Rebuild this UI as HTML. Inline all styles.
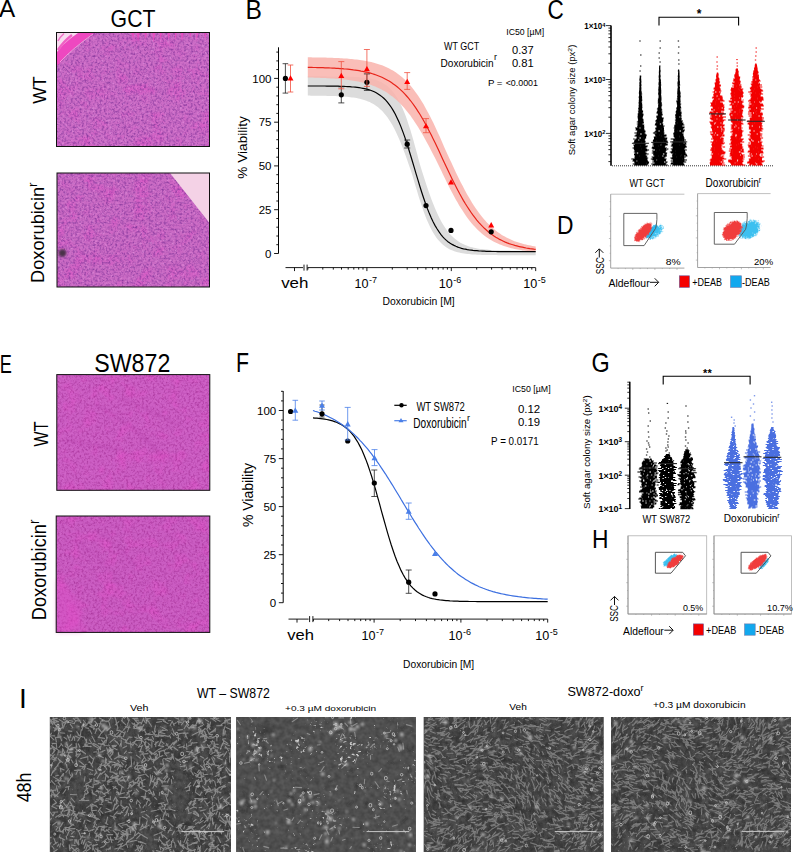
<!DOCTYPE html>
<html><head><meta charset="utf-8"><style>
html,body{margin:0;padding:0;background:#fff;width:794px;height:852px;overflow:hidden}
svg{display:block;font-family:"Liberation Sans", sans-serif}
</style></head><body>
<svg width="794" height="852" viewBox="0 0 794 852">

<defs>
<filter id="hDark" x="0" y="0" width="1" height="1" color-interpolation-filters="sRGB">
 <feTurbulence type="fractalNoise" baseFrequency="0.8" numOctaves="2" seed="3"/>
 <feColorMatrix type="matrix" values="0 0 0 0 0.58  0 0 0 0 0.3  0 0 0 0 0.7  2.2 0 0 0 -1.1"/>
 <feComposite in2="SourceGraphic" operator="in"/>
</filter>
<filter id="hLight" x="0" y="0" width="1" height="1" color-interpolation-filters="sRGB">
 <feTurbulence type="fractalNoise" baseFrequency="0.6" numOctaves="2" seed="8"/>
 <feColorMatrix type="matrix" values="0 0 0 0 0.92  0 0 0 0 0.6  0 0 0 0 0.9  0 3 0 0 -1.6"/>
 <feComposite in2="SourceGraphic" operator="in"/>
</filter>
<filter id="hPink" x="0" y="0" width="1" height="1" color-interpolation-filters="sRGB">
 <feTurbulence type="fractalNoise" baseFrequency="0.05" numOctaves="3" seed="21"/>
 <feColorMatrix type="matrix" values="0 0 0 0 0.9  0 0 0 0 0.35  0 0 0 0 0.78  0 0 2.5 0 -1.2"/>
 <feComposite in2="SourceGraphic" operator="in"/>
</filter>
<filter id="micA" x="0" y="0" width="1" height="1" color-interpolation-filters="sRGB">
 <feTurbulence type="fractalNoise" baseFrequency="0.25" numOctaves="3" seed="5" result="n"/>
 <feColorMatrix in="n" type="matrix" values="0.22 0 0 0 0.22  0.22 0 0 0 0.22  0.22 0 0 0 0.22  0 0 0 0 1" result="g"/>
 <feTurbulence type="fractalNoise" baseFrequency="0.02" numOctaves="2" seed="77" result="lo"/>
 <feTurbulence type="fractalNoise" baseFrequency="0.5" numOctaves="2" seed="12" result="n2"/>
 <feComposite in="n2" in2="lo" operator="arithmetic" k1="0" k2="1" k3="0.9" k4="0" result="sum"/>
 <feColorMatrix in="sum" type="matrix" values="0 0 0 0 0.7  0 0 0 0 0.7  0 0 0 0 0.7  0 6 0 0 -3.45" result="sp"/>
 <feComposite in="sp" in2="g" operator="over" result="c"/>
 <feComposite in="c" in2="SourceGraphic" operator="in"/>
</filter>
<filter id="micB" x="0" y="0" width="1" height="1" color-interpolation-filters="sRGB">
 <feTurbulence type="fractalNoise" baseFrequency="0.2" numOctaves="2" seed="7" result="n"/>
 <feColorMatrix in="n" type="matrix" values="0.14 0 0 0 0.24  0.14 0 0 0 0.24  0.14 0 0 0 0.24  0 0 0 0 1" result="g"/>
 <feTurbulence type="fractalNoise" baseFrequency="0.03" numOctaves="2" seed="78" result="lo"/>
 <feTurbulence type="fractalNoise" baseFrequency="0.3" numOctaves="2" seed="3" result="n2"/>
 <feComposite in="n2" in2="lo" operator="arithmetic" k1="0" k2="1" k3="0.8" k4="0" result="sum"/>
 <feColorMatrix in="sum" type="matrix" values="0 0 0 0 0.78  0 0 0 0 0.78  0 0 0 0 0.78  0 7 0 0 -4.6" result="sp"/>
 <feComposite in="sp" in2="g" operator="over" result="c"/>
 <feComposite in="c" in2="SourceGraphic" operator="in"/>
</filter>
<filter id="micC" x="0" y="0" width="1" height="1" color-interpolation-filters="sRGB">
 <feTurbulence type="fractalNoise" baseFrequency="0.3 0.22" numOctaves="3" seed="15" result="n"/>
 <feColorMatrix in="n" type="matrix" values="0.16 0 0 0 0.21  0.16 0 0 0 0.21  0.16 0 0 0 0.21  0 0 0 0 1" result="g"/>
 <feTurbulence type="fractalNoise" baseFrequency="0.5" numOctaves="2" seed="19" result="n2"/>
 <feColorMatrix in="n2" type="matrix" values="0 0 0 0 0.62  0 0 0 0 0.62  0 0 0 0 0.62  0 6 0 0 -4.2" result="sp"/>
 <feComposite in="sp" in2="g" operator="over" result="c"/>
 <feComposite in="c" in2="SourceGraphic" operator="in"/>
</filter>
<filter id="blur04" x="0" y="0" width="1" height="1"><feGaussianBlur stdDeviation="0.8"/></filter>
<filter id="blur1" x="-50%" y="-50%" width="200%" height="200%"><feGaussianBlur stdDeviation="1.2"/></filter>
<filter id="blur2" x="-50%" y="-50%" width="200%" height="200%"><feGaussianBlur stdDeviation="2.5"/></filter>
</defs>

<text x="-1" y="16.6" font-size="24.7" text-anchor="start" fill="#000" textLength="16.2" lengthAdjust="spacingAndGlyphs">A</text>
<text x="110.6" y="27.2" font-size="24.77" text-anchor="start" fill="#000" textLength="44.9" lengthAdjust="spacingAndGlyphs">GCT</text>
<filter id="hd1" x="0" y="0" width="1" height="1" color-interpolation-filters="sRGB">
 <feTurbulence type="fractalNoise" baseFrequency="0.45" numOctaves="3" seed="3"/>
 <feColorMatrix type="matrix" values="0 0 0 0 0.5  0 0 0 0 0.2  0 0 0 0 0.6  1.8 0 0 0 -0.756"/>
 <feComposite in2="SourceGraphic" operator="in"/></filter>
<filter id="hl1" x="0" y="0" width="1" height="1" color-interpolation-filters="sRGB">
 <feTurbulence type="fractalNoise" baseFrequency="0.4" numOctaves="3" seed="6"/>
 <feColorMatrix type="matrix" values="0 0 0 0 0.92  0 0 0 0 0.62  0 0 0 0 0.9  0 1.5 0 0 -0.8250000000000001"/>
 <feComposite in2="SourceGraphic" operator="in"/></filter>
<filter id="hp1" x="0" y="0" width="1" height="1" color-interpolation-filters="sRGB">
 <feTurbulence type="fractalNoise" baseFrequency="0.06" numOctaves="3" seed="9"/>
 <feColorMatrix type="matrix" values="0 0 0 0 0.9  0 0 0 0 0.3  0 0 0 0 0.78  0 0 1.4 0 -0.7"/>
 <feComposite in2="SourceGraphic" operator="in"/></filter>
<rect x="56.5" y="32.5" width="153" height="114" fill="#cc6cc6"/>
<rect x="56.5" y="32.5" width="153" height="114" fill="#000" filter="url(#hp1)"/>
<rect x="56.5" y="32.5" width="153" height="114" fill="#000" filter="url(#hd1)"/>
<rect x="56.5" y="32.5" width="153" height="114" fill="#000" filter="url(#hl1)"/>
<rect x="56.5" y="32.5" width="153" height="114" fill="url(#gA)" filter="url(#hB)" opacity="0"/>
<path d="M57,33 L94,33 L86,39 L76,47 L67,55 L59,64 L57,65 Z" fill="#ee48c0"/>
<path d="M57,33 L78,33 L71,38 L63,45 L57,52 Z" fill="#f7dcef"/>
<path d="M58,50 Q63,42 72,35" stroke="#f060c4" stroke-width="2.4" fill="none"/>
<path d="M64,33.5 Q60,37 58,41" stroke="#f070c8" stroke-width="1.6" fill="none"/>
<path d="M60,62 Q72,49 93,34" stroke="#f6c8e8" stroke-width="0.7" fill="none" opacity="0.9"/>
<path d="M131.0,33 l3.4,0 l-1.1,5.5 z M136.6,33 l3.2,0 l-1.7,8.7 z M144.6,33 l2.2,0 l-1.3,6.5 z M152.5,33 l2.8,0 l-2.0,9.8 z M159.6,33 l2.3,0 l-1.4,6.9 z M167.5,33 l2.6,0 l-1.4,7.1 z M175.0,33 l1.6,0 l-1.6,8.2 z M181.0,33 l2.6,0 l-1.7,8.5 z M189.3,33 l2.0,0 l-1.1,5.3 z M196.3,33 l1.9,0 l-1.7,8.7 z M204.4,33 l2.1,0 l-1.4,7.1 z " fill="#ec4cc0" opacity="0.85"/>
<rect x="56.5" y="32.5" width="153" height="114" fill="none" stroke="#111" stroke-width="1"/>
<filter id="hd2" x="0" y="0" width="1" height="1" color-interpolation-filters="sRGB">
 <feTurbulence type="fractalNoise" baseFrequency="0.45" numOctaves="3" seed="6"/>
 <feColorMatrix type="matrix" values="0 0 0 0 0.5  0 0 0 0 0.2  0 0 0 0 0.6  1.8 0 0 0 -0.756"/>
 <feComposite in2="SourceGraphic" operator="in"/></filter>
<filter id="hl2" x="0" y="0" width="1" height="1" color-interpolation-filters="sRGB">
 <feTurbulence type="fractalNoise" baseFrequency="0.4" numOctaves="3" seed="11"/>
 <feColorMatrix type="matrix" values="0 0 0 0 0.92  0 0 0 0 0.62  0 0 0 0 0.9  0 1.5 0 0 -0.8250000000000001"/>
 <feComposite in2="SourceGraphic" operator="in"/></filter>
<filter id="hp2" x="0" y="0" width="1" height="1" color-interpolation-filters="sRGB">
 <feTurbulence type="fractalNoise" baseFrequency="0.06" numOctaves="3" seed="16"/>
 <feColorMatrix type="matrix" values="0 0 0 0 0.9  0 0 0 0 0.3  0 0 0 0 0.78  0 0 1.4 0 -0.7"/>
 <feComposite in2="SourceGraphic" operator="in"/></filter>
<rect x="57" y="173" width="152.5" height="114" fill="#ca6ac4"/>
<rect x="57" y="173" width="152.5" height="114" fill="#000" filter="url(#hp2)"/>
<rect x="57" y="173" width="152.5" height="114" fill="#000" filter="url(#hd2)"/>
<rect x="57" y="173" width="152.5" height="114" fill="#000" filter="url(#hl2)"/>
<path d="M170,173 L209.5,173 L209.5,223 Z" fill="#f4d2e6" filter="url(#blur05)"/>
<path d="M172,173 L209.5,173 L209.5,221" fill="none" stroke="#f8e8f0" stroke-width="0"/>
<circle cx="62.5" cy="253" r="3.8" fill="#4a3048" filter="url(#blur1)"/>
<rect x="57" y="173" width="152.5" height="114" fill="none" stroke="#111" stroke-width="1"/>
<text x="46.1" y="90.1" font-size="18.17" text-anchor="middle" fill="#000" textLength="27.5" lengthAdjust="spacingAndGlyphs" transform="rotate(-90 46.1 90.1)">WT</text>
<text x="43.9" y="282.9" font-size="17.9" text-anchor="start" fill="#000" textLength="100.3" lengthAdjust="spacingAndGlyphs" transform="rotate(-90 43.9 282.9)">Doxorubicin<tspan font-size="72%" dy="-0.5em">r</tspan></text>
<text x="245.5" y="19.2" font-size="27.2" text-anchor="start" fill="#000" textLength="16.4" lengthAdjust="spacingAndGlyphs">B</text>
<path d="M307.8,76.3 L309.4,76.3 L311.1,76.3 L312.7,76.3 L314.3,76.3 L316.0,76.3 L317.6,76.3 L319.2,76.3 L320.8,76.3 L322.5,76.3 L324.1,76.3 L325.7,76.3 L327.4,76.4 L329.0,76.4 L330.6,76.4 L332.2,76.4 L333.9,76.4 L335.5,76.4 L337.1,76.4 L338.7,76.4 L340.4,76.5 L342.0,76.5 L343.6,76.5 L345.3,76.6 L346.9,76.6 L348.5,76.6 L350.1,76.7 L351.8,76.8 L353.4,76.8 L355.0,76.9 L356.7,77.0 L358.3,77.1 L359.9,77.2 L361.5,77.4 L363.2,77.5 L364.8,77.7 L366.4,78.0 L368.0,78.2 L369.7,78.5 L371.3,78.8 L372.9,79.2 L374.6,79.6 L376.2,80.1 L377.8,80.7 L379.4,81.4 L381.1,82.1 L382.7,83.0 L384.3,83.9 L386.0,85.0 L387.6,86.3 L389.2,87.7 L390.8,89.4 L392.5,91.2 L394.1,93.2 L395.7,95.5 L397.3,98.1 L399.0,101.0 L400.6,104.1 L402.2,107.6 L403.9,111.4 L405.5,115.6 L407.1,120.1 L408.7,124.9 L410.4,130.0 L412.0,135.5 L413.6,141.1 L415.2,147.0 L416.9,153.1 L418.5,159.2 L420.1,165.1 L421.8,170.4 L423.4,175.5 L425.0,180.6 L426.6,185.6 L428.3,190.4 L429.9,195.1 L431.5,199.5 L433.2,203.7 L434.8,207.8 L436.4,211.5 L438.0,215.1 L439.7,218.4 L441.3,221.4 L442.9,224.2 L444.5,226.8 L446.2,229.2 L447.8,231.4 L449.4,233.4 L451.1,235.2 L452.7,236.8 L454.3,238.3 L455.9,239.6 L457.6,240.8 L459.2,241.9 L460.8,242.9 L462.5,243.7 L464.1,244.5 L465.7,245.2 L467.3,245.8 L469.0,246.4 L470.6,246.9 L472.2,247.3 L473.8,247.7 L475.5,248.1 L477.1,248.4 L478.7,248.7 L480.4,248.9 L482.0,249.1 L483.6,249.3 L485.2,249.5 L486.9,249.6 L488.5,249.8 L490.1,249.9 L491.8,250.0 L493.4,250.1 L495.0,250.2 L496.6,250.3 L498.3,250.3 L499.9,250.4 L501.5,250.5 L503.1,250.5 L504.8,250.5 L506.4,250.6 L508.0,250.6 L509.7,250.6 L511.3,250.7 L512.9,250.7 L514.5,250.7 L516.2,250.7 L517.8,250.7 L519.4,250.8 L521.1,250.8 L522.7,250.8 L524.3,250.8 L525.9,250.8 L527.6,250.8 L529.2,250.8 L530.8,250.8 L532.4,250.8 L534.1,250.8 L535.7,250.8 L535.7,255.2 L534.1,255.2 L532.4,255.2 L530.8,255.2 L529.2,255.2 L527.6,255.2 L525.9,255.2 L524.3,255.2 L522.7,255.2 L521.1,255.2 L519.4,255.2 L517.8,255.2 L516.2,255.2 L514.5,255.2 L512.9,255.2 L511.3,255.2 L509.7,255.2 L508.0,255.2 L506.4,255.2 L504.8,255.2 L503.1,255.2 L501.5,255.2 L499.9,255.2 L498.3,255.2 L496.6,255.1 L495.0,255.1 L493.4,255.1 L491.8,255.1 L490.1,255.1 L488.5,255.0 L486.9,255.0 L485.2,255.0 L483.6,254.9 L482.0,254.9 L480.4,254.8 L478.7,254.8 L477.1,254.7 L475.5,254.6 L473.8,254.5 L472.2,254.4 L470.6,254.3 L469.0,254.1 L467.3,253.9 L465.7,253.7 L464.1,253.5 L462.5,253.2 L460.8,252.9 L459.2,252.6 L457.6,252.2 L455.9,251.7 L454.3,251.2 L452.7,250.6 L451.1,249.9 L449.4,249.2 L447.8,248.3 L446.2,247.2 L444.5,246.1 L442.9,244.8 L441.3,243.3 L439.7,241.6 L438.0,239.8 L436.4,237.7 L434.8,235.3 L433.2,232.7 L431.5,229.8 L429.9,226.6 L428.3,223.1 L426.6,219.3 L425.0,215.2 L423.4,210.8 L421.8,206.1 L420.1,201.1 L418.5,195.9 L416.9,190.6 L415.2,185.0 L413.6,179.4 L412.0,174.0 L410.4,169.2 L408.7,164.5 L407.1,159.8 L405.5,155.3 L403.9,150.9 L402.2,146.6 L400.6,142.5 L399.0,138.7 L397.3,135.0 L395.7,131.6 L394.1,128.3 L392.5,125.3 L390.8,122.5 L389.2,119.9 L387.6,117.6 L386.0,115.4 L384.3,113.4 L382.7,111.6 L381.1,109.9 L379.4,108.4 L377.8,107.1 L376.2,105.9 L374.6,104.8 L372.9,103.8 L371.3,102.9 L369.7,102.1 L368.0,101.4 L366.4,100.8 L364.8,100.2 L363.2,99.7 L361.5,99.2 L359.9,98.8 L358.3,98.5 L356.7,98.1 L355.0,97.8 L353.4,97.6 L351.8,97.4 L350.1,97.2 L348.5,97.0 L346.9,96.8 L345.3,96.7 L343.6,96.6 L342.0,96.4 L340.4,96.3 L338.7,96.3 L337.1,96.2 L335.5,96.1 L333.9,96.0 L332.2,96.0 L330.6,95.9 L329.0,95.9 L327.4,95.9 L325.7,95.8 L324.1,95.8 L322.5,95.8 L320.8,95.7 L319.2,95.7 L317.6,95.7 L316.0,95.7 L314.3,95.7 L312.7,95.7 L311.1,95.7 L309.4,95.6 L307.8,95.6 Z" fill="#dcdcdc"/>
<path d="M307.8,57.3 L309.4,57.3 L311.1,57.3 L312.7,57.4 L314.3,57.4 L316.0,57.4 L317.6,57.4 L319.2,57.5 L320.8,57.5 L322.5,57.5 L324.1,57.6 L325.7,57.6 L327.4,57.7 L329.0,57.7 L330.6,57.8 L332.2,57.8 L333.9,57.9 L335.5,58.0 L337.1,58.0 L338.7,58.1 L340.4,58.2 L342.0,58.3 L343.6,58.4 L345.3,58.5 L346.9,58.6 L348.5,58.8 L350.1,58.9 L351.8,59.1 L353.4,59.2 L355.0,59.4 L356.7,59.6 L358.3,59.8 L359.9,60.0 L361.5,60.2 L363.2,60.5 L364.8,60.8 L366.4,61.1 L368.0,61.4 L369.7,61.7 L371.3,62.1 L372.9,62.5 L374.6,62.9 L376.2,63.4 L377.8,63.9 L379.4,64.4 L381.1,65.0 L382.7,65.6 L384.3,66.2 L386.0,66.9 L387.6,67.7 L389.2,68.5 L390.8,69.4 L392.5,70.3 L394.1,71.3 L395.7,72.3 L397.3,73.5 L399.0,74.7 L400.6,76.0 L402.2,77.3 L403.9,78.8 L405.5,80.3 L407.1,82.0 L408.7,83.7 L410.4,85.5 L412.0,87.5 L413.6,89.5 L415.2,91.7 L416.9,93.9 L418.5,96.3 L420.1,98.8 L421.8,101.4 L423.4,104.1 L425.0,106.9 L426.6,109.9 L428.3,112.9 L429.9,116.0 L431.5,119.3 L433.2,122.6 L434.8,126.0 L436.4,129.5 L438.0,133.0 L439.7,136.6 L441.3,140.3 L442.9,144.0 L444.5,147.7 L446.2,151.4 L447.8,155.1 L449.4,158.6 L451.1,162.1 L452.7,165.6 L454.3,169.1 L455.9,172.5 L457.6,175.9 L459.2,179.2 L460.8,182.4 L462.5,185.6 L464.1,188.7 L465.7,191.8 L467.3,194.7 L469.0,197.5 L470.6,200.3 L472.2,202.9 L473.8,205.5 L475.5,208.0 L477.1,210.3 L478.7,212.6 L480.4,214.7 L482.0,216.8 L483.6,218.8 L485.2,220.6 L486.9,222.4 L488.5,224.1 L490.1,225.7 L491.8,227.2 L493.4,228.6 L495.0,230.0 L496.6,231.3 L498.3,232.5 L499.9,233.6 L501.5,234.7 L503.1,235.7 L504.8,236.6 L506.4,237.5 L508.0,238.3 L509.7,239.1 L511.3,239.8 L512.9,240.5 L514.5,241.2 L516.2,241.8 L517.8,242.3 L519.4,242.8 L521.1,243.3 L522.7,243.8 L524.3,244.2 L525.9,244.6 L527.6,245.0 L529.2,245.3 L530.8,245.6 L532.4,245.9 L534.1,246.2 L535.7,246.5 L535.7,251.8 L534.1,251.7 L532.4,251.5 L530.8,251.4 L529.2,251.2 L527.6,251.0 L525.9,250.8 L524.3,250.6 L522.7,250.4 L521.1,250.1 L519.4,249.8 L517.8,249.6 L516.2,249.2 L514.5,248.9 L512.9,248.6 L511.3,248.2 L509.7,247.7 L508.0,247.3 L506.4,246.8 L504.8,246.3 L503.1,245.7 L501.5,245.1 L499.9,244.5 L498.3,243.8 L496.6,243.1 L495.0,242.3 L493.4,241.4 L491.8,240.5 L490.1,239.6 L488.5,238.6 L486.9,237.5 L485.2,236.3 L483.6,235.0 L482.0,233.7 L480.4,232.3 L478.7,230.8 L477.1,229.2 L475.5,227.6 L473.8,225.8 L472.2,223.9 L470.6,222.0 L469.0,219.9 L467.3,217.7 L465.7,215.5 L464.1,213.1 L462.5,210.6 L460.8,208.1 L459.2,205.4 L457.6,202.6 L455.9,199.8 L454.3,196.8 L452.7,193.8 L451.1,190.7 L449.4,187.5 L447.8,184.3 L446.2,181.0 L444.5,177.6 L442.9,174.2 L441.3,170.8 L439.7,167.4 L438.0,164.1 L436.4,160.8 L434.8,157.6 L433.2,154.4 L431.5,151.2 L429.9,148.1 L428.3,145.0 L426.6,142.0 L425.0,139.0 L423.4,136.1 L421.8,133.2 L420.1,130.5 L418.5,127.8 L416.9,125.2 L415.2,122.7 L413.6,120.2 L412.0,117.9 L410.4,115.6 L408.7,113.5 L407.1,111.4 L405.5,109.4 L403.9,107.5 L402.2,105.7 L400.6,104.0 L399.0,102.3 L397.3,100.8 L395.7,99.3 L394.1,97.9 L392.5,96.6 L390.8,95.4 L389.2,94.2 L387.6,93.1 L386.0,92.1 L384.3,91.1 L382.7,90.2 L381.1,89.3 L379.4,88.5 L377.8,87.7 L376.2,87.0 L374.6,86.3 L372.9,85.7 L371.3,85.1 L369.7,84.6 L368.0,84.1 L366.4,83.6 L364.8,83.1 L363.2,82.7 L361.5,82.3 L359.9,82.0 L358.3,81.6 L356.7,81.3 L355.0,81.0 L353.4,80.7 L351.8,80.5 L350.1,80.2 L348.5,80.0 L346.9,79.8 L345.3,79.6 L343.6,79.4 L342.0,79.2 L340.4,79.1 L338.7,78.9 L337.1,78.8 L335.5,78.7 L333.9,78.6 L332.2,78.5 L330.6,78.4 L329.0,78.3 L327.4,78.2 L325.7,78.1 L324.1,78.0 L322.5,77.9 L320.8,77.9 L319.2,77.8 L317.6,77.8 L316.0,77.7 L314.3,77.7 L312.7,77.6 L311.1,77.6 L309.4,77.5 L307.8,77.5 Z" fill="#f9b3ab" opacity="0.85"/>
<path d="M307.8,86 L309.7,86 L311.6,86 L313.5,86 L315.4,86 L317.3,86 L319.2,86 L321.1,86 L323,86 L324.9,86 L326.8,86.1 L328.7,86.1 L330.6,86.1 L332.5,86.1 L334.4,86.2 L336.3,86.2 L338.2,86.2 L340.1,86.3 L342,86.4 L343.9,86.4 L345.8,86.5 L347.7,86.6 L349.6,86.7 L351.5,86.9 L353.4,87 L355.3,87.2 L357.2,87.4 L359.1,87.7 L361,88 L362.9,88.3 L364.8,88.7 L366.7,89.2 L368.6,89.7 L370.5,90.3 L372.4,91 L374.3,91.8 L376.2,92.8 L378.1,93.9 L380,95.2 L381.9,96.6 L383.8,98.3 L385.7,100.2 L387.6,102.3 L389.5,104.8 L391.4,107.5 L393.3,110.6 L395.2,114 L397.1,117.9 L399,122.1 L400.9,126.6 L402.8,131.6 L404.7,136.9 L406.6,142.6 L408.5,148.5 L410.4,154.7 L412.3,161 L414.2,167.4 L416.1,173.8 L418,180.2 L419.9,186.5 L421.8,192.5 L423.7,198.3 L425.6,203.8 L427.5,208.9 L429.4,213.6 L431.3,218 L433.2,222 L435.1,225.6 L437,228.8 L438.9,231.7 L440.8,234.3 L442.6,236.6 L444.5,238.6 L446.4,240.4 L448.3,241.9 L450.2,243.3 L452.1,244.4 L454,245.4 L455.9,246.3 L457.8,247.1 L459.7,247.7 L461.6,248.3 L463.5,248.8 L465.4,249.2 L467.3,249.6 L469.2,249.9 L471.1,250.1 L473,250.4 L474.9,250.6 L476.8,250.7 L478.7,250.9 L480.6,251 L482.5,251.1 L484.4,251.2 L486.3,251.3 L488.2,251.3 L490.1,251.4 L492,251.5 L493.9,251.5 L495.8,251.5 L497.7,251.6 L499.6,251.6 L501.5,251.6 L503.4,251.6 L505.3,251.7 L507.2,251.7 L509.1,251.7 L511,251.7 L512.9,251.7 L514.8,251.7 L516.7,251.7 L518.6,251.7 L520.5,251.7 L522.4,251.7 L524.3,251.7 L526.2,251.7 L528.1,251.7 L530,251.7 L531.9,251.7 L533.8,251.7 L535.7,251.7" stroke="#000" stroke-width="1.2" fill="none"/>
<path d="M307.8,67.4 L309.7,67.4 L311.6,67.4 L313.5,67.5 L315.4,67.5 L317.3,67.6 L319.2,67.6 L321.1,67.7 L323,67.7 L324.9,67.8 L326.8,67.9 L328.7,67.9 L330.6,68 L332.5,68.1 L334.4,68.2 L336.3,68.3 L338.2,68.4 L340.1,68.6 L342,68.7 L343.9,68.9 L345.8,69 L347.7,69.2 L349.6,69.4 L351.5,69.6 L353.4,69.9 L355.3,70.1 L357.2,70.4 L359.1,70.7 L361,71.1 L362.9,71.4 L364.8,71.8 L366.7,72.3 L368.6,72.7 L370.5,73.2 L372.4,73.8 L374.3,74.4 L376.2,75 L378.1,75.7 L380,76.5 L381.9,77.3 L383.8,78.2 L385.7,79.2 L387.6,80.2 L389.5,81.3 L391.4,82.6 L393.3,83.9 L395.2,85.3 L397.1,86.8 L399,88.4 L400.9,90.1 L402.8,91.9 L404.7,93.9 L406.6,96 L408.5,98.2 L410.4,100.5 L412.3,103 L414.2,105.6 L416.1,108.4 L418,111.3 L419.9,114.3 L421.8,117.5 L423.7,120.8 L425.6,124.2 L427.5,127.7 L429.4,131.4 L431.3,135.1 L433.2,138.9 L435.1,142.8 L437,146.8 L438.9,150.8 L440.8,154.9 L442.6,158.9 L444.5,163 L446.4,167 L448.3,171.1 L450.2,175 L452.1,179 L454,182.8 L455.9,186.6 L457.8,190.2 L459.7,193.8 L461.6,197.2 L463.5,200.6 L465.4,203.8 L467.3,206.8 L469.2,209.7 L471.1,212.5 L473,215.2 L474.9,217.7 L476.8,220.1 L478.7,222.3 L480.6,224.4 L482.5,226.4 L484.4,228.3 L486.3,230 L488.2,231.7 L490.1,233.2 L492,234.6 L493.9,235.9 L495.8,237.2 L497.7,238.3 L499.6,239.4 L501.5,240.3 L503.4,241.2 L505.3,242.1 L507.2,242.9 L509.1,243.6 L511,244.2 L512.9,244.8 L514.8,245.4 L516.7,245.9 L518.6,246.4 L520.5,246.8 L522.4,247.2 L524.3,247.6 L526.2,248 L528.1,248.3 L530,248.6 L531.9,248.8 L533.8,249.1 L535.7,249.3" stroke="#e8241a" stroke-width="1.2" fill="none"/>
<path d="M278.5,47.3 V253.5" stroke="#000" stroke-width="1" fill="none"/>
<path d="M274.1,253.5 H278.5 M276.3,244.7 H278.5 M276.3,236 H278.5 M276.3,227.2 H278.5 M276.3,218.5 H278.5 M274.1,209.7 H278.5 M276.3,201 H278.5 M276.3,192.2 H278.5 M276.3,183.5 H278.5 M276.3,174.7 H278.5 M274.1,165.9 H278.5 M276.3,157.2 H278.5 M276.3,148.4 H278.5 M276.3,139.7 H278.5 M276.3,130.9 H278.5 M274.1,122.2 H278.5 M276.3,113.4 H278.5 M276.3,104.7 H278.5 M276.3,95.9 H278.5 M276.3,87.2 H278.5 M274.1,78.4 H278.5 M276.3,69.6 H278.5 M276.3,60.9 H278.5 M276.3,52.1 H278.5 " stroke="#000" stroke-width="0.9" fill="none"/>
<text x="271.5" y="257.7" font-size="11.5" text-anchor="end" fill="#000">0</text>
<text x="271.5" y="213.9" font-size="11.5" text-anchor="end" fill="#000">25</text>
<text x="271.5" y="170.1" font-size="11.5" text-anchor="end" fill="#000">50</text>
<text x="271.5" y="126.4" font-size="11.5" text-anchor="end" fill="#000">75</text>
<text x="271.5" y="82.6" font-size="11.5" text-anchor="end" fill="#000">100</text>
<path d="M285.5,267.6 H303 M307.6,267.6 H535.6 M294.5,267.6 v3.5 M304,264.6 v6 M307.1,264.6 v6 M307.9,267.6 v2 M322.8,267.6 v2 M333.3,267.6 v2 M341.5,267.6 v2 M348.2,267.6 v2 M353.8,267.6 v2 M358.7,267.6 v2 M363,267.6 v2 M366.9,267.6 v3.5 M392.3,267.6 v2 M407.2,267.6 v2 M417.7,267.6 v2 M425.9,267.6 v2 M432.6,267.6 v2 M438.2,267.6 v2 M443.1,267.6 v2 M447.4,267.6 v2 M451.3,267.6 v3.5 M476.7,267.6 v2 M491.6,267.6 v2 M502.1,267.6 v2 M510.3,267.6 v2 M517,267.6 v2 M522.6,267.6 v2 M527.5,267.6 v2 M531.8,267.6 v2 M535.7,267.6 v3.5 " stroke="#000" stroke-width="0.9" fill="none"/>
<path d="M285.4,63.7 V93.1 M282.6,63.7 H288.2 M282.6,93.1 H288.2" stroke="#222" stroke-width="0.8" fill="none"/>
<circle cx="285.4" cy="78.4" r="2.6" fill="#000"/>
<path d="M290.5,65 V92 M287.7,65 H293.3 M287.7,92 H293.3" stroke="#f05040" stroke-width="0.8" fill="none"/>
<path d="M290.5,75.2 L293.5,80.5 L287.5,80.5 Z" fill="#f00"/>
<path d="M341.3,86.8 V102.9 M338.3,86.8 H344.3 M338.3,102.9 H344.3" stroke="#222" stroke-width="0.8" fill="none"/>
<circle cx="341.3" cy="94.8" r="2.6" fill="#000"/>
<path d="M341.3,61.6 V88.8 M338.3,61.6 H344.3 M338.3,88.8 H344.3" stroke="#f05040" stroke-width="0.8" fill="none"/>
<path d="M341.3,72.7 L344.3,78 L338.3,78 Z" fill="#f00"/>
<path d="M366.9,73.9 V90.4 M363.9,73.9 H369.9 M363.9,90.4 H369.9" stroke="#222" stroke-width="0.8" fill="none"/>
<circle cx="366.9" cy="82.3" r="2.6" fill="#000"/>
<path d="M366.9,49.5 V86.4 M363.9,49.5 H369.9 M363.9,86.4 H369.9" stroke="#f05040" stroke-width="0.8" fill="none"/>
<path d="M366.9,66 L369.9,71.3 L363.9,71.3 Z" fill="#f00"/>
<path d="M407.2,72.6 V89.4 M404.2,72.6 H410.2 M404.2,89.4 H410.2" stroke="#f05040" stroke-width="0.8" fill="none"/>
<path d="M407.2,78.7 L410.2,84 L404.2,84 Z" fill="#f00"/>
<path d="M407.2,140 V148 M404.2,140 H410.2 M404.2,148 H410.2" stroke="#222" stroke-width="0.8" fill="none"/>
<circle cx="407.2" cy="144.2" r="2.6" fill="#000"/>
<path d="M426,118.6 V132.7 M423,118.6 H429 M423,132.7 H429" stroke="#f05040" stroke-width="0.8" fill="none"/>
<path d="M426,123 L429,128.3 L423,128.3 Z" fill="#f00"/>
<circle cx="426" cy="205.6" r="2.6" fill="#000"/>
<path d="M451,179.2 L454,184.5 L448,184.5 Z" fill="#f00"/>
<circle cx="451" cy="230.4" r="2.6" fill="#000"/>
<path d="M491.2,222.1 L494.2,227.4 L488.2,227.4 Z" fill="#f00"/>
<circle cx="491.2" cy="231.8" r="2.6" fill="#000"/>
<text x="294.8" y="288.1" font-size="14.85" text-anchor="middle" fill="#000" textLength="27.3" lengthAdjust="spacingAndGlyphs">veh</text>
<text x="354.4" y="288.4" font-size="12.6" text-anchor="start" fill="#000">10</text>
<text x="368.9" y="283" font-size="9" text-anchor="start" fill="#000">-7</text>
<text x="438.8" y="288.4" font-size="12.6" text-anchor="start" fill="#000">10</text>
<text x="453.3" y="283" font-size="9" text-anchor="start" fill="#000">-6</text>
<text x="523.2" y="288.4" font-size="12.6" text-anchor="start" fill="#000">10</text>
<text x="537.7" y="283" font-size="9" text-anchor="start" fill="#000">-5</text>
<text x="382.6" y="304.5" font-size="10.8" text-anchor="start" fill="#000" textLength="72.1" lengthAdjust="spacingAndGlyphs">Doxorubicin [M]</text>
<text x="506.3" y="34.5" font-size="8.6" text-anchor="start" fill="#000" textLength="37.9" lengthAdjust="spacingAndGlyphs">IC50 [&#181;M]</text>
<text x="444.1" y="50.2" font-size="11.83" text-anchor="start" fill="#000" textLength="35.1" lengthAdjust="spacingAndGlyphs">WT GCT</text>
<text x="512" y="54.1" font-size="10.5" text-anchor="start" fill="#000" textLength="21.6" lengthAdjust="spacingAndGlyphs">0.37</text>
<text x="440.5" y="67" font-size="11.67" text-anchor="start" fill="#000" textLength="53.2" lengthAdjust="spacingAndGlyphs">Doxorubicin</text>
<text x="494" y="59.5" font-size="9" text-anchor="start" fill="#000">r</text>
<text x="511.9" y="67.1" font-size="10.5" text-anchor="start" fill="#000" textLength="21.8" lengthAdjust="spacingAndGlyphs">0.81</text>
<text x="487.9" y="86.4" font-size="9.8" text-anchor="start" fill="#000" textLength="14.6" lengthAdjust="spacingAndGlyphs">P =</text>
<text x="505.7" y="85.7" font-size="9.8" text-anchor="start" fill="#000" textLength="32.3" lengthAdjust="spacingAndGlyphs">&lt;0.0001</text>
<text x="247" y="147.4" font-size="13.63" text-anchor="middle" fill="#000" textLength="62.6" lengthAdjust="spacingAndGlyphs" transform="rotate(-90 247 147.4)">% Viability</text>
<text x="547.6" y="19.2" font-size="27.58" text-anchor="start" fill="#000" textLength="16.3" lengthAdjust="spacingAndGlyphs">C</text>
<path d="M659,25.6 V17.2 H738.6 V25.6" stroke="#000" stroke-width="1.1" fill="none"/>
<text x="699" y="18" font-size="12" text-anchor="middle" fill="#000" font-weight="bold">*</text>
<path d="M611,25.4 V165.8" stroke="#000" stroke-width="1.6" fill="none"/>
<path d="M608.4,161.6 H611 M608.4,154.8 H611 M608.4,149.6 H611 M608.4,145.4 H611 M608.4,141.7 H611 M608.4,138.6 H611 M608.4,135.9 H611 M606,133.4 H611 M608.4,117.2 H611 M608.4,107.7 H611 M608.4,100.9 H611 M608.4,95.7 H611 M608.4,91.5 H611 M608.4,87.8 H611 M608.4,84.7 H611 M608.4,82 H611 M606,79.5 H611 M608.4,63.3 H611 M608.4,53.8 H611 M608.4,47 H611 M608.4,41.8 H611 M608.4,37.6 H611 M608.4,33.9 H611 M608.4,30.8 H611 M608.4,28.1 H611 M606,25.6 H611 " stroke="#000" stroke-width="0.8" fill="none"/>
<text x="605.4" y="29.4" font-size="8.6" text-anchor="end" fill="#000" font-weight="bold" textLength="21.2" lengthAdjust="spacingAndGlyphs">1&#215;10<tspan font-size="72%" dy="-0.45em">4</tspan></text>
<text x="605.4" y="83.3" font-size="8.6" text-anchor="end" fill="#000" font-weight="bold" textLength="21.2" lengthAdjust="spacingAndGlyphs">1&#215;10<tspan font-size="72%" dy="-0.45em">3</tspan></text>
<text x="605.4" y="137.2" font-size="8.6" text-anchor="end" fill="#000" font-weight="bold" textLength="21.2" lengthAdjust="spacingAndGlyphs">1&#215;10<tspan font-size="72%" dy="-0.45em">2</tspan></text>
<text x="574.8" y="100" font-size="8.15" text-anchor="middle" fill="#000" textLength="110.7" lengthAdjust="spacingAndGlyphs" transform="rotate(-90 574.8 100)">Soft agar colony size (px<tspan font-size="72%" dy="-0.5em">2</tspan><tspan dy="0.36em">)</tspan></text>
<path d="M612,165.8 H773.5" stroke="#333" stroke-width="1" stroke-dasharray="1,1" fill="none"/>
<path d="M639.3,41 h1.4 M640.1,55 h1.4 M640,66 h1.4 M639.4,71 h1.4 " stroke="#000" stroke-width="1" fill="none"/>
<path d="M639.7,76 h1.5 M639.7,77 h1.6 M639.6,78 h1.4 M639.4,79 h1.9 M639.3,80 h1.9 M639.6,81 h1.8 M639.7,82 h1.7 M639.1,83 h2.2 M639.6,84 h1.6 M639.2,85 h2.4 M639.4,86 h1.9 M639.4,87 h1.8 M639.3,88 h2.2 M639.2,89 h2.1 M639.3,90 h2.1 M639,91 h2.3 M639,92 h2.9 M638.8,93 h2.8 M639,94 h3.2 M639.1,95 h2.4 M639,96 h3.1 M638.6,97 h3.4 M638.8,98 h3.4 M639,99 h2.9 M638.8,100 h3.6 M638.8,101 h3.3 M638.8,102 h2.8 M638.4,103 h3.8 M638.9,104 h3.1 M638.6,105 h3.9 M638.6,106 h3.5 M638.7,107 h3.8 M638.4,108 h3.9 M638,109 h4 M638.8,110 h3.5 M637.9,111 h2.9 M640.8,111 h2.3 M638.4,112 h4.7 M638.2,113 h4.3 M637.6,114 h3.1 M640.7,114 h2.7 M637.9,115 h4.6 M642.5,115 h1.1 M637.6,116 h1.7 M639.3,116 h3.5 M642.8,116 h0.3 M637.6,117 h3.4 M641,117 h1.9 M637.7,118 h4.8 M637.9,119 h4.5 M642.4,119 h0.8 M638.1,120 h3.9 M641.9,120 h1.6 M643.5,120 h0.2 M637.8,121 h2.7 M640.5,121 h2.1 M642.6,121 h0.7 M636.8,122 h2.6 M639.4,122 h1.6 M641,122 h2.8 M638.1,123 h3.3 M641.4,123 h2.5 M636.8,124 h2 M638.8,124 h2.1 M640.9,124 h1.7 M637.9,125 h4.3 M642.2,125 h2.1 M637,126 h2.6 M639.6,126 h1.7 M641.3,126 h2.7 M637.4,127 h2.6 M640,127 h4.1 M644.1,127 h0.4 M635.1,128 h4.4 M640.5,128 h2.1 M642.6,128 h1.5 M636,129 h2.7 M638.7,129 h3.9 M642.6,129 h1.7 M635.5,130 h3.2 M638.7,130 h4.6 M643.3,130 h1.3 M637.2,131 h4.2 M641.4,131 h2.2 M643.6,131 h1.9 M636.8,132 h3.9 M640.7,132 h4.8 M634.4,133 h2.1 M636.4,133 h2.2 M638.7,133 h3.6 M642.3,133 h2.4 M636.6,134 h3.6 M641.7,134 h2 M643.7,134 h1.9 M645.5,134 h0.2 M635.5,135 h2.7 M638.2,135 h4.2 M642.4,135 h3.5 M645.9,135 h0.9 M634.5,136 h4.7 M639.3,136 h2.5 M641.7,136 h4.4 M646.1,136 h0.4 M636.6,137 h1.6 M638.3,137 h5 M643.2,137 h1.9 M645.1,137 h0.9 M636.6,138 h2.8 M640.9,138 h2.5 M643.5,138 h2.7 M633.2,139 h1.5 M635.5,139 h3.6 M639,139 h2.6 M641.6,139 h3.7 M634.6,140 h3.7 M639.3,140 h3.9 M643.2,140 h1.6 M634.1,141 h1.8 M635.9,141 h4.9 M640.8,141 h3.8 M644.6,141 h0.8 M634.1,142 h2.6 M636.7,142 h4.6 M641.4,142 h2.7 M644,142 h1.7 M633.2,143 h2.4 M635.6,143 h3.4 M639,143 h1.8 M640.8,143 h2.5 M643.3,143 h1.6 M634.8,144 h4.3 M639.1,144 h4.8 M643.9,144 h2.2 M633.3,145 h3.3 M636.6,145 h2.5 M639.1,145 h2 M641.1,145 h1.6 M642.7,145 h2.6 M633.9,146 h4.1 M638,146 h2.1 M640.2,146 h2.1 M642.2,146 h3.8 M646.1,146 h1.7 M633.9,147 h4.5 M638.4,147 h2.9 M641.3,147 h2.4 M643.7,147 h3.5 M632.5,148 h2.7 M635.2,148 h1.9 M637.1,148 h4.4 M641.5,148 h2.9 M644.4,148 h1.4 M633.8,149 h3.8 M637.5,149 h3.9 M641.5,149 h2.3 M643.8,149 h3.2 M647,149 h0.1 M634.1,150 h2.5 M636.5,150 h1.7 M638.2,150 h3.3 M641.5,150 h2.1 M643.5,150 h4.6 M648.1,150 h1 M634.7,151 h4.1 M638.8,151 h4.5 M643.3,151 h4 M633.8,152 h2.3 M636.1,152 h4.2 M640.2,152 h3.9 M644.1,152 h1.4 M635.2,153 h1.6 M638.2,153 h3.7 M641.9,153 h4.7 M634,154 h3.8 M637.9,154 h3.1 M640.9,154 h4.9 M645.8,154 h2.9 M634,155 h1.9 M635.9,155 h4.9 M640.8,155 h3.6 M644.4,155 h1.4 M635,156 h1.5 M636.5,156 h3 M639.6,156 h3.7 M643.3,156 h4 M634.3,157 h2.5 M636.7,157 h2.4 M639.1,157 h4.3 M643.4,157 h3.4 M634.7,158 h4.2 M638.9,158 h2.8 M641.7,158 h1.9 M643.6,158 h1.9 M645.5,158 h2.7 M631.3,159 h3.3 M634.6,159 h2.6 M637.2,159 h2.7 M639.9,159 h1.5 M641.4,159 h3.1 M644.5,159 h2.8 M633.1,160 h3.8 M636.9,160 h2.2 M639.1,160 h2.5 M641.5,160 h4.6 M646.1,160 h1.5 M632.4,161 h4.1 M637.3,161 h2.1 M639.4,161 h3.4 M642.8,161 h1.5 M644.3,161 h3 M647.3,161 h0.6 M634.2,162 h4.1 M638.3,162 h4.1 M642.4,162 h3.8 M646.2,162 h2.9 M634.5,163 h4.2 M638.8,163 h4.2 M642.9,163 h3.6 M646.6,163 h2.3 M632.7,164 h2 M634.8,164 h3.2 M638,164 h1.7 M639.6,164 h4.1 M643.7,164 h2.7 M646.5,164 h1.6 M648.1,164 h0.3 M634.3,165 h3.6 M638,165 h2.2 M640.2,165 h2.4 M642.6,165 h4.4 M647,165 h0.5 " stroke="#000" stroke-width="1.05" fill="none"/>
<path d="M631.9,143.3 h17" stroke="#2a2a2a" stroke-width="1.1" fill="none"/>
<path d="M659.5,41 h1.4 M659.5,48 h1.4 M658.5,53 h1.4 M658.5,58 h1.4 M659.4,62 h1.4 " stroke="#000" stroke-width="1" fill="none"/>
<path d="M659.1,66 h1.4 M659.1,67 h1.2 M659,68 h1.4 M659,69 h1.3 M659.1,70 h1.4 M658.9,71 h1.8 M658.9,72 h1.6 M658.8,73 h1.5 M659,74 h1.4 M658.8,75 h1.6 M658.7,76 h2.1 M658.6,77 h1.9 M658.8,78 h1.6 M658.8,79 h1.7 M658.6,80 h2.4 M659,81 h1.8 M658.6,82 h2.4 M658.6,83 h2.5 M658.4,84 h2.5 M658.6,85 h2.7 M658.8,86 h2.1 M658.4,87 h2.6 M658.5,88 h2.5 M658.3,89 h2.9 M658.2,90 h2.9 M658.4,91 h3 M658.4,92 h2.7 M658.2,93 h3.2 M658.1,94 h2.9 M658.4,95 h2.8 M658.6,96 h2.7 M658.5,97 h2.9 M658.5,98 h3 M657.9,99 h3.6 M658.1,100 h3.4 M657.7,101 h3.6 M658.1,102 h3.2 M657.7,103 h4.3 M658.4,104 h3.2 M658,105 h4.2 M658.2,106 h3.5 M658.1,107 h3.4 M657.6,108 h3.8 M656.9,109 h4.9 M657.7,110 h4.6 M657.2,111 h4.4 M656.8,112 h4 M660.8,112 h1.7 M656.4,113 h4.8 M661.3,113 h0.7 M657.6,114 h2 M659.6,114 h3 M657.9,115 h4.8 M656.5,116 h2.7 M659.2,116 h2.5 M656.2,117 h3.1 M659.2,117 h2.7 M656.7,118 h4 M660.7,118 h2.3 M663,118 h0.7 M657,119 h1.9 M658.9,119 h2.9 M661.8,119 h1.7 M656,120 h1.6 M657.6,120 h2 M659.6,120 h1.6 M661.2,120 h1.8 M663,120 h0.1 M655.1,121 h3.1 M658.2,121 h3.6 M661.7,121 h1.7 M656.2,122 h3.3 M659.6,122 h1.6 M661.2,122 h1.7 M655.6,123 h2.1 M657.8,123 h2.3 M660,123 h2.4 M655.1,124 h4.7 M661.1,124 h2.2 M654.8,125 h3 M657.8,125 h2.1 M659.9,125 h3.1 M656.3,126 h3.6 M659.9,126 h4.7 M656.5,127 h1.9 M658.4,127 h4.4 M662.8,127 h0.8 M655.4,128 h2.2 M657.6,128 h1.8 M659.4,128 h2.8 M662.2,128 h1.8 M663.9,128 h0 M655.2,129 h4.1 M659.3,129 h1.9 M661.3,129 h1.8 M663,129 h1 M656.1,130 h4.2 M660.3,130 h3.2 M663.5,130 h0.4 M655.2,131 h3.2 M659.8,131 h4.5 M654.4,132 h3.2 M657.6,132 h3 M660.6,132 h3.2 M652.9,133 h2.7 M656.2,133 h3 M659.2,133 h1.8 M661,133 h3.6 M654.5,134 h2.3 M656.8,134 h3.9 M660.7,134 h3.2 M655.1,135 h4.1 M659.3,135 h3.3 M662.6,135 h2.4 M665,135 h1.5 M655.4,136 h4.2 M659.6,136 h2 M661.7,136 h1.6 M663.3,136 h3.2 M653.7,137 h2.9 M656.7,137 h4.8 M661.4,137 h3.2 M665.4,137 h0.2 M654,138 h2.3 M656.3,138 h2.9 M659.2,138 h4.9 M664.1,138 h1.5 M665.7,138 h1.6 M654,139 h1.6 M655.6,139 h4.1 M659.6,139 h4.7 M664.3,139 h1.9 M666.1,139 h1 M653,140 h2.2 M655.2,140 h2 M657.2,140 h3 M660.2,140 h3.5 M663.7,140 h2.2 M666.4,140 h0.5 M652.8,141 h4.1 M657,141 h3.9 M660.8,141 h2.4 M663.3,141 h1.6 M664.9,141 h2.6 M653.2,142 h2.9 M656.1,142 h4.3 M660.4,142 h2 M662.4,142 h2.8 M665.2,142 h2.5 M667.7,142 h0.1 M652.4,143 h3 M655.4,143 h2.6 M658,143 h3.2 M661.2,143 h4.7 M665.9,143 h0.4 M653.4,144 h3.8 M657.1,144 h4.4 M661.6,144 h3.7 M665.3,144 h2.5 M652.5,145 h2.6 M655.1,145 h3.1 M658.2,145 h2.5 M661.2,145 h4.4 M665.5,145 h2.1 M653.8,146 h2.1 M655.8,146 h2.5 M658.4,146 h4.7 M663.1,146 h2.3 M652.1,147 h2.3 M654.4,147 h3.9 M658.3,147 h2.7 M661,147 h2.3 M663.3,147 h1.6 M651.6,148 h4.6 M656.1,148 h3.3 M659.4,148 h4.8 M664.2,148 h2.7 M652.5,149 h4.9 M657.4,149 h3.7 M661.1,149 h2.8 M663.9,149 h2.1 M666.8,149 h1.6 M655,150 h1.9 M656.9,150 h2.7 M659.7,150 h4.7 M664.4,150 h2.8 M651.9,151 h4.4 M656.4,151 h2.5 M658.9,151 h2 M660.9,151 h4.7 M665.6,151 h0.3 M653.2,152 h2.4 M655.6,152 h2.4 M658,152 h3.6 M661.6,152 h2.8 M664.4,152 h1.3 M651.8,153 h4.2 M656,153 h3.3 M659.3,153 h2.7 M662,153 h3.6 M665.6,153 h1.6 M653.3,154 h2.6 M655.9,154 h3.6 M659.5,154 h3.4 M664.4,154 h2.4 M653.1,155 h1.7 M654.8,155 h5 M659.8,155 h4.8 M664.6,155 h1.9 M654.2,156 h1.5 M655.7,156 h2.7 M658.5,156 h2 M660.5,156 h1.8 M663.5,156 h1.7 M665.2,156 h1.8 M651.6,157 h3.3 M654.9,157 h2.2 M657.1,157 h4.4 M661.4,157 h3.9 M665.3,157 h0.3 M652.6,158 h1.9 M654.5,158 h1.7 M656.2,158 h2.8 M659,158 h4.5 M663.5,158 h1 M650.8,159 h1.9 M652.7,159 h3.7 M656.4,159 h2.8 M659.2,159 h3 M662.2,159 h2.9 M665.1,159 h1.5 M652.3,160 h4.2 M657.1,160 h4 M661.1,160 h3.8 M664.9,160 h1 M653.8,161 h3.8 M657.6,161 h4.1 M661.7,161 h3.2 M664.9,161 h1.2 M652.3,162 h1.6 M653.9,162 h1.9 M655.8,162 h3.4 M659.2,162 h4.8 M665.5,162 h2.1 M654.5,163 h4 M658.5,163 h4.7 M663.1,163 h2.9 M666.1,163 h0.7 M651.3,164 h4 M655.3,164 h4.7 M660,164 h2.7 M662.6,164 h2.9 M665.5,164 h0.3 M652.7,165 h4.3 M657,165 h3.1 M660.1,165 h3.2 M663.2,165 h2.2 M665.4,165 h2.2 M667.6,165 h0.2 " stroke="#000" stroke-width="1.05" fill="none"/>
<path d="M651.2,142.4 h17" stroke="#2a2a2a" stroke-width="1.1" fill="none"/>
<path d="M677.7,41 h1.4 M678.1,47 h1.4 M677.8,53 h1.4 M678.1,60 h1.4 M678.2,64 h1.4 " stroke="#000" stroke-width="1" fill="none"/>
<path d="M678,70 h1.2 M677.8,71 h1.6 M678.2,72 h1.3 M678,73 h1.5 M678,74 h1.6 M678,75 h1.5 M677.7,76 h2 M677.8,77 h1.9 M678,78 h1.6 M677.6,79 h2 M678,80 h1.6 M677.8,81 h2 M677.6,82 h2.4 M677.4,83 h2.5 M677.5,84 h2.4 M677.6,85 h2.6 M677.5,86 h2 M677.9,87 h2.1 M677.6,88 h2.4 M677.5,89 h2.3 M677.4,90 h2.5 M677.4,91 h2.7 M677.2,92 h3.2 M677.3,93 h3.3 M677.1,94 h3.5 M677.6,95 h2.7 M677.1,96 h3.7 M677.2,97 h3.4 M677.4,98 h3 M676.8,99 h3.6 M677.5,100 h3 M676.2,101 h4.3 M676.5,102 h4.2 M676.8,103 h3.4 M676.8,104 h4.4 M677.1,105 h3.4 M677.1,106 h3.5 M677,107 h4 M676.1,108 h5 M681.1,108 h0.2 M676.5,109 h3.8 M676.5,110 h4.7 M676,111 h4.5 M675.5,112 h4.9 M680.3,112 h1.2 M676.1,113 h3.6 M679.6,113 h2 M675.7,114 h4 M679.7,114 h1.8 M675,115 h3 M677.9,115 h1.6 M679.5,115 h1.6 M675.4,116 h3.9 M679.2,116 h2.7 M675.4,117 h3.9 M679.9,117 h0.8 M675.3,118 h2.6 M677.9,118 h3.6 M681.5,118 h0.2 M675.9,119 h4.1 M680,119 h1.7 M674.9,120 h3 M677.9,120 h1.9 M679.8,120 h1.7 M675.6,121 h2.1 M677.7,121 h3.8 M681.5,121 h1.5 M675.4,122 h2.2 M677.6,122 h4.4 M682,122 h0.1 M675,123 h2.7 M677.8,123 h2.5 M680.3,123 h2.4 M682.7,123 h0.7 M675.5,124 h2 M677.5,124 h4.8 M682.3,124 h1.1 M674.6,125 h2.3 M676.9,125 h4.4 M681.3,125 h3.1 M674.1,126 h1.7 M675.8,126 h2.5 M678.3,126 h1.7 M680,126 h2.3 M674.4,127 h3.5 M677.9,127 h4.1 M682,127 h2.5 M684.5,127 h0.1 M673.6,128 h2.7 M676.3,128 h4.5 M680.8,128 h3.5 M674.5,129 h4.4 M678.9,129 h4.1 M674,130 h1.5 M675.5,130 h4.5 M680,130 h2.4 M682.5,130 h2.4 M674.3,131 h1.5 M675.8,131 h1.9 M677.8,131 h1.7 M681,131 h1.8 M682.8,131 h1.5 M674.2,132 h3.6 M677.7,132 h2.2 M679.9,132 h1.9 M681.8,132 h2.1 M673.5,133 h2.8 M676.3,133 h4.2 M680.5,133 h1.9 M673.1,134 h3.2 M676.3,134 h3 M679.3,134 h3.1 M682.4,134 h1.3 M673.8,135 h3 M676.8,135 h4.8 M681.6,135 h1.6 M673.4,136 h1.9 M675.3,136 h3.8 M679.2,136 h4.3 M683.4,136 h0.4 M673.9,137 h1.5 M675.4,137 h4.2 M679.7,137 h1.8 M681.5,137 h2.4 M674.7,138 h1.9 M676.6,138 h3.9 M680.4,138 h4.1 M670.7,139 h4.2 M674.9,139 h4 M678.9,139 h4.1 M683,139 h1.2 M673.2,140 h2.3 M675.6,140 h2.4 M677.9,140 h4.1 M682.1,140 h2.8 M684.9,140 h1.1 M673.3,141 h4.9 M678.2,141 h4.1 M682.3,141 h1.8 M671.8,142 h3.2 M675,142 h4.6 M679.7,142 h1.8 M681.5,142 h4.1 M672.8,143 h2.2 M675,143 h2.2 M677.2,143 h2.6 M679.8,143 h3.9 M684.5,143 h1.4 M671.5,144 h2.4 M673.9,144 h1.6 M675.5,144 h2.8 M678.3,144 h2.8 M681.1,144 h4.2 M685.3,144 h1.2 M671.7,145 h4.4 M676.1,145 h3.4 M679.6,145 h4 M683.6,145 h1.9 M670.8,146 h2.3 M673.1,146 h4 M677.1,146 h4.9 M682,146 h2.3 M684.3,146 h2 M672.6,147 h4.6 M677.2,147 h4.5 M681.7,147 h3 M684.7,147 h1.8 M686.5,147 h0.4 M672.6,148 h3.9 M676.4,148 h2.7 M679.1,148 h3.2 M682.3,148 h3 M670.8,149 h2.5 M673.2,149 h1.9 M675.1,149 h4.7 M679.8,149 h4.6 M672.1,150 h2.5 M674.6,150 h3.8 M678.4,150 h2.4 M680.8,150 h4.9 M685.7,150 h1.1 M671.5,151 h4 M675.6,151 h3.5 M679,151 h3.8 M682.8,151 h2.1 M684.9,151 h0.1 M669.8,152 h2.7 M672.5,152 h3.6 M676.1,152 h3.8 M679.9,152 h2.6 M682.5,152 h1.7 M684.2,152 h1.2 M670.9,153 h2.4 M673.4,153 h4.6 M677.9,153 h3.3 M681.2,153 h4.2 M685.4,153 h0.2 M672.6,154 h2.7 M675.4,154 h1.9 M677.3,154 h1.8 M679.1,154 h4.2 M683.3,154 h2.1 M685.5,154 h0.9 M671.9,155 h3.6 M675.5,155 h2.9 M678.3,155 h3.3 M681.7,155 h2.2 M683.9,155 h3.1 M672.3,156 h4.8 M677.1,156 h3.4 M680.6,156 h3.7 M685.5,156 h1.9 M672.2,157 h4 M676.3,157 h4.2 M680.5,157 h3.2 M683.7,157 h2.1 M670.4,158 h3.3 M673.7,158 h3.1 M676.7,158 h4.9 M681.6,158 h2 M683.6,158 h0.7 M671.4,159 h1.8 M673.2,159 h4.8 M677.9,159 h4.5 M682.5,159 h1.9 M672.9,160 h4 M676.9,160 h2.7 M679.6,160 h4.8 M684.3,160 h2.7 M670.7,161 h1.6 M672.4,161 h2.2 M674.6,161 h3.2 M677.8,161 h3.4 M681.2,161 h3.2 M672.7,162 h2.9 M675.6,162 h4.6 M680.2,162 h2.8 M683,162 h3.2 M671,163 h2.2 M673.3,163 h2 M675.3,163 h2.2 M677.4,163 h2.1 M679.5,163 h2.1 M681.6,163 h1.8 M670.5,164 h1.6 M672.1,164 h2.9 M675,164 h1.7 M676.7,164 h2.9 M679.6,164 h4.6 M672.8,165 h2.1 M674.8,165 h2.7 M677.6,165 h1.7 M679.2,165 h2.5 M681.7,165 h2.8 " stroke="#000" stroke-width="1.05" fill="none"/>
<path d="M670.2,141.9 h17" stroke="#2a2a2a" stroke-width="1.1" fill="none"/>
<path d="M716.5,57 h1.4 M716.3,62 h1.4 M716.7,66 h1.4 M716.4,69 h1.4 " stroke="#f20000" stroke-width="1" fill="none"/>
<path d="M716.8,73 h1.4 M716.5,74 h2.2 M716.2,75 h2.4 M716.1,76 h2.5 M716,77 h2.4 M716.4,78 h2.7 M715.9,79 h3.7 M715.3,80 h4 M715.8,81 h3.6 M715.6,82 h4.5 M714.6,83 h3.6 M718.2,83 h1.4 M714.7,84 h4.7 M715,85 h3.4 M718.4,85 h2.4 M714.9,86 h3.3 M718.2,86 h2.7 M714.8,87 h4.9 M713.7,88 h1.7 M715.3,88 h2.5 M717.8,88 h2.4 M713.5,89 h2.9 M716.4,89 h3.7 M720.1,89 h0.6 M714.6,90 h4.7 M719.3,90 h1.3 M714,91 h2.3 M716.3,91 h2.1 M718.4,91 h1.6 M720.1,91 h1.3 M712.6,92 h2.5 M716.4,92 h2.9 M720.5,92 h0.4 M714.1,93 h2 M716.1,93 h4.7 M713.5,94 h2.1 M715.6,94 h2.8 M718.4,94 h1.6 M713.1,95 h1.7 M714.7,95 h3.9 M718.6,95 h1.6 M720.3,95 h0.1 M713.7,96 h2.9 M717.6,96 h2.3 M719.9,96 h1.6 M721.6,96 h0.7 M712.5,97 h1.6 M714.1,97 h2.3 M716.5,97 h2.3 M718.8,97 h2 M720.8,97 h1.7 M711.9,98 h4.7 M716.5,98 h4.3 M720.8,98 h2 M714,99 h4.6 M719.4,99 h3.2 M712.9,100 h3.3 M716.3,100 h3.9 M720.2,100 h3.2 M712.5,101 h3.8 M716.3,101 h4.6 M721,101 h3.6 M712.2,102 h3.7 M716,102 h4.1 M720.7,102 h0.5 M710.3,103 h4.3 M714.6,103 h4.6 M719.2,103 h3.6 M711,104 h4.6 M715.7,104 h3.2 M718.8,104 h1.6 M720.4,104 h2.7 M711.1,105 h2 M713.1,105 h4.2 M717.3,105 h1.5 M718.8,105 h4.4 M723.2,105 h1.2 M710.3,106 h2.3 M712.6,106 h4.9 M717.5,106 h1.9 M719.4,106 h4.3 M712.4,107 h4.2 M716.6,107 h4.6 M721.2,107 h2.6 M723.8,107 h0.8 M712.9,108 h2.1 M715,108 h3.2 M718.3,108 h3.4 M722.9,108 h1.3 M711,109 h4 M715,109 h1.8 M716.7,109 h4.5 M721.2,109 h2.7 M711,110 h2.6 M714.6,110 h4.7 M719.3,110 h4.5 M723.8,110 h0.7 M712.7,111 h2.8 M715.5,111 h2 M717.5,111 h2 M719.5,111 h2.1 M722.4,111 h1.3 M709.8,112 h2.9 M713.3,112 h3.8 M717.1,112 h2.6 M719.7,112 h1.6 M722.6,112 h0.3 M709.3,113 h3.5 M712.8,113 h3.5 M717.6,113 h4.9 M722.5,113 h1.4 M711,114 h4.4 M715.4,114 h4.7 M720.2,114 h3.6 M723.8,114 h0.9 M711.4,115 h3.7 M716.6,115 h2.9 M719.5,115 h3.2 M710.2,116 h2.1 M712.3,116 h3.9 M716.2,116 h2.8 M720.2,116 h2 M711.6,117 h4.7 M716.3,117 h2.6 M718.9,117 h2.4 M721.3,117 h4.7 M709.8,118 h2.3 M712.1,118 h4.8 M716.9,118 h4.3 M721.2,118 h2.1 M710.4,119 h1.8 M712.2,119 h2.6 M714.9,119 h1.7 M717.3,119 h4.6 M721.9,119 h0.8 M711.4,120 h4 M715.4,120 h3.9 M719.4,120 h3.4 M722.8,120 h2 M724.8,120 h0.8 M713.1,121 h2.4 M715.5,121 h3.9 M719.4,121 h2.6 M722.1,121 h1.8 M709.4,122 h4.9 M714.2,122 h2 M716.3,122 h4.4 M720.6,122 h2.5 M710.2,123 h4.4 M715.8,123 h4.7 M721.4,123 h1.8 M710.3,124 h3.7 M714.7,124 h3.8 M718.5,124 h3.6 M722.1,124 h0.6 M711.2,125 h2.6 M713.8,125 h3.7 M717.4,125 h4.4 M721.9,125 h2.8 M711.7,126 h3.6 M715.3,126 h5 M720.3,126 h1.8 M722.1,126 h2.2 M710.7,127 h2.2 M712.9,127 h4.2 M718.4,127 h1.9 M721.7,127 h1.3 M711.2,128 h3.7 M714.9,128 h4.1 M718.9,128 h3.2 M722.1,128 h2.3 M711.9,129 h2.5 M714.5,129 h3.6 M718.1,129 h2.9 M722.3,129 h2.4 M712,130 h4 M716,130 h2.1 M718.1,130 h4.6 M723.4,130 h1.1 M712.3,131 h2.6 M714.9,131 h2.4 M717.3,131 h1.6 M718.9,131 h2.5 M722,131 h2.5 M709.9,132 h1.8 M711.7,132 h4.8 M716.4,132 h4.6 M721.1,132 h1.9 M723,132 h0.5 M713.1,133 h1.9 M715.8,133 h3.5 M719.3,133 h4.3 M710.2,134 h4 M714.3,134 h4.2 M718.4,134 h2.2 M720.7,134 h2.5 M711.1,135 h2.8 M714.4,135 h2.3 M718.2,135 h3.9 M722.6,135 h1.9 M712.3,136 h1.9 M714.2,136 h2 M716.2,136 h3.4 M719.6,136 h2.8 M722.4,136 h2 M711.9,137 h2.3 M714.2,137 h3.5 M717.7,137 h3.6 M712.7,138 h4.8 M717.5,138 h2.7 M720.8,138 h1.6 M722.4,138 h0.9 M711,139 h1.6 M712.7,139 h4 M716.7,139 h2 M718.7,139 h3.1 M721.8,139 h2.2 M713.6,140 h4.1 M717.6,140 h1.9 M719.5,140 h3.3 M713.1,141 h3.3 M716.5,141 h3.7 M720.1,141 h3.6 M723.7,141 h0.4 M710.5,142 h1.6 M712.2,142 h2.5 M714.7,142 h2.6 M717.3,142 h2.1 M719.4,142 h3.4 M712.1,143 h2.4 M714.6,143 h3.4 M717.9,143 h2.8 M720.7,143 h2.2 M722.9,143 h1.9 M724.8,143 h0.1 M711.7,144 h1.7 M713.4,144 h4.6 M718,144 h4.8 M722.8,144 h0.9 M711.2,145 h3.2 M714.4,145 h2.2 M716.6,145 h2.5 M719.1,145 h2.4 M712,146 h1.5 M713.5,146 h4.5 M718,146 h1.8 M719.8,146 h1.8 M721.5,146 h1 M712.1,147 h4.4 M716.5,147 h4.7 M722.8,147 h1.5 M724.3,147 h0.8 M710.7,148 h3.7 M714.5,148 h3.7 M718.2,148 h3.4 M721.6,148 h0.6 M711.3,149 h4.2 M715.5,149 h2.7 M718.2,149 h3.5 M710,150 h4.8 M714.9,150 h4.2 M719.1,150 h3 M722.1,150 h0.6 M711.4,151 h2.4 M713.8,151 h2.1 M715.9,151 h3.8 M719.7,151 h3.5 M723.2,151 h0.5 M712,152 h3.1 M715.1,152 h2.6 M717.7,152 h2.6 M720.2,152 h2.2 M722.5,152 h2.5 M725,152 h0.4 M711.2,153 h2.6 M713.9,153 h2.1 M716,153 h5 M721,153 h1.5 M722.5,153 h1.5 M724,153 h1.4 M713,154 h2.9 M715.9,154 h3 M719,154 h2.5 M721.5,154 h3.1 M710.7,155 h5 M715.7,155 h4.1 M719.8,155 h1.7 M711.9,156 h1.5 M713.4,156 h4.2 M717.5,156 h3.2 M721.7,156 h2.5 M711.6,157 h2.2 M713.8,157 h2.5 M716.3,157 h3.1 M719.4,157 h3.3 M711.8,158 h4.6 M716.4,158 h4.7 M721.1,158 h3.1 M710.6,159 h4 M714.6,159 h4 M718.6,159 h3.5 M722.1,159 h4.2 M709.7,160 h4.6 M714.3,160 h3.9 M718.2,160 h2.1 M720.3,160 h2.2 M710.6,161 h4.5 M715,161 h4.5 M719.6,161 h3.9 M723.5,161 h0.4 M710.1,162 h2.8 M712.9,162 h4 M716.9,162 h3.8 M722,162 h0.7 M709.6,163 h3.3 M712.9,163 h4.3 M717.1,163 h4.1 M721.2,163 h2.4 M723.6,163 h0.9 M710,164 h4.8 M714.8,164 h2.6 M717.4,164 h4.4 M721.8,164 h0.3 M710,165 h2.5 M712.5,165 h1.7 M714.2,165 h4 M718.2,165 h2.3 M720.5,165 h1.7 M722.2,165 h2.1 M724.3,165 h1.1 " stroke="#f20000" stroke-width="1.05" fill="none"/>
<path d="M709,113.9 h17" stroke="#2a2a2a" stroke-width="1.1" fill="none"/>
<path d="M736.3,59.6 h1.4 M736.5,63 h1.4 M736.6,66 h1.4 " stroke="#f20000" stroke-width="1" fill="none"/>
<path d="M735.9,69 h2.1 M735.4,70 h2.6 M735.8,71 h2.7 M735.5,72 h3.3 M735.3,73 h3.1 M735.1,74 h3.6 M734.1,75 h4.6 M734.5,76 h4.4 M734.2,77 h2.1 M736.2,77 h2 M738.2,77 h1.9 M740.1,77 h0.1 M734.9,78 h4.6 M739.5,78 h0.6 M733.2,79 h4.8 M738,79 h1.8 M733.6,80 h2.1 M735.7,80 h1.7 M737.4,80 h2.3 M732.9,81 h2.6 M735.5,81 h3.2 M738.7,81 h1.7 M734.5,82 h1.6 M736.1,82 h4.5 M740.6,82 h0.3 M732,83 h1.7 M733.6,83 h4.8 M738.5,83 h1.6 M732.7,84 h3.3 M736,84 h1.9 M737.9,84 h2.7 M734.1,85 h1.8 M735.9,85 h3.6 M740.4,85 h1.1 M732.2,86 h2.1 M734.3,86 h2 M736.4,86 h4.5 M733.9,87 h3.4 M737.2,87 h2.3 M739.6,87 h2.4 M731,88 h4.7 M735.7,88 h3.2 M738.9,88 h1.9 M731.1,89 h4.3 M735.3,89 h3 M738.4,89 h4.5 M742.8,89 h0.5 M730.4,90 h3.2 M733.6,90 h3.2 M736.7,90 h2.9 M739.7,90 h2.8 M731.1,91 h2.7 M733.8,91 h2.5 M736.2,91 h4.5 M740.8,91 h1.9 M731.3,92 h4.2 M735.5,92 h4 M739.4,92 h3.2 M742.6,92 h0.6 M730.7,93 h3.5 M734.3,93 h3.4 M737.7,93 h3.9 M741.5,93 h2.3 M730.2,94 h3.8 M734,94 h4.4 M738.4,94 h4.5 M742.8,94 h0 M731.2,95 h2.1 M733.3,95 h4.8 M738.1,95 h3.9 M742,95 h0.8 M730.7,96 h3.8 M734.6,96 h3.7 M738.2,96 h3.7 M742,96 h1.5 M731.6,97 h2.3 M733.8,97 h3.7 M737.5,97 h3.2 M740.7,97 h1.7 M742.4,97 h0.6 M730.5,98 h3.1 M733.6,98 h3.6 M737.2,98 h2.3 M740,98 h1 M730.1,99 h4.4 M734.6,99 h1.6 M736.2,99 h1.8 M738,99 h2.7 M740.7,99 h1 M731.9,100 h3.7 M735.6,100 h2 M737.6,100 h3.5 M742.7,100 h0.9 M728.7,101 h1.9 M730.6,101 h3.7 M734.2,101 h3.7 M737.9,101 h2.8 M740.7,101 h1.8 M729.4,102 h4.9 M735.4,102 h2.4 M738.8,102 h3 M741.8,102 h1.9 M731.2,103 h1.9 M733.1,103 h3.1 M736.1,103 h4.2 M740.4,103 h1.5 M741.9,103 h0.6 M730.6,104 h2 M733.4,104 h3.6 M737.1,104 h3.8 M740.8,104 h1.1 M729.5,105 h3.4 M732.9,105 h2.5 M735.4,105 h3.1 M738.5,105 h4.1 M742.7,105 h0.5 M731.8,106 h4.6 M736.5,106 h1.6 M738,106 h3 M741,106 h3.2 M731.7,107 h2.8 M734.6,107 h4.5 M739.1,107 h2.5 M741.6,107 h1.7 M743.3,107 h1 M731.8,108 h4.7 M736.5,108 h3.2 M739.6,108 h3.2 M742.9,108 h0.7 M728.6,109 h2.3 M730.9,109 h4.3 M735.2,109 h1.6 M736.8,109 h4.9 M732.6,110 h2.3 M734.8,110 h4.8 M739.7,110 h2 M741.6,110 h1.5 M730.2,111 h2.1 M732.2,111 h1.7 M733.9,111 h2.8 M736.7,111 h1.7 M738.4,111 h4.1 M742.5,111 h0.7 M731.4,112 h3.2 M735.4,112 h1.7 M737.1,112 h2 M739.2,112 h3.3 M729.8,113 h3.4 M733.3,113 h4.1 M737.4,113 h2 M739.4,113 h2.8 M742.2,113 h0.5 M729.4,114 h3.8 M733.2,114 h1.9 M735.1,114 h2.3 M737.5,114 h3.2 M740.6,114 h1.6 M729.2,115 h2 M732.4,115 h2.3 M734.7,115 h4.9 M739.6,115 h2.6 M730.2,116 h2.3 M732.6,116 h3.6 M736.2,116 h2.9 M739.1,116 h3.7 M730.1,117 h4.5 M734.6,117 h3.6 M738.2,117 h4.1 M742.3,117 h1.1 M730.4,118 h4.6 M735.1,118 h4.2 M739.2,118 h1.8 M730.6,119 h3.1 M733.7,119 h2 M735.8,119 h2.8 M738.6,119 h4.2 M731.1,120 h2.1 M733.1,120 h2.3 M735.4,120 h1.6 M737.9,120 h3.7 M730.7,121 h4.8 M735.5,121 h3.8 M739.4,121 h3.6 M731.2,122 h1.6 M732.7,122 h1.8 M734.5,122 h4.9 M739.4,122 h1.7 M732.3,123 h4 M736.3,123 h2.3 M738.6,123 h4 M732.6,124 h1.5 M734.1,124 h4.2 M738.4,124 h1.7 M740,124 h3.5 M730.7,125 h1.7 M732.4,125 h3.2 M736.1,125 h2.4 M738.5,125 h2.7 M731.7,126 h2.6 M734.2,126 h1.6 M736.5,126 h3.3 M739.8,126 h1.9 M730.8,127 h3.4 M735.3,127 h4.5 M739.8,127 h1.3 M731.6,128 h2.8 M734.4,128 h4 M739.2,128 h3.1 M742.3,128 h0.3 M730.7,129 h4.2 M734.9,129 h2.6 M737.5,129 h1.8 M739.3,129 h1.8 M741.1,129 h0 M732.7,130 h1.7 M734.3,130 h2.5 M736.8,130 h1.8 M738.7,130 h2.6 M741.3,130 h0.8 M731.6,131 h3.5 M735.1,131 h4.4 M739.5,131 h4 M730.3,132 h4.3 M734.6,132 h2 M736.6,132 h2.1 M738.7,132 h3.7 M732.8,133 h3.5 M736.2,133 h1.7 M737.9,133 h2.8 M740.6,133 h1.7 M731.6,134 h2.8 M734.3,134 h1.5 M735.9,134 h4.4 M740.3,134 h1.6 M732.4,135 h3.1 M736.8,135 h1.9 M738.7,135 h3.8 M731.1,136 h4.2 M736.4,136 h4.9 M741.2,136 h1.1 M730.1,137 h4.9 M735.1,137 h3.5 M738.6,137 h2.8 M731.1,138 h2.2 M733.3,138 h2.7 M736.1,138 h2.3 M738.4,138 h2.4 M730.6,139 h2.9 M733.5,139 h4.4 M737.9,139 h1.6 M739.6,139 h1.8 M741.4,139 h2.4 M730,140 h3.9 M733.8,140 h3.7 M737.5,140 h2.8 M740.3,140 h2.6 M731.4,141 h2.6 M734,141 h2.6 M736.6,141 h3.2 M739.8,141 h2.1 M730.6,142 h3.8 M734.4,142 h4.3 M738.7,142 h3.6 M742.3,142 h1.9 M730.8,143 h2.7 M733.5,143 h4.2 M737.7,143 h2.6 M729.3,144 h4.1 M733.4,144 h4.8 M738.3,144 h3.9 M742.2,144 h0 M731.5,145 h4.6 M736.2,145 h4.9 M741.1,145 h1.3 M730.2,146 h3.8 M734,146 h4.7 M738.7,146 h2.9 M741.5,146 h0.4 M729.9,147 h4.6 M734.5,147 h2.6 M737.1,147 h3.7 M740.8,147 h2.1 M742.9,147 h0.3 M731.9,148 h4.4 M736.3,148 h4 M740.3,148 h2 M729.2,149 h2.5 M731.7,149 h4.9 M736.6,149 h1.6 M738.2,149 h3.5 M741.6,149 h1.9 M730.8,150 h3.9 M734.7,150 h1.7 M736.4,150 h4.4 M741.6,150 h2.2 M728.8,151 h3.9 M732.8,151 h3.2 M735.9,151 h2.2 M738.1,151 h1.8 M739.9,151 h3.6 M730.6,152 h4.4 M734.9,152 h4 M740.5,152 h3.7 M730.1,153 h2.2 M732.4,153 h3.1 M735.5,153 h4.1 M739.6,153 h1.6 M729.6,154 h3.6 M733.2,154 h3.9 M737.1,154 h4.9 M730.4,155 h2.5 M732.9,155 h3.2 M736.1,155 h4.1 M741,155 h2.5 M743.5,155 h1.2 M729.5,156 h2.7 M732.2,156 h3.3 M735.5,156 h3 M738.5,156 h3.8 M742.3,156 h0.8 M731.7,157 h3.4 M735.1,157 h4.8 M739.9,157 h2.7 M742.6,157 h1.5 M744.1,157 h0.8 M730.7,158 h2.8 M733.5,158 h1.7 M735.2,158 h4.9 M740.1,158 h2.8 M732,159 h3.9 M735.9,159 h1.7 M737.6,159 h4.2 M741.8,159 h2.6 M728.4,160 h1.6 M730,160 h2.9 M732.9,160 h4.4 M738.1,160 h4.5 M728,161 h4.2 M732.2,161 h4.9 M737.8,161 h3 M740.8,161 h2.9 M728.5,162 h2.1 M730.6,162 h1.8 M732.3,162 h4.6 M737,162 h2.2 M739.2,162 h3.9 M730.1,163 h4.7 M735.3,163 h2.1 M737.5,163 h2.4 M739.9,163 h2.2 M731,164 h4.9 M735.9,164 h1.8 M737.7,164 h3.8 M741.4,164 h1.5 M731.2,165 h2.3 M733.6,165 h2.4 M736,165 h4.1 M740.1,165 h3.2 M743.2,165 h1.5 M744.8,165 h0.6 " stroke="#f20000" stroke-width="1.05" fill="none"/>
<path d="M728.1,120 h17.5" stroke="#2a2a2a" stroke-width="1.1" fill="none"/>
<path d="M755.5,48 h1.4 M755.5,52 h1.4 M755.1,56 h1.4 M754.8,60 h1.4 " stroke="#f20000" stroke-width="1" fill="none"/>
<path d="M755.1,64 h1.5 M754.8,65 h2.2 M754.7,66 h2.4 M754.7,67 h2.6 M754,68 h3.5 M754.1,69 h3.6 M754.1,70 h3.5 M753.2,71 h4.8 M753.4,72 h4.5 M757.9,72 h0.7 M753,73 h1.8 M754.8,73 h3.7 M752.8,74 h2.2 M755,74 h2.8 M753.1,75 h3.9 M757.1,75 h1.8 M753.1,76 h2.6 M755.6,76 h1.8 M757.4,76 h1.4 M752.1,77 h2.2 M754.3,77 h2 M756.3,77 h2.6 M753.4,78 h1.6 M755,78 h4 M752.3,79 h2.9 M755.2,79 h3.7 M752.6,80 h2.9 M756.2,80 h3.7 M752.3,81 h3.1 M755.4,81 h4.3 M759.7,81 h0.9 M751.1,82 h4.1 M755.2,82 h3.2 M758.4,82 h0.6 M752.3,83 h2.8 M755.1,83 h3.1 M758.8,83 h0.8 M750.7,84 h3.2 M753.9,84 h2 M755.9,84 h2.6 M758.5,84 h1.5 M751.3,85 h2.8 M754.1,85 h2.6 M756.7,85 h3.2 M759.9,85 h2.1 M751.8,86 h1.7 M753.5,86 h4.2 M757.7,86 h2 M750.8,87 h1.7 M752.5,87 h4.8 M757.4,87 h3 M760.3,87 h2 M749.8,88 h2.8 M752.6,88 h3.7 M756.3,88 h2 M758.3,88 h1.7 M750.1,89 h4.6 M754.8,89 h4 M758.7,89 h2.6 M751.1,90 h4.7 M755.7,90 h3.1 M758.8,90 h3.7 M750.3,91 h3 M753.4,91 h3.1 M756.4,91 h4 M760.4,91 h2.8 M748.2,92 h4.5 M752.7,92 h4.9 M757.6,92 h3.7 M751.7,93 h3.7 M755.5,93 h1.6 M757.1,93 h2.8 M759.9,93 h1.6 M749.6,94 h2.7 M752.3,94 h4.1 M756.3,94 h3.4 M759.8,94 h3.2 M763,94 h0.1 M751,95 h2 M753,95 h2 M755,95 h2.9 M757.9,95 h2.3 M760.2,95 h0.6 M750.1,96 h2.3 M752.4,96 h4.3 M756.7,96 h2.2 M758.9,96 h1.7 M751.3,97 h3.4 M754.7,97 h4 M758.7,97 h4.2 M750.6,98 h2.1 M752.7,98 h2.8 M755.5,98 h1.6 M757.2,98 h1.9 M759.1,98 h1.9 M760.9,98 h1.6 M762.5,98 h1 M750.6,99 h2.5 M753.1,99 h4 M757.2,99 h2.1 M759.3,99 h1.9 M761.2,99 h2.1 M749.3,100 h3.9 M753.2,100 h3.8 M756.9,100 h3.1 M760,100 h3.7 M748,101 h3.6 M751.6,101 h4.3 M755.9,101 h5 M760.8,101 h1.1 M750.6,102 h1.6 M752.2,102 h1.9 M754.6,102 h4.7 M760.2,102 h1.3 M748.8,103 h1.7 M750.5,103 h4.4 M754.9,103 h3.6 M758.5,103 h1.6 M751.4,104 h2.8 M754.2,104 h3.5 M757.7,104 h3.2 M760.9,104 h2 M762.8,104 h0.1 M748.6,105 h4.8 M753.5,105 h3.3 M756.8,105 h3.6 M760.3,105 h3.1 M749.5,106 h3.1 M752.7,106 h4.6 M757.3,106 h4.7 M762,106 h1.8 M748.5,107 h2.8 M751.3,107 h2.8 M754.1,107 h2.6 M756.7,107 h3.7 M760.3,107 h0.5 M748.1,108 h4.7 M752.8,108 h3.3 M757.1,108 h4.1 M750.8,109 h4.4 M755.2,109 h4.5 M759.8,109 h4 M748.7,110 h3.6 M752.3,110 h2 M754.4,110 h1.9 M756.3,110 h4.2 M760.5,110 h0 M749.5,111 h2.1 M751.5,111 h4.7 M756.3,111 h2.1 M758.4,111 h2.8 M748,112 h3.6 M751.6,112 h4.3 M756,112 h4.1 M761.2,112 h0.1 M751.4,113 h1.6 M754,113 h1.7 M755.7,113 h4 M759.7,113 h2.8 M747.9,114 h4.4 M752.3,114 h3.8 M756.2,114 h2.9 M759.1,114 h3.4 M762.4,114 h0.5 M751.7,115 h4.9 M756.6,115 h3.2 M759.8,115 h1.9 M761.7,115 h1 M748.6,116 h3.4 M752,116 h3.4 M755.4,116 h3.1 M759.7,116 h1.7 M761.4,116 h0.2 M751.5,117 h3.2 M754.7,117 h2.1 M756.8,117 h1.5 M758.3,117 h2.6 M760.9,117 h1.4 M749.8,118 h2.3 M752.1,118 h3.6 M755.7,118 h4.6 M760.2,118 h2.1 M762.4,118 h1.6 M749.6,119 h2.8 M752.4,119 h1.8 M754.2,119 h3.5 M757.7,119 h3.6 M761.4,119 h0.9 M749.9,120 h2.4 M752.3,120 h4.9 M757.1,120 h3 M760.1,120 h3.5 M747.4,121 h2.5 M749.8,121 h2.6 M752.5,121 h3.3 M755.7,121 h1.9 M757.6,121 h3.4 M761,121 h1.3 M749.3,122 h2.9 M752.2,122 h4.5 M756.6,122 h4.1 M760.7,122 h0.5 M747.7,123 h1.6 M749.2,123 h3.3 M752.5,123 h2 M754.6,123 h3.7 M758.3,123 h4.2 M747.6,124 h1.9 M749.5,124 h3.2 M752.8,124 h2.5 M755.2,124 h2 M757.2,124 h1.6 M758.8,124 h2.6 M761.4,124 h0.5 M748.9,125 h3.7 M752.6,125 h2.1 M754.7,125 h3.8 M758.5,125 h2.3 M760.8,125 h0.9 M749.5,126 h2.2 M752.9,126 h2.9 M755.8,126 h3.5 M759.4,126 h3.3 M748.7,127 h4.7 M753.4,127 h2.8 M756.2,127 h2.8 M759.8,127 h1.7 M749.1,128 h1.9 M751,128 h2.1 M753,128 h3.9 M756.9,128 h2.6 M759.6,128 h2.8 M748.8,129 h3.2 M752,129 h3.7 M755.7,129 h4.9 M760.6,129 h2.7 M763.4,129 h0 M750.6,130 h1.9 M752.5,130 h3.8 M756.3,130 h3.4 M759.7,130 h1.8 M750.7,131 h2.8 M754.6,131 h3 M757.6,131 h4.5 M762.1,131 h0.4 M749.3,132 h1.6 M750.9,132 h3.5 M754.3,132 h4.8 M759.1,132 h0.7 M749.7,133 h4.9 M754.6,133 h2.7 M757.3,133 h2.8 M760.1,133 h0.3 M751,134 h3.5 M754.5,134 h2.2 M757.7,134 h4.7 M747.7,135 h4.7 M752.4,135 h1.8 M754.2,135 h3.9 M758.1,135 h2.2 M760.8,135 h0.4 M750.3,136 h3 M753.3,136 h4.2 M757.5,136 h2.6 M760.1,136 h2.1 M749.4,137 h3.3 M752.7,137 h2.2 M754.9,137 h3.6 M758.5,137 h1.5 M750.6,138 h4.5 M755.1,138 h4.8 M759.9,138 h2.2 M762.1,138 h1 M748.3,139 h3 M751.4,139 h2.3 M753.7,139 h4.1 M757.8,139 h2.6 M760.4,139 h0.3 M749,140 h2 M752.2,140 h3.8 M756,140 h3.3 M759.2,140 h1.5 M760.7,140 h0.7 M749.7,141 h2.6 M753.7,141 h1.6 M755.3,141 h2.7 M758.1,141 h2.2 M750.7,142 h2 M752.7,142 h1.8 M754.5,142 h3.6 M759.2,142 h3.3 M748.3,143 h1.7 M750.5,143 h2.7 M753.2,143 h2.2 M755.4,143 h4.1 M759.5,143 h2.1 M750.8,144 h4.5 M755.3,144 h3.3 M758.6,144 h2.1 M760.7,144 h0.9 M747.7,145 h1.9 M749.7,145 h3.1 M752.8,145 h4.4 M757.1,145 h2.8 M759.9,145 h2 M748.5,146 h2.6 M751.2,146 h2.8 M754,146 h3.6 M757.6,146 h4.5 M762.2,146 h1.3 M748.2,147 h3.3 M751.4,147 h3.6 M755.1,147 h1.9 M756.9,147 h4.3 M749.5,148 h4.2 M753.7,148 h3.7 M757.5,148 h1.6 M759.1,148 h4.3 M749.5,149 h3.6 M753.2,149 h2.1 M755.2,149 h3.8 M759,149 h4.6 M749.7,150 h4.8 M754.5,150 h4.6 M759.1,150 h2.1 M748.2,151 h4.1 M752.3,151 h2.5 M754.8,151 h2.5 M757.3,151 h1.9 M759.1,151 h3.7 M747.6,152 h2.6 M750.2,152 h3.7 M753.9,152 h4.9 M758.9,152 h3.6 M762.4,152 h0.8 M750.1,153 h4.5 M754.6,153 h4 M758.6,153 h4.7 M763.3,153 h0.2 M748.9,154 h2.2 M751.8,154 h4.5 M757,154 h1.9 M758.9,154 h1.1 M750.3,155 h1.7 M752.1,155 h2.8 M754.9,155 h4.5 M760.8,155 h2.1 M747.9,156 h3.5 M752.7,156 h3.1 M755.9,156 h4.2 M750.2,157 h4.9 M755.1,157 h4.9 M759.9,157 h1.5 M761.4,157 h2 M763.4,157 h0.7 M750.6,158 h2.2 M752.8,158 h2.9 M755.7,158 h4.1 M759.8,158 h2.5 M748.7,159 h4.7 M753.4,159 h3 M756.3,159 h1.9 M758.3,159 h3.7 M749.2,160 h4.4 M753.6,160 h2.5 M756.1,160 h2.4 M758.4,160 h3.4 M761.8,160 h0.2 M748.7,161 h2.3 M751,161 h3.3 M754.3,161 h4.8 M759.1,161 h2 M761.1,161 h2 M763.1,161 h1.7 M747.4,162 h3.7 M751.1,162 h3.1 M754.2,162 h2.6 M756.8,162 h2.1 M758.9,162 h2 M761,162 h2.5 M747.1,163 h4.5 M751.6,163 h3.8 M755.9,163 h4.2 M760.1,163 h1.5 M749.6,164 h3.2 M752.7,164 h1.7 M754.4,164 h1.6 M757.3,164 h1.6 M758.9,164 h1.9 M760.8,164 h1.5 M748.9,165 h2.4 M752.3,165 h3.3 M755.6,165 h3.7 M759.3,165 h3.4 " stroke="#f20000" stroke-width="1.05" fill="none"/>
<path d="M746.8,121.3 h18" stroke="#2a2a2a" stroke-width="1.1" fill="none"/>
<text x="556.9" y="233.5" font-size="25.02" text-anchor="start" fill="#000" textLength="16.5" lengthAdjust="spacingAndGlyphs">D</text>
<text x="629.4" y="187.2" font-size="11.36" text-anchor="start" fill="#000" textLength="35.4" lengthAdjust="spacingAndGlyphs">WT GCT</text>
<text x="705.5" y="187.2" font-size="12.56" text-anchor="start" fill="#000" textLength="55.7" lengthAdjust="spacingAndGlyphs">Doxorubicin<tspan font-size="72%" dy="-0.5em">r</tspan></text>
<path d="M610.7,194.2 H684.4" stroke="#b0b0b0" stroke-width="0.8"/>
<path d="M610.7,194.2 V268.1 H684.4" stroke="#8a8a8a" stroke-width="0.8" fill="none"/>
<path d="M609.7,201.6 h1.0 M618.1,268.1 v1.0 M609.7,209 h1.0 M625.4,268.1 v1.0 M608.9,216.4 h1.8 M632.8,268.1 v1.8 M609.7,223.8 h1.0 M640.2,268.1 v1.0 M609.7,231.2 h1.0 M647.5,268.1 v1.0 M608.9,238.5 h1.8 M654.9,268.1 v1.8 M609.7,245.9 h1.0 M662.3,268.1 v1.0 M609.7,253.3 h1.0 M669.7,268.1 v1.0 M608.9,260.7 h1.8 M677,268.1 v1.8 " stroke="#999" stroke-width="0.6" fill="none"/>
<filter id="cf1" x="-60%" y="-60%" width="220%" height="220%" color-interpolation-filters="sRGB">
<feGaussianBlur in="SourceAlpha" stdDeviation="3.2" result="b"/>
<feTurbulence type="fractalNoise" baseFrequency="1.3" numOctaves="1" seed="101" result="n"/>
<feComposite in="n" in2="b" operator="arithmetic" k1="0" k2="0.9" k3="1.1" k4="-0.95" result="m"/>
<feColorMatrix in="m" type="matrix" values="0 0 0 0 0  0 0 0 0 0  0 0 0 0 0  0 0 0 5 -1.2" result="mask"/>
<feFlood flood-color="#3cc0f0"/><feComposite in2="mask" operator="in"/></filter>
<ellipse cx="655" cy="232" rx="13" ry="7" transform="rotate(-40 655 232)" fill="#000" filter="url(#cf1)"/>
<filter id="cf2" x="-60%" y="-60%" width="220%" height="220%" color-interpolation-filters="sRGB">
<feGaussianBlur in="SourceAlpha" stdDeviation="1.5" result="b"/>
<feTurbulence type="fractalNoise" baseFrequency="1.3" numOctaves="1" seed="102" result="n"/>
<feComposite in="n" in2="b" operator="arithmetic" k1="0" k2="0.9" k3="1.2" k4="-0.95" result="m"/>
<feColorMatrix in="m" type="matrix" values="0 0 0 0 0  0 0 0 0 0  0 0 0 0 0  0 0 0 5 -1.0" result="mask"/>
<feFlood flood-color="#28b6ee"/><feComposite in2="mask" operator="in"/></filter>
<ellipse cx="651.5" cy="231.5" rx="10" ry="3.5" transform="rotate(-52 651.5 231.5)" fill="#000" filter="url(#cf2)"/>
<filter id="cf3" x="-60%" y="-60%" width="220%" height="220%" color-interpolation-filters="sRGB">
<feGaussianBlur in="SourceAlpha" stdDeviation="2.2" result="b"/>
<feTurbulence type="fractalNoise" baseFrequency="1.3" numOctaves="1" seed="103" result="n"/>
<feComposite in="n" in2="b" operator="arithmetic" k1="0" k2="0.9" k3="1.25" k4="-0.95" result="m"/>
<feColorMatrix in="m" type="matrix" values="0 0 0 0 0  0 0 0 0 0  0 0 0 0 0  0 0 0 5 -1.0" result="mask"/>
<feFlood flood-color="#f03c3c"/><feComposite in2="mask" operator="in"/></filter>
<ellipse cx="643.4" cy="232.3" rx="13.5" ry="6" transform="rotate(-48 643.4 232.3)" fill="#000" filter="url(#cf3)"/>
<path d="M623.8,213.4 H656.9 V219.5 Q656.5,226 655.6,228.4 L644.1,245.6 H623.8 Z" stroke="#555" stroke-width="0.9" fill="none"/>
<path d="M697.6,193.6 H770.6" stroke="#b0b0b0" stroke-width="0.8"/>
<path d="M697.6,193.6 V267.5 H770.6" stroke="#8a8a8a" stroke-width="0.8" fill="none"/>
<path d="M696.6,201 h1.0 M704.9,267.5 v1.0 M696.6,208.4 h1.0 M712.2,267.5 v1.0 M695.8,215.8 h1.8 M719.5,267.5 v1.8 M696.6,223.2 h1.0 M726.8,267.5 v1.0 M696.6,230.6 h1.0 M734.1,267.5 v1.0 M695.8,237.9 h1.8 M741.4,267.5 v1.8 M696.6,245.3 h1.0 M748.7,267.5 v1.0 M696.6,252.7 h1.0 M756,267.5 v1.0 M695.8,260.1 h1.8 M763.3,267.5 v1.8 " stroke="#999" stroke-width="0.6" fill="none"/>
<filter id="cf4" x="-60%" y="-60%" width="220%" height="220%" color-interpolation-filters="sRGB">
<feGaussianBlur in="SourceAlpha" stdDeviation="3.4" result="b"/>
<feTurbulence type="fractalNoise" baseFrequency="1.3" numOctaves="1" seed="104" result="n"/>
<feComposite in="n" in2="b" operator="arithmetic" k1="0" k2="0.9" k3="1.15" k4="-0.95" result="m"/>
<feColorMatrix in="m" type="matrix" values="0 0 0 0 0  0 0 0 0 0  0 0 0 0 0  0 0 0 5 -1.0" result="mask"/>
<feFlood flood-color="#3cc0f0"/><feComposite in2="mask" operator="in"/></filter>
<ellipse cx="749" cy="229.5" rx="14" ry="10" transform="rotate(-30 749 229.5)" fill="#000" filter="url(#cf4)"/>
<filter id="cf5" x="-60%" y="-60%" width="220%" height="220%" color-interpolation-filters="sRGB">
<feGaussianBlur in="SourceAlpha" stdDeviation="2.4" result="b"/>
<feTurbulence type="fractalNoise" baseFrequency="1.3" numOctaves="1" seed="105" result="n"/>
<feComposite in="n" in2="b" operator="arithmetic" k1="0" k2="0.9" k3="1.25" k4="-0.95" result="m"/>
<feColorMatrix in="m" type="matrix" values="0 0 0 0 0  0 0 0 0 0  0 0 0 0 0  0 0 0 5 -1.1" result="mask"/>
<feFlood flood-color="#f03c3c"/><feComposite in2="mask" operator="in"/></filter>
<ellipse cx="732.3" cy="230.6" rx="13" ry="9" transform="rotate(-45 732.3 230.6)" fill="#000" filter="url(#cf5)"/>
<path d="M714.3,212.5 H747.2 V218.2 Q746.8,226 745.6,229.3 L734.5,244.2 H714.3 Z" stroke="#555" stroke-width="0.9" fill="none"/>
<text x="665.8" y="265.4" font-size="8.8" text-anchor="start" fill="#000" textLength="14.9" lengthAdjust="spacingAndGlyphs">8%</text>
<text x="754.1" y="265.2" font-size="8.8" text-anchor="start" fill="#000" textLength="19" lengthAdjust="spacingAndGlyphs">20%</text>
<text x="603.6" y="265.8" font-size="10.89" text-anchor="middle" fill="#000" textLength="17.1" lengthAdjust="spacingAndGlyphs" transform="rotate(-90 603.6 265.8)">SSC</text>
<path d="M599.3,257.5 V249 M595.3,252.8 L599.3,248.8 L603.3,252.8" stroke="#111" stroke-width="1" fill="none"/>
<text x="608.6" y="286.8" font-size="11.67" text-anchor="start" fill="#000" textLength="41" lengthAdjust="spacingAndGlyphs">Aldeflour</text>
<path d="M649.8,282.3 H658.5 M654.7,278.3 L658.7,282.3 L654.7,286.3" stroke="#111" stroke-width="1" fill="none"/>
<rect x="679.3" y="275.8" width="10.2" height="11.6" fill="#f40000" stroke="#6a5a9a" stroke-width="0.6"/>
<text x="692.3" y="285.9" font-size="10.19" text-anchor="start" fill="#000" textLength="29.8" lengthAdjust="spacingAndGlyphs">+DEAB</text>
<rect x="730.5" y="275.8" width="11" height="11.6" fill="#12a8ee" stroke="#6a7aaa" stroke-width="0.6"/>
<text x="742" y="285.7" font-size="10.35" text-anchor="start" fill="#000" textLength="27.8" lengthAdjust="spacingAndGlyphs">-DEAB</text>
<text x="-0.3" y="372.7" font-size="24.99" text-anchor="start" fill="#000" textLength="12.1" lengthAdjust="spacingAndGlyphs">E</text>
<text x="94.3" y="372.1" font-size="26.58" text-anchor="start" fill="#000" textLength="76" lengthAdjust="spacingAndGlyphs">SW872</text>
<filter id="hd3" x="0" y="0" width="1" height="1" color-interpolation-filters="sRGB">
 <feTurbulence type="fractalNoise" baseFrequency="0.45" numOctaves="3" seed="9"/>
 <feColorMatrix type="matrix" values="0 0 0 0 0.62  0 0 0 0 0.16  0 0 0 0 0.56  1.6 0 0 0 -0.704"/>
 <feComposite in2="SourceGraphic" operator="in"/></filter>
<filter id="hl3" x="0" y="0" width="1" height="1" color-interpolation-filters="sRGB">
 <feTurbulence type="fractalNoise" baseFrequency="0.4" numOctaves="3" seed="16"/>
 <feColorMatrix type="matrix" values="0 0 0 0 0.9  0 0 0 0 0.5  0 0 0 0 0.85  0 1.0 0 0 -0.55"/>
 <feComposite in2="SourceGraphic" operator="in"/></filter>
<filter id="hp3" x="0" y="0" width="1" height="1" color-interpolation-filters="sRGB">
 <feTurbulence type="fractalNoise" baseFrequency="0.06" numOctaves="3" seed="23"/>
 <feColorMatrix type="matrix" values="0 0 0 0 0.9  0 0 0 0 0.3  0 0 0 0 0.78  0 0 1.4 0 -0.7"/>
 <feComposite in2="SourceGraphic" operator="in"/></filter>
<rect x="56.8" y="374.6" width="153" height="115.7" fill="#cc5ec4"/>
<rect x="56.8" y="374.6" width="153" height="115.7" fill="#000" filter="url(#hp3)"/>
<rect x="56.8" y="374.6" width="153" height="115.7" fill="#000" filter="url(#hd3)"/>
<rect x="56.8" y="374.6" width="153" height="115.7" fill="#000" filter="url(#hl3)"/>
<path d="M95,405 Q130,420 165,458 M120,398 Q150,410 178,425 M65,440 Q95,445 120,450 M140,435 Q150,445 162,455" stroke="#a8309c" stroke-width="2.4" fill="none" opacity="0.22" filter="url(#blur1)"/>
<rect x="56.8" y="374.6" width="153" height="115.7" fill="none" stroke="#111" stroke-width="1"/>
<filter id="hd4" x="0" y="0" width="1" height="1" color-interpolation-filters="sRGB">
 <feTurbulence type="fractalNoise" baseFrequency="0.45" numOctaves="3" seed="12"/>
 <feColorMatrix type="matrix" values="0 0 0 0 0.62  0 0 0 0 0.16  0 0 0 0 0.56  1.6 0 0 0 -0.704"/>
 <feComposite in2="SourceGraphic" operator="in"/></filter>
<filter id="hl4" x="0" y="0" width="1" height="1" color-interpolation-filters="sRGB">
 <feTurbulence type="fractalNoise" baseFrequency="0.4" numOctaves="3" seed="21"/>
 <feColorMatrix type="matrix" values="0 0 0 0 0.9  0 0 0 0 0.5  0 0 0 0 0.85  0 1.0 0 0 -0.55"/>
 <feComposite in2="SourceGraphic" operator="in"/></filter>
<filter id="hp4" x="0" y="0" width="1" height="1" color-interpolation-filters="sRGB">
 <feTurbulence type="fractalNoise" baseFrequency="0.06" numOctaves="3" seed="30"/>
 <feColorMatrix type="matrix" values="0 0 0 0 0.9  0 0 0 0 0.3  0 0 0 0 0.78  0 0 1.4 0 -0.7"/>
 <feComposite in2="SourceGraphic" operator="in"/></filter>
<rect x="56.2" y="516" width="153.6" height="116.4" fill="#ca5cc2"/>
<rect x="56.2" y="516" width="153.6" height="116.4" fill="#000" filter="url(#hp4)"/>
<rect x="56.2" y="516" width="153.6" height="116.4" fill="#000" filter="url(#hd4)"/>
<rect x="56.2" y="516" width="153.6" height="116.4" fill="#000" filter="url(#hl4)"/>
<path d="M57,580 Q70,585 80,610 L82,632 L57,632 Z" fill="#e050c8" opacity="0.45" filter="url(#blur2)"/>
<path d="M75,540 Q100,555 120,585 M95,530 Q120,545 140,570" stroke="#a8309c" stroke-width="2.4" fill="none" opacity="0.15" filter="url(#blur1)"/>
<rect x="56.2" y="516" width="153.6" height="116.4" fill="none" stroke="#111" stroke-width="1"/>
<text x="48.3" y="434" font-size="19.85" text-anchor="middle" fill="#000" textLength="24.8" lengthAdjust="spacingAndGlyphs" transform="rotate(-90 48.3 434)">WT</text>
<text x="45.9" y="620.2" font-size="19.45" text-anchor="start" fill="#000" textLength="100.5" lengthAdjust="spacingAndGlyphs" transform="rotate(-90 45.9 620.2)">Doxorubicin<tspan font-size="72%" dy="-0.5em">r</tspan></text>
<text x="236.1" y="372.1" font-size="28.56" text-anchor="start" fill="#000" textLength="13" lengthAdjust="spacingAndGlyphs">F</text>
<path d="M313,417.9 L314.9,418.1 L316.9,418.2 L318.9,418.4 L320.8,418.6 L322.8,418.9 L324.7,419.2 L326.7,419.5 L328.6,419.9 L330.6,420.4 L332.6,420.9 L334.5,421.6 L336.5,422.3 L338.4,423.1 L340.4,424.1 L342.3,425.2 L344.3,426.5 L346.2,428 L348.2,429.7 L350.2,431.7 L352.1,433.9 L354.1,436.4 L356,439.3 L358,442.5 L359.9,446.1 L361.9,450.1 L363.8,454.6 L365.8,459.4 L367.8,464.7 L369.7,470.4 L371.7,476.5 L373.6,482.9 L375.6,489.6 L377.5,496.6 L379.5,503.7 L381.4,510.9 L383.4,518 L385.4,525.1 L387.3,531.9 L389.3,538.6 L391.2,544.8 L393.2,550.8 L395.1,556.3 L397.1,561.4 L399.1,566.1 L401,570.4 L403,574.2 L404.9,577.6 L406.9,580.7 L408.8,583.4 L410.8,585.8 L412.7,587.9 L414.7,589.8 L416.7,591.4 L418.6,592.8 L420.6,594 L422.5,595.1 L424.5,596 L426.4,596.8 L428.4,597.5 L430.3,598.1 L432.3,598.6 L434.3,599 L436.2,599.4 L438.2,599.7 L440.1,600 L442.1,600.2 L444,600.4 L446,600.6 L447.9,600.7 L449.9,600.9 L451.9,601 L453.8,601.1 L455.8,601.2 L457.7,601.2 L459.7,601.3 L461.6,601.3 L463.6,601.4 L465.6,601.4 L467.5,601.4 L469.5,601.5 L471.4,601.5 L473.4,601.5 L475.3,601.5 L477.3,601.6 L479.2,601.6 L481.2,601.6 L483.2,601.6 L485.1,601.6 L487.1,601.6 L489,601.6 L491,601.6 L492.9,601.6 L494.9,601.6 L496.8,601.6 L498.8,601.6 L500.8,601.6 L502.7,601.6 L504.7,601.6 L506.6,601.6 L508.6,601.6 L510.5,601.6 L512.5,601.6 L514.4,601.6 L516.4,601.6 L518.4,601.6 L520.3,601.6 L522.3,601.6 L524.2,601.6 L526.2,601.6 L528.1,601.6 L530.1,601.6 L532.1,601.6 L534,601.6 L536,601.6 L537.9,601.6 L539.9,601.6 L541.8,601.6 L543.8,601.6 L545.7,601.6 L547.7,601.6" stroke="#000" stroke-width="1.2" fill="none"/>
<path d="M313,410.5 L314.9,411.2 L316.9,411.8 L318.9,412.5 L320.8,413.3 L322.8,414.1 L324.7,414.9 L326.7,415.8 L328.6,416.7 L330.6,417.7 L332.6,418.7 L334.5,419.8 L336.5,421 L338.4,422.2 L340.4,423.5 L342.3,424.8 L344.3,426.2 L346.2,427.7 L348.2,429.3 L350.2,430.9 L352.1,432.6 L354.1,434.4 L356,436.3 L358,438.2 L359.9,440.3 L361.9,442.4 L363.8,444.6 L365.8,446.9 L367.8,449.2 L369.7,451.7 L371.7,454.2 L373.6,456.8 L375.6,459.4 L377.5,462.2 L379.5,465 L381.4,467.9 L383.4,470.8 L385.4,473.8 L387.3,476.9 L389.3,480 L391.2,483.1 L393.2,486.3 L395.1,489.5 L397.1,492.8 L399.1,496 L401,499.3 L403,502.6 L404.9,505.8 L406.9,509.1 L408.8,512.3 L410.8,515.5 L412.7,518.7 L414.7,521.8 L416.7,524.9 L418.6,528 L420.6,531 L422.5,533.9 L424.5,536.8 L426.4,539.6 L428.4,542.3 L430.3,545 L432.3,547.6 L434.3,550.1 L436.2,552.5 L438.2,554.9 L440.1,557.1 L442.1,559.3 L444,561.4 L446,563.5 L447.9,565.4 L449.9,567.3 L451.9,569 L453.8,570.7 L455.8,572.4 L457.7,573.9 L459.7,575.4 L461.6,576.8 L463.6,578.1 L465.6,579.4 L467.5,580.6 L469.5,581.8 L471.4,582.9 L473.4,583.9 L475.3,584.9 L477.3,585.8 L479.2,586.7 L481.2,587.5 L483.2,588.3 L485.1,589 L487.1,589.7 L489,590.4 L491,591 L492.9,591.6 L494.9,592.1 L496.8,592.7 L498.8,593.1 L500.8,593.6 L502.7,594 L504.7,594.4 L506.6,594.8 L508.6,595.2 L510.5,595.5 L512.5,595.8 L514.4,596.1 L516.4,596.4 L518.4,596.7 L520.3,596.9 L522.3,597.2 L524.2,597.4 L526.2,597.6 L528.1,597.8 L530.1,598 L532.1,598.1 L534,598.3 L536,598.4 L537.9,598.6 L539.9,598.7 L541.8,598.8 L543.8,599 L545.7,599.1 L547.7,599.2" stroke="#3b6fe0" stroke-width="1.2" fill="none"/>
<path d="M283.2,391.1 V602.7" stroke="#000" stroke-width="1" fill="none"/>
<path d="M278.8,602.7 H283.2 M281,593.1 H283.2 M281,583.5 H283.2 M281,573.9 H283.2 M281,564.3 H283.2 M278.8,554.7 H283.2 M281,545 H283.2 M281,535.4 H283.2 M281,525.8 H283.2 M281,516.2 H283.2 M278.8,506.6 H283.2 M281,497 H283.2 M281,487.4 H283.2 M281,477.8 H283.2 M281,468.2 H283.2 M278.8,458.6 H283.2 M281,448.9 H283.2 M281,439.3 H283.2 M281,429.7 H283.2 M281,420.1 H283.2 M278.8,410.5 H283.2 M281,400.9 H283.2 M281,391.3 H283.2 " stroke="#000" stroke-width="0.9" fill="none"/>
<text x="276.2" y="606.9" font-size="11.5" text-anchor="end" fill="#000">0</text>
<text x="276.2" y="558.9" font-size="11.5" text-anchor="end" fill="#000">25</text>
<text x="276.2" y="510.8" font-size="11.5" text-anchor="end" fill="#000">50</text>
<text x="276.2" y="462.8" font-size="11.5" text-anchor="end" fill="#000">75</text>
<text x="276.2" y="414.7" font-size="11.5" text-anchor="end" fill="#000">100</text>
<path d="M288.5,619.1 H308.6 M313.4,619.1 H547.7 M297,619.1 v3.5 M309.6,616.1 v6 M312.9,616.1 v6 M313.4,619.1 v2 M328.7,619.1 v2 M339.6,619.1 v2 M348,619.1 v2 M354.8,619.1 v2 M360.7,619.1 v2 M365.7,619.1 v2 M370.1,619.1 v2 M374.1,619.1 v3.5 M400.2,619.1 v2 M415.5,619.1 v2 M426.4,619.1 v2 M434.8,619.1 v2 M441.6,619.1 v2 M447.5,619.1 v2 M452.5,619.1 v2 M456.9,619.1 v2 M460.9,619.1 v3.5 M487,619.1 v2 M502.3,619.1 v2 M513.2,619.1 v2 M521.6,619.1 v2 M528.4,619.1 v2 M534.3,619.1 v2 M539.3,619.1 v2 M543.7,619.1 v2 M547.7,619.1 v3.5 " stroke="#000" stroke-width="0.9" fill="none"/>
<circle cx="290.6" cy="411.5" r="2.6" fill="#000"/>
<path d="M295.3,400.3 V420.2 M292.5,400.3 H298.1 M292.5,420.2 H298.1" stroke="#4a7fe8" stroke-width="0.8" fill="none"/>
<path d="M295.3,407.4 L298.3,412.7 L292.3,412.7 Z" fill="#4a7fe8"/>
<path d="M322,405 V417 M319.5,405 H324.5 M319.5,417 H324.5" stroke="#222" stroke-width="0.8" fill="none"/>
<circle cx="322" cy="413.8" r="2.6" fill="#000"/>
<path d="M322,401 V410 M319.2,401 H324.8 M319.2,410 H324.8" stroke="#4a7fe8" stroke-width="0.8" fill="none"/>
<path d="M322,402.5 L325,407.8 L319,407.8 Z" fill="#4a7fe8"/>
<circle cx="347.7" cy="441" r="2.6" fill="#000"/>
<path d="M347.7,407.4 V440 M344.7,407.4 H350.7 M344.7,440 H350.7" stroke="#4a7fe8" stroke-width="0.8" fill="none"/>
<path d="M347.7,421.1 L350.7,426.4 L344.7,426.4 Z" fill="#4a7fe8"/>
<path d="M374.5,449.6 V465.6 M371.5,449.6 H377.5 M371.5,465.6 H377.5" stroke="#4a7fe8" stroke-width="0.8" fill="none"/>
<path d="M374.5,454.9 L377.5,460.2 L371.5,460.2 Z" fill="#4a7fe8"/>
<path d="M374.3,470 V496.5 M371.3,470 H377.3 M371.3,496.5 H377.3" stroke="#222" stroke-width="0.8" fill="none"/>
<circle cx="374.3" cy="483" r="2.6" fill="#000"/>
<path d="M408.7,503 V519.3 M405.7,503 H411.7 M405.7,519.3 H411.7" stroke="#4a7fe8" stroke-width="0.8" fill="none"/>
<path d="M408.7,508.4 L411.7,513.7 L405.7,513.7 Z" fill="#4a7fe8"/>
<path d="M408.7,570 V593.3 M405.7,570 H411.7 M405.7,593.3 H411.7" stroke="#222" stroke-width="0.8" fill="none"/>
<circle cx="408.7" cy="582.2" r="2.6" fill="#000"/>
<path d="M435,550.8 L438,556.1 L432,556.1 Z" fill="#4a7fe8"/>
<circle cx="435" cy="593.9" r="2.6" fill="#000"/>
<text x="300.7" y="640.4" font-size="15.19" text-anchor="middle" fill="#000" textLength="26.7" lengthAdjust="spacingAndGlyphs">veh</text>
<text x="361.6" y="640.4" font-size="12.6" text-anchor="start" fill="#000">10</text>
<text x="376.1" y="634.5" font-size="9" text-anchor="start" fill="#000">-7</text>
<text x="448.4" y="640.4" font-size="12.6" text-anchor="start" fill="#000">10</text>
<text x="462.9" y="634.5" font-size="9" text-anchor="start" fill="#000">-6</text>
<text x="535.2" y="640.4" font-size="12.6" text-anchor="start" fill="#000">10</text>
<text x="549.7" y="634.5" font-size="9" text-anchor="start" fill="#000">-5</text>
<text x="403.1" y="667.9" font-size="10.22" text-anchor="start" fill="#000" textLength="71.1" lengthAdjust="spacingAndGlyphs">Doxorubicin [M]</text>
<text x="512.2" y="392.2" font-size="8.6" text-anchor="start" fill="#000" textLength="38.4" lengthAdjust="spacingAndGlyphs">IC50 [&#181;M]</text>
<path d="M394.3,405.3 H406.7" stroke="#000" stroke-width="1.2"/>
<circle cx="401.5" cy="405.3" r="2.2" fill="#000"/>
<text x="416.4" y="411" font-size="13.04" text-anchor="start" fill="#000" textLength="48.3" lengthAdjust="spacingAndGlyphs">WT SW872</text>
<path d="M394.3,420.7 H406.7" stroke="#4a7fe8" stroke-width="1.2"/>
<path d="M401,417.9 L403.5,422.2 L398.5,422.2 Z" fill="#4a7fe8"/>
<text x="413.3" y="427.9" font-size="15.09" text-anchor="start" fill="#000" textLength="53.4" lengthAdjust="spacingAndGlyphs">Doxorubicin</text>
<text x="467" y="420.5" font-size="9" text-anchor="start" fill="#000">r</text>
<text x="517.9" y="413.3" font-size="11.0" text-anchor="start" fill="#000" textLength="22.3" lengthAdjust="spacingAndGlyphs">0.12</text>
<text x="518" y="426.4" font-size="11.0" text-anchor="start" fill="#000" textLength="22.1" lengthAdjust="spacingAndGlyphs">0.19</text>
<text x="491.1" y="445.2" font-size="10.88" text-anchor="start" fill="#000" textLength="47.5" lengthAdjust="spacingAndGlyphs">P = 0.0171</text>
<text x="252.8" y="495" font-size="14.07" text-anchor="middle" fill="#000" textLength="64.1" lengthAdjust="spacingAndGlyphs" transform="rotate(-90 252.8 495)">% Viability</text>
<text x="591.5" y="372.1" font-size="27.96" text-anchor="start" fill="#000" textLength="18.2" lengthAdjust="spacingAndGlyphs">G</text>
<path d="M663.2,384.5 V376.3 H750.1 V384.5" stroke="#000" stroke-width="1.1" fill="none"/>
<text x="707.4" y="377" font-size="11" text-anchor="middle" fill="#000" font-weight="bold">**</text>
<path d="M629.8,381.8 V509" stroke="#000" stroke-width="1.5" fill="none"/>
<path d="M624.8,508.6 H629.8 M627.3,498.5 H629.8 M627.3,492.6 H629.8 M627.3,488.5 H629.8 M627.3,485.2 H629.8 M627.3,482.6 H629.8 M627.3,480.3 H629.8 M627.3,478.4 H629.8 M627.3,476.7 H629.8 M624.8,475.2 H629.8 M627.3,465.1 H629.8 M627.3,459.2 H629.8 M627.3,455 H629.8 M627.3,451.8 H629.8 M627.3,449.1 H629.8 M627.3,446.9 H629.8 M627.3,444.9 H629.8 M627.3,443.2 H629.8 M624.8,441.7 H629.8 M627.3,431.6 H629.8 M627.3,425.7 H629.8 M627.3,421.6 H629.8 M627.3,418.3 H629.8 M627.3,415.7 H629.8 M627.3,413.4 H629.8 M627.3,411.5 H629.8 M627.3,409.8 H629.8 M624.8,408.2 H629.8 M627.3,398.2 H629.8 M627.3,392.3 H629.8 M627.3,388.1 H629.8 M627.3,384.9 H629.8 M627.3,382.2 H629.8 " stroke="#000" stroke-width="0.8" fill="none"/>
<text x="622.2" y="411.9" font-size="9.2" text-anchor="end" fill="#000" font-weight="bold" textLength="23.8" lengthAdjust="spacingAndGlyphs">1&#215;10<tspan font-size="72%" dy="-0.45em">4</tspan></text>
<text x="622.2" y="445.4" font-size="9.2" text-anchor="end" fill="#000" font-weight="bold" textLength="23.8" lengthAdjust="spacingAndGlyphs">1&#215;10<tspan font-size="72%" dy="-0.45em">3</tspan></text>
<text x="622.2" y="478.9" font-size="9.2" text-anchor="end" fill="#000" font-weight="bold" textLength="23.8" lengthAdjust="spacingAndGlyphs">1&#215;10<tspan font-size="72%" dy="-0.45em">2</tspan></text>
<text x="622.2" y="512.3" font-size="9.2" text-anchor="end" fill="#000" font-weight="bold" textLength="23.8" lengthAdjust="spacingAndGlyphs">1&#215;10<tspan font-size="72%" dy="-0.45em">1</tspan></text>
<text x="589.7" y="452.2" font-size="8.24" text-anchor="middle" fill="#000" textLength="113.7" lengthAdjust="spacingAndGlyphs" transform="rotate(-90 589.7 452.2)">Soft agar colony size (px<tspan font-size="72%" dy="-0.5em">2</tspan><tspan dy="0.36em">)</tspan></text>
<text x="642.5" y="522.6" font-size="11.24" text-anchor="start" fill="#000" textLength="47.8" lengthAdjust="spacingAndGlyphs">WT SW872</text>
<text x="723.8" y="522.1" font-size="10.56" text-anchor="start" fill="#000" textLength="56" lengthAdjust="spacingAndGlyphs">Doxorubicin<tspan font-size="72%" dy="-0.5em">r</tspan></text>
<path d="M647.5,409 h1.4 M648,413 h1.4 M649.6,421 h1.4 M647.5,426 h1.4 M647.7,432 h1.4 M648.1,437 h1.4 M646.3,441 h1.4 M647.8,443 h1.4 M648.3,445 h1.4 M649,447 h1.4 M645.9,449 h1.4 M646.8,452 h1.4 M645.9,455 h1.4 M649.1,457 h1.4 " stroke="#000" stroke-width="1" fill="none"/>
<path d="M643.8,459 h4.9 M649.9,459 h1.7 M644.9,460 h1.7 M646.6,460 h2.3 M648.9,460 h3.1 M652,460 h0 M643.1,461 h3.8 M646.9,461 h2.5 M651,461 h2.8 M642.3,462 h2.5 M644.8,462 h4.2 M649,462 h4.1 M641.8,463 h1.5 M643.3,463 h4.7 M648,463 h4.9 M653,463 h1.8 M654.7,463 h2.2 M641.8,464 h4.9 M647.2,464 h2.4 M649.5,464 h1.7 M651.9,464 h2.1 M642.2,465 h2 M644.2,465 h1.9 M646.1,465 h2.2 M648.3,465 h4.9 M654,465 h2.2 M641.8,466 h3.7 M645.5,466 h5 M650.5,466 h2.4 M653.7,466 h2.5 M656.2,466 h1.4 M641.3,467 h2.8 M644.1,467 h4.9 M649,467 h3.5 M653.1,467 h2 M639.9,468 h4.1 M644.6,468 h4.8 M650.5,468 h3 M653.5,468 h1.2 M638.8,469 h4.4 M643.2,469 h2.5 M645.7,469 h4 M649.7,469 h2.3 M652,469 h4.2 M642.4,470 h2.2 M644.6,470 h2.4 M647.1,470 h1.7 M648.8,470 h2.8 M651.6,470 h2 M653.5,470 h3.8 M640.1,471 h2 M642.1,471 h1.6 M644.9,471 h4.9 M649.7,471 h3.7 M653.5,471 h3.8 M637.4,472 h3.4 M640.8,472 h4.7 M645.5,472 h4 M651,472 h2.7 M653.7,472 h2.7 M640.8,473 h3.5 M644.3,473 h2.8 M647.2,473 h3.6 M650.8,473 h3.7 M656,473 h2.5 M640,474 h3 M643.6,474 h4.1 M647.7,474 h3.6 M651.3,474 h2.3 M653.6,474 h3.2 M656.9,474 h0.5 M641.2,475 h3.9 M645,475 h2.1 M648.3,475 h3 M652.2,475 h2.1 M641.8,476 h4.7 M647.3,476 h3.5 M650.9,476 h2 M652.8,476 h4.3 M638.5,477 h2.1 M640.6,477 h2.5 M643,477 h2.9 M646,477 h3.2 M649.2,477 h4.4 M654.6,477 h1.8 M656.4,477 h0.4 M640.2,478 h2.6 M643.2,478 h2 M645.2,478 h1.6 M647.5,478 h2 M649.5,478 h3.7 M653.2,478 h3.7 M656.9,478 h0.2 M641.4,479 h2.1 M643.5,479 h3.2 M646.6,479 h2.1 M648.8,479 h2.7 M651.5,479 h3.3 M654.8,479 h0.5 M641.2,480 h1.8 M644.3,480 h2 M646.2,480 h3.7 M650.8,480 h3.5 M655.6,480 h2.8 M639.2,481 h4 M644.4,481 h4 M648.4,481 h4.6 M654.6,481 h1 M640.7,482 h2.7 M643.4,482 h3 M646.4,482 h4.2 M650.6,482 h1.6 M652.7,482 h4.3 M657,482 h1.5 M641.7,483 h4 M646.9,483 h4.8 M651.7,483 h3.5 M641.5,484 h2.5 M644,484 h3.7 M647.7,484 h4.5 M652.2,484 h2.6 M654.8,484 h0.7 M641.2,485 h3.3 M644.6,485 h2.2 M646.8,485 h3.3 M650,485 h1.6 M652.6,485 h2.9 M656.6,485 h2.1 M642,486 h2.9 M646.4,486 h2.4 M648.9,486 h1.9 M650.8,486 h4.3 M640.1,487 h3.7 M644.3,487 h4.2 M648.5,487 h2.2 M650.7,487 h3.9 M654.6,487 h0 M642.5,488 h1.9 M644.4,488 h2.4 M646.8,488 h3.4 M650.2,488 h2.8 M653,488 h2.9 M641.9,489 h3.7 M645.6,489 h4.5 M650.1,489 h4.5 M654.6,489 h1.2 M640.5,490 h4.7 M645.2,490 h5 M650.8,490 h2.3 M653.1,490 h1.9 M639.4,491 h4.3 M643.7,491 h2.9 M646.6,491 h1.6 M648.2,491 h3.9 M653.6,491 h1.9 M655.5,491 h1.3 M639,492 h1.7 M640.8,492 h1.6 M642.4,492 h3.3 M645.7,492 h2 M647.7,492 h2.2 M651.5,492 h4.1 M643.4,493 h3.1 M647.3,493 h3.1 M650.4,493 h3 M653.4,493 h1.5 M655,493 h1.5 M641.6,494 h2.9 M644.5,494 h2.1 M646.6,494 h1.6 M649.5,494 h4 M654.6,494 h2.3 M642.3,495 h4.3 M646.6,495 h4.7 M651.3,495 h4.2 M656.4,495 h1.5 M640.8,496 h2.9 M643.7,496 h1.7 M645.4,496 h3.1 M648.6,496 h2.7 M651.3,496 h3.7 M655,496 h2.8 M641.6,497 h3.5 M645.1,497 h2.9 M649.1,497 h4 M654.7,497 h1.6 M656.3,497 h0 M639.4,498 h2.2 M641.6,498 h1.8 M643.4,498 h4.7 M648.1,498 h3.3 M652.4,498 h1.9 M638.3,499 h3.6 M642.4,499 h4.8 M647.1,499 h3.2 M650.3,499 h3.2 M653.5,499 h1.7 M640.9,500 h2.8 M643.7,500 h3.8 M647.5,500 h2.5 M649.9,500 h2.5 M652.5,500 h2.4 M654.8,500 h1.7 M640.5,501 h1.7 M643.7,501 h1.8 M646.4,501 h3.2 M650.3,501 h3.3 M654.9,501 h3.1 M639.4,502 h3.7 M643.1,502 h2.2 M645.3,502 h3.3 M648.6,502 h3.1 M651.7,502 h3.1 M654.8,502 h0.1 M640.4,503 h5 M646.7,503 h2.3 M649.1,503 h4.6 M654.8,503 h1.7 M641,504 h3.6 M644.5,504 h4.1 M648.7,504 h2.4 M652.5,504 h3.7 M641.8,505 h3 M644.8,505 h1.9 M646.6,505 h1.8 M648.4,505 h3.9 M652.3,505 h1.3 M640.7,506 h2.7 M643.4,506 h4.4 M647.9,506 h1.9 M650.9,506 h3.4 M641.2,507 h4.3 M645.5,507 h3.8 M650.1,507 h3.4 M653.5,507 h0.7 M641,508 h4.6 M645.6,508 h1.8 M647.4,508 h3.2 M650.5,508 h2.5 " stroke="#000" stroke-width="1.05" fill="none"/>
<path d="M639.4,468 h18" stroke="#2a2a2a" stroke-width="1.1" fill="none"/>
<path d="M666.7,403.4 h1.4 M667.5,412 h1.4 M667.5,418 h1.4 M665.2,423 h1.4 M664.6,428 h1.4 M666.2,431 h1.4 M665.8,434 h1.4 M668.2,436 h1.4 M667.6,439 h1.4 M667.2,442 h1.4 M667.1,445 h1.4 M667.5,447 h1.4 M665.2,448 h1.4 M666.5,450 h1.4 M665.3,451 h1.4 M668.6,453 h1.4 " stroke="#000" stroke-width="1" fill="none"/>
<path d="M665.9,454.5 h3.8 M665.3,455.5 h4.9 M664.1,456.5 h4.4 M668.6,456.5 h1.7 M664.9,457.5 h4.8 M669.7,457.5 h2 M663.5,458.5 h2.1 M665.5,458.5 h1.7 M667.2,458.5 h4.4 M671.6,458.5 h0.5 M662.1,459.5 h1.6 M663.7,459.5 h4.9 M669.8,459.5 h2.6 M661.8,460.5 h1.9 M663.7,460.5 h2.8 M666.5,460.5 h4.3 M670.8,460.5 h1.6 M673.3,460.5 h0.8 M661,461.5 h4.2 M665.2,461.5 h3.4 M668.7,461.5 h3.9 M672.6,461.5 h0.8 M658.9,462.5 h3.1 M662,462.5 h2.5 M664.5,462.5 h4.9 M669.3,462.5 h4.1 M658.4,463.5 h2.2 M660.6,463.5 h4.7 M665.3,463.5 h2.4 M668.5,463.5 h2.3 M670.9,463.5 h1.6 M672.5,463.5 h3.2 M660.5,464.5 h4.3 M665.9,464.5 h2.3 M668.2,464.5 h3.2 M671.4,464.5 h2 M660,465.5 h4.6 M664.6,465.5 h4.8 M669.4,465.5 h3.9 M673.3,465.5 h0.3 M661.1,466.5 h3.9 M665,466.5 h4.6 M669.6,466.5 h2.3 M672,466.5 h3.2 M660.9,467.5 h4.9 M666.7,467.5 h3.6 M671.6,467.5 h3.5 M675.1,467.5 h1.8 M658.1,468.5 h4 M663.4,468.5 h4.6 M669.1,468.5 h4.3 M673.3,468.5 h0.4 M661.8,469.5 h3.9 M665.8,469.5 h3.7 M669.4,469.5 h3.4 M672.8,469.5 h2.9 M675.7,469.5 h0.4 M658.2,470.5 h1.8 M660,470.5 h3.9 M665.2,470.5 h4.8 M669.9,470.5 h1.6 M671.5,470.5 h2.9 M659,471.5 h2.3 M661.3,471.5 h4.8 M666.1,471.5 h2.8 M668.9,471.5 h2.2 M671.1,471.5 h2.3 M674.3,471.5 h0.7 M660.4,472.5 h4.5 M664.9,472.5 h3.1 M669.4,472.5 h2.3 M671.7,472.5 h3.6 M660.1,473.5 h4.9 M665,473.5 h3.9 M668.8,473.5 h4.1 M672.9,473.5 h3.1 M659.4,474.5 h2.3 M661.6,474.5 h2.4 M664,474.5 h4.3 M668.3,474.5 h4.8 M673.1,474.5 h0.2 M659.3,475.5 h3.7 M664.2,475.5 h4.2 M668.4,475.5 h3.7 M672.1,475.5 h1.2 M660.1,476.5 h4.3 M664.4,476.5 h2.2 M666.6,476.5 h4.9 M671.5,476.5 h1.7 M658.8,477.5 h4.1 M662.9,477.5 h2 M666.2,477.5 h2.2 M668.9,477.5 h2.6 M671.5,477.5 h2.1 M673.6,477.5 h1.7 M659.9,478.5 h2.6 M663.7,478.5 h1.9 M665.5,478.5 h3.4 M668.9,478.5 h3.3 M672.2,478.5 h0.8 M659.7,479.5 h3.7 M663.4,479.5 h3 M666.4,479.5 h4 M670.4,479.5 h4.7 M659.9,480.5 h4.8 M664.7,480.5 h3 M667.7,480.5 h3.6 M672.7,480.5 h2 M674.7,480.5 h1.7 M659.8,481.5 h2.4 M662.2,481.5 h3.9 M666.1,481.5 h4.9 M657.6,482.5 h2.3 M660.8,482.5 h2.2 M664,482.5 h3.4 M667.4,482.5 h2.3 M669.7,482.5 h3.6 M660.9,483.5 h2.8 M663.7,483.5 h4.7 M668.4,483.5 h3.8 M672.3,483.5 h2.3 M674.6,483.5 h2.2 M660.3,484.5 h4.5 M665.8,484.5 h2.2 M668,484.5 h3.4 M671.4,484.5 h2.3 M673.7,484.5 h0.2 M661.6,485.5 h4.1 M665.7,485.5 h3 M668.7,485.5 h4.1 M672.8,485.5 h2.1 M674.9,485.5 h1.3 M660,486.5 h2.7 M663.6,486.5 h3.3 M666.8,486.5 h2.1 M668.9,486.5 h2.2 M671.2,486.5 h2.6 M658.6,487.5 h2.7 M661.3,487.5 h2.9 M664.1,487.5 h3.8 M667.9,487.5 h3.9 M671.8,487.5 h2.4 M658.9,488.5 h3 M661.9,488.5 h4.4 M666.4,488.5 h2.2 M668.6,488.5 h3.7 M672.3,488.5 h1.7 M658.9,489.5 h3.1 M662.1,489.5 h4 M666.8,489.5 h3.3 M670.1,489.5 h3.3 M673.4,489.5 h2 M660.2,490.5 h1.6 M663.1,490.5 h2.9 M667.5,490.5 h2 M670.4,490.5 h2.6 M673,490.5 h0.6 M660.4,491.5 h2.6 M663,491.5 h1.9 M665.8,491.5 h3.2 M669,491.5 h3.3 M662.3,492.5 h4.7 M668,492.5 h2.8 M670.8,492.5 h4.2 M659,493.5 h3.4 M662.9,493.5 h3.7 M666.6,493.5 h4.4 M672.2,493.5 h2.3 M660.1,494.5 h2.9 M663,494.5 h4.7 M667.7,494.5 h3.5 M672.7,494.5 h1.4 M659.3,495.5 h4.7 M663.9,495.5 h4.3 M668.2,495.5 h3.7 M672.6,495.5 h2.4 M661.3,496.5 h3.9 M666.4,496.5 h2.8 M669.2,496.5 h1.8 M670.9,496.5 h1.6 M673.2,496.5 h2.2 M659.5,497.5 h2.1 M663.1,497.5 h4.9 M668,497.5 h2.9 M670.9,497.5 h2.5 M673.4,497.5 h2.3 M659.3,498.5 h4.1 M663.5,498.5 h2.1 M665.6,498.5 h3.7 M669.2,498.5 h1.8 M671.1,498.5 h3 M674,498.5 h0.3 M662,499.5 h4.7 M666.7,499.5 h4.6 M671.2,499.5 h4.7 M662.4,500.5 h3.8 M666.2,500.5 h2.2 M668.4,500.5 h4.9 M673.3,500.5 h1.9 M660.4,501.5 h5 M666.3,501.5 h4.7 M671,501.5 h1.7 M674.1,501.5 h1.6 M660.5,502.5 h1.7 M662.3,502.5 h3.2 M667,502.5 h3.3 M670.3,502.5 h2.5 M660.5,503.5 h3.9 M664.3,503.5 h2.1 M666.4,503.5 h3.1 M669.5,503.5 h2.2 M671.7,503.5 h2.1 M673.8,503.5 h2.6 M660.4,504.5 h2.9 M663.3,504.5 h4.9 M669.3,504.5 h3.8 M673.1,504.5 h1.1 M661.3,505.5 h2.1 M663.4,505.5 h4.1 M667.5,505.5 h4.6 M672.1,505.5 h1.8 M660.3,506.5 h2 M663.3,506.5 h4.7 M668,506.5 h2.5 M670.5,506.5 h2.4 M673.6,506.5 h1.4 M662.5,507.5 h4.6 M667.1,507.5 h3 M670.1,507.5 h4.4 M674.5,507.5 h0.6 M658.8,508.5 h1.7 M660.9,508.5 h4.1 M665,508.5 h2.5 M667.5,508.5 h3 M672,508.5 h2.3 " stroke="#000" stroke-width="1.05" fill="none"/>
<path d="M658,463.6 h19" stroke="#2a2a2a" stroke-width="1.1" fill="none"/>
<path d="M685.3,406 h1.4 M687.2,416 h1.4 M687.2,422 h1.4 M687.9,428 h1.4 M685,431 h1.4 M685.2,433 h1.4 M684.8,437 h1.4 M685.2,440 h1.4 M687.4,443 h1.4 M684.8,446 h1.4 M686.5,448 h1.4 " stroke="#000" stroke-width="1" fill="none"/>
<path d="M685.3,449.7 h3.3 M685.3,450.7 h4.2 M684.1,451.7 h2.5 M686.5,451.7 h2.6 M684.3,452.7 h4.8 M689.9,452.7 h0.6 M683.9,453.7 h3 M686.9,453.7 h3 M689.9,453.7 h0.6 M683.5,454.7 h3.4 M686.9,454.7 h2 M688.9,454.7 h2.4 M683.9,455.7 h2.4 M686.3,455.7 h3.6 M689.9,455.7 h0.4 M683.1,456.7 h2.2 M685.3,456.7 h1.8 M687,456.7 h3.1 M683.4,457.7 h1.7 M685,457.7 h4.3 M690.5,457.7 h1.9 M682.8,458.7 h4.3 M687.1,458.7 h4.5 M691.6,458.7 h1.4 M681.7,459.7 h4 M685.7,459.7 h3.7 M689.4,459.7 h3.6 M681.2,460.7 h2.5 M683.8,460.7 h3.9 M687.7,460.7 h2.3 M689.9,460.7 h2.3 M680.5,461.7 h3 M683.6,461.7 h1.8 M685.4,461.7 h5 M690.4,461.7 h1.1 M680.3,462.7 h3.1 M683.4,462.7 h4.4 M687.8,462.7 h2.7 M690.5,462.7 h1.4 M681.8,463.7 h2.5 M684.3,463.7 h3.3 M688.9,463.7 h2.4 M691.3,463.7 h2 M680.6,464.7 h2.4 M682.9,464.7 h2.2 M685.1,464.7 h1.6 M686.8,464.7 h1.8 M689.7,464.7 h1.5 M691.8,464.7 h1 M680.8,465.7 h3 M683.8,465.7 h4.5 M688.3,465.7 h4 M680.9,466.7 h1.6 M682.5,466.7 h2.8 M685.3,466.7 h4.6 M690.3,466.7 h2.3 M679.4,467.7 h4.6 M684,467.7 h1.9 M686,467.7 h2.4 M688.9,467.7 h3.2 M692.1,467.7 h1.7 M680.4,468.7 h4.8 M685.2,468.7 h4.7 M689.9,468.7 h3.5 M693.4,468.7 h1.4 M681.3,469.7 h4.3 M685.6,469.7 h2.5 M688.9,469.7 h1.8 M690.7,469.7 h1.6 M692.3,469.7 h0.8 M680.7,470.7 h4.3 M685,470.7 h3.7 M690,470.7 h2.5 M693,470.7 h2.6 M696.5,470.7 h0 M679.7,471.7 h2.4 M682.1,471.7 h4.8 M686.9,471.7 h4.5 M679.3,472.7 h3.2 M682.5,472.7 h3.1 M686.6,472.7 h2.2 M688.8,472.7 h3.2 M692,472.7 h3.5 M695.5,472.7 h1.2 M680.9,473.7 h2.6 M684.5,473.7 h3.3 M688.5,473.7 h4.1 M692.6,473.7 h1.3 M677.2,474.7 h4.4 M681.6,474.7 h1.7 M683.3,474.7 h4.7 M688,474.7 h3.2 M691.2,474.7 h2.4 M693.6,474.7 h1 M678.1,475.7 h2.3 M680.4,475.7 h4 M684.3,475.7 h4.7 M689,475.7 h1.9 M692.4,475.7 h2.6 M679.3,476.7 h3.6 M682.9,476.7 h2 M684.9,476.7 h3.6 M688.5,476.7 h3.7 M692.2,476.7 h3.3 M680.8,477.7 h3.2 M684.1,477.7 h2.9 M688,477.7 h4.8 M692.8,477.7 h2.7 M678.4,478.7 h3.2 M681.6,478.7 h4.3 M687.5,478.7 h3.1 M690.6,478.7 h2.4 M679.7,479.7 h2 M681.8,479.7 h2.5 M685,479.7 h4.8 M689.7,479.7 h2.2 M692.4,479.7 h0.1 M680.4,480.7 h2.2 M682.6,480.7 h1.6 M684.2,480.7 h1.7 M685.9,480.7 h3.5 M690.5,480.7 h2.5 M680,481.7 h2 M682,481.7 h3.7 M685.7,481.7 h3.3 M689.6,481.7 h4 M693.6,481.7 h2.9 M680.5,482.7 h3.4 M684.7,482.7 h4 M688.7,482.7 h3.8 M692.5,482.7 h1.7 M678,483.7 h2.6 M680.6,483.7 h3 M683.6,483.7 h4 M687.6,483.7 h3 M690.5,483.7 h2.3 M692.9,483.7 h1.5 M677.4,484.7 h1.9 M680.7,484.7 h3.1 M683.7,484.7 h2 M685.7,484.7 h3.3 M689,484.7 h2 M691.5,484.7 h2.7 M681.6,485.7 h3.5 M685.1,485.7 h4.8 M691,485.7 h3.1 M680.7,486.7 h3.7 M684.4,486.7 h1.6 M686.8,486.7 h3 M689.8,486.7 h3.4 M693.2,486.7 h2.3 M680.6,487.7 h3 M683.7,487.7 h4.1 M687.8,487.7 h4.1 M693,487.7 h2.4 M680.4,488.7 h3.2 M684.1,488.7 h2.7 M686.8,488.7 h3.1 M690.5,488.7 h2.8 M678.4,489.7 h2.9 M682.6,489.7 h3.5 M686.1,489.7 h1.6 M687.7,489.7 h3.1 M690.8,489.7 h2.2 M678,490.7 h4.9 M682.8,490.7 h4.9 M687.7,490.7 h3.1 M691.8,490.7 h2.2 M679.8,491.7 h2.3 M682.1,491.7 h3 M686.5,491.7 h3.1 M689.6,491.7 h4.4 M694,491.7 h1.2 M677.9,492.7 h4.3 M682.2,492.7 h1.6 M683.7,492.7 h2.5 M686.3,492.7 h4.9 M691.1,492.7 h3 M680.7,493.7 h1.9 M682.6,493.7 h1.7 M684.3,493.7 h2.1 M686.5,493.7 h1.7 M688.2,493.7 h3.7 M691.9,493.7 h1.4 M677.9,494.7 h3.7 M681.6,494.7 h2.1 M683.7,494.7 h2.3 M686.1,494.7 h4.3 M690.3,494.7 h3.5 M693.8,494.7 h0.3 M681.4,495.7 h2.4 M683.8,495.7 h3.1 M687.4,495.7 h3 M690.4,495.7 h3 M679.6,496.7 h2.3 M681.9,496.7 h3.4 M686.4,496.7 h1.5 M689,496.7 h3 M692,496.7 h2.3 M679.8,497.7 h4.6 M684.4,497.7 h1.7 M686.7,497.7 h2.8 M689.4,497.7 h2.8 M681.3,498.7 h3.1 M684.4,498.7 h3.1 M687.6,498.7 h4.9 M692.4,498.7 h2.7 M680.2,499.7 h4.5 M685.8,499.7 h4.8 M690.7,499.7 h3.5 M694.2,499.7 h1.3 M681.9,500.7 h3 M684.8,500.7 h2.2 M687,500.7 h2.8 M689.8,500.7 h2.6 M693.4,500.7 h0.8 M681.8,501.7 h2.2 M684,501.7 h3.7 M687.7,501.7 h1.5 M689.7,501.7 h2.1 M691.7,501.7 h1.3 M679.7,502.7 h4.7 M684.4,502.7 h4.9 M689.3,502.7 h2 M692.6,502.7 h1.5 M679.7,503.7 h2.2 M681.9,503.7 h5 M686.9,503.7 h2.3 M689.1,503.7 h4.6 M678.8,504.7 h4.1 M682.9,504.7 h4.8 M688.2,504.7 h4.1 M692.3,504.7 h0.3 M681.2,505.7 h1.7 M683,505.7 h3.8 M687.3,505.7 h4.6 M691.9,505.7 h1.4 M680.2,506.7 h3.8 M684,506.7 h2.2 M686.2,506.7 h1.9 M688.1,506.7 h3.5 M680.5,507.7 h2.8 M683.3,507.7 h2.1 M685.5,507.7 h3.9 M689.4,507.7 h1.7 M691.1,507.7 h2 M680.3,508.7 h3.7 M683.9,508.7 h3.5 M687.5,508.7 h3.3 M691.3,508.7 h2.2 " stroke="#000" stroke-width="1.05" fill="none"/>
<path d="M678.1,468.7 h18" stroke="#2a2a2a" stroke-width="1.1" fill="none"/>
<path d="M730.9,417.2 h1.4 M733.5,420 h1.4 M733.3,423 h1.4 M734.5,426 h1.4 " stroke="#4a6fe0" stroke-width="1" fill="none"/>
<path d="M732.4,427.5 h1.7 M732.3,428.5 h2.2 M732.3,429.5 h2.1 M732.2,430.5 h2.4 M731.9,431.5 h2.4 M731.5,432.5 h3.4 M732,433.5 h2.9 M731.2,434.5 h3.6 M731.6,435.5 h3.7 M731.7,436.5 h3.4 M731.4,437.5 h3.6 M731.2,438.5 h3.7 M730.5,439.5 h5 M735.5,439.5 h0.4 M731.3,440.5 h4.1 M730.3,441.5 h1.8 M733.1,441.5 h2.2 M735.3,441.5 h0.3 M730.2,442.5 h4.4 M734.6,442.5 h0.9 M729.8,443.5 h3.3 M733.2,443.5 h2.7 M730.2,444.5 h3.2 M733.4,444.5 h2.9 M729.7,445.5 h4.5 M734.7,445.5 h1.4 M729,446.5 h4 M733.9,446.5 h2.2 M728.6,447.5 h2.6 M731.2,447.5 h3.7 M734.9,447.5 h2.3 M729.7,448.5 h4.9 M734.6,448.5 h1.6 M728.6,449.5 h2 M730.7,449.5 h2.3 M733.7,449.5 h2.4 M736.1,449.5 h0.2 M728.2,450.5 h3.5 M731.7,450.5 h4.8 M736.5,450.5 h1.4 M729.8,451.5 h3.4 M733.2,451.5 h2.6 M736.9,451.5 h1.8 M728.2,452.5 h1.9 M730.1,452.5 h3.9 M734,452.5 h2.4 M736.4,452.5 h1 M727.1,453.5 h2.8 M729.9,453.5 h2 M731.9,453.5 h2 M733.9,453.5 h2 M735.9,453.5 h2.3 M738.2,453.5 h0.2 M727.5,454.5 h3.5 M730.9,454.5 h2.9 M733.9,454.5 h3.1 M738.4,454.5 h1.4 M726.9,455.5 h1.8 M729.7,455.5 h4.9 M736,455.5 h3.8 M726.4,456.5 h2 M728.3,456.5 h3.6 M731.9,456.5 h3.1 M735,456.5 h3.2 M738.2,456.5 h1 M727.2,457.5 h1.5 M729.4,457.5 h5 M735.9,457.5 h4.3 M726.7,458.5 h4.8 M731.5,458.5 h2 M734.8,458.5 h4 M725.9,459.5 h4.7 M730.5,459.5 h3 M733.6,459.5 h4.3 M737.9,459.5 h2.5 M726.1,460.5 h4.5 M730.6,460.5 h2.9 M733.5,460.5 h1.9 M735.4,460.5 h2.3 M737.7,460.5 h0.1 M728.7,461.5 h3.5 M732.1,461.5 h3.9 M736,461.5 h3.8 M739.8,461.5 h0.3 M726.3,462.5 h4 M730.2,462.5 h2.8 M733,462.5 h2.8 M735.9,462.5 h3.2 M739,462.5 h2 M725,463.5 h2.1 M727.1,463.5 h2 M729.8,463.5 h4.7 M734.5,463.5 h2 M736.5,463.5 h3.9 M740.4,463.5 h0.1 M724.1,464.5 h4.3 M728.4,464.5 h3.3 M731.7,464.5 h2 M733.6,464.5 h4.7 M738.3,464.5 h2.2 M725.4,465.5 h2.7 M729.2,465.5 h2.7 M733.5,465.5 h3 M736.6,465.5 h2.6 M739.7,465.5 h0.5 M728.2,466.5 h2.3 M730.4,466.5 h3.6 M734,466.5 h4.2 M738.2,466.5 h2.4 M728.1,467.5 h4.4 M732.5,467.5 h3.6 M736,467.5 h3.4 M739.4,467.5 h1.2 M728,468.5 h3.7 M732.2,468.5 h4.1 M736.3,468.5 h3.4 M739.7,468.5 h1.2 M725.7,469.5 h2.9 M728.5,469.5 h3.8 M733.2,469.5 h4.6 M737.8,469.5 h2.5 M740.3,469.5 h0.4 M723.7,470.5 h3.1 M726.7,470.5 h1.7 M728.5,470.5 h2.4 M730.8,470.5 h3.3 M734.1,470.5 h4.7 M739.7,470.5 h0.1 M727,471.5 h3.5 M731.7,471.5 h4.8 M736.5,471.5 h4.8 M741.3,471.5 h0.5 M725.4,472.5 h2.1 M728,472.5 h2.3 M730.4,472.5 h2.2 M732.6,472.5 h2.4 M735,472.5 h1.5 M736.5,472.5 h3.3 M724.3,473.5 h2.3 M727.2,473.5 h4.3 M732,473.5 h4.5 M736.4,473.5 h3.3 M740.6,473.5 h2.1 M723.8,474.5 h4 M727.8,474.5 h4.9 M734.3,474.5 h3.3 M738.3,474.5 h1.9 M740.2,474.5 h1.6 M724.6,475.5 h2.6 M727.2,475.5 h4.3 M731.5,475.5 h2.7 M734.2,475.5 h4.9 M739.1,475.5 h1.4 M725.2,476.5 h2.3 M727.5,476.5 h2.5 M730,476.5 h3.5 M733.6,476.5 h4.1 M737.6,476.5 h3 M724.6,477.5 h2.8 M728.3,477.5 h4.1 M732.4,477.5 h2.8 M735.2,477.5 h4.1 M739.3,477.5 h2.4 M726.1,478.5 h3.8 M729.9,478.5 h4.8 M734.6,478.5 h2.9 M739,478.5 h3.6 M743.2,478.5 h0.4 M722.8,479.5 h2.6 M725.5,479.5 h2.2 M728.2,479.5 h1.8 M730.4,479.5 h2.3 M732.7,479.5 h4.6 M737.3,479.5 h3.4 M723.2,480.5 h3.4 M726.6,480.5 h4.5 M731.1,480.5 h1.8 M732.9,480.5 h3.7 M736.6,480.5 h3.6 M724.8,481.5 h4 M730.2,481.5 h2.6 M732.8,481.5 h4.9 M727.4,482.5 h3.9 M731.2,482.5 h3.3 M734.5,482.5 h3.2 M737.8,482.5 h3.2 M741,482.5 h0.7 M727.8,483.5 h3.3 M731.1,483.5 h4.7 M736.8,483.5 h3.4 M740.2,483.5 h0.5 M723.4,484.5 h1.6 M725,484.5 h1.8 M726.7,484.5 h5 M731.7,484.5 h3.6 M735.3,484.5 h2.8 M738.1,484.5 h2.1 M725.6,485.5 h2.8 M729.2,485.5 h4.6 M733.7,485.5 h3.7 M737.4,485.5 h3.7 M727.6,486.5 h2.4 M731.4,486.5 h3.7 M735.2,486.5 h4.6 M739.8,486.5 h2 M725.3,487.5 h4.5 M729.9,487.5 h1.9 M731.7,487.5 h3.1 M734.8,487.5 h2.5 M737.3,487.5 h2.3 M727.7,488.5 h4.4 M732,488.5 h2.4 M734.4,488.5 h1.8 M736.3,488.5 h3 M727.6,489.5 h2.5 M730.1,489.5 h3.9 M733.9,489.5 h2.4 M736.4,489.5 h3.3 M739.7,489.5 h1.7 M725.1,490.5 h3.9 M729,490.5 h2.5 M731.5,490.5 h4.4 M735.9,490.5 h3.4 M739.3,490.5 h0.5 M727.5,491.5 h1.6 M729.1,491.5 h4.3 M734.9,491.5 h2.4 M738.1,491.5 h0.5 M726.4,492.5 h4.9 M731.2,492.5 h4.3 M735.5,492.5 h4 M739.6,492.5 h0.2 M727.2,493.5 h2.5 M730.1,493.5 h3.2 M733.3,493.5 h1.9 M735.1,493.5 h4.7 M727.2,494.5 h4.4 M732.2,494.5 h4.7 M737,494.5 h1.9 M738.9,494.5 h0.9 M726.6,495.5 h3.2 M729.8,495.5 h4.9 M734.6,495.5 h3.9 M738.6,495.5 h0 M729,496.5 h2.2 M731.2,496.5 h2.7 M733.9,496.5 h2.8 M736.7,496.5 h2.1 M727.7,497.5 h2.3 M730,497.5 h3.4 M733.9,497.5 h2.2 M736,497.5 h1.9 M729.2,498.5 h1.6 M732,498.5 h3.1 M736.1,498.5 h1.5 M729,499.5 h3.4 M732.3,499.5 h1.9 M734.2,499.5 h2.5 M727.1,500.5 h1.7 M728.8,500.5 h3 M731.9,500.5 h2 M733.9,500.5 h3.7 M728.4,501.5 h2.5 M730.9,501.5 h4.3 M736.6,501.5 h0.2 M728.1,502.5 h4.2 M732.4,502.5 h3.3 M735.7,502.5 h2.4 M728.9,503.5 h2.5 M731.4,503.5 h2.1 M733.5,503.5 h4 M737.5,503.5 h1.3 M729.3,504.5 h2 M731.3,504.5 h1.7 M734.1,504.5 h1.7 M729.9,505.5 h2.3 M732.2,505.5 h1.8 M734.7,505.5 h2.2 M736.9,505.5 h0 M729.3,506.5 h4 M733.3,506.5 h2.6 M730.4,507.5 h3.2 M733.6,507.5 h3.4 M729.4,508.5 h4.4 M733.8,508.5 h2.2 " stroke="#4a6fe0" stroke-width="1.05" fill="none"/>
<path d="M724,462.7 h18.5" stroke="#2a2a2a" stroke-width="1.1" fill="none"/>
<path d="M753.8,395.8 h1.4 M749.7,400 h1.4 M752.8,404 h1.4 M750.3,408 h1.4 M753.9,412 h1.4 M749.7,416 h1.4 M753.5,420 h1.4 " stroke="#4a6fe0" stroke-width="1" fill="none"/>
<path d="M751.7,424 h1.9 M751.1,425 h2.5 M751.5,426 h2.3 M751.1,427 h2.5 M751.4,428 h2.7 M750.9,429 h3.7 M751.2,430 h3.2 M750.4,431 h3.8 M750.4,432 h4 M750.7,433 h3.7 M750.4,434 h4.4 M749.8,435 h2.9 M754.3,435 h1.2 M749.9,436 h4.5 M749.5,437 h4 M753.6,437 h2.4 M749.4,438 h5 M749.9,439 h3.4 M753.4,439 h2.6 M748.6,440 h2.3 M750.9,440 h4.4 M755.3,440 h0.7 M748.6,441 h4.7 M753.3,441 h1.8 M748.9,442 h4.4 M754.6,442 h1.2 M749.1,443 h2.1 M751.1,443 h3.2 M754.8,443 h1.7 M749.2,444 h3.6 M752.8,444 h2.4 M755.2,444 h1.5 M748,445 h2.7 M750.8,445 h4 M754.7,445 h1.8 M748.4,446 h1.6 M749.9,446 h2.7 M752.6,446 h3.3 M755.9,446 h2.2 M747.7,447 h2.6 M750.3,447 h3.6 M753.9,447 h2.7 M756.6,447 h1.4 M749.1,448 h3.5 M752.6,448 h4.6 M747.9,449 h4.1 M752,449 h3.2 M756.1,449 h0.4 M746,450 h3.8 M751,450 h3.5 M754.5,450 h3 M747.7,451 h3.3 M751,451 h3.4 M754.4,451 h2 M756.4,451 h1.1 M747.3,452 h3.8 M751.1,452 h2.5 M753.6,452 h2.5 M756.5,452 h3.7 M744.9,453 h3.8 M748.7,453 h3.9 M752.6,453 h4 M756.6,453 h1.4 M748.1,454 h1.7 M749.8,454 h3 M753.6,454 h3.5 M757.1,454 h1.8 M746.5,455 h3 M749.5,455 h4.7 M754.9,455 h4.2 M747.4,456 h2.1 M749.5,456 h5 M754.5,456 h3.1 M757.6,456 h2.3 M744.6,457 h4.3 M748.9,457 h3.7 M752.7,457 h2.1 M755.7,457 h3.2 M744.5,458 h2.3 M746.7,458 h3.3 M750,458 h3.9 M754,458 h2.6 M757.5,458 h1.2 M747.4,459 h3.9 M751.3,459 h3.5 M755.4,459 h3.8 M759.2,459 h0.8 M745.7,460 h2.9 M748.6,460 h3.7 M753.5,460 h3.1 M756.6,460 h2.9 M761,460 h0.2 M747,461 h2.8 M749.8,461 h1.8 M751.6,461 h2.3 M753.9,461 h2.3 M756.2,461 h1.8 M758,461 h3.1 M745,462 h3.2 M748.2,462 h2.3 M752.1,462 h2.1 M754.1,462 h3.8 M745.9,463 h4.3 M750.1,463 h3.7 M754.3,463 h4.2 M758.4,463 h2.5 M745.3,464 h3.6 M748.8,464 h2.8 M751.6,464 h4.8 M756.4,464 h1.5 M759.3,464 h1 M743.8,465 h4.7 M748.5,465 h1.9 M750.5,465 h1.7 M752.1,465 h3.6 M756.6,465 h1.8 M742.8,466 h2 M744.8,466 h4.8 M751.1,466 h1.7 M752.8,466 h2 M754.8,466 h4.3 M759.1,466 h0.4 M744.6,467 h2.3 M746.9,467 h4.9 M753.4,467 h4.5 M757.8,467 h1.9 M743.1,468 h4.8 M748.6,468 h4.7 M753.2,468 h4.3 M757.6,468 h2.3 M742.8,469 h3.1 M745.9,469 h2.9 M748.8,469 h3.7 M752.5,469 h4.7 M757.2,469 h3.3 M743.4,470 h4.7 M748.7,470 h2.8 M751.4,470 h2 M753.4,470 h3 M756.4,470 h2.9 M746.3,471 h3.8 M751.7,471 h4.6 M756.3,471 h1.8 M758.1,471 h1.5 M745.4,472 h3.1 M749.7,472 h3.6 M753.3,472 h2.3 M755.6,472 h3 M758.7,472 h2.4 M743.4,473 h1.7 M745.1,473 h4.7 M749.8,473 h1.9 M751.7,473 h5 M756.7,473 h1.8 M758.5,473 h1.7 M760.1,473 h0.6 M742.5,474 h4.3 M746.8,474 h4.1 M750.9,474 h4.8 M756.7,474 h2.5 M744,475 h3.4 M748.7,475 h2.9 M752.9,475 h1.6 M754.4,475 h2.6 M757,475 h2.8 M744.1,476 h2 M746.1,476 h3.4 M749.5,476 h3 M752.5,476 h2.6 M755.7,476 h2.3 M743.6,477 h3.7 M747.4,477 h1.5 M749.4,477 h4.2 M753.6,477 h2.5 M756.1,477 h4.6 M747.1,478 h4.1 M751.8,478 h3.8 M755.7,478 h3.9 M742.8,479 h5 M747.7,479 h4.6 M752.4,479 h3.3 M757.2,479 h2.3 M745.4,480 h4.6 M750,480 h3 M754,480 h2 M757.3,480 h0.7 M746.5,481 h2 M748.4,481 h2.4 M751.4,481 h4.2 M755.5,481 h2 M757.5,481 h3.5 M742.9,482 h3.5 M747.1,482 h2.5 M749.6,482 h2.1 M751.7,482 h4.7 M756.4,482 h2.1 M759,482 h0.3 M744.3,483 h4.9 M749.1,483 h3.6 M752.7,483 h3.5 M756.2,483 h3.7 M745.1,484 h2.4 M747.5,484 h2.5 M749.9,484 h4.5 M754.4,484 h2.8 M745.9,485 h3.6 M749.5,485 h3.8 M753.3,485 h2.2 M755.6,485 h3 M758.6,485 h0.8 M745.7,486 h3.6 M749.3,486 h3.8 M753.1,486 h4.7 M757.9,486 h1.1 M745.6,487 h4.6 M750.2,487 h2.3 M752.5,487 h3.7 M756.2,487 h3 M759.2,487 h2 M747.4,488 h4.2 M751.6,488 h4.3 M755.9,488 h3.6 M747.9,489 h1.9 M749.8,489 h2.6 M752.4,489 h4.6 M757.1,489 h1.6 M759.3,489 h0.2 M747.8,490 h2.4 M750.2,490 h4.4 M754.6,490 h2.1 M756.7,490 h2 M759.1,490 h0 M747.1,491 h4.7 M752.3,491 h1.6 M753.9,491 h3.1 M757,491 h2.7 M744.7,492 h4.5 M749.2,492 h1.6 M750.8,492 h4.1 M755,492 h1.7 M758.2,492 h1.1 M747.3,493 h2.2 M749.5,493 h3.2 M753.8,493 h3.6 M748.2,494 h4.6 M752.8,494 h2.3 M755.1,494 h2.4 M757.5,494 h0.9 M745.2,495 h2.9 M748.1,495 h2.6 M750.6,495 h2.4 M753.1,495 h3.7 M757.4,495 h0.4 M747,496 h3 M750.8,496 h4.8 M755.6,496 h1.3 M747.8,497 h3.7 M751.5,497 h1.6 M753.1,497 h3.9 M745.8,498 h2 M747.8,498 h4.9 M752.7,498 h3.4 M756.1,498 h1.6 M746.9,499 h1.7 M748.5,499 h3 M751.5,499 h4.1 M755.6,499 h2 M757.6,499 h1 M746.7,500 h2.5 M749.2,500 h3.1 M752.2,500 h1.6 M755.4,500 h1.6 M747.5,501 h1.8 M749.3,501 h3 M752.3,501 h3.4 M755.7,501 h1.9 M747.5,502 h2.2 M749.7,502 h3.3 M753,502 h2.3 M755.3,502 h2.6 M747.1,503 h3.3 M750.4,503 h3.6 M754,503 h3.3 M747.5,504 h2.3 M749.7,504 h3.3 M753.1,504 h3.2 M756.3,504 h1.1 M749.1,505 h2.9 M751.9,505 h1.9 M753.8,505 h1.7 M755.5,505 h1.8 M748.5,506 h2.9 M751.4,506 h4 M756.9,506 h0.4 M748.6,507 h3.1 M752.3,507 h4.1 M756.4,507 h1 M748,508 h2.6 M751.9,508 h2.9 M754.7,508 h0.9 " stroke="#4a6fe0" stroke-width="1.05" fill="none"/>
<path d="M743.5,456.8 h18" stroke="#2a2a2a" stroke-width="1.1" fill="none"/>
<path d="M771,402.2 h1.4 M771.5,406 h1.4 M771.2,410 h1.4 M771.4,414 h1.4 M771.2,418 h1.4 M772.3,422 h1.4 " stroke="#4a6fe0" stroke-width="1" fill="none"/>
<path d="M771.1,427.5 h2.5 M770.8,428.5 h2.7 M770.2,429.5 h3.6 M769.8,430.5 h4.7 M770.1,431.5 h2.4 M773.9,431.5 h1.6 M769.8,432.5 h2.5 M772.4,432.5 h2.6 M774.9,432.5 h0.1 M769.6,433.5 h4.8 M774.5,433.5 h0.9 M768.8,434.5 h2.3 M771.1,434.5 h2.6 M773.7,434.5 h1.7 M775.4,434.5 h0.4 M768.4,435.5 h4.7 M773.1,435.5 h3 M768.4,436.5 h1.6 M770,436.5 h2.3 M772.3,436.5 h2.8 M775.1,436.5 h1 M768.6,437.5 h4.8 M773.4,437.5 h2.6 M767.9,438.5 h1.9 M769.9,438.5 h3.7 M774.1,438.5 h1.1 M768.7,439.5 h2.4 M771,439.5 h1.5 M772.6,439.5 h3.9 M767.9,440.5 h1.6 M769.6,440.5 h4.1 M773.6,440.5 h1.6 M775.3,440.5 h0.9 M766.5,441.5 h1.9 M768.4,441.5 h3 M771.4,441.5 h1.9 M773.3,441.5 h4.4 M777.7,441.5 h0.4 M766.8,442.5 h3.8 M772.1,442.5 h2.2 M774.3,442.5 h1.6 M775.9,442.5 h0.4 M768.8,443.5 h2.6 M771.4,443.5 h3.4 M774.8,443.5 h3.4 M765.6,444.5 h3.7 M769.3,444.5 h4 M773.4,444.5 h3.1 M767,445.5 h2.1 M769.1,445.5 h2.9 M772,445.5 h2.3 M774.3,445.5 h2.4 M766.7,446.5 h3.7 M770.4,446.5 h4.7 M775,446.5 h2.4 M765.7,447.5 h2.3 M768,447.5 h4.5 M773.7,447.5 h3.7 M777.4,447.5 h2.5 M766.6,448.5 h3.3 M769.9,448.5 h3.5 M773.4,448.5 h4 M777.4,448.5 h2.2 M768.2,449.5 h4.1 M773.7,449.5 h4.8 M778.5,449.5 h0.3 M764.1,450.5 h4.8 M768.9,450.5 h2.2 M771.1,450.5 h2.1 M773.2,450.5 h1.8 M775,450.5 h2 M777,450.5 h1.3 M766.6,451.5 h1.9 M769.4,451.5 h1.9 M771.3,451.5 h2.2 M773.5,451.5 h2.8 M776.3,451.5 h2.2 M778.4,451.5 h1.1 M765.1,452.5 h2.9 M768,452.5 h3.4 M771.4,452.5 h5 M776.4,452.5 h3.7 M763.2,453.5 h1.7 M764.8,453.5 h2.9 M768.7,453.5 h4.8 M773.4,453.5 h4.9 M778.3,453.5 h1.1 M765.3,454.5 h4.9 M770.2,454.5 h4.4 M774.7,454.5 h4.6 M779.3,454.5 h0.7 M765,455.5 h2.6 M767.6,455.5 h3 M770.6,455.5 h3.6 M774.2,455.5 h1.8 M776,455.5 h4.1 M764.8,456.5 h4.9 M769.6,456.5 h4 M773.7,456.5 h4.3 M765.8,457.5 h4.8 M770.6,457.5 h1.6 M772.2,457.5 h4.6 M776.8,457.5 h3 M762.7,458.5 h4.9 M767.6,458.5 h1.5 M769.1,458.5 h1.8 M770.9,458.5 h4.9 M777.3,458.5 h2.7 M765,459.5 h4.9 M771.2,459.5 h2.6 M773.8,459.5 h3 M776.7,459.5 h4.1 M780.9,459.5 h1 M764.4,460.5 h1.5 M765.9,460.5 h1.8 M767.7,460.5 h2.4 M770.1,460.5 h3.2 M773.4,460.5 h1.5 M774.9,460.5 h2.4 M777.3,460.5 h0.1 M766,461.5 h3.6 M769.6,461.5 h2.3 M771.9,461.5 h2.9 M776.3,461.5 h2 M778.3,461.5 h3.3 M762.6,462.5 h2.4 M766.6,462.5 h4.6 M771.1,462.5 h4.2 M775.4,462.5 h2.9 M778.3,462.5 h0.9 M764.1,463.5 h5 M769.1,463.5 h2.9 M772,463.5 h3.4 M775.4,463.5 h1.8 M764.9,464.5 h2.8 M768.6,464.5 h2 M771.3,464.5 h3 M774.3,464.5 h3.8 M762.9,465.5 h4.8 M769,465.5 h2.2 M771.2,465.5 h3 M774.3,465.5 h2.2 M777.6,465.5 h0.7 M765.4,466.5 h2.2 M767.6,466.5 h4.8 M772.4,466.5 h3.1 M776.8,466.5 h2.6 M779.4,466.5 h2.4 M781.8,466.5 h0.2 M766.1,467.5 h1.9 M768.1,467.5 h1.7 M769.7,467.5 h2.4 M772.1,467.5 h3.3 M775.4,467.5 h4.9 M780.3,467.5 h0.5 M765.3,468.5 h2.7 M767.9,468.5 h2.6 M771.9,468.5 h4.6 M776.5,468.5 h4 M764.1,469.5 h4.8 M768.9,469.5 h4.1 M773,469.5 h4.6 M777.7,469.5 h0.2 M763.9,470.5 h3.4 M767.2,470.5 h3 M770.2,470.5 h1.8 M773.4,470.5 h4.3 M777.7,470.5 h3.8 M763.9,471.5 h1.7 M765.6,471.5 h1.8 M767.4,471.5 h2 M769.5,471.5 h1.6 M771.1,471.5 h2.6 M773.7,471.5 h2.1 M775.8,471.5 h3.7 M779.5,471.5 h3.4 M763.1,472.5 h2.6 M765.6,472.5 h2.7 M768.3,472.5 h3 M771.3,472.5 h2 M773.3,472.5 h4.7 M779,472.5 h0.7 M765.2,473.5 h1.7 M766.9,473.5 h3.4 M770.3,473.5 h3.3 M773.6,473.5 h3.8 M778.8,473.5 h1 M765.4,474.5 h2.5 M767.9,474.5 h2.8 M770.7,474.5 h4.5 M776.3,474.5 h4.2 M780.4,474.5 h1.7 M762.9,475.5 h4.4 M767.3,475.5 h2.3 M769.7,475.5 h4.5 M774.2,475.5 h2.6 M776.8,475.5 h3.6 M762.7,476.5 h3.6 M766.3,476.5 h2.5 M768.9,476.5 h2.1 M772.1,476.5 h3.8 M777.2,476.5 h2.7 M779.9,476.5 h0.3 M764.7,477.5 h4.4 M769.2,477.5 h2.2 M771.3,477.5 h2.5 M775.3,477.5 h2.1 M777.4,477.5 h2.6 M762.7,478.5 h3 M766.1,478.5 h4 M770.1,478.5 h2.5 M773.5,478.5 h3.2 M777.5,478.5 h1.9 M762.7,479.5 h4.9 M767.6,479.5 h3.2 M771.7,479.5 h1.6 M773.3,479.5 h1.6 M774.9,479.5 h4 M764.4,480.5 h2.8 M767.2,480.5 h2.6 M769.8,480.5 h4.2 M774,480.5 h2.4 M776.5,480.5 h2.3 M780.1,480.5 h1 M765.5,481.5 h2.5 M768,481.5 h2.8 M770.8,481.5 h4.3 M775.1,481.5 h2.9 M778,481.5 h2.6 M780.6,481.5 h0.3 M765.7,482.5 h2.4 M769.1,482.5 h4.1 M773.3,482.5 h1.9 M775.2,482.5 h2.2 M777.3,482.5 h2.5 M766.4,483.5 h1.9 M768.3,483.5 h4.5 M772.8,483.5 h2.7 M775.6,483.5 h3.7 M766.7,484.5 h4.2 M770.9,484.5 h2 M773,484.5 h2.5 M776.6,484.5 h2.1 M778.7,484.5 h1.6 M764.7,485.5 h3.4 M768.1,485.5 h1.5 M769.6,485.5 h4.2 M773.9,485.5 h1.5 M776.8,485.5 h0.6 M764.6,486.5 h3.4 M768,486.5 h2.3 M770.3,486.5 h4.3 M774.5,486.5 h2.1 M776.6,486.5 h1 M766,487.5 h1.5 M767.6,487.5 h3.6 M771.2,487.5 h1.7 M772.9,487.5 h2.2 M776.3,487.5 h2.9 M766.8,488.5 h3.3 M770.1,488.5 h4.2 M774.3,488.5 h2.6 M778.1,488.5 h2.1 M780.2,488.5 h0.6 M766,489.5 h3.5 M769.4,489.5 h3.3 M772.7,489.5 h3.1 M775.9,489.5 h2.8 M778.6,489.5 h2.1 M780.7,489.5 h0.1 M766.8,490.5 h4.9 M771.7,490.5 h3.3 M775,490.5 h3.2 M779.1,490.5 h1.4 M765.6,491.5 h2.5 M768.1,491.5 h4.5 M773.6,491.5 h1.9 M775.5,491.5 h4.8 M780.2,491.5 h1.1 M766.2,492.5 h2.5 M769.4,492.5 h4.2 M773.5,492.5 h2.3 M777.4,492.5 h1.6 M763.7,493.5 h4.1 M767.7,493.5 h3.1 M770.9,493.5 h1.7 M772.5,493.5 h4.7 M777.2,493.5 h1.6 M763.4,494.5 h2.3 M765.8,494.5 h3.7 M769.5,494.5 h3.9 M773.3,494.5 h4.5 M777.8,494.5 h0.6 M765,495.5 h4.7 M769.7,495.5 h4.6 M774.3,495.5 h4 M765.8,496.5 h2.7 M768.5,496.5 h3.6 M772.1,496.5 h1.9 M775.4,496.5 h4.5 M766.6,497.5 h4.7 M771.3,497.5 h2.8 M774,497.5 h4.5 M765.3,498.5 h1.8 M768,498.5 h3.8 M771.8,498.5 h4.4 M776.2,498.5 h2.9 M768.1,499.5 h4.9 M773.7,499.5 h1.5 M775.2,499.5 h3.2 M765.1,500.5 h1.8 M768.1,500.5 h2.5 M770.6,500.5 h2 M772.6,500.5 h4 M776.5,500.5 h0.6 M765.9,501.5 h3.4 M769.3,501.5 h2.4 M771.7,501.5 h2.6 M774.4,501.5 h3.7 M778.1,501.5 h0.2 M765.8,502.5 h2.5 M768.3,502.5 h3.7 M772,502.5 h5 M777,502.5 h1.3 M766.6,503.5 h4.7 M771.2,503.5 h2.6 M773.8,503.5 h4.1 M777.9,503.5 h1.2 M766.3,504.5 h4.1 M771.4,504.5 h4.4 M775.8,504.5 h1.8 M767.3,505.5 h1.7 M768.9,505.5 h4.6 M774.2,505.5 h2.9 M766.9,506.5 h3.8 M770.7,506.5 h4.6 M776,506.5 h0 M768.8,507.5 h3.7 M773.7,507.5 h3.9 M768.2,508.5 h2 M770.2,508.5 h1.6 M771.8,508.5 h2.5 M774.4,508.5 h3 M777.3,508.5 h0.9 " stroke="#4a6fe0" stroke-width="1.05" fill="none"/>
<path d="M763.3,457.3 h18" stroke="#2a2a2a" stroke-width="1.1" fill="none"/>
<text x="592.1" y="547.9" font-size="25.67" text-anchor="start" fill="#000" textLength="16.5" lengthAdjust="spacingAndGlyphs">H</text>
<rect x="628" y="535.8" width="78.7" height="78.2" fill="none" stroke="#b0b0b0" stroke-width="0.8"/>
<path d="M628,535.8 V614 H706.7" stroke="#8a8a8a" stroke-width="0.8" fill="none"/>
<path d="M627,543.6 h1.0 M635.9,614 v1.0 M627,551.4 h1.0 M643.7,614 v1.0 M626.2,559.3 h1.8 M651.6,614 v1.8 M627,567.1 h1.0 M659.5,614 v1.0 M627,574.9 h1.0 M667.4,614 v1.0 M626.2,582.7 h1.8 M675.2,614 v1.8 M627,590.5 h1.0 M683.1,614 v1.0 M627,598.4 h1.0 M691,614 v1.0 M626.2,606.2 h1.8 M698.8,614 v1.8 " stroke="#999" stroke-width="0.6" fill="none"/>
<filter id="cf6" x="-60%" y="-60%" width="220%" height="220%" color-interpolation-filters="sRGB">
<feGaussianBlur in="SourceAlpha" stdDeviation="1.8" result="b"/>
<feTurbulence type="fractalNoise" baseFrequency="1.3" numOctaves="1" seed="201" result="n"/>
<feComposite in="n" in2="b" operator="arithmetic" k1="0" k2="0.9" k3="1.2" k4="-0.95" result="m"/>
<feColorMatrix in="m" type="matrix" values="0 0 0 0 0  0 0 0 0 0  0 0 0 0 0  0 0 0 5 -1.1" result="mask"/>
<feFlood flood-color="#3cc0f0"/><feComposite in2="mask" operator="in"/></filter>
<ellipse cx="670.2" cy="560.2" rx="10" ry="4" transform="rotate(-42 670.2 560.2)" fill="#000" filter="url(#cf6)"/>
<filter id="cf7" x="-60%" y="-60%" width="220%" height="220%" color-interpolation-filters="sRGB">
<feGaussianBlur in="SourceAlpha" stdDeviation="1.8" result="b"/>
<feTurbulence type="fractalNoise" baseFrequency="1.3" numOctaves="1" seed="202" result="n"/>
<feComposite in="n" in2="b" operator="arithmetic" k1="0" k2="0.9" k3="1.25" k4="-0.95" result="m"/>
<feColorMatrix in="m" type="matrix" values="0 0 0 0 0  0 0 0 0 0  0 0 0 0 0  0 0 0 5 -1.0" result="mask"/>
<feFlood flood-color="#f03c3c"/><feComposite in2="mask" operator="in"/></filter>
<ellipse cx="675" cy="561.5" rx="11" ry="4.5" transform="rotate(-39 675 561.5)" fill="#000" filter="url(#cf7)"/>
<path d="M655.4,552.3 H682.7 L685.5,555.8 L671,573.2 H655.4 Z" stroke="#444" stroke-width="0.9" fill="none"/>
<rect x="714" y="535.8" width="77.6" height="78.2" fill="none" stroke="#b0b0b0" stroke-width="0.8"/>
<path d="M714,535.8 V614 H791.6" stroke="#8a8a8a" stroke-width="0.8" fill="none"/>
<path d="M713,543.6 h1.0 M721.8,614 v1.0 M713,551.4 h1.0 M729.5,614 v1.0 M712.2,559.3 h1.8 M737.3,614 v1.8 M713,567.1 h1.0 M745,614 v1.0 M713,574.9 h1.0 M752.8,614 v1.0 M712.2,582.7 h1.8 M760.6,614 v1.8 M713,590.5 h1.0 M768.3,614 v1.0 M713,598.4 h1.0 M776.1,614 v1.0 M712.2,606.2 h1.8 M783.8,614 v1.8 " stroke="#999" stroke-width="0.6" fill="none"/>
<filter id="cf8" x="-60%" y="-60%" width="220%" height="220%" color-interpolation-filters="sRGB">
<feGaussianBlur in="SourceAlpha" stdDeviation="1.8" result="b"/>
<feTurbulence type="fractalNoise" baseFrequency="1.3" numOctaves="1" seed="203" result="n"/>
<feComposite in="n" in2="b" operator="arithmetic" k1="0" k2="0.9" k3="1.2" k4="-0.95" result="m"/>
<feColorMatrix in="m" type="matrix" values="0 0 0 0 0  0 0 0 0 0  0 0 0 0 0  0 0 0 5 -1.1" result="mask"/>
<feFlood flood-color="#3cc0f0"/><feComposite in2="mask" operator="in"/></filter>
<ellipse cx="764" cy="564" rx="9" ry="2.8" transform="rotate(-49 764 564)" fill="#000" filter="url(#cf8)"/>
<filter id="cf9" x="-60%" y="-60%" width="220%" height="220%" color-interpolation-filters="sRGB">
<feGaussianBlur in="SourceAlpha" stdDeviation="1.8" result="b"/>
<feTurbulence type="fractalNoise" baseFrequency="1.3" numOctaves="1" seed="204" result="n"/>
<feComposite in="n" in2="b" operator="arithmetic" k1="0" k2="0.9" k3="1.25" k4="-0.95" result="m"/>
<feColorMatrix in="m" type="matrix" values="0 0 0 0 0  0 0 0 0 0  0 0 0 0 0  0 0 0 5 -1.0" result="mask"/>
<feFlood flood-color="#f03c3c"/><feComposite in2="mask" operator="in"/></filter>
<ellipse cx="757.9" cy="562.2" rx="12.5" ry="5" transform="rotate(-38 757.9 562.2)" fill="#000" filter="url(#cf9)"/>
<path d="M741.1,552.3 H768.1 L770.9,555.9 L756.3,573.2 H741.1 Z" stroke="#444" stroke-width="0.9" fill="none"/>
<text x="682.9" y="610.9" font-size="9.8" text-anchor="start" fill="#000" textLength="20.3" lengthAdjust="spacingAndGlyphs">0.5%</text>
<text x="767.1" y="610.9" font-size="9.8" text-anchor="start" fill="#000" textLength="25.8" lengthAdjust="spacingAndGlyphs">10.7%</text>
<text x="618.4" y="613.5" font-size="11.08" text-anchor="middle" fill="#000" textLength="16.6" lengthAdjust="spacingAndGlyphs" transform="rotate(-90 618.4 613.5)">SSC</text>
<path d="M614.5,605 V596.6 M610.5,600.4 L614.5,596.4 L618.5,600.4" stroke="#111" stroke-width="1" fill="none"/>
<text x="623.1" y="634.5" font-size="11.75" text-anchor="start" fill="#000" textLength="40.7" lengthAdjust="spacingAndGlyphs">Aldeflour</text>
<path d="M664.3,630.2 H673 M669.2,626.2 L673.2,630.2 L669.2,634.2" stroke="#111" stroke-width="1" fill="none"/>
<rect x="693.3" y="623.9" width="10.2" height="11.3" fill="#f40000" stroke="#6a5a9a" stroke-width="0.6"/>
<text x="706.1" y="633.8" font-size="11.47" text-anchor="start" fill="#000" textLength="30.2" lengthAdjust="spacingAndGlyphs">+DEAB</text>
<rect x="744.6" y="623.9" width="10.6" height="11.3" fill="#12a8ee" stroke="#6a7aaa" stroke-width="0.6"/>
<text x="755.9" y="633.7" font-size="11.27" text-anchor="start" fill="#000" textLength="28.2" lengthAdjust="spacingAndGlyphs">-DEAB</text>
<text x="19.1" y="707.7" font-size="28.18" text-anchor="start" fill="#000">I</text>
<text x="197" y="697.9" font-size="14.66" text-anchor="start" fill="#000" textLength="72.9" lengthAdjust="spacingAndGlyphs">WT &#8211; SW872</text>
<text x="567.4" y="695.9" font-size="13.7" text-anchor="start" fill="#000" textLength="76.2" lengthAdjust="spacingAndGlyphs">SW872-doxo<tspan font-size="72%" dy="-0.5em">r</tspan></text>
<text x="130" y="711.3" font-size="9.49" text-anchor="start" fill="#000" textLength="18.5" lengthAdjust="spacingAndGlyphs">Veh</text>
<text x="285" y="710.7" font-size="6.37" text-anchor="start" fill="#000" textLength="91.2" lengthAdjust="spacingAndGlyphs">+0.3 &#181;M doxorubicin</text>
<text x="509.3" y="710.3" font-size="9.0" text-anchor="start" fill="#000" textLength="17.5" lengthAdjust="spacingAndGlyphs">Veh</text>
<text x="653" y="708" font-size="8.27" text-anchor="start" fill="#000" textLength="92.6" lengthAdjust="spacingAndGlyphs">+0.3 &#181;M doxorubicin</text>
<text x="30.6" y="787.4" font-size="19.31" text-anchor="middle" fill="#000" textLength="29.9" lengthAdjust="spacingAndGlyphs" transform="rotate(-90 30.6 787.4)">48h</text>
<clipPath id="cl1"><rect x="49.9" y="717" width="181.1" height="135"/></clipPath>
<rect x="49.9" y="717" width="181.1" height="135" fill="#555555"/>
<rect x="49.9" y="717" width="181.1" height="135" fill="#000" filter="url(#micC)"/>
<g clip-path="url(#cl1)"><g filter="url(#blur04)"><path d="M58.6,833.9l-2.3,4.6M133.1,793.5l-3.1,0.2M114.4,727.8l3.6,0.7M153.8,794.9l4.7,3.2M220.9,782.7l3.0,5.7M214.8,783.3l6.1,2.1M147.8,740.9l-3.3,0.9M104.2,838.6l-2.0,4.9M147.2,794.7l-1.2,4.6M192.1,788.9l-1.2,4.1M98.7,830.1l-6.0,3.6M56.0,834.3l-3.1,3.9M220.8,827.7l-3.9,4.4M170.6,846.0l-1.1,4.6M94.1,790.0l5.5,1.3M95.9,809.1l-3.2,2.9M216.0,768.5l6.3,2.8M108.6,771.9l5.2,1.3M226.5,775.7l1.7,5.0M189.5,800.2l-2.6,2.4M203.4,851.5l5.6,0.3M59.6,776.5l2.9,5.6M109.0,825.4l-4.0,5.6M88.7,744.0l2.1,5.7M178.2,754.7l5.0,2.8M188.7,799.1l5.3,1.2M153.3,790.5l3.6,3.5M131.4,790.6l6.5,2.4M108.7,813.5l1.5,3.6M67.3,777.8l5.7,2.1M229.5,751.0l-0.2,4.2M53.5,798.6l-2.4,3.8M128.0,784.7l0.8,4.8M96.4,816.7l-4.2,3.3M62.2,733.5l1.2,3.2M98.3,832.0l4.2,1.2M120.9,808.1l-5.9,1.2M166.6,803.6l1.2,3.8M172.2,769.0l5.7,0.3M147.2,726.9l1.0,3.3M189.6,840.0l-4.8,0.7M123.1,771.8l4.1,0.3M190.5,782.7l1.5,5.9M81.8,742.5l1.6,3.8M218.5,845.7l-0.7,4.6M76.4,849.7l3.3,4.5M155.9,721.2l-0.3,4.2M138.2,843.5l-4.2,4.5M186.2,768.7l-3.0,4.0M197.4,822.6l1.0,4.0M209.5,763.8l1.9,3.5M220.8,829.9l3.5,1.1M107.1,797.0l-4.9,0.0M119.6,790.4l3.8,3.4M125.5,769.1l-3.0,0.4M204.7,794.1l-0.8,4.2M193.7,836.2l-5.1,2.2M89.5,776.0l4.5,2.8M180.6,757.2l-4.6,1.6M189.2,788.1l-6.0,2.3M165.8,749.4l6.3,1.4M108.8,805.5l-1.3,3.6M190.1,738.8l-2.7,1.7M114.5,833.9l-1.5,3.9M57.4,777.3l-6.0,0.3M196.4,808.9l0.0,5.9M105.5,738.4l-2.6,4.4M181.9,827.8l-3.4,3.3M93.8,849.0l2.8,6.1M113.7,813.3l2.3,5.2M169.9,809.7l5.2,0.7M216.9,787.0l1.2,3.2M50.3,717.3l2.9,1.8M117.5,786.1l1.5,4.5M159.8,786.6l3.2,3.7M82.9,805.9l-5.6,0.1M64.0,843.5l3.4,1.9M101.9,832.1l-3.1,0.9M159.0,717.9l-1.8,2.5M215.1,776.7l3.7,2.6M76.9,762.8l-1.2,3.2M196.9,800.1l2.3,4.1M180.7,739.3l-0.0,4.9M209.5,728.1l4.2,3.4M75.3,750.6l4.7,4.4M115.3,787.5l-0.8,3.7M55.7,730.3l1.8,6.2M197.0,785.2l2.4,2.1M80.5,824.0l-2.3,4.1M147.5,753.3l-4.7,4.7M192.5,789.6l2.4,3.2M148.7,761.5l-1.0,5.9M124.7,790.6l-2.0,6.3M190.7,789.1l4.9,0.4M87.0,730.4l1.0,5.4M218.6,783.7l-1.0,5.9M130.9,808.7l5.0,3.4M167.9,802.8l-2.1,6.2M51.3,826.6l-2.3,3.9M195.7,785.2l3.4,4.0M189.0,792.5l0.7,4.5M121.4,724.4l4.3,0.8M135.0,722.1l-3.8,0.3M108.1,840.3l4.0,5.5M182.5,750.6l-2.1,2.9M211.0,796.5l-3.6,5.4M117.7,731.5l-2.6,3.9M126.7,827.2l2.8,2.4M157.8,800.8l0.4,3.4M122.5,834.0l-2.7,2.6M220.4,765.3l-1.5,4.9M196.9,796.6l3.3,3.1M161.0,753.0l6.0,3.3M191.9,745.6l1.7,3.3M230.4,756.3l5.9,2.2M167.2,719.0l2.2,2.8M154.9,799.1l-0.5,3.5M168.8,744.3l-2.4,5.7M81.8,805.8l5.6,3.8M211.3,732.0l-1.7,6.4M98.7,717.4l-2.5,5.3M208.7,757.9l-0.6,4.6M107.3,735.2l-5.1,2.0M119.4,729.6l0.6,3.4M83.8,844.3l-5.7,2.7M184.4,757.3l2.5,5.2M171.3,830.7l-3.7,3.6M166.4,828.1l0.9,4.0M164.0,749.0l-3.1,5.4M169.8,823.4l6.0,1.0M220.8,833.2l-1.9,2.6M170.1,724.8l-3.1,0.1M114.0,832.1l3.2,1.9M83.9,826.6l-1.4,2.9M160.8,799.8l-2.5,6.0M163.5,790.1l5.0,4.7M93.4,731.6l1.9,3.2M213.8,786.6l1.5,4.1M215.8,763.1l1.0,4.8M181.0,739.1l5.7,1.1M109.4,793.8l3.6,0.4M85.5,828.7l-1.6,4.6M90.9,725.0l-1.3,3.4M132.0,795.6l-2.8,1.0M58.3,800.8l5.7,1.3M122.8,837.3l-4.6,3.5M198.5,762.8l4.3,1.4M107.3,797.8l5.6,4.1M229.8,811.2l-2.4,4.8M105.3,756.6l-0.1,3.6M80.5,840.0l-1.2,5.5M128.8,824.1l-3.4,0.4M128.9,791.2l-0.2,4.8M195.9,794.3l5.7,3.9M178.2,833.3l3.7,5.7M71.3,733.0l5.2,0.8M114.3,837.9l6.2,2.1M60.4,761.2l1.2,6.2M132.9,734.1l-0.3,3.4M157.4,842.8l4.6,1.2M141.9,728.6l3.0,6.1M140.3,804.6l-4.3,2.5M188.3,842.2l-3.5,3.4M87.7,822.8l2.7,1.8M100.1,718.9l0.9,4.7M170.7,745.1l-3.9,1.5M65.3,828.0l-0.5,5.6M80.8,739.7l3.7,2.9M95.7,821.5l4.6,2.4M219.6,761.3l-4.9,4.6M190.1,818.2l4.1,3.7M60.2,747.5l-2.5,4.0M50.7,721.6l-3.0,4.5M195.2,776.3l-4.5,5.0M76.4,766.2l-5.4,2.7M226.9,792.4l3.2,3.9M102.1,756.6l-0.3,3.2M59.8,767.0l4.7,1.8M99.6,812.9l6.8,1.2M111.2,764.1l-5.1,4.6M138.7,819.7l4.5,1.0M135.0,828.7l1.3,4.6M132.6,786.3l4.9,1.3M118.7,744.1l-1.2,2.9M75.8,850.0l2.8,5.5M225.8,832.6l-2.7,2.0M204.5,749.5l-3.1,0.1M171.9,775.7l2.9,3.2M180.0,728.2l-2.8,2.9M127.0,845.2l-6.3,0.0M200.7,767.1l-2.2,5.6M92.7,812.9l4.8,3.0M223.5,846.0l-3.4,1.7M163.9,748.2l1.6,5.7M76.0,808.0l0.7,6.3M158.0,832.4l-6.1,1.1M178.8,730.5l2.7,1.8M153.4,746.3l2.5,3.8M81.0,756.4l4.2,5.0M91.2,733.1l-3.5,0.6M218.3,764.5l-1.6,5.1M213.2,787.7l4.5,1.3M111.3,788.0l-0.9,6.8M144.0,755.6l-0.2,4.3M76.8,730.5l-1.7,3.2M90.2,757.8l1.6,6.4M97.6,801.8l-2.5,6.0M166.0,842.5l0.6,3.2M151.4,717.0l-4.1,0.8M140.6,803.8l4.2,1.5M116.3,845.8l5.6,2.8M171.3,815.3l-4.1,2.8M223.7,790.9l1.4,2.9M71.2,784.1l-1.9,2.8M61.0,815.8l3.0,0.7M157.6,849.2l-2.4,6.4M91.7,813.9l-0.8,4.6M155.3,810.8l5.0,2.7M202.7,724.6l6.7,0.6M170.3,778.0l5.8,0.6M194.1,768.6l-2.7,5.4M56.8,787.8l4.6,3.0M101.0,733.0l-0.9,3.6M157.3,781.6l-2.9,2.7M208.3,791.9l-4.8,3.1M73.9,748.1l2.3,4.1M113.0,820.4l-1.9,2.4M216.8,815.9l-1.4,6.2M52.5,790.8l-4.7,4.6M103.2,845.4l-2.7,6.4M154.4,785.1l-5.2,2.4M150.0,784.4l0.4,4.4M123.8,808.7l6.0,1.9M196.1,744.9l-3.2,4.4M156.3,725.1l-3.9,0.1M208.3,850.4l-3.6,2.8M59.2,723.9l-4.8,4.4M209.7,818.3l4.2,5.0M154.9,811.3l6.1,2.0M112.9,780.0l-3.1,3.5M177.6,837.9l-3.0,0.6M185.6,849.5l-5.2,2.3M83.1,727.9l-1.8,5.7M160.7,720.6l5.3,3.6M60.9,770.8l3.1,3.5M216.6,837.1l0.5,3.2M87.5,721.1l1.7,6.1M129.5,741.0l2.8,1.9M217.0,808.8l-0.5,5.2M51.3,754.7l1.3,2.8M229.4,774.4l2.3,5.2M198.4,779.5l-3.7,4.7M69.9,816.0l-4.8,4.4M87.8,763.2l1.2,5.7M190.4,724.8l4.1,1.2M221.7,825.9l1.4,3.0M105.4,776.7l4.6,2.6M146.5,743.8l-4.3,0.5M158.1,795.7l1.9,6.7M168.7,768.1l-1.0,4.4M100.9,765.1l-3.1,1.8M147.4,757.2l-3.1,1.4M138.2,764.3l2.0,5.9M169.5,728.5l-6.7,0.6M60.7,737.9l-1.7,6.6M83.1,726.3l1.2,3.6M120.9,764.9l-1.0,3.6M123.6,842.9l4.4,4.0M117.8,799.6l6.2,0.2M175.9,755.8l-3.0,2.7M216.6,744.8l-2.3,2.1M189.5,732.5l-1.7,2.7M167.6,784.2l0.2,5.5M90.8,808.9l0.8,3.1M227.2,844.1l5.0,0.7M168.1,742.8l-1.4,3.4M88.6,719.6l-2.7,6.4M123.3,766.7l1.8,3.1M108.3,810.0l-1.7,3.9M132.0,833.9l5.8,3.3M218.0,832.9l4.6,3.1M124.5,829.3l4.8,1.7M57.9,818.4l4.0,3.3M176.7,827.5l1.1,4.2M214.7,840.3l2.0,6.3M215.3,753.3l-2.7,1.3M130.8,724.2l-1.3,6.0M55.8,739.7l-5.6,0.8M133.4,718.6l-1.0,6.3M90.8,788.8l-0.2,5.6M157.1,828.8l-5.8,0.6M110.4,814.4l3.1,2.5M168.6,837.6l3.7,2.1M64.2,745.1l-3.2,0.7M186.2,821.7l3.1,3.2M93.2,727.1l-0.3,3.7M60.8,790.0l6.9,0.9M150.7,796.1l0.3,4.7M157.1,732.2l-4.0,5.1M141.1,817.7l-4.0,3.9M96.7,817.0l3.9,4.8M103.7,785.8l-0.1,5.5M70.0,725.8l-4.1,1.3M228.0,803.6l2.1,4.9M177.6,851.9l-6.0,2.6M230.9,817.5l-0.0,3.9M207.8,751.2l1.5,5.4M81.2,732.2l-3.0,3.7M227.8,764.1l4.0,1.6M224.9,739.2l-3.3,3.5M194.3,833.1l0.0,5.3M108.2,730.2l3.8,1.2M93.8,845.5l6.3,0.9M61.1,850.1l-2.3,3.5M162.6,816.3l-3.1,1.8M217.0,818.2l-3.2,0.8M219.4,822.2l5.2,3.2M173.0,752.6l4.0,2.2M204.3,742.0l3.6,3.3M161.3,841.7l-1.4,3.9M108.6,808.4l-6.5,1.6M153.8,755.1l-3.3,1.8M212.3,755.1l2.8,1.3M128.9,764.3l-4.1,5.0M127.4,843.4l-4.4,0.1M81.4,726.2l3.0,3.2M229.5,758.2l6.0,3.2M158.7,804.2l-4.0,2.7M190.7,799.8l2.9,0.8M189.0,719.2l-3.4,2.9M215.5,723.0l6.6,1.0M86.2,820.6l4.3,3.0M85.9,788.8l-3.5,4.0M205.9,759.4l-0.8,5.5M217.0,806.3l4.9,0.4M52.3,760.2l-4.2,1.3M124.4,841.6l-2.1,2.8M228.6,805.8l-5.8,2.4M229.8,739.5l3.0,0.7M141.2,717.0l-2.5,2.5M193.2,758.0l0.2,3.2M76.9,717.1l-0.9,3.0M71.0,769.5l-5.1,0.5M155.4,758.5l3.1,0.1M146.0,849.6l-1.7,3.7M115.8,846.4l5.2,4.1M127.6,814.5l-0.0,3.2M73.3,826.2l-2.1,5.2M219.6,832.0l2.2,6.4M139.5,797.8l5.2,2.6M95.3,725.1l-0.3,3.3M219.5,848.8l-2.6,2.6M138.2,767.5l-5.7,2.1M103.8,832.8l3.6,2.2M55.2,749.8l-2.3,2.4M103.4,826.6l6.4,2.1M89.9,820.0l2.0,4.4M108.4,790.7l0.8,4.7M145.1,732.1l-1.2,3.8M134.1,768.2l4.1,1.3M163.2,718.4l5.7,3.5M127.9,721.0l-3.8,4.3M158.2,722.4l-3.1,0.0M168.1,777.9l-4.5,2.4M131.8,813.4l5.7,1.4M215.0,774.7l0.1,4.7M120.8,801.6l-1.3,5.7M166.0,730.8l-3.8,3.5M78.0,843.2l4.7,3.7M112.1,815.2l-1.4,3.1M157.8,804.3l0.2,6.7M56.7,806.2l4.7,1.5M78.4,833.3l1.9,3.8M88.6,801.2l-0.4,3.4M78.2,733.3l5.7,0.8M144.2,802.1l-1.6,6.1M173.3,844.1l-3.2,5.0M150.7,732.6l-0.7,3.9M125.5,798.0l3.7,2.1M194.3,833.2l-2.6,2.6M116.6,832.7l-5.1,2.5M213.3,838.5l-5.3,4.1M125.7,835.7l4.7,2.5M163.2,782.0l3.7,4.2M141.4,793.7l-3.6,3.5M137.2,818.7l-5.5,2.4M202.6,812.7l-4.0,0.2M75.0,739.7l-2.0,2.7M60.2,839.5l-0.6,3.2M140.1,779.7l5.0,0.4M101.2,815.6l0.4,6.4M106.2,802.2l-6.1,3.0M92.5,851.1l6.7,1.5M180.0,756.0l-2.7,2.0M188.3,735.5l1.6,3.3M184.3,848.7l6.6,2.3M85.5,748.8l-1.3,2.9M110.1,835.3l1.7,4.1M160.5,812.4l-3.5,3.4M173.5,761.9l-2.4,2.0M142.3,734.4l6.3,0.4M94.8,818.4l-5.7,0.3M181.8,851.6l-2.9,6.2M117.9,838.3l-0.5,6.9M85.6,746.5l3.4,5.1M181.1,825.5l3.1,3.4M107.4,828.7l4.6,3.4M133.4,738.0l1.6,3.9M93.0,780.0l-4.5,5.2M223.8,764.5l-5.7,3.4M111.0,776.8l-3.0,4.9M171.7,782.9l-1.8,2.7M133.7,729.6l-6.6,1.6M79.4,745.5l3.7,2.1M120.9,844.1l4.5,3.0M52.4,802.7l-2.8,2.9M150.3,727.4l-4.4,1.4M56.9,743.5l0.6,6.9M89.1,760.7l0.2,5.0M178.5,752.6l4.0,2.2M207.5,833.9l-3.2,2.2M123.5,777.3l-2.8,3.5M50.1,742.6l1.5,3.1M56.7,780.7l4.7,3.2M107.1,807.4l-0.1,3.8M195.3,838.4l-0.4,5.3M96.2,845.6l2.7,1.3M187.1,823.9l-1.1,3.7M81.6,735.9l4.0,2.4M154.8,717.2l-1.6,6.1M197.5,842.2l-2.8,2.6M64.3,816.8l0.7,6.5M80.8,842.9l-3.1,0.2M124.9,831.1l-1.4,5.2M82.7,730.3l-1.4,6.1M178.0,744.1l-0.2,3.0M198.6,843.8l-3.8,3.6M85.9,784.3l1.7,5.1M181.1,846.9l1.9,4.5M136.0,725.1l2.9,5.0M94.5,734.0l1.3,3.7M104.2,766.9l-3.8,1.5M180.3,737.7l-0.7,5.4M136.4,772.6l-1.9,2.4M163.2,757.3l4.7,0.8M126.9,720.4l2.5,3.1M76.1,811.2l1.7,4.9M177.3,819.0l-3.3,3.0M138.3,800.1l0.9,3.3M64.6,740.2l6.8,0.3M64.9,788.3l-0.8,3.7M145.4,792.1l-3.6,1.1M227.3,727.2l2.8,1.0M189.6,766.3l-3.6,4.0M75.1,748.9l3.5,5.8M213.1,788.6l-2.1,4.7M220.4,776.4l-1.7,6.5M77.4,724.2l-3.7,0.8M138.8,844.1l3.7,2.7M112.3,785.4l-6.0,2.4M90.0,743.3l-1.2,2.8M98.6,733.7l4.3,1.0M85.9,774.7l1.1,3.9M144.0,841.4l1.2,2.9M185.7,743.0l1.8,5.8M100.0,812.7l4.9,3.0M113.1,808.6l-5.3,0.2M117.5,775.7l1.4,3.2M59.6,745.7l-1.5,4.2M150.7,795.8l-4.1,0.8M151.3,774.1l-4.1,1.7M208.5,739.5l3.7,2.4M163.3,809.3l3.5,2.4M202.8,817.4l1.5,6.4M129.4,773.7l3.7,0.9M70.1,722.2l-2.7,1.3M190.8,838.8l4.0,3.7M171.2,744.7l-2.7,1.6M187.9,801.4l-2.1,2.8M131.4,848.7l3.2,5.3M198.6,725.4l2.8,4.0M87.9,756.5l-1.5,5.1M101.8,754.9l-1.1,6.7M211.2,738.8l-0.4,5.4M222.9,851.1l2.7,3.7M91.9,739.6l6.0,3.6M148.2,749.9l2.8,2.3M177.3,727.1l-4.9,3.1M70.8,758.2l4.6,0.2M226.6,832.6l5.3,1.0M73.8,770.3l-3.7,1.5M135.1,803.0l5.2,4.5M144.7,773.4l0.6,5.2M100.9,802.9l-0.3,6.2M213.1,734.6l-0.5,5.3M143.8,790.7l2.7,1.6M208.2,790.7l-2.4,6.6M108.8,836.7l-2.4,5.3M231.0,740.3l-4.0,2.9M227.3,750.4l4.0,3.1M196.4,771.6l-4.1,5.0M82.9,722.9l5.0,0.6M71.7,759.1l-4.9,2.3M194.5,763.7l5.2,4.1M79.3,754.6l-5.4,2.4M115.5,722.0l2.9,2.3M166.8,745.3l4.6,0.2M222.8,809.8l-6.0,2.2M158.9,804.5l-4.4,4.4M203.7,724.9l2.0,6.5M194.2,771.1l2.2,3.1M161.1,831.8l3.1,0.3M132.8,771.5l-0.9,6.3M192.5,828.9l-1.8,5.7M216.0,809.4l5.5,2.6M177.0,822.9l-1.7,4.0M119.7,719.3l0.7,6.8M52.8,829.6l-3.9,0.8M123.2,829.9l-1.2,3.4M63.8,742.8l-4.5,2.7M218.4,810.8l-4.0,2.0M180.6,746.7l5.2,1.6M204.7,851.6l3.1,5.9M230.8,774.3l1.5,5.4M63.5,826.2l-2.2,5.1M207.3,797.9l2.0,3.2M224.3,765.5l-2.4,3.8M85.6,848.8l2.8,4.4M215.7,845.1l3.6,1.0M131.2,794.9l3.5,2.5M129.4,828.8l3.0,4.1M62.8,791.8l3.9,1.7M119.8,839.7l-1.8,3.1M96.5,750.3l-2.8,3.5M161.7,818.0l2.9,4.1M202.9,763.5l-3.6,0.1M140.1,827.4l4.5,0.5M210.5,731.5l-4.2,2.2M200.1,775.1l1.2,3.0M82.9,809.8l2.9,2.3M182.4,823.1l3.5,2.9M158.2,736.1l-3.4,5.9M195.2,751.6l4.4,4.3M206.3,726.7l-3.8,0.3M129.0,819.8l-3.9,1.8M220.6,775.0l3.6,1.0M223.9,748.8l2.8,5.6M196.9,739.6l0.9,6.0M185.9,849.1l4.0,0.4M105.2,730.9l-3.6,1.2M133.7,747.3l6.1,0.5M201.5,779.8l0.8,5.5M128.2,768.2l-3.3,0.5M209.4,806.3l1.1,3.2M202.9,820.6l2.0,4.1M138.1,842.8l-2.7,5.7M75.4,744.9l-2.1,2.3M230.1,814.0l-4.8,1.3M112.2,835.6l3.7,1.1M149.2,826.5l4.1,4.2M67.2,822.3l-4.6,0.6M203.1,792.0l4.3,2.3M91.2,759.2l-1.0,5.9M121.5,814.0l-5.9,3.7M204.3,722.0l-1.9,2.5M221.5,766.5l4.8,0.6M141.2,790.4l1.8,5.7M95.8,727.8l-6.0,1.1M107.1,805.6l5.5,0.9M108.2,746.1l0.9,3.8M101.2,717.7l3.6,2.9M104.4,771.7l0.2,5.4M190.1,719.3l1.1,6.6M127.1,824.3l3.5,2.8M129.1,845.2l-2.9,5.5M149.9,801.1l3.9,0.3M57.2,812.5l5.4,1.1M66.4,841.6l2.5,2.2M73.3,764.5l3.4,3.8M155.1,718.9l-3.0,2.8M71.0,807.6l4.1,4.9M215.3,782.9l-0.6,5.4M86.2,814.9l4.5,2.7M229.3,844.7l6.2,1.4M101.0,837.5l-3.7,0.8M119.6,821.3l2.6,6.0M115.5,790.7l5.5,2.3M78.8,806.8l3.6,0.0M86.3,792.5l6.0,0.9M67.3,769.5l2.2,5.6M159.3,735.0l-0.1,4.2M154.0,815.6l3.3,5.7M65.4,820.5l-3.0,5.9M84.9,821.2l-4.7,0.9M225.8,719.3l-5.1,3.4M217.9,829.2l5.2,1.8M53.8,841.5l-1.0,6.2M158.2,752.3l-6.1,1.6M54.1,742.5l5.7,3.5M71.8,765.5l-2.8,4.9M105.8,797.6l2.5,2.0M92.2,773.9l2.6,2.4M50.8,780.1l0.2,6.8M76.6,836.9l0.7,6.1M159.9,806.6l1.6,6.1M213.9,817.6l1.9,4.5M51.1,761.9l4.1,1.3M58.1,832.1l-3.5,1.2M173.2,749.8l-2.2,2.7M230.5,796.8l5.2,0.7M106.6,782.2l-3.0,5.0M103.9,751.4l3.2,3.8M118.2,750.0l-3.8,2.1M105.8,794.1l-1.0,3.9M158.3,728.2l0.1,6.8M225.4,820.5l2.0,4.8M154.2,790.0l-2.0,6.4M136.3,842.2l3.4,5.3M143.7,747.0l-6.4,1.8M114.2,789.9l-0.1,3.7M211.6,802.8l-3.9,3.6M87.3,721.3l-1.6,3.4M133.1,761.7l-3.8,2.0M82.3,748.2l1.3,4.8M142.1,733.8l-0.8,3.0M134.3,835.5l-0.5,3.5M52.2,772.1l-3.4,2.3M112.4,838.2l1.1,5.4M138.5,779.6l0.1,5.5M153.6,730.8l2.3,4.2M173.6,769.3l1.1,3.1M74.7,804.9l3.7,0.2M162.0,833.2l-4.5,1.1M145.7,770.7l5.1,1.9M115.5,718.8l4.7,3.7M64.1,794.0l1.5,3.1M161.0,739.4l5.4,4.1M145.9,779.3l0.2,4.6M53.3,733.7l3.4,2.0M107.6,845.1l-4.2,2.1M99.3,765.2l3.5,2.7M229.3,755.2l1.9,2.4M115.7,783.8l-3.9,3.7M92.0,850.5l-1.0,5.1M149.4,742.9l4.4,2.9M108.0,785.2l-4.1,4.3M85.4,830.6l-5.5,3.4M90.5,804.2l4.3,4.0M161.5,774.2l-4.6,2.5M118.5,806.8l-3.9,4.7M217.0,740.7l1.3,3.4M216.5,732.6l-0.5,5.1M170.1,739.4l2.4,2.2M108.5,725.0l3.3,1.4M204.7,820.8l1.5,4.3M218.8,851.1l-3.4,1.3M85.3,793.2l3.0,3.4M57.6,782.0l-3.3,0.3M187.2,836.6l-3.5,1.6M162.2,717.1l-2.8,2.8M179.8,744.6l0.4,4.1M78.8,817.2l2.9,3.5M229.2,825.8l1.3,3.0M148.4,775.6l3.5,0.0M85.4,733.7l-2.5,5.0M161.6,739.2l5.6,0.1M118.1,723.1l-2.1,4.7M136.8,845.8l-4.6,0.1M67.8,850.3l0.7,3.9M159.5,739.7l-4.7,1.0M226.3,803.4l5.4,3.7M127.7,776.2l5.5,1.3M77.8,830.1l0.8,3.7M120.7,730.4l1.2,6.0M198.8,848.1l-3.8,3.7M101.3,742.6l6.0,0.8M95.4,784.0l6.1,1.7M192.8,736.1l3.6,1.0M138.9,774.1l6.5,0.8M212.7,782.7l3.0,2.2M90.3,833.0l2.0,5.4M122.5,823.7l-4.1,5.0M214.4,808.8l4.0,0.7M60.3,745.8l4.3,3.4M85.3,722.0l3.4,5.0M162.6,788.6l-3.1,0.2M172.5,736.6l4.9,2.6M58.4,833.0l2.8,2.6M55.5,749.9l2.7,2.4M60.2,791.2l0.6,3.1M214.7,817.8l4.1,3.4M226.2,810.2l4.3,5.2M116.7,756.4l5.8,2.0M144.8,771.1l-1.0,5.3M205.7,801.7l5.5,2.0M100.3,846.8l6.2,0.9M85.0,802.9l-2.5,5.8M224.8,832.3l5.7,0.9M225.7,841.7l0.5,3.6M206.5,845.6l3.1,1.8M228.1,748.8l3.7,1.5M230.9,740.7l6.5,1.1M176.4,723.3l2.7,1.3M169.9,842.9l3.0,0.3M82.5,722.3l4.9,0.7M221.9,777.7l3.3,3.7M202.7,838.8l-4.2,3.2M160.9,747.1l-3.4,3.2M54.0,821.8l-3.0,3.7M76.7,741.0l3.6,2.2M89.4,810.7l5.7,1.8M215.6,721.0l-4.1,1.1M170.8,824.0l5.0,2.2M113.0,815.6l-3.3,1.6M125.0,776.6l3.8,2.3M190.1,752.8l-6.8,0.7M114.0,764.9l-1.8,3.2M154.3,754.2l4.4,2.7M97.3,750.0l-1.5,3.5M172.0,808.7l-2.6,5.0M106.9,740.2l1.2,2.8M52.2,797.8l-5.0,4.8M176.6,844.5l-6.6,0.2M173.3,850.1l5.1,1.4M65.9,731.0l3.7,2.4M210.1,746.7l1.9,4.3M149.1,776.1l-5.5,3.0M215.7,788.9l-5.7,1.4M153.8,769.2l2.8,5.9M69.2,777.3l5.7,2.2M192.4,782.0l0.5,3.7M199.0,767.6l-3.2,3.3M143.7,721.2l-0.3,3.3M162.6,840.6l4.9,0.2M106.6,828.5l-3.4,1.5M109.8,749.8l4.2,0.4M219.1,720.3l-5.7,0.2M130.8,801.2l2.4,3.6M73.6,825.8l-6.0,0.9M150.9,799.8l-3.9,1.7M166.5,740.6l-3.2,0.2M195.5,719.3l-1.2,6.8M74.9,806.6l-5.1,0.1M132.0,752.6l1.7,3.0M126.0,803.2l0.7,3.1M161.8,848.5l-4.8,2.0M51.3,732.5l2.4,6.5M177.5,756.6l0.9,4.3M129.8,775.9l5.2,1.4M103.6,756.4l5.6,1.2M68.4,808.7l-3.3,3.9M187.9,821.5l-2.8,2.4M204.8,845.3l-0.2,3.1M192.9,848.9l-1.1,5.0M66.5,778.8l3.5,2.8M70.0,748.4l-6.8,1.4M79.9,847.8l3.3,2.4M217.7,799.4l2.2,2.3M109.2,782.0l0.5,3.1M134.1,765.8l1.8,3.3M197.2,737.6l-6.2,1.8M204.0,772.5l3.9,4.2M170.7,733.7l4.5,3.9M135.7,735.6l-1.0,5.0M113.9,755.2l-2.6,2.5M116.5,825.2l2.5,2.0M96.9,762.0l3.5,2.3M160.0,768.3l4.7,3.5M114.6,810.6l0.1,4.1M209.9,751.7l1.0,5.5M190.2,744.7l2.2,5.8M150.8,732.1l2.1,5.7M90.6,726.0l5.5,0.6M165.9,815.1l-4.5,3.7M226.4,829.0l3.6,4.8M96.4,805.5l-1.3,4.4M56.2,833.7l-6.2,0.5M100.2,722.2l-3.0,2.6M208.8,815.5l-2.3,3.7M132.1,851.1l-3.2,3.2M67.3,790.5l-5.6,1.0M187.4,823.6l-6.5,1.3M130.2,719.2l0.7,3.0M224.9,760.0l5.2,3.5M188.4,781.0l0.4,5.6M168.1,821.5l-2.3,2.9M156.5,808.0l2.9,5.7M109.7,745.6l3.2,1.3M150.7,800.8l4.1,1.9M203.7,822.4l0.6,4.4M149.0,801.6l-3.0,5.1M222.9,771.4l-3.3,0.5M151.0,764.8l4.5,2.0M124.7,764.2l4.3,0.8M87.0,723.9l-1.8,3.8M145.3,771.5l-3.1,0.5M58.3,834.5l-4.7,4.3M119.9,800.6l2.2,4.3M116.4,826.2l6.0,2.4M196.7,726.2l3.1,0.5M67.7,846.7l1.9,6.3M156.1,749.9l-0.3,3.9M229.7,778.0l0.6,3.0M189.5,822.9l4.6,3.5M206.1,760.0l4.5,4.6M170.0,849.8l-2.0,2.6M147.4,826.9l4.1,2.3M228.7,747.0l4.5,0.2M62.2,775.8l-1.6,3.1M139.9,781.8l-3.5,1.1M97.5,759.3l-5.5,1.6M90.9,846.9l-2.1,6.4M101.1,811.0l1.6,4.9M134.3,828.1l-0.7,3.8M207.6,846.8l-3.2,2.0M105.9,823.2l3.2,0.8M97.4,745.4l2.6,5.8M167.5,847.5l0.4,3.2M157.1,745.5l0.3,3.6M214.0,724.4l-3.1,2.2M205.3,831.5l4.5,3.4M187.4,734.8l-3.8,3.0M200.4,795.9l0.5,3.8M120.3,729.2l2.6,5.2M109.2,781.0l3.3,3.5M209.4,765.6l2.6,2.1M205.6,839.5l-5.4,2.7M186.6,772.3l4.3,5.1M89.0,793.5l2.8,3.4M51.5,803.7l3.6,5.6M63.4,731.7l1.8,6.5M226.0,723.9l-5.9,3.3M59.3,840.7l2.4,4.1M51.4,778.6l-3.0,4.1M166.5,819.1l1.9,5.9M168.1,809.6l-6.2,0.1M67.8,825.5l2.3,6.0M76.1,768.7l-4.1,2.0M161.6,807.5l-1.5,5.4M216.6,739.4l-2.3,5.3M89.5,725.3l2.4,5.4M156.4,804.6l-5.3,0.6M60.1,773.2l0.6,6.1M180.5,838.5l2.4,2.8M160.2,839.9l0.7,6.4M72.5,741.1l-2.6,2.7M202.8,843.4l-3.2,3.9M170.0,821.2l-3.8,2.6M225.0,727.5l1.9,4.4M149.1,773.7l6.2,2.1M175.8,718.5l-3.2,4.1M128.4,822.8l1.0,3.1M167.5,774.1l5.4,1.0M140.4,841.0l1.3,5.8M176.1,739.8l-0.8,3.3M216.8,843.4l4.4,1.2M211.8,750.6l-2.0,5.3M209.7,776.6l-2.0,3.2M87.6,731.9l1.5,6.2M164.3,758.1l-3.5,0.3M100.6,836.9l-2.9,0.8M173.8,723.2l-5.4,1.6M144.1,729.9l-5.6,1.9M132.4,760.5l3.7,3.9M90.8,843.4l-3.1,5.6M80.0,827.5l-3.7,1.9M81.1,846.0l0.6,5.6M215.3,806.4l4.4,0.1M58.5,817.5l2.7,4.1M139.7,787.1l6.6,1.4M222.8,736.3l6.6,1.1M117.3,823.0l2.9,2.8M138.7,833.8l0.0,4.3M197.1,773.0l3.0,3.5M151.2,728.8l3.5,2.8M65.1,741.7l0.2,5.0M166.5,774.2l2.5,5.4M93.0,786.8l5.5,3.4M134.2,794.2l-3.1,0.7M166.0,722.4l2.8,2.2M155.5,743.9l-1.9,3.0M120.5,818.7l1.2,6.7M210.1,782.4l-0.7,5.2M179.7,851.7l-3.2,2.4M197.7,785.9l-5.4,3.9M224.9,787.4l3.6,1.7M88.9,764.7l-1.7,5.2M109.6,812.5l-4.4,5.2M144.1,736.3l1.9,3.6M122.5,847.0l0.6,5.0M128.6,760.4l-3.3,5.6M194.1,765.7l-3.8,0.8M58.7,817.7l5.6,0.8M167.0,752.7l-4.2,1.3M154.6,730.0l-0.7,3.7M197.3,771.8l5.0,4.0M82.9,729.9l4.6,4.5M214.5,763.9l1.4,3.4M135.4,742.7l2.4,3.2M134.2,797.4l4.6,4.0" stroke="#262626" stroke-width="1.5" opacity="0.6" fill="none" stroke-linecap="round"/></g>
<path d="M74.2,831.4l-2.6,2.4M139.6,777.7l-2.6,5.0M66.9,720.8l-3.7,2.1M187.9,717.3l0.9,5.3M91.3,844.6l-2.5,0.8M54.5,790.1l-4.0,0.8M89.1,774.0l3.4,0.3M129.2,783.9l2.5,2.3M89.5,779.0l1.6,2.0M201.6,792.1l-1.4,2.9M229.6,833.1l3.6,1.4M219.5,774.0l-4.5,2.6M104.8,796.3l-5.5,2.1M141.4,796.5l3.5,0.4M194.3,772.9l4.0,2.4M117.8,776.3l-0.1,5.6M144.2,770.1l0.1,2.6M57.8,812.0l-4.9,0.3M121.2,740.0l-0.0,6.4M189.4,789.8l-3.1,1.5M142.9,845.6l-1.0,4.2M98.7,791.0l-2.5,0.3M191.8,827.8l-5.1,1.9M196.4,787.0l-0.8,4.1M60.1,834.5l-0.7,3.2M141.3,782.5l1.7,3.5M147.4,801.2l-1.5,4.1M55.0,748.0l4.1,2.6M205.8,824.8l-4.6,3.4M96.1,830.6l-1.5,2.4M52.9,719.0l-2.5,2.4M69.7,801.3l1.3,2.5M80.4,753.8l-2.7,3.4M108.2,781.0l4.0,0.3M126.1,742.4l5.7,2.0M142.3,745.2l-1.9,5.5M53.7,719.4l4.8,2.4M78.9,812.1l-2.5,4.0M89.9,848.7l-3.7,2.7M90.3,804.5l1.6,4.5M108.1,802.2l3.6,0.7M225.2,835.2l3.4,4.9M106.1,843.8l-2.9,3.0M95.6,718.1l-2.5,1.0M198.3,846.9l-0.7,3.1M207.1,848.5l-2.7,3.6M118.4,763.8l4.1,3.1M128.3,743.2l4.9,1.7M103.5,784.5l3.1,5.1M212.8,719.4l3.1,2.2M228.7,822.7l1.6,2.9M172.0,830.1l-3.8,0.8M209.7,809.8l0.3,6.4M92.4,814.9l3.1,0.8M214.9,745.8l-3.6,3.4M202.2,766.7l1.8,3.2M207.0,798.5l-6.0,0.9M68.8,722.3l5.8,1.4M192.6,828.8l2.4,4.4M191.5,768.0l-0.7,3.3M64.7,753.0l-4.5,1.6M217.4,778.8l3.6,4.3M199.8,718.7l-1.5,2.5M70.7,836.5l3.4,0.4M228.9,773.8l3.0,1.1M93.6,817.4l5.8,2.0M118.4,848.0l-3.5,1.0M95.8,781.4l4.9,1.6M57.1,718.4l-3.7,0.2M157.9,777.7l1.5,2.3M215.3,847.9l-2.9,0.3M88.9,800.4l-4.7,0.3M96.8,790.1l2.0,2.9M64.6,754.9l-4.3,0.2M168.0,803.9l-4.0,0.8M105.5,761.2l3.2,4.9M211.7,757.9l2.3,4.1M154.8,797.5l1.9,1.8M94.0,726.8l-0.4,2.7M63.5,802.8l3.5,4.5M139.2,833.5l4.0,2.1M193.9,727.4l-3.2,0.5M190.5,850.0l-3.2,2.0M69.3,786.4l-3.6,0.9M211.8,736.1l-2.5,0.7M107.1,838.9l-5.0,3.5M202.2,817.7l-1.8,2.7M128.3,738.3l-3.2,4.0M95.6,725.7l-5.7,0.7M149.4,790.1l-3.9,1.9M121.6,762.7l1.8,1.9M167.0,773.3l-0.6,2.7M114.2,735.7l3.3,1.4M200.0,770.7l1.5,4.7M92.2,718.0l-0.4,4.5M167.4,776.2l-3.0,4.5M93.1,783.8l0.2,3.4M124.6,792.7l-5.9,1.8M99.7,804.3l2.8,0.4M142.6,835.5l4.9,2.7M209.8,759.1l-3.4,4.8M117.2,811.7l-3.3,3.6M205.0,838.0l-4.7,0.6M81.8,750.8l3.7,3.0M187.1,724.0l-2.9,4.5M112.9,786.5l4.7,2.7M57.3,849.5l-4.1,2.8M98.3,840.2l-3.0,0.4M190.4,830.7l-2.5,4.6M130.5,841.8l-4.0,0.4M195.3,775.4l3.3,1.9M72.8,839.7l-3.0,0.4M158.7,772.1l3.4,1.3M94.9,818.2l3.3,0.0M129.4,719.8l-1.9,4.5M201.2,744.9l2.9,3.6M99.4,796.1l3.7,3.7M193.2,826.2l-4.7,0.4M138.8,832.5l-3.6,3.2M119.3,755.3l5.4,1.9M71.3,817.9l-0.9,6.3M187.7,848.4l4.1,1.9M153.6,759.0l-0.0,3.9M145.6,717.1l0.8,4.2M105.1,770.9l-4.1,3.3M139.1,804.4l1.2,3.1M50.6,754.5l-1.8,5.7M200.1,786.0l-4.3,0.2M201.0,772.2l-4.5,4.6M105.2,740.0l-1.7,4.3M115.0,717.5l1.4,4.0M123.3,833.3l-1.4,5.2M212.5,818.1l0.1,5.5M165.9,804.6l-1.6,3.8M163.9,802.6l-5.5,1.1M203.2,820.6l-4.1,2.7M113.2,752.7l-3.6,4.8M148.5,737.5l-3.8,2.2M134.5,723.1l-0.2,5.5M126.4,764.9l-1.2,2.3M141.7,844.7l-2.3,3.4M87.7,745.0l-3.3,1.3M63.5,829.1l-0.3,4.0M142.5,816.5l4.4,2.6M179.1,827.0l3.3,3.7M91.9,792.7l4.8,2.9M206.9,761.5l4.9,4.1M177.9,830.9l6.1,0.6M162.6,759.7l1.2,5.4M192.1,742.6l-1.2,2.9M226.1,776.9l-5.2,1.5M159.7,752.4l-0.3,3.0M74.9,813.6l2.3,5.0M93.5,814.0l-2.4,2.9M69.2,770.6l0.1,2.9M83.7,724.5l-1.8,5.8M89.1,721.7l-3.4,4.6M224.5,799.8l2.8,5.1M71.3,810.5l3.9,1.2M139.5,768.0l3.0,1.7M198.4,779.4l-0.8,3.2M157.4,839.8l-2.7,0.0M194.3,832.8l2.2,3.4M122.3,835.8l-2.3,2.1M215.4,719.0l4.6,2.3M60.2,768.2l4.0,1.7M202.0,839.3l2.7,0.3M202.1,722.8l1.9,2.2M66.4,720.7l-2.3,5.0M174.3,831.2l-2.0,3.5M164.2,847.9l-1.5,3.1M60.8,843.2l-1.1,3.7M159.5,792.6l-0.2,2.7M113.9,772.7l4.9,3.5M126.7,806.4l-3.4,4.3M95.5,848.8l5.5,2.8M204.7,832.0l2.8,0.5M197.1,780.3l2.6,5.9M57.2,788.7l0.5,3.0M121.5,812.5l-2.4,0.9M144.9,729.2l-2.3,1.7M56.1,768.9l-2.5,2.8M73.4,824.3l-4.9,3.4M104.9,774.4l3.4,3.3M109.7,762.7l-4.9,4.0M155.7,731.1l-2.0,3.8M228.8,814.1l-4.6,2.6M200.5,756.3l3.5,1.9M144.3,730.1l2.2,4.2M57.8,827.0l-1.7,3.3M103.9,764.6l2.9,4.7M140.6,788.0l5.5,2.8M108.9,761.2l6.3,1.4M136.8,840.2l-6.2,1.4M197.6,841.9l-5.5,1.4M154.1,851.0l-4.1,3.3M185.1,765.8l-5.0,0.9M122.8,779.7l-4.6,0.3M80.3,737.0l-2.6,4.0M214.1,741.9l1.5,5.2M59.0,730.4l-0.5,3.5M69.3,752.3l-1.9,4.2M64.1,726.8l-4.5,2.3M81.3,833.3l4.0,0.3M203.4,812.9l3.8,4.7M158.2,833.8l-4.0,1.4M221.0,824.8l-3.7,4.4M230.7,751.6l4.4,3.2M189.4,786.4l0.2,4.1M209.8,824.5l-0.7,2.6M204.0,778.9l3.1,2.1M175.1,717.7l3.4,1.4M210.6,817.8l-4.7,0.4M153.5,791.4l-0.4,4.7M198.1,845.7l1.4,4.8M105.6,757.8l-0.1,4.8M230.0,816.4l-0.8,3.9M122.7,843.4l-4.9,1.7M212.7,841.9l-3.6,1.9M134.0,824.4l2.1,5.1M137.1,762.4l0.4,2.9M114.1,773.1l3.2,0.2M97.0,832.8l-1.0,3.5M230.6,751.8l-0.2,5.5M190.6,782.6l-2.8,3.5M225.8,813.7l2.9,0.9M224.9,747.9l3.5,0.3M136.8,845.5l1.7,5.1M201.0,729.0l-2.2,6.1M149.4,789.2l2.9,5.6M225.5,730.9l-0.7,4.1M171.5,733.0l2.4,2.7M136.8,824.1l-5.1,2.4M172.5,728.8l1.8,4.9M103.2,785.6l-2.8,0.9M204.5,731.3l2.1,5.7M86.3,787.3l1.6,5.8M229.6,756.0l0.1,6.1M148.6,746.0l-2.8,2.6M137.9,718.2l-5.1,0.2M217.6,847.8l3.1,3.5M129.6,819.6l-3.0,1.6M99.6,812.3l0.8,2.9M85.3,792.7l-1.9,6.0M146.4,799.2l3.7,1.9M100.6,810.9l2.2,2.5M116.5,780.5l2.4,4.3M82.7,835.8l-2.7,3.8M60.4,761.0l-2.9,4.2M196.9,837.4l2.5,3.7M109.7,734.3l3.2,1.5M65.8,789.7l-2.8,3.8M173.9,747.5l3.9,2.8M210.0,774.0l2.6,0.0M105.2,800.1l3.3,0.9M173.2,850.0l2.3,4.3M143.8,720.1l1.6,2.6M95.3,820.9l-1.4,2.2M63.9,814.9l3.6,1.2M98.7,723.7l3.0,0.3M122.2,843.1l-1.5,3.1M173.0,753.9l-0.2,3.8M221.7,764.6l-4.1,2.9M202.6,798.8l-3.8,1.6M145.5,793.2l-0.5,4.0M212.6,802.4l-0.4,2.7M142.0,740.6l3.3,2.7M148.8,750.8l3.0,3.5M135.6,771.4l3.8,1.3M168.4,790.5l-0.8,5.8M55.4,758.6l-1.7,2.6M215.3,736.2l-3.1,1.2M202.3,831.5l3.0,5.3M78.8,831.6l1.5,4.0M71.2,798.1l3.4,3.9M194.7,798.5l6.3,0.2M216.5,803.8l1.8,4.4M209.8,779.0l-3.8,3.1M126.4,843.0l1.4,4.7M59.5,780.6l5.3,0.6M50.0,722.7l2.9,1.0M141.9,765.1l4.2,4.8M214.5,805.4l-4.7,3.4M94.3,826.1l3.5,3.2M114.7,738.4l-4.7,4.0M106.7,835.8l2.4,4.5M230.2,821.2l4.2,0.7M118.0,756.7l-3.6,2.3M143.9,724.6l-3.1,5.2M138.2,763.0l-3.9,5.1M53.8,838.1l2.1,5.4M81.5,813.7l3.7,1.2M225.6,805.6l-3.4,2.7M135.2,783.5l-4.1,3.5M85.0,776.5l-0.6,4.7M217.7,830.4l3.6,1.8M69.6,720.5l3.1,0.8M188.6,807.1l-2.9,2.2M78.1,848.2l-5.4,3.3M53.3,770.5l-2.2,5.0M215.2,789.6l0.8,2.4M195.5,849.6l-4.9,1.5M111.9,749.3l-4.7,4.1M223.8,740.7l-1.2,4.4M127.3,824.2l-5.3,1.1M168.3,789.5l4.0,3.9M71.5,803.9l1.6,4.4M166.1,781.7l-3.4,0.2M52.1,846.0l2.0,3.0M125.2,797.3l-5.3,0.2M107.5,789.2l0.7,4.4M125.5,739.6l1.3,3.8M86.3,827.3l1.3,2.8M191.3,801.0l-2.6,2.9M75.7,751.4l1.6,3.2M134.6,737.1l3.2,1.4M85.5,825.2l-0.4,3.3M127.6,834.7l-1.1,4.6M120.8,743.4l-1.1,2.6M192.3,724.8l-2.8,2.9M63.3,749.6l1.3,3.4M169.7,850.2l2.5,5.3M90.7,812.8l2.1,4.1M65.9,828.7l3.4,2.7M102.5,826.4l-1.4,4.8M186.6,751.4l5.7,1.1M107.1,826.7l-5.0,0.7M68.6,832.3l-1.4,3.2M87.5,785.5l5.7,2.3M178.1,827.6l2.2,5.8M74.2,813.7l1.8,1.8M71.8,744.2l-3.0,2.7M137.2,799.8l3.4,3.8M171.5,841.4l-0.1,5.9M225.2,820.8l0.9,3.5M67.6,829.2l4.4,1.9M132.1,723.1l4.5,3.6M214.3,729.7l-1.4,2.3M126.4,776.6l-4.8,0.7M144.4,743.6l2.6,5.4M227.6,821.9l6.0,1.2M132.9,829.6l2.6,1.6M214.1,755.5l4.5,0.6M229.3,829.8l2.1,6.1M194.2,830.7l-1.8,3.7M213.9,780.5l-4.6,1.0M214.7,781.4l1.1,4.7M107.4,737.2l-1.6,5.7M100.2,833.8l-4.4,3.5M125.1,851.8l-3.8,2.9M70.5,794.5l6.1,0.3M110.9,766.7l-0.8,5.0M155.4,782.5l-2.4,5.4M130.7,784.5l-2.1,1.4M79.0,760.9l4.8,3.8M76.7,731.6l2.5,3.8M198.7,851.4l-4.4,2.2M56.7,725.6l-2.3,5.3M98.0,847.8l-0.8,4.7M161.9,727.1l5.4,3.2M98.3,728.2l3.4,4.2M97.5,745.4l2.8,3.4M183.5,757.7l-5.9,2.5M198.8,727.1l3.4,5.2M205.5,735.0l0.7,3.9M185.3,720.9l3.0,4.6M210.5,722.5l-1.4,5.0M208.0,774.3l-3.3,0.3M70.7,734.6l-0.8,2.9M98.2,743.5l6.3,1.1M110.6,847.1l-2.2,2.6M218.8,718.3l-2.6,0.2M95.8,791.5l5.6,0.2M65.2,827.3l4.6,0.5M87.8,756.0l0.1,4.0M120.9,805.2l2.6,1.9M173.8,757.1l-4.1,0.9M135.7,720.1l2.9,0.2M163.2,806.7l-4.2,0.6M63.3,773.7l-3.4,4.6M222.3,829.3l-0.9,4.6M140.6,781.5l-2.6,4.1M205.1,777.8l0.5,5.8M151.9,825.8l-1.2,3.3M106.1,798.6l4.3,0.6M211.4,748.3l0.9,5.2M217.5,811.0l-1.6,3.7M129.1,803.7l2.5,5.1M51.4,818.4l-2.6,2.7M52.6,762.7l-1.6,5.4M207.5,745.2l2.9,0.8M229.0,804.1l4.8,2.1M223.7,799.0l4.7,4.2M176.8,741.7l-3.4,3.0M153.9,766.4l2.5,3.3M145.2,779.3l-2.6,1.1M85.9,843.6l-1.7,4.7M163.9,749.9l1.1,3.2M77.4,850.6l-4.2,4.3M50.2,812.1l2.6,3.7M172.2,721.2l1.9,4.3M208.2,786.3l2.7,4.1M155.6,756.5l-0.5,3.6M51.9,758.9l4.3,1.2M140.7,834.5l-3.9,3.9M229.1,752.7l1.3,3.2M68.5,786.6l-0.1,3.0M217.0,849.1l2.5,0.5M61.1,815.8l-2.5,1.2M51.5,789.6l1.3,2.2M51.5,745.5l3.0,2.2M149.6,750.9l2.5,2.2M210.5,749.2l-0.7,4.2M109.9,771.9l3.2,0.2M165.8,819.8l2.5,2.0M213.9,730.2l-4.8,3.6M76.4,829.5l2.4,1.2M101.7,763.5l-1.2,4.1M193.6,806.7l3.1,1.2M185.0,732.7l-5.7,0.9M89.7,755.6l2.9,3.0M94.9,721.4l2.3,2.3M113.3,778.3l-4.7,2.0M161.4,833.7l1.5,3.9M94.2,829.1l-5.7,2.3M159.5,732.4l5.5,1.3M210.3,788.9l-6.0,1.5M186.6,767.0l0.5,3.9M121.6,780.6l3.0,0.2M207.7,813.0l3.9,2.0M163.5,735.3l4.8,1.2M92.5,804.1l5.1,3.0M106.0,774.8l-0.9,6.0M215.9,831.0l-1.5,2.3M228.3,815.0l3.2,2.2M224.2,785.5l-5.4,2.4M191.5,801.7l-1.9,3.4M71.7,845.1l3.6,0.4M161.1,847.3l2.8,2.1M203.5,761.2l1.2,3.8M58.9,844.1l-1.5,2.1M67.5,735.3l2.4,5.6M75.4,747.8l2.5,3.8M213.1,789.8l-4.5,1.4M128.2,834.6l-1.1,4.3M142.7,765.0l0.6,2.7M87.1,820.0l3.0,1.4M79.5,766.0l3.9,0.6M160.3,808.5l-2.6,1.2M166.5,743.5l2.3,4.2M201.7,807.5l-2.6,0.1M107.1,781.8l2.7,0.3M116.3,792.5l2.5,1.1M107.6,817.1l-1.4,6.3M159.5,837.2l-1.0,4.3M125.2,726.7l5.0,1.0M205.5,719.6l3.2,2.0M106.6,829.6l2.6,2.7M138.2,845.4l3.0,4.0M58.7,775.2l-3.3,0.8M114.5,805.3l-1.0,4.7M160.1,808.2l2.1,3.3M121.8,787.5l-1.3,5.9M121.6,777.6l-5.5,3.2M93.9,815.6l3.9,3.8M56.9,785.5l-1.2,5.2M216.0,824.3l-0.9,4.4M52.3,791.6l-1.1,5.4M59.2,815.0l-3.6,2.3M104.9,728.9l-2.8,2.7M200.7,845.8l-1.3,6.2M51.4,748.6l-2.5,1.0M168.4,785.8l-6.5,0.3M72.2,752.4l-3.8,0.1M82.6,840.1l-1.3,3.5M150.3,774.7l0.6,4.7M222.9,796.9l-2.9,2.2M77.9,717.9l-3.0,0.2M118.7,805.4l-3.3,3.7M129.5,827.0l1.1,5.7M59.7,814.5l3.9,1.2M130.2,741.6l0.9,5.8M56.5,743.2l-4.3,0.3M120.5,840.2l-2.4,2.1M158.2,741.4l-3.6,3.1M194.5,725.8l-3.3,0.8M203.8,776.6l-2.7,1.0M59.6,780.2l-4.3,0.9M141.8,739.2l-0.5,4.2M210.7,817.0l0.2,3.1M76.3,848.1l-1.2,3.2M196.8,746.2l0.9,5.9M68.6,730.9l3.1,0.5M117.7,760.4l1.6,2.0M138.1,777.1l-2.5,2.7M155.2,759.3l-2.3,2.2M138.5,777.2l0.6,4.6M147.0,759.7l-5.4,3.3M151.1,802.8l-2.4,2.9M157.2,779.4l0.2,4.1M147.0,746.4l2.4,2.3M157.6,750.1l-4.7,3.9M187.5,761.3l-3.8,0.7M115.4,797.4l-2.0,3.6M192.4,832.2l2.1,2.7M121.9,811.3l-1.6,2.8M120.3,838.8l-4.9,0.6M191.2,830.4l2.1,1.8M160.6,768.9l-2.3,2.9M128.5,826.1l4.0,1.2M182.6,850.3l-2.2,2.2M129.0,790.2l-2.2,4.8M226.2,844.2l2.5,1.9M225.6,738.7l-3.0,0.3M155.8,734.5l3.5,1.6M193.6,811.8l1.7,2.6M114.8,740.5l3.3,3.0M138.4,841.6l4.4,1.3M152.2,736.3l1.3,2.8M211.7,764.1l4.3,0.9M180.1,744.8l-2.4,0.7M176.2,722.7l-2.7,1.7M194.3,826.8l-2.2,1.9M122.4,731.1l-4.1,5.0M144.6,805.0l-1.5,2.7M117.2,764.1l-2.9,2.9M116.6,791.1l2.2,1.7M93.0,719.8l-2.2,3.7M161.6,793.6l5.7,1.0M198.2,718.0l1.2,5.5M125.1,833.1l-3.0,4.2M213.9,822.2l-0.7,2.6M132.2,810.0l-0.4,4.8M113.2,830.6l3.6,3.5M129.0,737.1l3.0,0.2M102.1,780.8l2.8,0.2M194.1,849.3l0.9,4.3M159.0,730.1l-0.6,5.2M220.9,803.8l-0.6,4.1M215.0,787.7l0.4,5.4M129.2,726.1l-1.7,5.7M116.8,730.0l5.8,2.0M70.0,805.3l4.4,1.2M214.9,748.7l2.8,4.1M153.8,792.7l0.9,2.5M157.7,754.4l-1.6,4.0M98.5,851.4l3.4,5.4M136.4,789.1l2.1,2.4M155.9,741.7l-0.2,5.1M187.5,807.0l1.4,5.0M158.0,781.4l-1.5,3.4M61.3,737.0l-6.0,0.5M199.7,752.0l-4.9,2.7M147.9,757.9l6.1,2.1M230.8,831.9l0.9,5.3M214.8,790.2l5.9,2.5M147.3,820.9l-1.0,2.6M133.6,718.6l4.3,4.7M70.2,809.5l-1.6,4.8M174.6,842.3l0.8,4.9M145.8,796.5l-1.7,2.7M60.0,732.7l4.7,0.6M105.2,822.9l2.7,1.5M206.7,729.1l2.3,4.7M151.8,753.0l4.4,2.0M94.8,832.6l4.2,4.6M53.8,799.5l2.8,3.4M129.0,826.2l4.7,3.1M56.1,803.0l-3.6,2.2M203.7,764.9l2.7,5.5M229.3,823.5l4.7,4.1M116.1,834.1l1.8,2.9M96.6,810.3l-4.6,0.3M69.3,809.4l-5.3,1.8M50.2,759.1l-4.1,3.4M230.3,838.3l-4.2,3.1M118.8,721.7l-3.2,2.9M206.6,734.8l-4.6,2.2M210.4,811.7l0.9,4.5M67.7,749.7l-0.7,3.1M114.8,803.8l-1.8,5.8M128.4,791.7l1.3,5.4M163.2,844.6l2.7,1.3M102.9,800.2l-1.4,3.0M99.1,797.4l3.9,4.3M69.2,822.7l4.7,2.5M191.5,844.4l-2.5,0.8M169.6,839.9l-3.2,2.9M185.8,755.4l-3.4,2.4M225.7,720.8l-0.8,2.9M188.6,848.0l0.1,5.9M92.1,720.8l-3.4,2.4M65.1,807.8l-2.7,0.9M160.5,763.9l2.8,0.4M58.1,758.4l2.6,3.8M162.3,831.8l-2.9,1.4M163.6,835.3l3.5,3.5M228.9,802.6l-2.2,3.0M229.6,829.2l2.0,3.1M50.8,782.0l-5.2,2.2M76.6,749.6l3.1,1.7M86.6,739.3l-1.0,6.1M204.7,800.9l3.3,5.1M88.1,722.2l4.4,3.6M176.8,759.0l3.9,3.2M142.5,824.2l0.5,2.8M62.7,748.2l-0.4,5.3M150.6,718.3l-4.3,0.6M147.8,742.9l2.4,2.3M159.7,839.7l2.6,2.9M102.0,720.9l5.6,0.2M226.9,722.7l4.2,1.0M105.0,750.3l-3.0,1.3M85.2,839.3l-2.0,4.9M170.9,720.5l-2.6,0.2M91.1,781.2l-5.5,3.1M51.5,735.7l3.0,0.2M215.4,728.4l-0.4,3.3M51.3,754.8l3.2,3.4M208.1,788.6l-0.4,3.6M121.2,838.7l2.1,1.6M59.3,759.8l3.2,2.6M209.3,815.3l-1.7,5.6M209.1,725.8l-1.7,2.5M124.3,769.6l1.8,2.0M85.1,812.4l-6.1,0.8M54.0,793.9l3.8,2.6M146.5,738.9l4.3,1.2M59.4,830.5l-2.4,0.9M194.9,830.2l4.8,0.6M135.9,740.7l-4.0,2.6M197.0,843.2l-5.1,0.5M208.0,725.6l2.1,3.8M142.7,766.6l-4.1,2.6M203.2,776.8l-3.9,0.7M229.8,793.5l1.9,4.6M69.1,809.7l-1.8,5.4M63.6,773.6l-0.7,2.6M188.0,838.6l-2.1,5.1M220.9,778.4l-0.2,6.0M172.5,754.4l-1.5,5.4M202.8,734.5l4.5,2.6M138.5,768.8l-3.5,0.4M101.8,720.3l4.8,1.3M169.9,746.6l-2.2,2.3M117.3,803.0l-3.3,2.8M196.3,780.7l-2.9,5.1M151.8,792.9l-2.6,0.6M53.3,721.9l2.6,3.9M161.8,809.0l6.0,0.3M92.9,847.6l2.7,5.2M179.0,720.1l-0.2,4.1M229.8,748.3l1.0,3.0M50.7,789.7l-1.2,2.9M201.6,747.0l-5.1,1.0M225.8,776.1l-4.3,2.4M142.5,753.7l3.0,5.4M64.1,829.3l-2.2,2.2M127.9,829.8l-0.1,4.5M141.1,740.2l-5.5,0.2M101.6,763.9l-3.6,4.8M149.8,755.7l2.0,4.2M210.4,812.0l2.0,1.7M169.0,752.5l-2.9,1.2M230.3,825.1l1.8,1.8M198.5,731.9l3.6,1.9M81.2,729.8l-0.8,5.1M192.1,724.8l4.3,0.7M184.2,745.1l-0.9,2.8M212.6,834.9l-4.0,0.8M64.9,827.4l0.7,3.8M127.3,812.7l-2.8,3.2M98.2,737.4l6.3,1.0M225.1,726.1l-1.8,6.1M76.2,814.1l-2.6,1.4M86.9,844.8l3.7,3.3M215.0,813.0l-2.8,2.4M203.8,735.7l1.4,4.2M177.4,721.6l3.9,0.9M78.1,839.8l0.9,4.8M127.1,833.0l-5.9,1.4M64.6,799.5l-4.7,4.0M150.6,780.4l2.2,1.3M54.3,754.6l-2.6,3.2M148.0,753.6l-6.2,0.5M97.7,768.9l3.9,1.3M93.6,815.1l2.9,4.4M54.7,812.4l-1.5,3.3M189.5,833.7l-5.0,1.5M129.4,795.9l-2.8,2.6M209.9,823.2l-3.2,4.5M59.2,826.8l0.9,5.2M167.7,774.2l-4.0,4.4M230.0,719.4l-5.4,1.5M157.8,819.9l1.9,3.7M57.3,842.3l-3.8,2.6M160.8,828.2l4.1,2.4M226.8,751.6l-3.0,4.7M120.7,843.9l0.8,3.0M80.8,770.1l-6.2,0.3M212.8,806.5l-0.1,5.1M159.5,845.9l1.3,3.8M182.0,825.5l-2.1,2.3M164.6,753.3l2.3,2.7M51.5,733.1l-2.9,4.9M69.3,844.8l0.6,5.6M57.4,727.8l-2.4,1.6M56.7,805.8l4.1,0.6M197.5,732.4l-5.4,2.9M226.5,799.9l-2.7,1.7M206.6,740.2l-3.5,2.1M142.7,824.6l-1.9,3.3M204.9,842.7l-2.2,1.5M52.6,794.7l2.7,0.9M207.7,723.4l2.4,2.9M218.8,844.8l-3.4,2.7M71.1,847.1l3.9,3.3M190.9,785.8l-5.9,2.2M116.2,812.8l4.0,1.2M171.6,754.1l2.1,5.1M88.1,841.5l3.1,1.5M161.2,748.1l-3.4,1.9M72.9,807.3l1.1,4.9M70.2,724.2l2.7,3.6M86.0,745.1l-3.0,1.7M112.7,834.6l-5.6,0.0M75.3,820.2l5.5,1.6M99.9,746.6l0.7,3.0M170.7,828.1l-2.8,4.9M79.1,753.8l-3.3,1.9M76.9,746.9l-5.9,1.5M157.8,719.2l6.2,0.3M194.5,811.2l4.2,4.5M63.1,809.9l-2.2,3.3M197.1,742.6l-6.2,0.7M111.3,761.5l-3.1,2.3M156.5,810.3l-5.4,0.9M99.9,764.7l5.6,1.3M202.9,747.1l0.3,3.9M101.1,721.0l-1.8,6.0M80.9,818.8l-3.5,3.0M203.5,774.1l-1.0,2.6M202.4,781.0l-4.4,0.9M124.2,822.8l-5.9,1.5M169.3,746.0l2.7,3.9M56.5,757.3l-2.8,2.2M167.3,758.0l3.5,1.6M108.1,754.5l3.5,5.1M154.0,784.1l2.5,2.7M194.7,762.1l3.6,1.8M171.8,844.0l-3.9,2.2M80.4,836.6l4.8,0.6M225.8,759.8l-0.3,3.7M125.2,731.7l-1.9,4.9M73.3,718.4l2.8,2.7M128.6,813.2l-0.2,2.6M53.3,776.9l4.9,2.9M185.0,825.6l-1.2,3.1M193.4,756.1l2.3,1.3M120.6,845.9l-2.8,4.3M118.7,775.9l-6.2,1.8M110.3,796.4l0.1,3.3M142.5,729.0l-3.3,2.5M168.4,822.3l4.6,4.2M228.6,782.5l4.9,1.1M172.8,746.5l-2.8,2.3M97.0,728.5l-2.0,5.1M175.6,758.2l1.6,2.2M81.7,751.3l2.1,1.6M122.2,718.3l-0.0,2.5M119.0,730.1l4.6,2.6M63.1,822.4l-2.7,4.3M146.0,814.5l3.2,2.6M53.1,717.6l1.3,4.8M224.7,830.3l6.1,1.0M121.6,772.9l2.5,1.4M131.7,790.5l-4.6,2.3M84.6,797.4l-3.0,1.9M102.9,751.8l-3.1,0.3M164.4,765.8l-2.9,3.4M89.5,833.1l-0.3,2.6M89.5,739.8l1.7,2.7M166.8,799.1l1.2,3.3M164.9,767.7l-4.4,4.0M180.2,843.8l3.5,4.8M123.4,832.8l-1.3,3.4M100.7,832.7l0.2,3.1M155.0,736.1l3.5,0.7M190.3,745.1l-2.4,1.1M110.9,717.6l-2.8,4.1M192.0,827.1l-4.0,1.2M116.3,799.2l0.1,3.3M128.2,769.9l-2.7,1.0M215.4,793.7l-1.8,2.4M208.1,724.0l-1.0,2.8M91.4,809.8l1.9,4.9M89.8,729.9l2.1,4.0M196.6,834.0l2.3,5.8M151.9,741.9l-0.1,5.2M188.1,733.1l-4.7,0.4M50.8,755.5l-2.3,1.4M106.4,808.6l4.9,2.1M156.6,753.2l-2.3,1.6M84.9,820.2l-1.1,3.2M121.0,831.5l2.4,1.4M140.2,744.5l-1.9,2.9M84.2,799.9l-4.7,0.6M224.9,850.9l-3.4,3.4M117.3,727.6l-0.3,3.2M152.6,775.5l-0.9,4.7M150.2,732.9l-5.1,1.9M116.5,776.9l-0.8,4.0M171.2,851.7l6.1,1.0M229.2,833.5l0.6,5.1M134.4,767.4l2.9,1.6M136.3,755.1l3.9,3.0M101.1,829.4l3.3,0.9M126.8,745.9l-3.9,2.2M61.1,744.5l-2.2,3.0M104.1,745.5l5.5,0.2M108.9,749.9l4.3,1.5M183.7,844.9l-2.5,0.5M139.7,782.5l-0.6,4.2M217.9,797.2l1.3,6.2M143.7,718.1l-2.5,5.9M168.2,744.0l-2.3,1.3M203.3,735.2l-2.8,1.5M76.4,751.0l-0.1,5.3M142.7,726.6l-5.8,1.0M116.3,722.1l1.8,6.1M222.6,739.8l5.2,3.7M111.2,811.0l-5.7,1.3M195.6,799.7l-2.8,2.0M213.6,745.8l5.2,2.1M229.4,819.5l-1.1,2.6M145.6,741.1l-0.5,4.1M193.2,813.5l5.6,2.7M218.7,765.4l-3.3,0.2M122.4,830.5l3.9,1.1M51.7,745.6l2.6,5.2M163.1,729.8l-4.4,3.3M105.4,740.4l-4.2,4.6M89.6,761.5l3.2,5.5M59.1,719.5l3.7,2.4M224.8,722.0l-3.7,2.7M211.1,847.1l-2.2,2.7M214.8,718.6l-4.2,0.2M98.8,836.2l0.0,4.0M105.2,773.6l3.3,3.2M128.9,752.6l3.1,0.1M191.4,812.7l-3.0,0.7M217.7,836.8l2.9,5.6M228.1,831.2l-1.1,5.9M77.9,734.9l4.8,2.2M223.8,743.2l5.5,2.5M208.9,734.2l3.6,0.4M99.3,718.0l5.2,2.6M61.4,778.6l-3.4,4.2M105.9,735.0l0.9,3.8M131.0,756.5l0.5,6.4M51.3,748.0l-4.0,2.1M191.9,727.7l-2.5,0.1M192.3,750.1l-3.5,4.5M182.9,845.9l4.5,3.8M161.8,741.8l2.2,1.8M213.3,761.6l1.4,2.6M195.3,792.1l4.5,3.4M147.0,824.0l-2.5,3.4M114.4,837.5l2.4,1.6M205.4,809.8l-4.8,1.1M230.9,775.2l5.1,1.0M95.5,769.9l1.5,3.5M143.5,797.8l5.9,1.3M112.9,816.5l1.4,2.6M109.5,747.4l3.0,4.2M172.8,742.9l-3.0,4.0M60.2,806.2l3.3,3.6M219.7,812.4l-0.9,4.7M94.8,780.3l4.4,0.8M225.2,784.9l-4.2,4.4M152.4,734.5l-4.5,0.1M127.4,725.5l-3.8,4.5M146.3,742.0l-2.0,2.6M112.8,749.2l-0.4,5.1M151.0,739.3l2.5,2.3M142.3,847.1l-2.8,5.2M66.2,720.3l-0.5,3.4M110.1,815.7l5.8,1.7M124.6,797.2l2.7,0.4M171.8,722.1l-1.6,3.4M104.3,846.0l-3.4,1.6M119.6,756.8l5.9,2.3M167.8,813.5l0.8,3.2M164.1,750.2l-6.0,1.7M225.2,746.0l3.6,4.8M134.1,792.4l-2.1,2.6M133.7,728.3l6.3,0.6M87.0,756.9l-6.3,1.6M166.3,841.7l1.9,5.6M181.7,746.9l-2.5,0.6M98.5,783.6l-3.8,0.8M69.7,814.5l-1.5,2.6M126.2,844.0l-5.5,3.2M117.6,736.1l4.4,1.0M88.3,784.9l-4.1,1.4M217.3,757.6l4.9,2.2M128.4,807.3l-1.0,4.1M115.7,746.4l-3.3,0.1M133.4,837.5l-5.4,3.5M162.8,755.4l-2.5,1.1M220.6,777.4l-3.3,5.1M143.9,827.8l-4.0,2.2M214.9,750.5l4.7,2.5M199.2,772.6l4.2,0.4M90.7,726.7l4.3,2.4M118.6,824.6l3.8,3.1M98.5,755.3l4.9,2.5M100.9,807.5l-2.6,3.9M169.8,809.1l5.3,1.7M143.8,827.0l2.6,0.9M167.0,758.5l-3.7,0.2M131.6,763.5l-0.6,3.3M223.8,754.0l-6.2,1.6M111.2,827.3l-2.5,0.8M225.7,768.8l2.8,5.0M80.2,720.7l-2.6,0.3M165.4,793.8l1.4,5.6M197.7,720.3l-2.2,5.5M120.4,733.8l-0.6,2.5M119.4,784.4l3.8,3.0M199.8,780.7l-0.4,3.2M51.4,780.7l3.5,3.6M68.1,778.1l-0.3,5.6M59.3,837.0l5.5,2.9M196.9,837.2l-2.8,0.7M115.4,797.0l2.6,4.4M207.5,744.5l3.2,5.0M109.7,728.0l-2.6,2.6M155.5,725.9l-1.2,5.6M130.4,766.2l-3.4,3.0M135.9,740.5l-3.1,4.9M50.0,758.6l-1.4,2.8M205.4,735.1l3.1,3.0M74.9,839.3l-0.1,4.1M160.5,817.9l-0.7,5.0M100.6,733.9l-2.0,3.5M222.6,754.0l-3.3,2.7M78.0,769.7l-2.0,4.8M112.8,747.5l4.3,2.3M173.0,838.6l0.1,3.8M194.5,802.7l-1.8,2.1M199.0,770.1l-1.4,2.4M49.9,721.1l2.8,0.7M205.9,791.0l6.4,1.2M127.9,809.1l-1.9,3.4M199.4,847.5l1.1,3.8M126.5,829.3l-0.0,2.9M51.8,806.2l5.0,2.5M158.5,745.5l5.1,1.1M78.9,849.4l-0.2,3.8M195.5,800.4l-2.7,5.0M131.8,722.9l5.7,3.1M162.9,720.2l2.6,1.3M96.4,805.3l-4.7,1.1M140.3,841.5l5.6,2.4M166.3,748.9l-2.4,2.1M157.1,779.1l5.9,2.1M85.3,766.4l-1.5,3.3M67.1,757.5l2.2,5.3M75.1,828.6l-6.4,0.3M104.1,730.6l-3.1,2.9M165.8,730.2l-4.1,0.5M224.8,718.0l2.6,3.5M116.7,745.3l-4.7,0.3M219.5,787.1l-4.0,3.2M74.9,811.3l-3.8,3.8M138.9,723.6l-5.5,3.2M62.0,722.8l1.2,5.3M131.3,827.5l-4.5,1.8M161.5,803.9l1.3,3.0M214.8,752.0l-3.9,2.4M183.8,823.3l-5.5,2.1M109.2,829.6l-4.6,2.0M85.8,850.0l-3.3,2.4M104.8,827.0l-1.9,3.5M214.1,850.6l-3.1,4.9M157.9,758.2l-4.3,3.1M209.4,764.0l-5.2,1.0M185.8,830.7l0.8,5.8M211.3,848.1l-0.8,2.6M93.6,743.6l3.6,1.7M156.3,850.6l6.1,1.6M149.0,825.1l-3.4,2.0M109.5,841.8l-2.4,0.9M204.7,769.2l-2.7,0.4M202.5,786.1l2.9,3.4M201.0,774.8l0.8,6.0M202.1,746.7l-0.1,4.1M84.6,744.2l3.0,1.1M126.3,751.1l-1.9,2.2M93.3,846.8l-0.7,3.2M198.6,719.3l1.8,2.5M124.4,780.1l-4.3,1.2M212.7,846.3l2.9,0.4M196.7,756.7l0.6,5.1M127.3,834.0l3.5,0.3M61.1,752.0l-2.6,0.1M148.4,746.5l-2.2,2.3M224.3,727.7l-0.5,6.1M144.2,774.5l-5.6,1.4M191.5,771.8l1.9,3.1M226.2,727.5l4.6,2.1M209.9,849.2l-2.0,5.6M115.8,786.6l-2.4,2.1M58.1,765.1l-3.9,4.1M173.9,814.6l1.5,3.4M122.1,776.2l3.1,5.2M176.8,737.5l4.0,1.8M165.3,810.7l1.1,4.7M159.5,756.7l-3.2,2.2M73.7,736.6l-2.0,3.9M202.9,835.4l4.2,3.8M230.2,739.9l1.0,4.0M98.8,800.3l-4.0,1.9M64.6,752.5l-2.8,3.3M58.2,751.2l-0.4,3.8M87.2,768.5l5.7,2.1M108.1,780.3l-0.3,4.3M216.8,737.8l0.1,3.1M60.9,812.1l2.7,4.7M138.3,722.0l2.5,0.7M154.1,771.6l2.3,2.9M128.1,833.8l-5.5,1.9M185.0,733.3l2.3,5.3M86.7,814.9l5.4,1.9M96.7,751.8l-2.9,0.3M212.8,756.8l2.0,2.4M60.3,768.1l0.7,3.7M51.2,837.3l-4.4,2.4M74.6,737.2l0.1,3.2M100.9,746.6l-3.9,3.4M87.5,845.0l-1.8,5.4M171.4,779.6l0.4,4.2M62.3,844.2l1.3,2.4M68.7,768.8l-2.8,3.5M109.8,839.3l3.5,0.8M210.0,780.3l0.3,2.8M158.0,815.3l-2.6,1.4M153.4,827.1l-2.7,1.0M76.1,839.3l1.5,3.9M182.7,746.5l4.2,2.1M161.7,843.2l4.8,1.6M166.4,773.3l1.4,3.9M198.9,831.7l0.8,5.4M128.8,776.5l-1.9,4.6M132.7,781.5l-3.5,1.6M163.4,736.1l-2.7,0.2M191.2,739.5l-1.2,2.2M109.1,722.6l1.2,4.8M53.0,791.2l1.8,5.7M121.5,720.7l4.4,4.1M137.9,769.7l2.0,3.0M75.2,736.1l3.1,1.5M211.8,743.8l6.3,0.6M138.6,847.9l-3.4,2.7M127.4,717.1l0.9,3.3M118.5,832.9l-2.3,5.8M189.1,832.2l4.3,1.5M198.9,821.9l-3.6,2.3M152.7,819.9l2.5,5.6M208.7,818.0l-4.5,4.6M66.4,764.2l0.8,4.1M172.4,776.3l1.0,2.4M58.6,782.9l1.8,2.9M53.4,727.4l3.7,2.4M91.8,779.1l-1.9,2.0M163.7,819.1l-6.2,1.9M83.7,722.9l-2.1,4.2M213.9,797.4l-2.2,1.3M135.0,743.8l2.3,1.5M221.2,769.9l-4.5,3.3M196.2,757.8l-3.2,2.9M219.2,808.9l-6.0,2.0M114.6,765.2l5.8,0.1M161.7,739.2l-2.4,5.8M217.5,850.8l1.7,3.1M50.5,736.4l3.5,3.6M51.0,842.5l-2.7,5.3M101.4,787.7l-2.8,0.8M64.0,737.2l2.6,1.9M55.6,738.2l0.7,3.7M130.8,784.8l-2.9,3.8M225.7,844.5l-4.4,1.4M94.0,778.0l0.1,4.6M220.1,807.5l-3.0,0.6M165.8,752.8l2.5,0.1M117.0,741.9l1.4,2.3M55.2,750.4l-2.9,3.4M180.6,840.6l0.0,4.8M86.0,764.4l-4.0,4.0M76.1,743.2l0.5,4.3M161.2,833.9l2.1,2.0M65.9,759.2l1.2,2.7M200.5,765.6l2.6,2.6M209.9,801.9l-2.5,1.7M80.2,771.9l0.3,3.0M85.6,727.7l3.0,0.7M94.1,757.7l-2.0,6.2M153.8,781.7l1.0,2.7M169.4,778.3l-2.0,3.6M88.4,762.0l3.2,1.6M222.4,743.4l-1.9,5.9M122.8,760.5l2.9,1.0M218.0,780.5l1.4,2.3M178.4,735.1l0.0,5.5M195.2,832.9l2.2,2.3M71.4,759.9l1.6,2.9M71.9,773.1l0.7,2.9M198.5,729.0l1.4,3.8M121.2,800.5l-0.3,4.9M182.5,729.6l-4.6,0.5M186.5,743.9l0.5,5.6M107.4,792.2l-4.2,1.8M144.8,811.4l-3.4,0.9M226.4,817.0l1.0,3.0M96.9,771.9l-2.5,3.3M59.6,728.0l-2.8,0.5M213.4,840.4l-1.8,4.8M204.5,829.8l-3.4,4.3M217.0,749.6l1.5,5.3M173.7,771.1l-2.7,0.0M83.9,736.9l3.0,5.5M229.4,821.1l1.5,6.0M110.1,789.5l-2.5,3.0M178.0,840.7l2.5,5.0M62.8,839.5l0.4,3.9M223.4,729.5l-0.3,6.3M118.3,752.5l0.7,5.1M97.7,844.4l-5.4,1.5M145.5,774.2l2.9,2.6M134.2,761.7l-0.2,2.5M196.0,819.5l-2.3,1.8M99.3,747.2l-1.3,6.2M114.7,829.7l5.1,0.6M120.3,764.7l-2.9,5.1M219.0,772.2l-0.1,4.3M59.5,792.2l-4.3,4.5M88.4,792.2l-2.6,2.0M100.4,773.3l-3.2,5.0M102.8,798.7l-6.3,0.8M199.4,772.7l-2.6,3.6M143.1,765.5l-5.5,0.1M148.4,721.2l3.1,5.0M66.3,836.4l0.5,2.8M135.2,824.1l4.4,0.7M103.2,799.0l-0.4,2.9M211.5,832.3l-0.7,6.1M161.7,721.5l-5.1,0.9M77.3,719.9l-2.9,2.8M73.9,807.5l-1.0,5.7M159.0,777.8l3.3,5.5M222.2,725.6l-5.5,0.1M95.6,822.7l-2.3,4.5M207.7,757.8l-4.0,2.6M118.3,848.2l4.7,1.1M202.5,725.4l-4.2,2.0M150.1,759.0l-2.3,2.0M137.8,766.6l-0.5,3.3M148.1,718.9l-1.9,4.5M76.0,759.7l1.1,5.7M229.5,796.9l-3.1,2.5M213.6,844.8l-5.0,0.1M65.1,746.1l3.8,3.2M112.8,775.5l-2.1,1.9M55.2,748.5l-1.5,3.1M218.0,788.4l-0.7,4.5M61.0,803.0l-1.4,5.1M110.4,837.0l1.3,5.4M50.2,795.5l-3.1,0.7M50.3,719.3l2.4,5.3M89.4,805.9l-2.8,2.0M211.4,796.2l1.1,3.9M80.9,829.6l-2.8,1.8M60.3,736.9l1.3,3.7M219.6,820.1l5.2,3.1M223.9,846.5l0.0,5.1M214.2,741.7l-3.7,0.0M113.2,749.7l-3.3,4.3M91.3,746.4l-5.7,0.1M98.6,826.7l-2.5,3.4M220.3,816.5l3.9,4.7M115.0,822.7l0.1,4.1M86.5,786.3l-0.4,3.7M92.0,789.9l1.1,4.5M187.8,842.6l-0.2,4.9M67.0,744.4l1.6,4.4M88.1,787.9l-3.7,3.8M204.4,798.4l-3.6,3.6M69.0,802.9l-1.9,3.1M194.0,766.6l-5.4,2.6M126.3,824.4l2.3,2.3M204.7,728.5l-3.0,4.6M139.1,751.6l4.1,0.4M122.6,779.7l2.9,2.2M92.0,736.3l2.9,5.2M208.0,789.9l-2.6,4.2M155.3,777.9l-2.1,3.4M106.6,747.7l1.8,5.2M56.8,822.0l-4.2,3.1M169.3,735.4l1.4,2.7M140.6,777.3l2.0,6.1M125.4,833.9l1.8,2.8M119.9,771.0l-0.1,2.9M165.3,847.5l5.4,2.0M118.7,732.1l-4.8,4.2M181.3,825.1l-5.1,2.7M134.4,782.2l5.3,1.4M214.0,845.8l-4.3,0.7M186.7,768.8l-2.9,1.5M61.0,743.6l2.0,2.5M140.0,817.3l-0.5,6.1M78.0,718.4l3.0,4.3M83.3,720.2l3.7,4.8M101.5,740.0l2.7,3.7M193.8,807.1l-3.9,1.8M88.2,743.2l4.9,0.8M109.3,765.1l1.0,2.5M121.5,738.2l5.4,2.8M82.6,810.6l0.5,3.9M225.7,786.6l-3.3,0.8M148.4,749.6l-2.2,1.6M93.3,844.7l-0.5,4.3M110.5,848.9l-4.5,0.4M138.3,734.9l0.8,3.2M151.4,768.0l-4.8,2.0M195.3,811.2l3.2,3.1M111.5,777.1l5.8,1.5M224.8,844.2l2.4,1.3M135.5,832.3l-1.7,4.8M57.6,721.7l-4.3,0.9M133.0,780.0l0.9,4.0M68.7,755.5l2.2,1.9M127.7,806.7l-5.3,1.6M194.1,758.4l-1.2,2.8M106.6,759.0l-1.7,6.2M56.3,743.6l0.6,5.4M202.1,747.1l6.2,0.1M70.0,774.6l2.1,2.2M117.8,763.4l-5.7,1.7M59.4,830.5l3.0,1.7M136.9,801.0l-0.4,2.9M227.4,819.7l-2.2,6.0M230.6,796.5l1.0,5.0M184.1,721.2l-2.6,3.6M158.5,734.9l4.6,0.6M104.5,826.0l-4.8,0.5M216.8,751.7l1.8,3.4M116.1,721.6l1.0,4.4M226.1,767.1l4.4,4.5M186.8,725.9l2.5,2.7M190.0,756.6l-5.2,1.3M206.9,831.3l-2.4,4.0M214.6,743.9l-1.0,4.5M101.7,792.0l3.9,3.3M76.2,814.1l-2.5,5.8M164.6,812.8l-1.8,5.3M170.7,847.3l-5.2,2.0M59.1,727.3l-4.8,3.8M83.9,830.3l4.2,0.1M94.4,839.2l3.7,1.4M202.7,798.1l-4.1,2.0M66.9,760.0l-1.8,4.0M230.2,792.8l1.0,4.8M118.0,763.5l2.5,3.3M223.8,766.8l-3.6,2.0M127.5,841.5l-2.2,3.2M75.4,840.3l3.1,4.7M210.2,767.3l1.2,2.6M186.1,734.8l-1.2,2.4M75.5,815.9l1.8,2.0M73.0,749.4l-3.3,0.2M78.4,743.9l1.5,3.4M157.4,779.1l-1.3,5.3M163.4,721.3l4.6,2.2M142.8,745.7l-4.7,1.5M144.9,786.3l-5.1,1.4M151.1,779.9l-1.5,5.9M152.2,731.4l3.3,4.5M92.9,744.8l4.7,2.9M186.3,837.1l-2.4,5.3M91.8,803.7l0.2,5.3M214.0,737.7l-5.0,0.5M71.0,777.1l-3.2,5.4M195.8,803.1l-2.6,2.3M212.5,740.4l-0.9,2.6M205.4,728.7l-4.6,2.7M144.1,757.8l-2.4,4.0M165.5,759.6l4.0,2.0M176.7,740.3l-3.8,3.2M50.0,726.3l-0.8,6.1" stroke="#b8b8b8" stroke-width="1.1" opacity="0.6" fill="none" stroke-linecap="round"/>
<path d="M215.8,735.8a1.3,1.3 0 1,0 2.7,0a1.3,1.3 0 1,0 -2.7,0M152.5,822.0a1.1,1.1 0 1,0 2.3,0a1.1,1.1 0 1,0 -2.3,0M130.0,800.6a1.2,1.2 0 1,0 2.5,0a1.2,1.2 0 1,0 -2.5,0M68.3,820.9a1.1,1.1 0 1,0 2.3,0a1.1,1.1 0 1,0 -2.3,0M58.5,729.7a0.9,0.9 0 1,0 1.7,0a0.9,0.9 0 1,0 -1.7,0M130.6,813.7a1.0,1.0 0 1,0 2.0,0a1.0,1.0 0 1,0 -2.0,0M83.1,725.1a1.1,1.1 0 1,0 2.2,0a1.1,1.1 0 1,0 -2.2,0M74.9,765.1a1.2,1.2 0 1,0 2.3,0a1.2,1.2 0 1,0 -2.3,0M182.6,761.5a1.4,1.4 0 1,0 2.8,0a1.4,1.4 0 1,0 -2.8,0M104.4,842.3a0.9,0.9 0 1,0 1.9,0a0.9,0.9 0 1,0 -1.9,0M83.9,833.1a0.7,0.7 0 1,0 1.4,0a0.7,0.7 0 1,0 -1.4,0M229.3,774.8a0.7,0.7 0 1,0 1.5,0a0.7,0.7 0 1,0 -1.5,0M204.2,832.0a0.9,0.9 0 1,0 1.8,0a0.9,0.9 0 1,0 -1.8,0M100.0,836.5a1.1,1.1 0 1,0 2.1,0a1.1,1.1 0 1,0 -2.1,0M99.0,769.6a0.8,0.8 0 1,0 1.7,0a0.8,0.8 0 1,0 -1.7,0M225.7,815.6a1.3,1.3 0 1,0 2.6,0a1.3,1.3 0 1,0 -2.6,0M66.9,721.9a0.9,0.9 0 1,0 1.8,0a0.9,0.9 0 1,0 -1.8,0M88.4,815.4a1.1,1.1 0 1,0 2.2,0a1.1,1.1 0 1,0 -2.2,0M59.6,807.2a1.4,1.4 0 1,0 2.7,0a1.4,1.4 0 1,0 -2.7,0M110.2,732.4a1.3,1.3 0 1,0 2.5,0a1.3,1.3 0 1,0 -2.5,0M155.2,820.2a1.3,1.3 0 1,0 2.5,0a1.3,1.3 0 1,0 -2.5,0M207.8,766.7a0.9,0.9 0 1,0 1.9,0a0.9,0.9 0 1,0 -1.9,0M186.4,722.2a1.0,1.0 0 1,0 2.0,0a1.0,1.0 0 1,0 -2.0,0M180.8,753.9a1.4,1.4 0 1,0 2.7,0a1.4,1.4 0 1,0 -2.7,0M123.2,717.1a1.1,1.1 0 1,0 2.2,0a1.1,1.1 0 1,0 -2.2,0M124.5,758.3a1.3,1.3 0 1,0 2.6,0a1.3,1.3 0 1,0 -2.6,0M127.7,821.4a1.2,1.2 0 1,0 2.4,0a1.2,1.2 0 1,0 -2.4,0M175.3,733.8a1.4,1.4 0 1,0 2.8,0a1.4,1.4 0 1,0 -2.8,0M56.9,725.6a1.1,1.1 0 1,0 2.1,0a1.1,1.1 0 1,0 -2.1,0M198.8,832.0a0.9,0.9 0 1,0 1.8,0a0.9,0.9 0 1,0 -1.8,0M161.2,792.2a1.0,1.0 0 1,0 2.1,0a1.0,1.0 0 1,0 -2.1,0M213.6,717.1a0.9,0.9 0 1,0 1.8,0a0.9,0.9 0 1,0 -1.8,0M95.2,725.1a1.2,1.2 0 1,0 2.4,0a1.2,1.2 0 1,0 -2.4,0M144.4,765.1a1.2,1.2 0 1,0 2.3,0a1.2,1.2 0 1,0 -2.3,0M60.2,801.4a1.1,1.1 0 1,0 2.2,0a1.1,1.1 0 1,0 -2.2,0M50.3,765.3a0.8,0.8 0 1,0 1.6,0a0.8,0.8 0 1,0 -1.6,0M53.8,834.1a1.0,1.0 0 1,0 2.0,0a1.0,1.0 0 1,0 -2.0,0M189.0,718.3a1.0,1.0 0 1,0 2.0,0a1.0,1.0 0 1,0 -2.0,0M63.1,718.5a1.3,1.3 0 1,0 2.6,0a1.3,1.3 0 1,0 -2.6,0M197.1,786.5a0.9,0.9 0 1,0 1.8,0a0.9,0.9 0 1,0 -1.8,0M78.6,750.4a1.0,1.0 0 1,0 2.0,0a1.0,1.0 0 1,0 -2.0,0M163.4,827.7a1.2,1.2 0 1,0 2.5,0a1.2,1.2 0 1,0 -2.5,0M139.7,737.6a1.3,1.3 0 1,0 2.6,0a1.3,1.3 0 1,0 -2.6,0M64.4,755.6a0.7,0.7 0 1,0 1.5,0a0.7,0.7 0 1,0 -1.5,0M66.6,759.9a1.4,1.4 0 1,0 2.8,0a1.4,1.4 0 1,0 -2.8,0" stroke="#e0e0e0" stroke-width="0.9" fill="none" opacity="0.7"/>
<path d="M226.2,799.0a0.8,0.8 0 1,0 1.6,0a0.8,0.8 0 1,0 -1.6,0M191.7,831.1a1.0,1.0 0 1,0 2.0,0a1.0,1.0 0 1,0 -2.0,0M211.3,839.1a1.3,1.3 0 1,0 2.5,0a1.3,1.3 0 1,0 -2.5,0M79.4,815.2a1.0,1.0 0 1,0 2.0,0a1.0,1.0 0 1,0 -2.0,0M99.8,788.2a1.7,1.7 0 1,0 3.5,0a1.7,1.7 0 1,0 -3.5,0M97.8,755.3a1.8,1.8 0 1,0 3.7,0a1.8,1.8 0 1,0 -3.7,0M185.0,758.7a0.8,0.8 0 1,0 1.6,0a0.8,0.8 0 1,0 -1.6,0M190.9,753.7a1.7,1.7 0 1,0 3.5,0a1.7,1.7 0 1,0 -3.5,0M120.9,772.0a1.4,1.4 0 1,0 2.8,0a1.4,1.4 0 1,0 -2.8,0M57.0,823.3a2.0,2.0 0 1,0 4.0,0a2.0,2.0 0 1,0 -4.0,0M128.3,725.1a0.9,0.9 0 1,0 1.9,0a0.9,0.9 0 1,0 -1.9,0M133.3,827.5a1.3,1.3 0 1,0 2.6,0a1.3,1.3 0 1,0 -2.6,0M165.6,765.4a1.6,1.6 0 1,0 3.2,0a1.6,1.6 0 1,0 -3.2,0M213.0,789.5a1.2,1.2 0 1,0 2.4,0a1.2,1.2 0 1,0 -2.4,0M164.6,770.6a1.5,1.5 0 1,0 3.0,0a1.5,1.5 0 1,0 -3.0,0M57.2,735.7a1.5,1.5 0 1,0 3.0,0a1.5,1.5 0 1,0 -3.0,0M198.6,720.9a1.9,1.9 0 1,0 3.9,0a1.9,1.9 0 1,0 -3.9,0M193.1,727.6a1.6,1.6 0 1,0 3.2,0a1.6,1.6 0 1,0 -3.2,0M142.8,768.9a1.7,1.7 0 1,0 3.4,0a1.7,1.7 0 1,0 -3.4,0M181.1,851.0a0.9,0.9 0 1,0 1.8,0a0.9,0.9 0 1,0 -1.8,0M57.9,787.5a0.9,0.9 0 1,0 1.7,0a0.9,0.9 0 1,0 -1.7,0M101.3,725.7a1.8,1.8 0 1,0 3.7,0a1.8,1.8 0 1,0 -3.7,0M179.0,825.7a0.9,0.9 0 1,0 1.8,0a0.9,0.9 0 1,0 -1.8,0M164.7,718.3a1.1,1.1 0 1,0 2.2,0a1.1,1.1 0 1,0 -2.2,0M157.9,825.9a2.0,2.0 0 1,0 3.9,0a2.0,2.0 0 1,0 -3.9,0M109.4,793.2a0.8,0.8 0 1,0 1.7,0a0.8,0.8 0 1,0 -1.7,0M156.0,773.1a1.7,1.7 0 1,0 3.3,0a1.7,1.7 0 1,0 -3.3,0M203.1,745.2a1.0,1.0 0 1,0 2.0,0a1.0,1.0 0 1,0 -2.0,0M137.9,728.8a1.8,1.8 0 1,0 3.7,0a1.8,1.8 0 1,0 -3.7,0M89.2,719.4a1.5,1.5 0 1,0 2.9,0a1.5,1.5 0 1,0 -2.9,0M86.7,837.5a1.3,1.3 0 1,0 2.7,0a1.3,1.3 0 1,0 -2.7,0M169.5,786.5a1.0,1.0 0 1,0 2.0,0a1.0,1.0 0 1,0 -2.0,0M134.8,792.7a1.4,1.4 0 1,0 2.7,0a1.4,1.4 0 1,0 -2.7,0M183.5,765.6a1.2,1.2 0 1,0 2.4,0a1.2,1.2 0 1,0 -2.4,0M67.1,807.8a1.5,1.5 0 1,0 3.0,0a1.5,1.5 0 1,0 -3.0,0M189.3,766.6a1.2,1.2 0 1,0 2.3,0a1.2,1.2 0 1,0 -2.3,0M108.1,750.3a1.7,1.7 0 1,0 3.5,0a1.7,1.7 0 1,0 -3.5,0M64.7,743.8a1.6,1.6 0 1,0 3.2,0a1.6,1.6 0 1,0 -3.2,0M114.5,828.1a1.6,1.6 0 1,0 3.2,0a1.6,1.6 0 1,0 -3.2,0M69.5,749.5a1.4,1.4 0 1,0 2.7,0a1.4,1.4 0 1,0 -2.7,0M130.9,829.8a1.4,1.4 0 1,0 2.7,0a1.4,1.4 0 1,0 -2.7,0M164.0,726.4a0.9,0.9 0 1,0 1.9,0a0.9,0.9 0 1,0 -1.9,0M168.2,808.0a1.3,1.3 0 1,0 2.6,0a1.3,1.3 0 1,0 -2.6,0M197.4,721.7a1.4,1.4 0 1,0 2.8,0a1.4,1.4 0 1,0 -2.8,0M129.8,845.9a1.0,1.0 0 1,0 2.0,0a1.0,1.0 0 1,0 -2.0,0M67.4,757.8a1.6,1.6 0 1,0 3.2,0a1.6,1.6 0 1,0 -3.2,0M219.0,806.7a1.9,1.9 0 1,0 3.7,0a1.9,1.9 0 1,0 -3.7,0M223.5,763.6a1.5,1.5 0 1,0 3.0,0a1.5,1.5 0 1,0 -3.0,0M217.9,830.6a1.8,1.8 0 1,0 3.6,0a1.8,1.8 0 1,0 -3.6,0M76.3,726.7a1.2,1.2 0 1,0 2.5,0a1.2,1.2 0 1,0 -2.5,0M164.1,788.6a1.9,1.9 0 1,0 3.9,0a1.9,1.9 0 1,0 -3.9,0M132.7,823.7a1.7,1.7 0 1,0 3.5,0a1.7,1.7 0 1,0 -3.5,0M64.3,778.6a1.7,1.7 0 1,0 3.4,0a1.7,1.7 0 1,0 -3.4,0M217.8,768.8a1.7,1.7 0 1,0 3.4,0a1.7,1.7 0 1,0 -3.4,0M101.6,761.1a1.6,1.6 0 1,0 3.2,0a1.6,1.6 0 1,0 -3.2,0M180.9,719.4a1.3,1.3 0 1,0 2.5,0a1.3,1.3 0 1,0 -2.5,0M127.1,776.9a1.9,1.9 0 1,0 3.8,0a1.9,1.9 0 1,0 -3.8,0M118.5,794.0a0.9,0.9 0 1,0 1.8,0a0.9,0.9 0 1,0 -1.8,0M195.0,749.8a2.0,2.0 0 1,0 3.9,0a2.0,2.0 0 1,0 -3.9,0M104.6,728.2a2.0,2.0 0 1,0 3.9,0a2.0,2.0 0 1,0 -3.9,0" fill="#c8c8c8" opacity="0.75" filter="url(#blur04)"/>
</g>
<path d="M181.5,831.6 H224.2" stroke="#c8c8c8" stroke-width="1"/>
<clipPath id="cl2"><rect x="236.3" y="717" width="179.5" height="135"/></clipPath>
<rect x="236.3" y="717" width="179.5" height="135" fill="#4c4c4c"/>
<rect x="236.3" y="717" width="179.5" height="135" fill="#000" filter="url(#micB)"/>
<g clip-path="url(#cl2)"><g filter="url(#blur04)"><path d="M390.1,744.5l1.8,2.4M409.9,766.5l-0.5,4.5M246.9,808.1l0.3,5.1M250.1,828.3l3.2,4.6M353.6,770.1l-3.0,1.6M306.5,788.6l-5.5,2.8M291.6,748.4l0.5,3.9M311.3,804.6l1.7,4.1M296.1,801.5l0.0,6.5M349.5,724.9l-2.9,6.1M306.9,789.2l-4.5,4.5M342.0,723.0l-4.6,3.1M243.3,810.3l-4.9,1.2M406.6,817.2l-4.6,4.6M371.6,849.2l3.3,4.4M302.3,770.3l5.8,3.6M406.6,747.1l2.5,3.8M255.0,739.6l6.3,1.6M353.3,718.1l3.4,5.3M333.4,780.3l-4.2,1.4M397.7,741.9l3.2,2.4M264.4,757.7l-3.6,4.7M253.4,746.2l-3.4,1.6M395.6,736.8l-0.5,6.4M245.4,796.2l-4.6,0.0M338.7,810.9l-1.3,3.1M355.6,783.9l1.8,5.5M393.2,739.7l6.6,2.3M246.3,800.0l1.6,4.6M281.7,807.3l2.4,2.0M292.4,807.7l0.7,6.4M289.8,796.2l4.5,2.1M338.9,729.7l-3.6,2.4M279.1,767.2l5.2,0.0M395.5,741.9l3.5,2.8M390.4,839.1l-3.2,3.9M265.6,731.2l-4.6,3.0M396.6,745.2l3.2,1.5M263.9,745.5l0.4,4.1M413.4,747.9l-3.5,4.7M241.8,791.5l3.0,2.2M352.1,801.4l-4.0,4.2M298.7,779.2l2.7,2.3M251.0,802.7l-2.1,4.7M317.0,792.6l0.5,4.1M258.0,748.9l-5.0,1.6M394.2,738.6l3.8,5.2M368.1,844.5l4.7,0.2M244.3,804.6l-3.7,0.9M360.7,823.1l0.8,4.8M388.7,734.6l-1.2,4.6M388.9,762.6l4.4,1.0M320.9,820.8l-2.5,4.7M266.7,747.7l-2.9,1.8M241.5,850.8l5.0,0.9M355.6,828.1l4.8,1.1M287.0,794.5l2.9,2.3M365.7,802.5l0.7,4.1M399.2,727.3l3.7,1.9M402.5,744.4l-3.9,5.2" stroke="#262626" stroke-width="1.5" opacity="0.6" fill="none" stroke-linecap="round"/></g>
<path d="M406.4,724.6l5.6,1.5M356.5,758.6l-1.6,4.7M264.7,775.1l1.8,5.1M406.7,790.5l0.6,3.5M287.8,809.0l-4.0,1.2M265.8,741.0l2.4,2.1M293.7,817.7l-1.7,2.8M379.3,816.1l-5.3,1.6M299.8,849.4l-3.1,0.4M364.7,779.3l-0.4,4.4M326.2,829.3l2.7,5.4M319.1,793.6l-5.2,1.3M357.1,723.3l-5.2,3.0M375.1,781.8l3.3,4.6M337.2,785.5l-1.5,3.9M324.1,766.5l-3.3,5.0M297.6,718.1l-5.4,3.6M325.4,813.5l4.5,3.9M335.1,825.9l-5.3,3.3M250.1,798.0l1.5,3.2M301.7,794.5l-1.7,1.9M338.8,717.9l4.9,0.0M280.8,848.1l6.3,0.1M370.5,755.6l0.1,3.7M344.9,723.2l2.8,3.0M263.8,846.4l5.0,1.5M240.6,823.4l-4.5,0.7M323.7,761.3l-3.6,1.5M389.7,732.4l-5.1,0.7M342.4,733.8l-1.9,4.1M404.0,851.3l3.2,2.9M332.4,837.5l-1.5,3.6M286.3,818.3l3.6,1.8M328.8,812.7l3.1,1.0M354.7,732.3l0.7,4.6M262.8,791.5l-2.8,3.2M340.6,723.9l1.2,4.4M295.3,787.2l6.3,0.4M254.4,777.2l1.0,2.4M254.5,758.3l-4.6,2.5M402.9,743.1l0.7,6.0M237.3,720.3l3.1,4.4M397.8,747.3l1.5,4.1M307.2,733.4l2.6,1.1M351.4,846.6l-1.5,2.1M375.8,814.7l0.0,3.9M258.8,764.7l0.4,6.3M403.6,829.9l2.0,2.8M248.2,751.3l-1.7,2.3M339.6,726.6l4.0,2.5M397.5,824.8l-5.0,1.4M243.0,848.5l1.8,5.0M295.4,740.3l1.9,2.5M410.2,774.2l1.8,3.0M266.7,738.3l-3.4,0.6M300.7,820.2l-2.9,3.3M381.6,768.7l-2.8,3.0M249.6,762.1l-5.2,1.1M322.0,834.5l-2.6,4.9M276.7,800.9l1.6,4.9M350.3,718.6l0.6,5.3M353.0,827.2l6.3,0.3M345.2,839.2l-2.7,1.0M374.0,743.9l-3.4,3.5M338.9,830.5l0.7,3.4M320.1,744.7l-2.8,0.3M386.3,738.2l4.8,1.0M401.8,779.0l-4.0,1.6M346.4,763.9l-4.6,4.3M282.1,801.4l-4.7,2.7" stroke="#b4b4b4" stroke-width="1.1" opacity="0.6" fill="none" stroke-linecap="round"/>
<path d="M361.5,787.7a0.9,0.9 0 1,0 1.7,0a0.9,0.9 0 1,0 -1.7,0M298.2,801.0a1.4,1.4 0 1,0 2.7,0a1.4,1.4 0 1,0 -2.7,0M383.3,733.1a1.0,1.0 0 1,0 2.0,0a1.0,1.0 0 1,0 -2.0,0M393.3,744.3a0.7,0.7 0 1,0 1.5,0a0.7,0.7 0 1,0 -1.5,0M394.3,798.4a1.1,1.1 0 1,0 2.2,0a1.1,1.1 0 1,0 -2.2,0M392.3,734.1a1.1,1.1 0 1,0 2.1,0a1.1,1.1 0 1,0 -2.1,0M313.6,838.3a1.0,1.0 0 1,0 2.1,0a1.0,1.0 0 1,0 -2.1,0M393.9,735.8a0.7,0.7 0 1,0 1.4,0a0.7,0.7 0 1,0 -1.4,0M335.1,724.5a0.9,0.9 0 1,0 1.7,0a0.9,0.9 0 1,0 -1.7,0M324.7,711.0a0.8,0.8 0 1,0 1.5,0a0.8,0.8 0 1,0 -1.5,0M250.8,807.5a1.0,1.0 0 1,0 2.0,0a1.0,1.0 0 1,0 -2.0,0M253.0,754.5a0.7,0.7 0 1,0 1.5,0a0.7,0.7 0 1,0 -1.5,0M372.6,809.7a0.8,0.8 0 1,0 1.5,0a0.8,0.8 0 1,0 -1.5,0M330.7,810.7a1.4,1.4 0 1,0 2.7,0a1.4,1.4 0 1,0 -2.7,0M379.7,838.0a1.1,1.1 0 1,0 2.1,0a1.1,1.1 0 1,0 -2.1,0M239.6,763.0a1.3,1.3 0 1,0 2.6,0a1.3,1.3 0 1,0 -2.6,0M256.6,798.8a0.7,0.7 0 1,0 1.5,0a0.7,0.7 0 1,0 -1.5,0M359.0,785.4a1.2,1.2 0 1,0 2.5,0a1.2,1.2 0 1,0 -2.5,0M340.8,724.2a0.7,0.7 0 1,0 1.5,0a0.7,0.7 0 1,0 -1.5,0M408.6,828.7a1.2,1.2 0 1,0 2.3,0a1.2,1.2 0 1,0 -2.3,0M308.8,793.0a1.4,1.4 0 1,0 2.7,0a1.4,1.4 0 1,0 -2.7,0M302.1,792.9a1.1,1.1 0 1,0 2.2,0a1.1,1.1 0 1,0 -2.2,0M334.4,728.6a1.2,1.2 0 1,0 2.4,0a1.2,1.2 0 1,0 -2.4,0M254.0,752.2a1.1,1.1 0 1,0 2.1,0a1.1,1.1 0 1,0 -2.1,0M400.4,774.7a1.2,1.2 0 1,0 2.5,0a1.2,1.2 0 1,0 -2.5,0M329.3,732.4a1.4,1.4 0 1,0 2.8,0a1.4,1.4 0 1,0 -2.8,0M328.0,776.4a1.0,1.0 0 1,0 2.0,0a1.0,1.0 0 1,0 -2.0,0M378.9,804.4a0.8,0.8 0 1,0 1.6,0a0.8,0.8 0 1,0 -1.6,0M258.5,764.4a0.7,0.7 0 1,0 1.4,0a0.7,0.7 0 1,0 -1.4,0M410.7,803.1a1.1,1.1 0 1,0 2.2,0a1.1,1.1 0 1,0 -2.2,0M390.2,740.7a1.0,1.0 0 1,0 2.0,0a1.0,1.0 0 1,0 -2.0,0M299.0,802.4a0.7,0.7 0 1,0 1.4,0a0.7,0.7 0 1,0 -1.4,0M282.7,803.2a0.7,0.7 0 1,0 1.4,0a0.7,0.7 0 1,0 -1.4,0M321.1,752.3a0.9,0.9 0 1,0 1.8,0a0.9,0.9 0 1,0 -1.8,0M386.3,748.7a1.0,1.0 0 1,0 2.0,0a1.0,1.0 0 1,0 -2.0,0M335.1,789.2a1.0,1.0 0 1,0 2.0,0a1.0,1.0 0 1,0 -2.0,0M370.7,773.7a1.1,1.1 0 1,0 2.1,0a1.1,1.1 0 1,0 -2.1,0M369.0,805.2a1.4,1.4 0 1,0 2.7,0a1.4,1.4 0 1,0 -2.7,0M317.5,822.9a0.8,0.8 0 1,0 1.5,0a0.8,0.8 0 1,0 -1.5,0M384.5,778.1a1.4,1.4 0 1,0 2.7,0a1.4,1.4 0 1,0 -2.7,0M367.9,840.3a1.1,1.1 0 1,0 2.2,0a1.1,1.1 0 1,0 -2.2,0M331.6,717.6a1.0,1.0 0 1,0 2.0,0a1.0,1.0 0 1,0 -2.0,0M250.9,794.3a1.3,1.3 0 1,0 2.7,0a1.3,1.3 0 1,0 -2.7,0M307.7,804.3a1.2,1.2 0 1,0 2.5,0a1.2,1.2 0 1,0 -2.5,0M355.6,807.1a1.0,1.0 0 1,0 2.0,0a1.0,1.0 0 1,0 -2.0,0" stroke="#e0e0e0" stroke-width="0.9" fill="none" opacity="0.7"/>
<path d="M393.9,740.5a1.8,1.8 0 1,0 3.6,0a1.8,1.8 0 1,0 -3.6,0M257.7,750.0a1.8,1.8 0 1,0 3.6,0a1.8,1.8 0 1,0 -3.6,0M289.4,793.5a1.5,1.5 0 1,0 3.1,0a1.5,1.5 0 1,0 -3.1,0M293.0,790.6a1.2,1.2 0 1,0 2.3,0a1.2,1.2 0 1,0 -2.3,0M253.7,801.7a1.4,1.4 0 1,0 2.7,0a1.4,1.4 0 1,0 -2.7,0M409.0,835.1a1.6,1.6 0 1,0 3.1,0a1.6,1.6 0 1,0 -3.1,0M275.3,799.7a1.0,1.0 0 1,0 2.0,0a1.0,1.0 0 1,0 -2.0,0M384.9,736.0a1.4,1.4 0 1,0 2.7,0a1.4,1.4 0 1,0 -2.7,0M330.9,829.3a1.2,1.2 0 1,0 2.5,0a1.2,1.2 0 1,0 -2.5,0M348.2,722.4a1.6,1.6 0 1,0 3.2,0a1.6,1.6 0 1,0 -3.2,0M272.6,780.2a1.3,1.3 0 1,0 2.6,0a1.3,1.3 0 1,0 -2.6,0M332.8,729.6a1.3,1.3 0 1,0 2.6,0a1.3,1.3 0 1,0 -2.6,0M251.2,745.3a1.7,1.7 0 1,0 3.3,0a1.7,1.7 0 1,0 -3.3,0M268.2,782.4a0.8,0.8 0 1,0 1.6,0a0.8,0.8 0 1,0 -1.6,0M400.0,851.1a1.1,1.1 0 1,0 2.1,0a1.1,1.1 0 1,0 -2.1,0M316.5,803.2a1.7,1.7 0 1,0 3.4,0a1.7,1.7 0 1,0 -3.4,0M328.9,818.8a1.9,1.9 0 1,0 3.7,0a1.9,1.9 0 1,0 -3.7,0M322.6,827.3a0.9,0.9 0 1,0 1.8,0a0.9,0.9 0 1,0 -1.8,0M345.6,710.7a1.3,1.3 0 1,0 2.7,0a1.3,1.3 0 1,0 -2.7,0M246.2,737.0a1.4,1.4 0 1,0 2.8,0a1.4,1.4 0 1,0 -2.8,0M325.9,812.0a1.9,1.9 0 1,0 3.8,0a1.9,1.9 0 1,0 -3.8,0M335.0,727.5a1.9,1.9 0 1,0 3.8,0a1.9,1.9 0 1,0 -3.8,0M254.0,756.2a0.8,0.8 0 1,0 1.7,0a0.8,0.8 0 1,0 -1.7,0M301.7,799.7a1.5,1.5 0 1,0 3.1,0a1.5,1.5 0 1,0 -3.1,0M378.9,804.1a1.8,1.8 0 1,0 3.6,0a1.8,1.8 0 1,0 -3.6,0M344.0,730.9a0.9,0.9 0 1,0 1.8,0a0.9,0.9 0 1,0 -1.8,0M324.9,841.4a2.0,2.0 0 1,0 3.9,0a2.0,2.0 0 1,0 -3.9,0M344.6,764.4a1.9,1.9 0 1,0 3.9,0a1.9,1.9 0 1,0 -3.9,0M270.7,791.7a0.8,0.8 0 1,0 1.6,0a0.8,0.8 0 1,0 -1.6,0M249.9,801.9a1.5,1.5 0 1,0 2.9,0a1.5,1.5 0 1,0 -2.9,0M242.5,800.3a1.2,1.2 0 1,0 2.5,0a1.2,1.2 0 1,0 -2.5,0M288.6,837.2a1.0,1.0 0 1,0 2.0,0a1.0,1.0 0 1,0 -2.0,0M236.6,729.1a1.0,1.0 0 1,0 1.9,0a1.0,1.0 0 1,0 -1.9,0M362.4,845.1a1.7,1.7 0 1,0 3.5,0a1.7,1.7 0 1,0 -3.5,0M399.8,734.4a2.0,2.0 0 1,0 4.0,0a2.0,2.0 0 1,0 -4.0,0M249.6,795.7a1.2,1.2 0 1,0 2.4,0a1.2,1.2 0 1,0 -2.4,0M335.0,724.0a1.6,1.6 0 1,0 3.2,0a1.6,1.6 0 1,0 -3.2,0M250.1,759.0a1.5,1.5 0 1,0 2.9,0a1.5,1.5 0 1,0 -2.9,0M329.1,732.9a1.8,1.8 0 1,0 3.7,0a1.8,1.8 0 1,0 -3.7,0M399.6,748.1a1.7,1.7 0 1,0 3.4,0a1.7,1.7 0 1,0 -3.4,0M345.8,811.7a0.9,0.9 0 1,0 1.9,0a0.9,0.9 0 1,0 -1.9,0M337.7,800.6a1.0,1.0 0 1,0 2.1,0a1.0,1.0 0 1,0 -2.1,0M355.5,726.8a1.9,1.9 0 1,0 3.9,0a1.9,1.9 0 1,0 -3.9,0M339.6,741.0a1.3,1.3 0 1,0 2.6,0a1.3,1.3 0 1,0 -2.6,0M343.7,731.4a0.8,0.8 0 1,0 1.6,0a0.8,0.8 0 1,0 -1.6,0M255.1,759.7a1.3,1.3 0 1,0 2.6,0a1.3,1.3 0 1,0 -2.6,0M360.7,724.2a1.8,1.8 0 1,0 3.6,0a1.8,1.8 0 1,0 -3.6,0M352.7,729.4a1.7,1.7 0 1,0 3.4,0a1.7,1.7 0 1,0 -3.4,0M287.4,800.7a1.8,1.8 0 1,0 3.6,0a1.8,1.8 0 1,0 -3.6,0M303.8,809.8a1.8,1.8 0 1,0 3.6,0a1.8,1.8 0 1,0 -3.6,0M265.8,832.2a1.8,1.8 0 1,0 3.5,0a1.8,1.8 0 1,0 -3.5,0M408.4,844.8a1.2,1.2 0 1,0 2.3,0a1.2,1.2 0 1,0 -2.3,0M324.5,833.7a1.3,1.3 0 1,0 2.5,0a1.3,1.3 0 1,0 -2.5,0M398.9,749.6a1.2,1.2 0 1,0 2.3,0a1.2,1.2 0 1,0 -2.3,0M329.7,794.6a1.2,1.2 0 1,0 2.4,0a1.2,1.2 0 1,0 -2.4,0M298.2,803.2a1.5,1.5 0 1,0 3.0,0a1.5,1.5 0 1,0 -3.0,0M395.0,831.6a1.4,1.4 0 1,0 2.9,0a1.4,1.4 0 1,0 -2.9,0M285.0,847.4a1.2,1.2 0 1,0 2.5,0a1.2,1.2 0 1,0 -2.5,0M348.6,728.9a2.0,2.0 0 1,0 3.9,0a2.0,2.0 0 1,0 -3.9,0M326.4,837.4a1.0,1.0 0 1,0 2.0,0a1.0,1.0 0 1,0 -2.0,0M397.9,745.6a1.7,1.7 0 1,0 3.4,0a1.7,1.7 0 1,0 -3.4,0M275.0,823.2a0.9,0.9 0 1,0 1.7,0a0.9,0.9 0 1,0 -1.7,0M396.3,790.8a1.2,1.2 0 1,0 2.3,0a1.2,1.2 0 1,0 -2.3,0M364.9,823.9a1.9,1.9 0 1,0 3.8,0a1.9,1.9 0 1,0 -3.8,0M337.9,828.3a1.4,1.4 0 1,0 2.8,0a1.4,1.4 0 1,0 -2.8,0M254.7,752.1a1.6,1.6 0 1,0 3.2,0a1.6,1.6 0 1,0 -3.2,0M327.3,813.9a0.9,0.9 0 1,0 1.7,0a0.9,0.9 0 1,0 -1.7,0M324.3,827.4a1.9,1.9 0 1,0 3.9,0a1.9,1.9 0 1,0 -3.9,0M319.4,741.9a0.9,0.9 0 1,0 1.7,0a0.9,0.9 0 1,0 -1.7,0M239.7,803.1a1.9,1.9 0 1,0 3.7,0a1.9,1.9 0 1,0 -3.7,0M270.6,755.8a1.0,1.0 0 1,0 2.0,0a1.0,1.0 0 1,0 -2.0,0M320.6,774.0a2.0,2.0 0 1,0 4.0,0a2.0,2.0 0 1,0 -4.0,0M338.4,726.7a1.9,1.9 0 1,0 3.8,0a1.9,1.9 0 1,0 -3.8,0M327.0,819.0a1.2,1.2 0 1,0 2.5,0a1.2,1.2 0 1,0 -2.5,0M352.0,819.4a1.4,1.4 0 1,0 2.7,0a1.4,1.4 0 1,0 -2.7,0M397.6,799.7a1.5,1.5 0 1,0 3.0,0a1.5,1.5 0 1,0 -3.0,0M300.1,795.8a1.4,1.4 0 1,0 2.9,0a1.4,1.4 0 1,0 -2.9,0M384.2,788.2a1.0,1.0 0 1,0 2.0,0a1.0,1.0 0 1,0 -2.0,0M308.6,796.2a1.9,1.9 0 1,0 3.8,0a1.9,1.9 0 1,0 -3.8,0M253.8,806.7a1.6,1.6 0 1,0 3.2,0a1.6,1.6 0 1,0 -3.2,0M308.3,748.9a1.9,1.9 0 1,0 3.7,0a1.9,1.9 0 1,0 -3.7,0M364.1,790.4a0.8,0.8 0 1,0 1.7,0a0.8,0.8 0 1,0 -1.7,0M335.5,728.4a1.8,1.8 0 1,0 3.6,0a1.8,1.8 0 1,0 -3.6,0M326.0,717.1a1.0,1.0 0 1,0 2.0,0a1.0,1.0 0 1,0 -2.0,0M333.4,723.6a1.6,1.6 0 1,0 3.3,0a1.6,1.6 0 1,0 -3.3,0M271.4,734.8a1.7,1.7 0 1,0 3.5,0a1.7,1.7 0 1,0 -3.5,0M291.1,804.5a1.1,1.1 0 1,0 2.1,0a1.1,1.1 0 1,0 -2.1,0M311.3,802.5a1.5,1.5 0 1,0 3.0,0a1.5,1.5 0 1,0 -3.0,0M286.8,821.7a2.0,2.0 0 1,0 3.9,0a2.0,2.0 0 1,0 -3.9,0M243.0,758.9a0.9,0.9 0 1,0 1.8,0a0.9,0.9 0 1,0 -1.8,0" fill="#c8c8c8" opacity="0.75" filter="url(#blur04)"/>
</g>
<path d="M366.6,831.6 H409.2" stroke="#c8c8c8" stroke-width="1"/>
<ellipse cx="266" cy="729" rx="7" ry="4" fill="#303030" opacity="0.6" filter="url(#blur2)"/>
<clipPath id="cl3"><rect x="423.8" y="717" width="179.7" height="135"/></clipPath>
<rect x="423.8" y="717" width="179.7" height="135" fill="#525252"/>
<rect x="423.8" y="717" width="179.7" height="135" fill="#000" filter="url(#micC)"/>
<g clip-path="url(#cl3)"><g filter="url(#blur04)"><path d="M539.0,835.8l4.8,-1.1M493.6,762.1l3.1,-1.2M478.8,745.4l2.2,-3.6M602.1,747.9l4.3,-1.4M571.5,766.2l2.6,3.5M566.9,761.8l3.7,2.3M515.7,801.7l3.0,5.2M468.8,843.3l3.7,-5.0M519.5,727.7l5.3,-0.2M524.6,815.0l2.8,3.5M586.4,835.1l3.5,-5.7M514.6,717.4l4.3,-4.9M439.8,766.4l5.3,-0.8M522.2,850.5l5.3,3.8M539.5,775.3l1.2,5.7M587.3,772.2l3.1,6.1M437.4,756.0l1.5,3.4M487.2,746.8l4.2,-3.5M548.1,798.5l2.6,3.4M590.3,816.4l5.2,-1.2M529.2,770.4l0.3,4.2M426.3,764.7l2.7,3.3M497.4,772.9l5.5,3.6M525.3,760.6l4.5,1.5M546.5,737.3l5.9,-0.5M547.4,829.5l1.9,-2.4M524.2,769.0l0.9,3.1M548.5,730.3l4.0,2.1M440.7,851.2l2.6,-1.7M476.1,772.5l2.4,1.9M582.2,804.2l2.9,2.0M499.8,821.2l3.8,0.5M573.1,782.7l3.2,-1.8M554.7,840.7l2.3,-4.4M465.2,821.8l5.4,-3.8M449.4,817.4l3.7,-0.2M505.4,787.3l5.4,4.4M481.0,799.6l5.2,4.4M450.2,836.0l3.2,0.0M471.9,747.7l3.2,-3.9M460.5,843.2l4.4,-4.5M500.1,787.0l4.0,2.6M488.3,785.2l3.9,-0.3M490.4,742.2l4.3,-3.5M522.8,816.4l3.8,1.1M498.8,731.0l3.1,-5.4M588.6,806.5l4.5,-2.6M562.4,784.2l3.8,3.8M437.9,746.5l2.6,-3.2M514.8,761.2l3.2,1.4M476.1,809.2l4.3,-2.7M531.7,800.3l0.0,5.8M583.7,804.0l2.8,-3.9M519.3,728.0l5.0,-2.4M528.9,842.4l5.4,2.7M565.0,807.7l3.2,2.3M589.7,792.0l4.6,3.3M515.1,806.0l3.5,0.2M558.6,842.7l4.1,-4.3M543.4,735.8l6.2,-1.3M566.0,749.1l3.9,-0.6M490.5,783.5l5.9,1.7M593.2,819.2l2.8,-2.0M522.3,768.4l0.7,5.2M499.1,806.2l4.6,1.9M545.2,743.6l5.5,-0.4M443.3,758.2l4.3,-1.4M580.3,753.8l6.2,0.1M554.3,745.1l5.2,0.7M532.7,833.2l1.5,3.3M456.3,850.7l1.1,-4.0M446.4,826.9l5.6,2.3M476.2,729.7l3.5,-5.0M468.1,850.6l-0.1,-3.5M483.8,747.1l1.6,-3.1M521.5,842.7l3.8,-2.6M553.6,813.4l5.8,2.1M507.4,745.1l1.5,3.1M578.4,793.9l3.0,-0.6M456.3,725.7l3.5,-5.6M592.1,773.1l6.2,-3.0M599.7,735.0l1.4,-6.6M534.4,765.4l2.7,5.6M581.1,728.6l2.2,-3.4M600.5,844.3l-1.4,-3.0M497.9,831.9l1.2,-3.0M483.1,736.8l-2.1,-4.5M572.6,725.8l0.3,-4.7M597.4,847.1l1.7,-3.7M591.7,733.2l3.3,-2.4M480.3,777.5l6.0,1.5M509.6,828.4l3.9,-2.1M532.2,767.5l4.2,4.9M486.5,844.0l4.1,-3.9M442.9,837.6l4.1,-0.2M576.4,755.8l5.5,-3.8M581.2,727.1l-0.7,-6.2M465.8,773.7l2.2,6.2M426.4,737.2l5.6,0.0M498.4,784.5l5.6,0.5M555.8,732.4l2.1,-6.5M439.3,787.8l3.8,0.1M601.8,752.8l6.7,0.1M438.9,788.2l4.9,2.3M498.1,756.5l6.2,1.5M582.9,828.2l4.1,-3.8M497.5,780.6l4.4,2.6M433.4,717.1l5.7,-0.3M597.0,812.5l3.2,-0.2M530.3,818.4l3.1,3.7M432.8,844.0l6.3,-1.4M589.8,757.3l4.4,-2.8M424.9,764.2l2.0,5.6M468.8,817.1l2.6,2.3M435.3,772.8l1.3,4.0M474.8,776.6l2.7,-3.7M548.4,780.9l2.1,4.8M437.3,740.6l3.6,1.2M459.2,722.6l-0.8,-4.1M592.5,757.9l4.6,-1.9M539.5,803.1l1.0,3.2M436.1,731.0l4.2,-1.5M521.9,820.8l2.7,4.4M504.3,745.9l3.4,-1.8M487.8,733.0l3.6,-5.9M483.3,819.3l3.3,-2.3M464.7,776.1l1.3,-3.4M428.6,728.3l5.8,-2.7M436.2,843.7l4.4,0.4M587.0,778.5l1.8,4.1M425.7,770.9l5.0,-0.7M575.9,777.6l4.2,3.5M532.8,733.6l4.3,-1.8M456.7,739.2l2.3,-4.1M595.4,779.5l5.9,0.7M576.7,733.7l4.8,-0.4M433.1,758.8l3.4,0.8M566.6,745.9l6.0,0.2M448.8,739.3l3.3,-0.4M462.3,799.5l2.9,3.8M582.3,756.3l3.9,2.5M518.4,742.7l5.7,3.5M563.9,750.4l6.9,-0.0M447.8,771.7l3.3,2.0M510.4,798.9l3.9,4.1M465.6,849.3l4.0,-2.2M525.6,846.1l4.0,0.0M441.5,728.8l5.9,-3.0M539.3,740.2l3.5,0.2M471.2,719.5l4.2,-5.2M505.2,788.1l2.3,4.3M553.5,788.3l3.8,2.0M560.7,729.3l4.3,-2.7M456.1,787.8l4.4,0.5M547.1,760.1l0.8,4.6M554.7,803.0l0.9,2.9M529.7,719.6l4.6,2.6M488.8,723.8l1.2,-4.1M477.0,740.5l4.7,-1.7M466.4,830.9l2.3,-2.5M598.7,739.4l2.9,-3.1M439.3,823.9l2.7,1.8M475.3,718.8l3.8,-3.6M424.2,777.3l1.4,4.2M599.2,848.5l-0.8,-3.1M521.0,838.3l6.1,-2.1M551.8,820.3l1.6,3.3M546.3,749.6l6.2,2.2M461.2,833.4l1.5,-3.6M507.9,787.5l6.7,1.8M549.3,817.7l2.2,5.0M523.3,775.3l1.8,3.9M487.1,728.6l5.5,-3.2M486.6,761.1l3.1,-0.5M512.7,745.3l6.4,-2.1M434.7,813.5l3.1,5.8M576.9,827.1l3.1,-0.9M459.6,824.8l2.1,-4.0M509.1,810.8l4.0,1.0M589.7,778.6l5.7,2.0M546.6,763.9l4.5,2.2M530.6,745.5l2.9,3.8M557.7,754.3l5.3,-1.8M528.1,730.0l5.0,2.8M557.8,732.8l4.6,1.6M567.3,725.6l6.1,2.5M530.3,747.5l3.6,1.6M602.0,721.2l-0.7,-4.2M575.6,836.1l3.4,-0.2M487.4,824.2l2.7,2.4M486.2,771.5l3.8,-1.3M505.8,777.8l4.1,3.8M444.3,722.0l4.8,-3.3M539.4,725.1l2.8,-2.1M588.9,786.9l3.6,-1.4M597.7,811.1l3.6,1.6M559.4,785.9l2.5,2.7M517.2,775.0l1.7,6.4M484.6,795.0l4.3,3.6M582.2,804.9l5.1,-3.7M544.9,745.1l5.7,-0.9M500.7,720.5l2.0,-4.9M570.0,836.5l2.4,-3.1M458.6,826.9l1.9,-2.4M502.4,755.9l1.5,-2.9M555.9,815.1l0.3,3.2M459.7,755.3l6.2,-0.1M600.3,793.2l4.2,2.4M530.5,758.7l4.3,2.5M502.2,791.9l4.6,2.6M532.9,772.4l3.2,4.0M432.7,803.5l2.4,5.1M462.2,838.7l0.9,-4.6M595.5,751.3l1.4,-4.9M519.8,757.9l2.8,-1.3M556.8,738.0l5.0,1.1M549.7,786.7l0.1,3.1M466.6,816.0l2.5,-5.3M515.7,723.5l5.1,-0.0M554.5,750.8l3.7,4.2M539.3,767.2l1.5,5.9M466.1,819.9l3.6,-3.2M482.6,829.5l1.5,-4.7M435.4,757.8l1.9,3.4M447.7,719.2l1.2,-5.6M489.0,721.0l1.9,-6.1M558.2,830.2l6.4,-1.9M438.2,791.0l2.2,2.7M478.0,843.2l2.7,-1.9M516.0,839.2l5.9,-2.6M435.0,752.1l4.5,0.6M525.5,752.6l4.5,4.1M594.6,752.9l1.3,-3.4M517.5,794.1l3.5,5.3M528.2,836.2l5.9,1.2M512.5,792.3l3.8,3.2M528.1,773.0l3.6,1.1M489.7,766.8l2.5,1.7M440.3,779.9l1.0,3.9M431.0,755.2l6.1,3.0M478.3,831.0l4.1,-5.3M503.7,721.8l5.1,-4.1M534.8,729.3l3.7,-1.0M535.5,832.3l4.4,3.6M458.8,848.9l1.8,-6.1M592.5,829.0l4.3,-5.4M519.5,724.8l5.9,3.7M601.9,807.0l2.9,-1.7M584.2,728.5l0.7,-3.6M481.7,814.5l3.6,0.1M545.4,743.9l1.6,3.7M424.8,800.5l-1.5,4.8M525.0,847.0l6.2,-1.0M461.1,799.9l3.3,2.7M594.1,723.0l2.2,-2.6M541.9,763.4l-1.1,5.5M539.1,811.8l1.2,3.0M479.2,723.4l1.5,-4.2M599.6,746.6l4.6,-3.7M498.9,788.2l5.2,4.2M473.2,801.6l6.9,0.0M489.7,843.3l3.5,1.2M431.2,770.4l3.3,2.7M463.4,763.2l5.7,1.1M464.8,794.9l3.1,1.4M468.2,733.9l0.7,-4.1M553.6,810.9l4.5,2.8M594.2,777.5l5.2,0.6M522.8,779.3l1.0,4.6M592.0,730.6l3.3,-5.8M524.0,777.5l-2.5,2.6M465.1,725.2l-0.8,-4.3M521.4,764.0l2.0,2.4M503.8,759.1l4.5,1.3M538.4,793.6l0.4,3.1M558.9,844.0l6.2,-1.5M504.6,820.9l3.3,-0.0M560.1,786.9l4.0,3.9M492.8,754.2l4.9,0.3M521.8,780.9l-1.1,5.9M439.1,837.9l4.0,-0.6M425.6,725.7l2.8,1.1M513.7,735.2l6.0,-2.5M466.9,755.7l3.9,-4.3M565.8,829.3l2.3,2.0M514.1,807.2l6.4,1.9M507.5,756.4l2.6,2.3M505.5,735.9l6.3,-0.3M450.1,799.4l3.7,0.6M500.0,823.0l4.8,1.8M511.4,746.5l3.3,-0.4M540.4,824.3l0.6,5.1M484.2,748.1l2.8,-2.3M483.0,826.8l1.1,-3.0M583.8,799.8l3.9,1.9M538.8,780.4l-2.6,2.5M485.9,737.1l1.9,-2.6M459.9,776.4l2.8,-4.5M499.2,807.8l3.0,2.0M510.4,804.0l4.5,4.0M513.6,836.2l2.2,3.9M601.0,794.7l6.2,-0.1M570.5,719.5l5.6,0.8M549.2,766.3l3.1,4.2M489.8,756.8l5.5,-3.0M502.4,736.2l6.0,-0.1M551.1,840.4l3.5,-0.1M593.3,806.8l4.6,-0.7M582.9,728.3l2.2,-2.1M574.4,831.9l2.2,-2.1M546.1,845.5l5.8,2.7M568.8,787.5l6.6,1.0M455.8,743.7l1.1,-3.2M479.3,783.6l4.7,5.0M516.4,849.3l3.5,0.7M454.8,835.1l4.0,-1.8M504.6,782.7l-2.9,4.6M591.6,734.9l4.3,-3.3M564.6,816.5l5.8,-3.2M547.1,818.5l1.5,3.4M531.3,807.5l1.0,3.3M559.3,769.6l0.2,3.0M481.4,821.1l3.1,-3.7M435.0,781.0l1.6,4.5M556.6,749.6l1.7,5.6M427.5,742.7l5.7,2.4M481.9,758.4l2.9,-4.9M428.9,771.5l6.6,2.1M538.7,797.4l2.1,2.3M578.2,742.0l1.8,-4.5M466.3,720.2l3.8,-4.5M495.0,773.9l4.0,4.9M534.0,806.6l5.0,4.6M477.9,745.3l4.5,-4.9M504.6,818.0l4.5,-0.5M487.0,775.7l4.5,1.0M425.5,743.7l3.9,0.5M562.0,748.3l6.1,-2.5M600.5,792.7l3.7,-4.2M434.9,790.8l1.5,6.2M559.1,823.5l6.0,0.5M489.1,824.4l3.6,3.0M462.9,799.3l5.8,2.1M597.9,821.7l1.7,-6.6M501.0,757.8l4.5,0.1M509.2,728.2l5.2,0.7M529.8,763.6l3.5,5.1M568.4,812.2l-0.4,3.3M476.9,814.6l5.2,-1.3M558.0,829.4l3.4,-0.7M562.5,794.4l3.7,4.6M594.0,827.7l3.0,-2.6M501.1,847.0l2.1,-4.0M511.6,727.9l4.0,-2.0M584.0,833.4l6.1,-2.6M459.2,761.5l4.3,2.9M473.7,807.8l6.4,-0.6M602.3,744.5l2.6,-5.1M444.2,812.2l4.7,3.7M541.2,771.0l1.0,3.5M568.9,793.9l4.2,4.2M545.0,774.8l-3.0,5.1M446.7,747.8l3.8,-1.7M425.5,744.1l6.0,-0.8M432.5,800.5l4.1,1.7M593.0,847.4l3.3,-3.6M568.9,786.5l1.6,4.0M529.4,756.2l5.6,-1.7M468.4,831.0l5.0,-2.7M432.0,720.2l3.0,-1.6M510.6,831.5l2.7,3.9M460.6,805.9l5.4,3.0M507.2,778.9l0.4,3.5M535.1,846.0l4.6,-4.6M447.6,847.2l1.0,-4.4M602.7,819.6l0.8,-3.8M519.6,722.3l4.0,-1.0M525.3,838.5l3.5,-1.8M503.8,758.4l6.0,3.4M541.4,851.6l3.8,-1.4M488.2,750.1l3.2,-1.0M575.3,825.9l5.6,-3.3M537.1,750.5l2.9,2.3M462.8,826.3l6.1,2.0M467.2,745.6l5.5,-1.4M592.2,728.1l1.6,-3.3M523.4,744.3l3.3,5.8M549.2,753.4l3.2,2.2M518.4,778.4l0.5,4.2M482.3,819.1l5.1,-2.8M530.0,741.6l6.2,0.1M486.5,759.2l5.5,-3.2M425.4,841.4l4.8,0.4M474.1,759.0l2.4,-4.8M450.4,842.8l5.7,-2.6M578.0,835.7l3.8,-5.7M424.4,829.4l3.3,4.7M457.1,801.7l3.4,-4.1M466.3,739.9l3.2,-1.7M498.0,762.4l6.4,-2.7M541.7,753.4l4.4,2.9M524.8,789.7l-2.5,2.9M428.1,787.3l1.6,4.6M488.3,841.8l5.5,1.1M568.1,819.9l4.3,-1.1M519.5,755.4l6.3,-1.0M497.4,769.8l2.9,1.0M581.3,739.6l4.0,-3.7M495.4,779.4l2.7,1.6M466.7,826.0l5.8,0.5M524.6,752.0l3.9,5.6M598.0,765.8l5.7,-0.5M501.9,829.0l1.6,-2.7M564.7,768.9l3.6,5.9M461.1,734.5l1.0,-3.6M451.0,770.6l6.1,-0.4M525.4,808.6l1.1,2.9M424.4,723.5l3.0,1.6M580.9,842.9l1.2,-4.4M562.7,799.3l4.1,2.6M539.9,788.0l0.0,6.0M435.0,840.8l5.8,-2.3M590.1,740.9l3.3,-3.5M547.8,770.9l5.5,4.1M439.5,767.3l1.8,5.1M538.9,781.0l-2.4,3.6M425.4,772.1l4.6,3.3M466.5,744.7l3.4,-0.8M565.1,850.8l3.4,-1.6M494.1,789.8l4.7,4.7M457.7,755.1l6.7,-0.1M595.7,824.3l2.8,-2.5M521.5,822.5l5.4,0.9M557.4,806.9l2.9,2.4M436.3,758.8l6.6,2.1M472.6,829.0l0.9,-3.1M463.7,724.9l0.7,-4.4M475.5,732.2l-2.1,-3.3M486.0,735.4l1.2,-3.0M550.9,774.8l3.2,3.3M580.0,758.3l6.8,0.2M441.3,834.5l5.9,-3.8M486.2,794.1l3.8,-1.5M549.7,774.5l2.9,0.9M546.0,839.9l4.8,-2.0M598.6,802.9l6.2,0.6M562.6,719.7l1.2,-5.4M462.2,794.0l3.7,-5.8M497.5,754.1l3.0,3.3M497.0,725.1l2.0,-2.7M573.4,821.0l3.3,-2.8M595.0,813.3l-0.0,-3.1M510.5,818.8l6.9,-0.1M505.1,764.7l4.6,2.4M479.1,763.3l3.5,-0.5M456.3,759.2l4.8,-0.9M442.8,837.5l5.7,-1.5M487.8,750.9l5.2,-0.9M425.8,748.4l2.9,-3.6M556.2,802.7l2.0,2.6M532.3,825.1l2.0,4.7M537.5,833.2l6.3,0.2M582.6,848.9l-1.9,-5.2M591.5,809.4l4.9,2.9M557.7,781.3l3.0,2.2M533.0,799.4l5.6,0.3M568.0,766.7l4.5,5.0M560.4,846.1l5.2,-1.1M590.7,767.8l3.1,-3.2M452.8,737.1l3.1,-4.2M474.9,770.0l2.6,1.9M524.7,785.5l3.2,2.4M461.2,736.7l3.8,-2.8M578.6,761.0l1.6,-2.9M575.5,770.0l6.9,-0.2M454.2,729.7l4.7,-2.1M565.4,719.2l-1.4,-4.7M455.6,761.2l6.1,-0.2M496.7,787.8l4.7,2.2M556.5,754.3l0.1,5.3M426.6,794.9l3.0,2.2M541.3,809.7l3.6,5.4M552.3,847.1l5.0,-1.1M483.9,798.1l5.0,0.8M598.5,851.3l1.4,-4.1M465.7,739.7l1.8,-4.7M546.6,778.8l3.4,2.9M589.0,767.9l3.1,0.0M532.7,793.3l-1.5,6.0M471.4,762.7l5.6,0.5M532.6,838.4l3.6,0.6M602.8,767.3l5.5,2.8M522.6,729.9l2.9,1.1M592.5,753.9l2.7,-1.8M446.9,807.7l4.8,0.4M473.0,839.3l0.1,-3.3M440.1,830.9l6.5,2.6M587.1,762.9l2.8,-2.2M531.7,724.3l6.2,-0.8M429.8,826.4l6.4,1.9M446.0,782.2l2.2,2.5M500.5,737.5l4.9,-0.6M565.8,791.8l-0.0,6.7M479.5,816.0l5.8,-2.5M603.2,835.8l-1.4,-4.9M577.0,724.9l5.4,0.4M550.2,843.5l4.8,-0.7M536.1,734.7l4.3,-0.7M603.1,748.5l3.4,-2.0M439.1,772.5l3.3,1.7M424.7,844.1l3.4,-1.1M450.3,761.3l4.6,1.7M439.8,800.4l1.8,3.5M530.7,810.8l0.1,3.8M581.5,803.8l4.7,-0.6M602.1,822.6l3.2,-0.2M574.7,789.6l3.7,2.2M596.4,834.0l2.4,-4.9M515.0,750.5l4.8,0.3M512.2,808.4l2.8,6.0M548.2,825.6l2.9,3.3M446.1,756.1l5.5,3.4M603.4,776.8l2.9,2.1M501.0,731.6l5.4,-0.5M475.7,757.4l5.9,-1.2M578.2,746.4l3.5,0.1M525.0,758.0l0.7,5.4M491.3,840.6l5.0,-0.7M533.5,790.2l-0.1,3.7M519.6,810.6l5.9,-2.3M570.1,723.7l4.2,-0.6M586.6,787.2l3.2,4.0M486.6,721.7l-0.2,-3.7M468.8,793.1l4.9,2.1M534.7,735.8l6.2,3.1M451.4,723.8l1.1,-6.2M590.5,751.8l2.7,-4.7M542.0,850.5l6.7,1.7M425.6,729.3l3.3,-1.7M518.9,764.9l4.7,5.1M601.2,840.7l-1.0,-4.9M429.4,813.5l2.2,5.8M458.0,804.9l4.4,0.3M574.0,843.3l1.8,-3.3M513.0,761.5l1.3,3.9M518.2,769.4l4.3,0.8M564.7,731.8l4.9,-1.0M505.6,748.6l2.6,3.5M514.6,837.6l4.3,2.8M544.2,797.2l5.7,3.6M565.6,829.7l4.7,-0.4M504.5,840.0l3.5,-5.4M454.0,841.6l2.9,-1.4M428.1,777.8l1.4,6.1M461.0,737.9l5.9,-3.3M572.8,753.1l2.6,-3.0M479.1,818.8l7.0,0.0M567.9,761.0l6.0,0.1M490.5,836.7l2.5,-4.7M491.7,801.0l6.2,-2.2M460.0,814.1l4.0,-2.0M493.3,756.2l5.7,-3.6M447.8,736.1l2.1,-2.5M479.1,836.3l-0.9,-6.7M544.5,781.5l6.6,2.0M519.8,809.4l3.3,5.3M572.1,777.7l-0.6,4.7M546.8,801.5l0.5,3.4M430.8,782.3l0.2,6.3M483.4,792.1l6.2,-0.7M476.9,770.2l3.4,1.1M500.9,760.1l5.7,0.8M496.4,805.0l5.6,3.6M474.6,784.8l4.1,5.4M434.4,734.6l4.5,-1.4M425.8,756.9l1.2,2.9M493.0,759.8l2.7,-1.4M555.8,799.0l1.1,3.1M511.5,845.5l2.7,2.6M571.7,790.3l5.8,1.0M542.8,821.9l5.9,2.0M435.8,757.1l5.6,3.0M481.1,780.0l2.7,4.8M554.8,759.5l5.1,2.0M576.7,738.4l2.1,-3.1M590.7,831.6l3.0,-1.1M504.5,784.7l-0.5,4.6M464.3,758.7l3.6,-0.4M532.3,849.8l6.3,-1.0M568.1,777.0l4.6,3.4M462.0,825.7l4.5,-1.1M482.6,733.7l2.2,-2.6M487.6,718.2l1.2,-4.9M591.0,823.4l3.0,-2.4M435.1,802.9l1.1,3.2M530.9,780.1l1.3,4.9M553.0,764.7l2.9,1.8M457.5,749.6l4.7,-0.0M427.9,833.5l5.4,3.5M427.4,812.6l5.3,-3.5M584.4,822.0l4.3,0.8M498.4,806.1l5.4,0.1M550.8,726.1l4.7,-3.2M498.7,785.1l1.0,3.6M549.6,821.5l4.1,2.2M560.5,720.2l6.8,-0.2M600.4,826.1l3.6,-5.3M426.4,732.0l5.2,-2.0M468.9,749.0l6.2,1.4M523.5,722.5l5.5,2.3M554.8,764.4l2.2,3.4M452.7,845.6l5.3,-2.8M512.0,761.4l1.8,4.0M558.0,736.5l4.4,1.8M519.1,797.8l3.9,4.8M546.8,791.8l0.1,5.1M468.5,849.2l2.5,-2.0M430.1,821.3l4.1,3.3M489.6,827.2l6.9,0.2M569.8,785.2l4.8,3.6M591.2,768.9l3.7,3.6M581.4,806.1l3.4,2.1M428.0,795.4l5.0,2.9M492.5,826.8l3.2,-0.7M427.5,766.9l1.0,5.5M596.9,756.6l5.2,3.8M599.6,833.8l4.5,-4.8M440.7,764.8l3.7,0.7M445.9,847.4l0.3,-4.5M492.7,828.9l3.0,-6.2M561.7,835.3l6.3,2.1M561.6,717.8l1.3,-3.5M484.3,749.2l4.3,2.9M466.7,731.1l1.1,-3.0M457.6,751.9l5.0,-0.2M531.7,848.7l5.5,-1.8M472.5,780.2l6.0,-0.5M525.7,764.4l1.4,5.4M445.6,797.2l3.2,4.0M467.7,817.8l0.9,-6.9M483.5,760.7l6.0,0.6M524.7,742.9l2.5,2.9M454.8,802.7l4.2,1.8M566.3,837.3l4.6,-0.6M568.8,744.1l5.3,-0.8M547.5,816.3l1.5,3.6M442.9,742.2l6.6,1.3M575.1,820.8l4.9,1.9M469.7,841.8l-2.6,-4.7M455.9,742.1l-1.7,-6.3M451.3,777.5l6.8,-0.7M585.5,733.2l5.3,-4.4M523.8,736.2l4.1,2.5M468.5,786.0l4.0,-1.1M598.6,732.4l1.5,-6.1M513.3,812.2l2.0,3.3M558.9,793.1l-0.3,4.5M528.8,811.7l6.6,1.3M451.8,787.0l6.1,3.3M531.9,805.0l2.1,2.3M504.8,784.5l2.6,4.6M494.1,827.9l2.0,6.4M474.1,720.9l1.2,-4.5M603.5,727.5l3.6,-2.9M436.6,764.4l4.1,5.0M475.4,805.5l2.8,-2.1M515.8,730.6l5.2,-1.0M539.1,786.2l2.5,2.2M501.8,835.6l5.1,-4.2M540.1,750.9l5.6,0.9M572.7,747.5l6.8,-1.0M475.9,820.6l3.2,-0.4M430.2,815.3l4.1,3.7M473.0,799.7l3.0,1.7M443.8,724.3l2.5,-4.2M491.8,847.7l0.1,-4.2M574.3,847.5l3.8,-2.7M539.4,840.3l2.3,-2.8M522.4,811.1l3.6,5.9M570.9,851.4l1.1,-6.6M520.0,849.8l5.2,-1.8M533.3,753.2l4.9,3.7M549.5,843.8l4.3,-3.3M560.5,813.4l2.8,1.8M562.6,736.9l5.8,-1.4M427.9,843.9l4.3,0.3M458.8,804.6l3.3,3.2M486.8,804.8l4.0,-0.6M472.3,806.5l5.6,2.4M581.3,770.7l4.6,3.2M501.6,800.2l6.1,0.9M472.9,845.9l3.5,-3.6M465.0,761.1l4.3,0.8M436.7,771.3l1.0,6.2M494.4,717.7l1.1,-5.7M464.4,751.6l4.9,-0.4M546.0,850.8l4.5,-1.8M435.3,787.4l3.9,4.2M456.7,760.4l4.3,-1.1M497.8,823.1l5.5,-1.2M426.0,771.8l3.8,1.9M501.2,848.3l3.4,-3.7M580.1,761.0l3.3,-3.4M593.2,767.2l6.2,1.3M588.7,727.4l1.9,-4.7M596.1,802.1l4.9,1.4M469.3,763.1l2.1,2.3M548.8,729.9l5.1,0.3M572.6,792.5l5.1,4.5M601.2,849.3l1.0,-4.2M513.5,849.0l2.4,-2.1M469.7,745.4l1.4,-3.7M539.4,746.2l5.0,0.2M438.2,810.8l0.6,-6.8M476.6,846.9l3.5,-2.4M520.5,803.5l3.0,2.6M591.7,805.2l1.1,-3.8M504.7,769.6l4.4,-4.1M603.2,726.1l3.8,-3.7M568.3,845.6l5.1,-2.1M493.8,802.6l3.6,0.7M504.9,800.3l4.4,3.9M557.7,724.2l4.7,-1.3M567.3,811.0l4.3,2.9M437.8,771.8l4.2,2.3M499.0,754.8l4.7,-0.6M519.4,839.3l6.2,2.4M534.2,809.2l4.8,2.6M591.3,788.3l4.3,-2.5M486.5,831.0l5.7,-0.1M434.7,788.7l6.3,2.9M433.8,777.5l5.2,3.6M505.6,776.7l1.5,5.5M563.5,742.0l4.8,-3.0M430.0,740.5l6.6,1.0M458.1,784.8l2.6,-2.2M438.2,803.6l4.6,3.7M480.2,777.5l4.3,0.6M473.2,785.6l2.1,2.6M485.9,763.4l5.3,-2.2M590.4,851.0l4.6,-5.0M564.9,831.3l4.2,-0.2M429.8,806.2l1.8,3.6M457.0,760.2l5.9,-0.4M486.7,824.9l3.0,-3.7M529.0,840.2l3.6,1.4M468.8,818.6l2.5,2.4M513.2,723.2l4.1,-1.2M462.9,751.0l6.9,-0.8M545.6,810.4l1.9,3.5M482.9,831.7l3.3,-0.6M513.2,807.7l5.4,2.7M569.0,849.0l4.8,0.8M527.2,792.0l-2.3,4.9M502.4,828.2l3.8,-1.3M479.3,762.9l6.8,1.2M508.2,760.1l4.4,-0.3M486.9,808.0l5.5,1.7M549.9,818.0l5.0,1.7M443.5,811.8l5.8,2.9M555.3,731.1l3.3,-0.7M594.9,772.1l3.0,-1.4M501.3,802.3l4.7,4.1M448.5,734.3l2.8,-2.0M547.5,819.2l4.4,3.4M511.3,768.4l4.4,2.2M587.3,745.1l4.7,-2.8M429.2,789.9l1.8,5.5M504.7,724.1l3.0,-4.8M557.8,769.1l1.4,6.7M424.1,795.6l2.8,4.2M538.3,743.2l4.9,4.3M529.2,752.5l5.7,2.3M429.6,752.0l2.4,4.1M583.9,791.2l4.3,-1.6M467.0,743.8l3.3,-1.2M599.6,747.4l1.3,-3.4M458.7,728.8l2.1,-4.7M450.8,812.7l6.5,0.7M555.5,738.2l5.3,0.2M489.0,755.8l3.1,-3.3M504.3,735.4l4.6,4.6M480.9,753.2l3.3,-1.4M492.7,800.6l1.3,3.9M541.8,845.1l4.1,3.1M583.1,740.3l3.3,0.7M586.6,745.6l6.2,-1.8M576.1,741.0l5.2,-4.0M522.0,824.6l4.0,2.9M457.5,761.6l5.8,3.9M470.9,845.5l0.4,-5.6M541.8,772.9l0.7,4.2M544.3,736.4l4.2,0.4M519.4,845.7l1.9,3.4M434.0,802.5l6.7,1.7M526.7,810.0l5.8,1.4M430.0,845.4l3.6,0.0M572.1,844.4l4.8,-2.2M436.4,728.2l3.8,-0.5M593.7,784.8l3.3,1.4M602.4,764.0l4.4,0.1M536.5,821.8l3.8,3.6M596.2,811.4l4.3,1.0M457.8,818.3l2.8,-1.9M493.5,771.0l4.5,0.1M442.8,765.0l1.8,2.8M522.4,730.6l3.3,0.2M456.5,770.6l3.3,2.7M523.6,779.8l2.8,4.4M438.8,842.5l2.9,-2.3M448.3,846.9l2.0,-3.1M451.1,792.6l3.7,1.4M524.5,840.9l5.1,1.7M548.0,838.4l5.7,-1.6M603.4,841.7l1.7,-6.1M573.0,767.8l5.9,-0.8M584.5,795.2l5.8,-0.0M473.6,746.2l3.1,-1.3M574.3,826.9l4.3,-0.9M525.1,727.4l3.3,1.5M554.4,842.5l5.1,2.3M486.9,828.8l2.9,-1.3M545.5,754.6l6.5,2.6M553.8,760.2l3.5,0.2M564.7,831.9l4.2,-3.2M478.3,839.0l3.1,-5.2M463.2,722.3l3.4,-4.4M561.9,801.3l1.7,4.6M481.0,821.2l6.3,-2.7M499.4,751.3l3.8,-0.5M547.2,800.2l1.2,4.7M563.1,757.3l5.5,1.2M600.7,739.7l3.0,-4.3M552.0,752.6l5.4,-3.3M478.5,718.5l6.3,-3.0M452.8,788.1l6.8,0.0M499.8,805.5l6.7,1.8M441.1,753.9l3.4,-4.5M552.6,809.6l1.1,5.7M488.6,765.0l5.0,-2.3M496.8,808.9l3.4,2.4M557.9,816.4l1.9,2.4M540.1,824.4l2.5,5.2M471.7,736.0l2.5,-3.0M588.4,825.0l3.8,-1.8M459.3,801.3l4.2,3.1M580.0,718.4l5.2,-1.9M485.9,817.9l6.3,-1.3M599.6,723.7l2.4,-3.1M526.6,849.3l6.7,1.0M593.4,726.3l5.5,-3.5M578.8,835.7l5.6,-2.1M512.7,844.8l4.1,-3.5M499.2,729.3l3.6,-5.9M538.7,751.7l3.9,2.5M595.7,735.5l3.0,-3.6M458.6,814.5l5.5,1.7M481.1,816.2l6.5,0.3M441.9,806.1l6.1,1.4M581.6,746.3l1.4,-6.0M496.4,760.2l6.2,-0.0M535.0,827.7l3.0,0.6M594.8,818.2l4.4,0.5M461.4,737.3l5.4,-4.3M525.2,717.4l4.7,4.2M506.4,818.0l3.8,1.3M460.4,851.3l-1.9,-5.8M585.7,783.2l2.7,3.8M433.0,756.4l4.3,2.6M497.2,758.9l6.5,-2.2M592.9,724.9l4.9,-2.1M500.4,771.3l4.3,1.9M507.6,776.4l5.3,4.1M478.5,733.9l-1.2,-5.7M542.6,741.7l3.4,-2.0M425.9,816.5l4.7,2.2M597.6,794.0l6.4,2.6M600.4,795.4l2.2,5.9M452.6,746.4l4.9,-3.9M506.9,780.4l4.8,4.7M502.1,771.5l6.0,1.7M444.1,792.9l3.6,0.5M552.5,718.3l3.9,-3.2M456.3,837.7l6.7,-1.7M429.2,792.3l4.3,1.2M592.8,811.7l2.8,2.3M596.5,738.8l0.6,-6.9M438.3,768.2l5.0,-1.0M460.8,849.8l2.3,-4.0M515.1,815.3l3.0,2.0M579.0,782.4l3.4,-2.0M516.2,736.4l6.1,2.5M455.1,740.4l5.7,-4.0M455.2,806.9l4.2,-2.0M448.6,782.1l-1.1,5.2M451.0,777.3l4.1,3.9M555.4,735.3l2.2,-5.9M488.1,733.0l3.5,-1.9M559.3,730.5l4.4,-1.0M592.5,793.6l3.9,0.5" stroke="#262626" stroke-width="1.5" opacity="0.6" fill="none" stroke-linecap="round"/></g>
<path d="M466.6,790.5l4.7,-1.8M435.6,718.8l5.8,0.0M470.4,748.6l5.8,0.2M509.4,803.3l2.3,2.0M537.9,834.2l4.6,-2.4M435.3,819.4l4.8,0.8M477.9,721.2l3.8,-3.8M581.7,813.4l5.3,-3.3M494.8,825.1l1.4,-5.9M441.3,735.4l3.4,0.2M597.3,775.9l4.4,-1.1M493.1,764.4l4.8,-0.5M528.8,839.1l5.7,-1.6M601.9,807.6l1.2,-2.9M578.5,847.2l5.0,-2.0M461.7,829.3l2.5,-4.1M475.0,725.6l2.8,-0.5M567.7,772.4l2.5,-1.9M476.6,820.8l4.6,-1.8M431.9,814.0l3.5,1.5M582.1,849.4l-3.6,-1.1M437.6,798.0l2.1,1.5M459.3,772.1l2.7,-0.3M579.7,759.4l6.2,-1.4M584.9,768.0l4.3,-2.6M530.8,792.5l0.8,4.9M592.8,785.4l2.8,-2.0M477.9,849.0l3.2,-3.3M522.4,718.5l2.0,-1.6M534.5,802.3l0.2,2.7M536.5,779.9l2.5,4.7M556.4,720.0l2.0,-1.9M545.3,847.0l4.9,-0.2M481.3,766.1l3.2,1.9M490.1,797.4l5.6,0.7M428.6,793.8l0.7,5.4M479.5,747.0l3.0,-1.3M502.0,811.2l2.9,-0.0M481.7,762.1l5.8,1.0M454.2,762.5l4.6,-2.1M582.8,777.9l4.5,1.1M458.1,825.9l5.7,-1.5M456.8,754.6l5.7,0.2M485.8,734.5l0.5,-3.6M566.5,753.6l4.1,-0.5M497.4,841.3l3.1,-0.5M424.6,844.3l2.3,3.5M594.5,842.2l-1.6,-3.0M557.8,830.0l3.6,-0.9M485.1,747.7l1.6,-2.2M529.6,755.7l3.8,4.8M548.5,841.7l6.0,-0.8M585.5,794.9l1.8,2.6M477.7,806.5l4.6,-0.2M498.2,843.8l2.0,-2.9M578.6,781.4l5.6,0.2M487.0,743.6l0.6,-3.1M566.1,841.4l4.6,-3.5M571.8,718.0l0.2,-2.7M472.6,753.3l2.0,-4.2M499.8,780.8l2.2,1.6M446.6,733.8l2.4,-1.5M599.0,832.4l3.6,-1.1M480.3,764.4l5.0,1.2M529.2,765.7l1.0,2.8M523.6,813.7l1.3,3.8M438.2,741.1l4.8,-3.0M492.1,825.2l4.9,0.9M501.4,767.3l4.0,-1.2M548.5,779.2l1.4,3.2M520.1,810.8l1.1,4.1M581.9,843.4l3.1,-2.5M585.1,823.8l2.6,-1.5M569.9,806.4l3.8,4.7M566.2,807.1l2.7,1.0M529.4,717.7l2.4,-2.0M562.9,723.0l5.8,-1.7M456.0,720.2l3.6,-4.6M445.6,830.9l4.5,-4.5M527.9,824.8l2.5,-0.7M561.7,786.0l4.0,3.8M591.7,725.3l0.9,-3.7M525.1,828.8l3.2,1.5M534.5,818.7l1.9,3.6M489.8,770.5l2.8,-0.2M513.7,848.4l4.1,0.7M558.1,738.7l5.0,-1.5M516.7,782.3l4.8,1.5M585.1,737.2l6.2,-0.4M516.8,776.8l0.3,5.4M457.2,753.1l3.8,-0.2M465.5,810.3l5.7,2.7M477.0,812.2l2.3,-4.3M471.8,746.4l2.6,-0.2M510.0,768.7l2.1,3.2M562.9,736.4l6.3,1.5M510.0,797.9l5.8,-0.6M523.9,782.0l0.9,5.3M577.7,771.0l4.3,0.5M465.1,748.7l-1.0,-5.3M545.2,846.4l3.2,0.7M470.3,742.3l2.9,-4.5M578.1,838.5l2.7,-2.6M499.9,815.4l1.1,2.6M440.4,829.6l4.6,-1.3M545.2,717.9l3.6,1.2M502.2,782.6l4.2,4.7M494.0,790.5l1.4,2.6M473.2,806.8l4.9,3.7M441.2,844.1l4.0,0.6M562.6,819.2l5.1,0.1M568.6,752.9l3.8,4.0M596.6,807.8l4.1,-1.8M487.1,813.9l5.1,-1.0M525.6,741.6l3.2,-0.0M583.7,805.5l2.6,-1.6M591.3,736.1l1.6,-4.6M523.5,804.4l-0.6,4.3M479.9,740.8l5.5,0.2M521.4,816.9l2.0,3.4M471.6,768.8l4.5,0.2M468.2,820.8l3.3,-2.2M483.6,771.5l2.9,-2.6M576.0,732.1l2.2,-2.8M441.7,732.2l3.1,-0.9M457.8,773.2l4.4,-3.3M570.4,818.1l4.0,-0.8M458.6,788.2l4.8,0.3M460.1,750.8l5.4,-2.0M583.9,845.2l1.8,-3.6M523.1,795.7l5.1,1.2M477.6,833.1l-1.1,-4.3M531.9,815.1l-0.7,5.1M512.2,787.7l2.4,3.6M458.6,788.5l3.6,3.6M503.6,793.4l4.3,4.7M584.1,735.3l2.2,-1.5M488.5,748.5l1.5,-2.4M520.6,842.5l4.8,-2.2M447.9,832.9l4.4,2.1M590.4,813.7l5.5,-1.7M591.2,833.3l1.3,-4.1M559.8,782.5l1.6,2.3M459.8,738.7l3.7,-2.6M549.5,789.6l3.3,1.7M507.3,819.2l3.3,2.4M456.3,838.4l2.5,-3.1M518.9,797.5l2.8,1.9M424.3,745.2l3.9,1.9M458.9,745.3l2.2,-2.3M496.4,739.7l3.1,-0.4M511.9,725.1l2.5,-0.5M504.3,772.0l3.4,2.3M495.1,720.6l3.6,-5.3M463.1,729.7l1.5,-4.8M486.0,733.7l2.0,-1.8M554.6,754.1l4.9,3.8M477.8,750.7l2.0,-3.0M570.2,801.9l5.0,1.5M598.0,797.0l2.5,0.5M429.2,729.2l2.7,-0.2M541.4,838.5l3.1,1.0M598.8,781.4l5.6,2.8M429.9,758.1l4.4,-2.1M593.9,728.9l0.8,-2.9M493.9,762.1l2.4,4.7M590.7,740.6l4.2,-4.1M523.2,841.7l2.9,-2.7M498.3,748.0l3.6,0.1M454.3,814.3l3.8,-3.1M551.5,769.2l4.2,3.3M427.9,780.0l2.8,4.8M545.5,730.1l5.0,0.8M581.7,834.8l4.2,1.1M585.0,815.9l2.4,-1.3M495.6,846.0l2.8,-0.9M526.0,731.9l2.4,2.5M432.6,737.6l4.8,1.7M529.0,718.6l3.4,0.4M524.9,773.6l-4.4,3.5M532.4,823.5l3.1,1.0M438.0,828.4l2.9,-0.4M428.1,847.5l2.8,0.3M507.4,747.1l2.3,5.4M534.4,803.6l1.4,3.6M532.2,777.2l2.9,0.7M573.9,797.2l4.1,2.3M507.2,815.3l2.8,0.2M486.0,782.4l3.7,4.0M499.8,804.5l3.8,3.2M462.3,764.3l3.9,1.6M438.9,746.4l3.2,0.1M591.1,815.1l3.7,3.3M591.2,789.3l2.5,-3.3M594.2,838.9l5.1,-2.3M496.9,851.6l3.5,-5.1M476.3,843.1l3.1,-4.4M476.7,787.1l4.8,1.6M431.1,817.6l3.6,1.4M557.2,817.8l2.1,3.0M442.4,757.4l3.1,0.2M560.9,811.6l5.3,3.6M599.8,835.3l1.7,-3.3M507.0,788.0l2.4,4.0M488.4,832.1l4.5,-4.0M568.8,757.1l2.6,2.3M568.8,718.4l4.4,-1.4M453.6,723.8l2.9,-1.5M562.2,779.9l-0.5,6.4M430.1,742.0l2.5,0.1M501.5,762.7l1.6,2.4M479.8,750.4l5.6,-1.3M499.0,752.1l4.2,2.7M545.1,840.2l5.6,1.4M468.3,735.3l3.0,-3.4M573.1,791.5l3.3,-1.5M454.1,719.3l-0.6,-6.1M507.8,806.8l6.1,-1.4M570.1,798.4l3.2,-0.2M456.7,809.3l6.2,1.7M522.1,772.1l4.1,4.0M505.1,846.5l3.1,-0.1M480.4,787.5l4.6,-3.6M591.2,799.7l2.3,1.3M527.0,791.2l3.6,4.0M587.6,730.8l3.2,-4.1M490.5,786.5l1.0,5.0M458.9,841.3l-0.4,-3.2M492.7,828.8l5.3,-3.4M593.4,759.8l4.0,0.6M474.5,734.8l1.7,-2.2M465.1,744.0l2.0,2.0M518.4,817.3l3.1,4.9M424.8,755.1l6.3,0.4M436.3,753.1l4.7,-0.4M432.3,748.9l6.0,2.1M449.7,839.2l5.2,0.1M540.1,736.2l-0.4,2.7M560.3,740.8l5.6,2.1M432.6,846.7l4.0,2.4M492.5,731.5l-0.9,-3.5M447.4,736.6l2.7,1.3M487.1,840.5l5.3,-3.2M602.9,849.3l1.9,-2.9M487.5,845.4l-0.5,-3.7M427.6,763.6l3.6,4.2M564.3,793.8l4.3,0.4M519.8,829.5l3.0,1.5M530.6,842.9l6.1,1.9M574.8,739.7l2.7,-2.3M460.2,724.2l5.1,-3.1M444.4,718.9l4.1,-4.4M566.5,850.9l3.6,-4.3M440.4,790.0l4.2,0.5M450.1,798.1l4.0,0.2M481.0,765.4l4.3,2.3M600.0,843.4l3.3,-1.6M599.3,753.4l1.3,-2.7M513.8,815.8l3.6,0.6M597.6,778.1l3.4,2.8M519.3,835.1l3.1,3.0M534.8,726.4l4.2,0.2M576.1,822.0l3.1,2.6M600.1,766.5l3.2,0.9M522.4,836.3l4.0,-3.5M488.8,757.6l4.3,1.5M495.5,767.3l4.7,-1.3M450.1,746.7l1.8,-3.6M534.3,735.8l2.8,2.3M429.1,789.7l2.2,5.8M519.8,816.6l2.6,5.6M503.1,809.1l2.7,-1.2M581.9,768.1l2.2,-2.9M457.9,828.2l4.5,-1.9M439.0,720.8l4.8,-3.3M456.8,754.0l4.0,-0.7M515.8,775.4l3.7,2.0M441.2,849.2l2.1,-4.8M438.8,776.6l2.1,1.8M425.5,781.8l3.7,-1.9M584.5,828.6l3.2,-3.6M582.7,744.3l4.1,-0.2M439.7,803.6l-0.5,4.6M526.9,728.5l3.3,1.0M508.0,832.7l5.8,-2.9M542.7,788.3l1.4,3.0M477.5,838.5l4.3,-2.5M487.6,820.8l6.1,0.9M577.9,816.6l4.2,-0.3M479.9,743.2l5.4,-2.7M462.6,828.1l5.7,-2.4M495.2,745.6l3.1,-1.1M430.6,784.3l5.7,1.4M434.0,771.2l0.7,4.0M455.7,750.8l3.6,-1.4M443.8,746.8l3.4,2.6M525.3,750.1l4.4,2.7M533.3,740.7l5.5,0.7M494.6,789.8l4.2,-0.5M433.9,823.2l5.8,-1.1M511.9,795.2l3.7,3.7M463.7,827.4l5.9,2.7M486.0,851.4l1.1,-5.3M484.7,815.9l4.7,-0.9M443.1,788.3l2.8,3.7M578.9,777.3l4.4,-0.8M528.5,828.2l4.7,2.9M523.1,757.9l3.1,5.2M582.8,790.1l2.1,5.1M476.1,718.5l1.5,-5.0M555.9,764.3l3.5,0.4M549.2,792.9l1.5,3.8M443.5,791.8l3.1,0.7M494.7,743.5l3.8,1.7M527.4,731.4l2.5,2.2M514.6,739.6l2.7,1.0M520.4,841.6l3.7,1.7M435.7,754.3l3.7,-0.4M593.0,732.8l3.9,-1.7M470.9,846.9l0.8,-3.1M526.5,786.0l1.3,6.3M565.9,816.0l5.2,3.3M441.5,812.0l4.1,1.2M598.9,761.1l4.7,-2.9M453.5,807.1l4.0,0.0M580.2,817.6l4.2,1.7M547.3,774.7l1.5,4.4M529.0,769.4l1.9,1.9M454.3,803.5l4.3,1.5M595.1,831.5l5.4,0.2M490.7,722.9l-0.6,-6.2M460.2,738.4l3.4,-5.4M556.7,782.4l2.8,3.7M544.0,798.5l2.1,2.4M448.4,801.4l2.2,1.2M438.7,823.0l4.0,-0.4M505.7,851.2l3.6,-3.9M424.2,755.0l4.8,2.1M454.5,721.4l0.9,-6.3M442.1,825.3l4.0,-0.5M568.5,777.1l3.2,1.2M505.1,825.0l3.7,-1.2M465.1,773.1l4.4,1.9M521.8,797.7l0.8,3.6M428.3,720.6l4.3,-2.1M471.5,819.9l4.8,-0.9M542.8,816.3l3.6,0.9M435.1,824.2l4.5,0.4M441.7,842.1l1.9,-3.8M446.5,851.9l1.3,-2.9M489.6,851.9l3.7,-2.4M468.3,841.8l3.4,-2.4M425.9,780.9l-1.7,5.7M586.5,723.5l2.6,-4.5M478.6,780.8l3.0,-0.0M536.2,729.0l5.4,3.4M431.7,847.2l5.3,-1.3M519.2,820.8l3.3,3.1M537.1,728.2l6.3,-0.9M424.9,726.2l4.2,-3.0M590.2,773.9l4.0,-0.4M507.4,798.2l2.6,0.3M478.7,816.6l3.3,-1.3M488.1,804.8l4.3,3.4M595.7,781.4l2.7,0.6M466.8,795.9l4.4,2.3M467.2,741.5l4.0,-2.0M469.7,836.3l3.5,-3.2M484.9,775.2l3.1,4.5M489.1,814.9l3.6,0.3M463.2,747.8l4.9,-1.4M554.6,731.0l4.7,2.9M509.7,768.1l3.2,0.7M494.8,804.2l5.2,1.4M588.2,743.2l5.3,0.4M599.8,735.6l0.7,-5.6M585.4,733.5l-1.0,-3.5M577.5,839.4l0.7,-4.2M449.9,746.1l3.8,-0.1M503.4,842.3l2.2,-2.7M427.1,845.1l6.0,-2.2M474.5,728.6l5.0,-3.4M467.6,746.9l5.9,-1.4M483.7,757.9l3.2,-1.0M521.3,792.6l2.9,2.3M574.3,843.1l5.1,-2.0M571.1,726.5l2.5,-1.9M597.8,839.2l4.9,-3.7M524.0,732.7l6.1,0.1M471.5,755.9l6.1,-1.6M459.8,841.5l1.0,-2.7M585.2,770.8l2.8,2.7M541.4,797.1l1.8,4.4M428.2,834.6l3.7,1.2M454.3,761.3l4.4,1.5M496.9,762.1l3.2,1.9M511.2,822.1l4.0,-2.0M445.4,740.0l5.9,-0.1M509.9,768.6l3.9,-0.8M488.8,766.4l2.5,0.1M521.7,781.7l3.5,2.6M552.4,742.1l6.2,1.7M444.4,834.0l3.5,0.0M437.9,790.0l0.2,5.9M575.7,835.4l3.7,-1.6M443.0,818.9l4.3,0.2M557.5,824.4l3.3,5.0M522.4,727.9l6.1,0.2M440.2,728.6l5.0,-1.4M428.9,745.5l5.4,-0.3M430.6,785.9l1.5,5.1M557.5,800.7l4.3,3.5M549.3,718.9l6.4,0.2M462.8,796.2l2.4,1.9M576.0,777.1l2.8,-1.1M554.8,825.0l5.8,1.2M474.4,748.6l4.3,0.1M493.9,787.3l1.1,5.2M481.0,762.4l3.7,-0.1M437.0,842.3l1.8,-5.1M530.6,771.6l-0.4,3.3M441.8,764.4l4.7,1.3M489.3,844.9l1.8,-4.8M531.9,800.4l3.3,3.0M517.8,783.3l1.7,5.4M477.4,831.6l1.4,-2.4M511.0,776.8l2.4,2.6M447.7,792.8l4.8,0.5M423.9,741.0l3.4,2.7M525.4,756.1l-2.2,4.7M569.9,807.6l2.9,3.3M431.8,823.6l3.6,1.0M476.5,801.4l5.1,-3.0M517.0,763.3l2.4,1.4M523.2,766.1l2.1,1.4M430.6,738.3l2.9,-0.2M576.8,795.4l4.7,1.9M434.9,818.4l1.5,3.0M603.0,736.2l3.6,-4.8M570.9,795.2l2.0,2.3M500.8,811.8l1.3,5.7M591.2,811.3l4.9,0.9M599.0,753.0l2.8,-1.5M567.3,729.9l5.3,-1.3M495.0,835.5l5.2,-2.7M431.4,752.8l3.8,-1.3M501.0,807.5l3.4,5.2M548.9,765.1l4.2,1.6M558.3,827.0l4.9,-0.9M464.8,836.2l2.1,-1.3M540.4,782.6l0.4,4.4M596.7,836.4l4.6,-1.5M580.4,836.3l5.7,-1.4M601.9,819.6l3.8,1.5M460.9,805.1l4.7,0.8M572.2,765.1l1.7,3.3M586.3,806.4l3.7,-2.1M539.3,786.8l-0.6,3.6M599.8,836.5l2.1,-2.5M555.2,828.0l5.0,-1.0M462.2,814.3l3.6,-3.3M504.4,804.6l4.9,2.6M600.4,732.0l-2.4,-4.5M528.0,832.2l2.6,-0.4M566.2,801.1l4.9,0.8M446.3,787.9l3.4,1.0M591.2,825.6l0.6,-4.0M517.9,738.8l5.6,2.1M561.1,819.6l1.2,2.2M525.4,782.9l-0.4,2.7M499.6,836.8l4.3,-3.8M487.7,838.1l2.0,-3.6M437.7,848.2l5.5,-0.9M444.5,790.5l4.5,3.9M529.8,764.0l2.2,4.3M536.5,760.5l4.1,0.2M602.0,848.2l2.3,-2.5M566.3,744.1l3.2,-0.2M561.4,739.8l5.4,2.9M571.1,745.0l5.4,-1.5M498.4,747.0l3.8,2.8M478.3,829.4l2.9,-1.5M503.7,728.8l2.3,-3.9M451.4,748.9l4.2,2.8M473.7,836.8l5.0,0.1M571.6,764.8l2.2,1.7M454.7,801.6l5.2,2.1M581.6,832.6l4.8,-3.4M523.5,835.2l4.2,0.1M428.2,729.1l2.6,-2.3M506.6,733.3l5.0,2.2M584.2,747.5l5.1,-3.2M596.0,753.1l5.9,1.4M567.3,772.1l1.8,4.5M444.3,748.7l2.0,-2.0M590.6,721.0l4.6,-4.4M466.4,827.5l4.3,-0.6M549.4,756.4l5.3,-2.4M443.4,836.3l5.3,-3.4M480.6,726.2l1.5,-3.2M428.7,755.0l4.9,0.9M577.3,828.0l-1.6,-5.1M492.9,751.0l3.2,0.7M556.8,760.3l2.0,4.4M522.0,801.8l1.6,5.0M462.1,807.7l6.2,1.4M493.7,846.8l-0.6,-4.6M559.1,809.1l3.2,-0.6M516.9,795.4l5.8,1.9M566.7,826.7l3.1,0.2M550.2,801.7l1.7,2.7M599.1,767.3l5.3,-0.5M530.1,770.7l5.4,3.5M519.6,823.7l2.8,2.4M551.7,798.6l1.7,2.3M597.6,799.4l1.8,-3.0M507.2,730.1l5.3,-0.9M579.5,738.9l2.7,1.0M492.0,783.9l5.2,1.6M528.8,756.0l5.1,2.4M437.0,796.9l3.2,3.1M517.2,799.7l1.7,3.6M590.8,822.9l5.6,-3.0M497.7,731.2l2.8,-1.5M549.6,740.8l3.8,-0.9M541.2,845.0l4.7,3.2M536.7,801.5l3.2,4.0M529.3,783.2l-2.0,5.1M460.5,813.3l3.5,-0.3M600.9,728.1l2.8,-5.1M528.2,726.4l5.9,0.2M478.1,841.7l3.0,-5.3M448.3,771.4l1.9,2.1M437.0,732.7l5.4,2.4M468.2,760.6l2.9,-3.0M594.0,763.0l4.4,0.2M578.7,749.9l3.7,0.6M584.1,828.0l3.8,1.1M483.6,730.7l3.4,-1.9M455.5,747.5l4.3,-4.2M447.3,791.9l4.5,0.1M495.2,742.9l4.3,-3.9M585.0,793.1l3.3,0.5M454.5,801.5l1.8,5.5M526.6,731.8l3.5,1.7M601.4,823.9l4.5,-3.1M437.4,832.0l5.6,-1.1M591.0,723.4l2.0,-3.8M585.8,761.9l4.0,-1.6M603.2,832.6l5.9,0.2M550.8,743.3l4.4,0.3M525.6,758.2l3.2,0.9M587.7,766.5l2.3,3.9M545.2,762.8l-0.7,3.0M483.5,829.5l2.6,-2.6M585.0,741.2l3.8,1.9M447.0,737.0l2.8,-3.7M462.7,758.9l3.6,-1.0M585.2,727.9l-1.2,-4.6M469.8,851.6l2.2,-1.9M448.4,719.3l-0.8,-3.5M475.1,824.7l2.7,-0.6M426.9,806.6l0.7,3.0M531.9,831.9l3.2,2.8M472.9,801.2l3.4,-0.3M491.5,785.3l3.5,0.8M542.1,751.5l1.6,3.0M437.9,734.1l2.9,-1.7M582.4,773.2l3.3,-5.4M561.4,749.4l3.0,2.3M514.6,751.8l3.3,1.0M558.5,798.5l2.0,3.8M508.6,799.8l4.4,3.9M506.9,763.2l5.6,2.9M559.8,764.3l1.7,3.9M491.2,730.2l3.8,-2.9M469.6,819.9l3.7,-4.4M504.2,728.4l3.2,-1.7M433.3,775.0l-1.3,4.9M451.5,749.4l2.1,-2.6M490.8,803.2l3.0,2.9M542.6,828.6l3.6,2.0M532.1,753.7l2.7,0.3M516.2,784.8l0.9,3.1M468.5,828.3l2.3,-2.8M517.5,770.8l1.2,3.7M481.8,746.2l1.1,-2.7M529.9,758.5l4.0,5.0M592.4,734.7l1.5,-2.5M581.2,839.6l1.8,-5.4M538.2,849.0l3.9,-3.3M578.2,832.6l2.5,-2.7M461.1,790.7l5.8,-1.4M576.3,809.7l4.6,-0.8M548.7,743.4l5.5,2.7M536.2,754.4l2.7,1.8M531.6,779.6l2.2,5.6M500.9,776.4l5.0,2.1M532.8,777.1l1.2,2.4M469.8,828.5l2.9,-0.5M439.3,831.5l4.0,-2.7M552.8,760.0l2.2,5.1M423.9,831.4l3.7,-0.1M558.5,767.8l0.9,4.8M481.4,829.4l4.6,-3.1M593.2,749.0l2.2,-2.4M591.1,847.0l5.4,-3.1M471.1,822.4l3.7,0.3M565.3,785.6l4.6,2.2M549.7,756.2l2.0,1.8M440.1,752.0l3.4,5.1M558.5,735.0l4.0,-0.5M594.5,832.0l5.3,0.7M561.0,840.5l4.0,-1.4M429.8,759.2l2.5,4.2M473.3,750.5l2.6,-1.2M488.2,786.7l2.1,-1.8M469.7,727.4l-0.9,-6.1M537.4,805.6l2.8,5.4M483.5,801.9l4.1,0.1M557.8,757.8l4.8,2.5M505.7,738.0l3.8,0.9M525.9,767.3l4.9,1.4M567.8,758.0l5.7,-1.6M592.9,788.5l5.3,1.7M579.7,814.8l4.5,-0.4M520.9,732.6l-0.5,-3.3M533.5,831.8l3.2,-4.0M486.8,749.1l5.4,-2.7M495.8,817.5l2.4,-5.2M491.3,819.0l2.3,-1.0M554.0,818.6l2.0,1.7M434.9,760.0l2.4,2.2M528.9,791.4l-1.8,3.5M577.4,776.0l3.8,-1.7M457.2,845.6l2.8,-4.7M521.8,784.0l1.8,2.2M521.7,838.5l2.9,-0.5M600.1,767.4l2.5,2.6M462.1,836.9l4.1,-4.9M568.5,795.9l5.5,-1.7M573.7,755.9l5.7,-1.2M595.2,794.6l4.7,1.9M500.2,840.9l4.5,-2.3M549.5,737.4l5.1,-3.4M585.9,752.6l4.1,-2.0M599.7,729.2l4.0,-3.7M482.2,812.5l5.8,-0.3M569.1,722.4l2.8,-4.5M579.1,827.4l1.4,-4.7M579.4,790.5l5.1,3.6M484.2,780.6l5.3,2.7M547.0,823.7l2.8,-0.2M459.7,738.4l3.8,-2.6M518.4,726.7l3.9,-0.9M428.6,781.1l2.1,2.3M592.8,765.9l3.8,0.6M574.7,754.1l3.9,-2.3M538.7,851.2l4.3,-0.3M594.9,832.4l2.3,-3.3M446.9,753.3l6.1,0.0M471.5,810.1l4.6,-2.7M467.3,787.0l4.6,-0.8M536.6,846.2l3.5,-0.8M455.0,785.5l6.0,-1.1M460.1,785.6l4.3,-0.6M459.4,778.4l5.4,-1.6M601.1,847.8l1.8,-2.8M490.6,845.2l2.2,-1.7M596.3,785.2l4.1,0.9M441.5,836.4l5.7,2.4M525.9,759.0l2.1,2.4M478.4,737.2l1.6,-2.1M585.1,831.5l4.8,-3.1M487.0,777.8l3.1,-2.1M515.9,791.1l4.0,4.3M486.6,717.4l-1.1,-3.0M536.4,734.9l2.3,2.8M536.1,730.9l3.7,-1.7M559.7,831.3l3.6,0.6M560.5,819.0l4.6,-1.2M556.7,810.3l3.5,0.9M540.6,813.0l3.7,-0.6M522.9,793.8l0.7,4.9M456.9,807.2l3.9,1.9M548.7,832.8l5.2,3.8M465.1,839.9l0.0,-2.7M578.3,747.8l3.5,-0.7M478.6,748.6l3.8,-2.6M488.5,819.1l6.1,1.0M591.3,767.7l5.0,-2.0M495.5,743.0l2.8,-4.8M541.7,764.4l3.4,4.5M585.2,848.0l1.0,-2.8M548.0,822.5l1.9,2.7M463.0,720.8l3.0,-2.1M576.5,796.2l2.4,2.0M576.1,838.0l-1.8,-4.8M483.8,740.7l1.7,-3.1M545.0,802.7l1.2,3.3M454.8,784.4l5.0,0.6M585.0,819.3l2.1,-3.7M557.8,806.7l3.5,2.0M552.8,818.4l2.6,2.6M521.1,727.1l5.0,-2.4M578.5,724.1l2.2,-6.0M454.6,847.1l3.0,-2.1M449.9,839.9l4.1,-3.7M597.4,825.9l1.5,-3.6M483.0,774.5l3.7,3.8M480.7,792.6l3.4,-2.7M499.4,792.0l4.2,0.9M555.3,731.5l4.2,-0.1M576.3,798.0l4.6,2.1M591.9,827.9l3.4,-3.2M465.0,797.5l2.6,1.1M494.0,814.5l5.5,0.1M458.6,838.7l4.2,-2.7M583.5,788.9l2.7,-0.4M595.1,746.6l2.4,-1.5M591.4,789.5l3.5,-4.1M470.4,755.2l3.2,-4.0M546.1,747.4l2.4,1.4M568.4,805.8l1.7,2.6M528.0,796.9l-0.4,5.7M505.6,815.1l2.8,2.0M603.2,807.2l3.9,-0.7M424.2,776.3l1.6,2.8M467.7,758.3l4.5,-0.1M447.9,792.7l4.6,4.3M553.4,845.8l3.2,1.3M591.8,783.9l4.5,3.0M563.3,734.9l5.1,2.8M501.8,720.3l2.6,-0.2M567.7,810.8l5.6,-1.3M425.1,817.6l2.7,5.8M580.0,836.4l0.7,-2.9M566.2,806.1l3.1,2.7M432.7,741.2l2.9,-3.3M579.4,742.3l3.5,0.6M466.3,755.8l3.7,-0.7M546.2,777.3l4.6,3.9M548.8,829.3l4.3,-0.6M601.3,844.4l3.1,-3.6M512.5,726.8l4.0,0.9M453.9,780.6l5.2,-1.2M472.1,752.8l1.4,-2.1M435.1,767.5l4.3,3.1M492.4,719.1l3.5,-4.3M464.7,849.4l2.5,-2.7M456.2,719.6l-0.4,-5.6M544.0,790.3l0.9,2.6M590.4,750.5l4.4,-2.0M541.5,759.6l1.2,3.3M425.8,797.2l2.0,2.8M558.9,812.9l2.9,0.8M601.3,813.7l5.9,-2.4M503.2,803.0l6.4,0.8M573.8,740.7l2.9,-0.5M582.9,790.3l3.9,2.0M490.1,784.1l3.8,-1.6M579.6,831.2l5.8,-1.5M558.5,740.3l2.7,-2.8M526.7,745.5l3.2,4.9M483.7,765.8l2.5,0.2M500.1,777.1l2.7,1.1M494.3,820.8l4.3,3.7M437.1,766.4l4.2,-0.7M428.9,822.4l5.1,1.1M471.7,763.2l3.3,2.8M458.8,718.6l0.5,-3.5M565.2,817.2l3.8,1.5M428.3,820.1l5.0,2.3M586.5,751.6l4.6,-0.7M583.3,787.2l2.6,0.2M584.1,826.6l3.1,-0.9M539.8,743.0l4.7,2.4M519.8,728.1l4.2,-2.3M541.4,723.3l5.0,2.1M599.4,777.3l5.9,0.9M551.5,753.9l4.2,-1.4M514.8,814.4l1.8,2.5M506.5,787.2l3.6,0.4M509.0,779.2l2.5,1.5M565.2,846.5l2.1,-3.4M505.3,767.0l3.3,1.4M594.2,766.5l2.5,0.2M487.3,792.7l3.3,4.8M478.2,724.0l2.1,-3.6M515.7,850.3l3.8,-1.0M467.3,755.5l5.3,-3.1M516.0,816.1l2.5,2.6M543.6,840.2l3.5,1.0M552.8,844.2l2.0,3.9M591.2,770.4l2.5,-4.2M433.4,737.2l4.3,1.7M484.8,724.8l4.2,-4.5M489.6,741.8l2.6,-3.3M572.3,839.1l2.7,-3.7M470.9,765.8l2.5,-0.6M427.1,842.9l5.0,-0.3M431.1,828.8l4.8,-1.2M553.2,775.0l3.7,0.5M437.7,732.6l6.2,0.4M473.7,725.6l0.9,-4.1M562.8,748.5l4.2,0.2M591.3,834.3l4.7,-4.3M524.5,737.3l6.3,1.2M445.9,850.0l3.7,-2.4M533.2,796.0l1.7,5.5M443.3,814.9l4.7,-1.8M547.8,734.9l1.8,5.9M475.8,745.2l0.7,-3.7M508.4,798.6l1.3,3.2M445.1,771.9l3.2,0.9M542.0,829.9l5.0,-1.7M456.7,722.7l3.5,-0.8M557.0,795.3l3.4,3.7M488.3,807.2l3.6,-1.2M556.2,833.1l3.4,1.3M437.2,751.0l2.5,0.6M575.4,775.6l2.8,-0.3M558.1,785.5l0.6,5.8M582.3,768.9l4.5,-3.6M512.8,805.0l1.7,2.2M578.4,741.1l4.7,0.9M575.1,828.7l2.8,-0.2M600.8,758.2l4.6,-3.7M497.4,776.5l5.6,-0.6M529.3,739.6l4.5,1.1M440.7,832.3l4.9,-0.1M485.2,837.8l5.3,-2.1M483.6,774.9l5.0,0.5M484.3,793.9l4.5,-2.0M585.5,764.4l3.7,0.3M465.5,842.4l0.6,-2.8M475.5,780.2l3.0,-0.2M494.0,814.2l2.4,-1.9M445.7,828.2l3.2,-0.2M573.9,764.0l4.1,0.9M521.0,837.3l3.7,1.8M539.2,735.0l4.0,1.5M526.0,725.8l6.1,-0.3M425.8,738.5l4.7,1.6M465.1,794.6l3.5,-3.2M487.2,741.4l3.3,3.0M562.8,813.7l6.1,1.3M495.6,790.8l6.3,-0.6M565.8,781.0l2.2,2.9M495.7,819.2l2.6,-3.1M486.8,789.5l5.3,3.7M468.5,825.9l2.3,-1.1M479.0,786.6l6.0,-2.0M477.3,735.5l6.0,1.5M566.6,787.1l3.9,3.5M546.9,779.9l1.4,3.6M473.4,767.1l3.2,-2.6M484.5,747.4l5.1,-0.5M592.1,741.9l2.8,-1.9M448.2,829.9l1.4,-2.8M445.1,729.2l2.3,-1.0M474.3,787.1l4.1,-1.5M450.3,831.6l3.1,-2.2M469.6,719.9l-0.1,-4.9M473.0,806.2l3.6,0.4M489.5,781.2l2.7,-0.1M493.8,759.2l3.6,3.9M511.5,726.9l5.0,2.0M492.0,836.0l3.7,-4.1M530.1,764.8l4.1,4.0M483.1,736.4l3.6,-0.4M452.2,723.4l4.2,-3.7M474.0,833.0l3.4,-0.3M593.3,801.1l4.9,-3.3M587.0,759.9l2.2,-2.9M441.6,722.1l4.7,0.6M479.0,844.8l4.5,-2.8M532.9,829.5l4.5,2.4M580.6,847.7l3.5,-2.1M519.1,746.7l3.5,-0.2M517.1,776.2l4.0,5.0M483.5,781.8l3.7,1.3M523.6,822.3l2.2,5.9M489.7,780.9l3.8,0.3M597.3,734.4l2.4,-2.4M435.6,766.8l0.4,4.3M505.5,748.4l3.2,-0.3M514.9,747.8l2.4,2.2M590.8,836.7l0.7,-2.8M427.2,786.3l0.6,6.3M437.9,778.4l3.5,3.3M470.9,818.8l5.1,-2.8M582.4,822.4l4.6,1.1M477.9,744.1l4.3,-1.0M499.7,771.9l3.9,4.5M449.9,810.1l4.3,-0.0M494.6,781.5l3.2,2.6M458.3,831.1l4.9,-2.0M536.9,810.8l1.5,2.4M582.6,782.8l6.1,1.9M482.0,769.0l3.6,-2.1M510.6,765.0l3.4,-0.2M586.6,839.2l2.4,-5.5M507.2,817.9l3.8,1.7M438.3,817.7l1.3,2.9M485.3,717.5l3.2,-1.2M540.6,729.4l2.5,0.7M516.3,747.4l4.7,2.8M545.7,785.2l-2.7,2.5M563.0,810.7l3.2,-0.4M564.8,721.8l2.5,-4.5M549.1,806.0l4.1,-0.2M443.7,768.0l6.0,0.5M598.0,761.9l4.8,3.7M586.1,719.8l0.7,-2.7M503.4,812.2l3.1,0.9M481.6,782.3l3.2,-0.2M426.2,760.4l5.0,4.1M457.2,818.9l3.6,-4.4M434.9,761.5l5.7,-1.4M539.9,832.4l1.1,3.9M565.4,795.7l2.6,2.9M518.3,720.4l3.7,3.5M540.1,816.4l3.9,1.7M467.5,804.6l3.5,4.5M453.4,759.0l3.6,-0.5M525.2,838.6l4.0,-1.3M455.4,752.8l4.9,-4.1M587.0,805.0l2.6,-0.4M428.2,719.4l2.7,-1.9M600.1,794.9l2.6,0.3M426.2,735.3l3.7,1.1M451.8,747.9l2.7,-1.4M562.6,754.9l5.0,0.7M475.0,811.1l5.9,1.0M476.4,802.9l3.3,-0.1M443.0,774.3l4.2,1.8M499.8,765.5l5.0,2.4M583.4,772.0l5.5,-0.9M515.8,799.9l-0.7,3.8M554.0,795.1l0.9,2.6M579.4,796.1l5.7,-0.4M557.9,821.1l4.7,-1.6M497.0,739.7l2.6,1.2M465.2,760.2l5.4,-3.2M525.1,806.7l-0.1,2.5M548.9,789.1l1.8,4.8M515.7,822.5l4.2,-0.1M572.0,834.3l2.7,-4.6M517.1,848.0l6.0,-1.7M513.2,809.8l0.1,5.0M428.5,718.4l5.5,2.1M564.3,800.3l4.2,1.3M586.8,802.1l2.6,0.6M460.9,728.5l5.9,-2.0M501.1,759.7l2.5,-1.1M469.6,763.4l4.7,-2.6M578.1,768.2l5.1,2.7M476.3,752.9l2.6,-0.9M602.2,780.6l4.1,-0.4M562.5,837.2l1.9,-2.3M583.5,772.9l2.8,2.9M426.5,726.3l4.9,-1.6M602.9,756.0l5.5,-0.8M528.8,800.5l1.8,5.5M452.4,809.1l4.0,-2.3M459.4,747.9l4.4,1.0M513.8,831.6l5.0,-0.5M463.7,843.7l4.6,-2.7M544.7,760.7l6.3,1.2M551.8,739.1l2.5,1.0M582.4,747.4l2.6,-3.3M440.8,787.5l6.1,-1.5M582.9,807.3l4.0,-0.9M592.5,747.8l2.8,-2.8M525.8,732.8l2.5,2.5M427.5,775.0l1.8,3.0M458.2,813.8l2.4,2.2M574.5,788.5l4.0,5.1M479.1,791.9l3.5,3.1M594.6,850.3l4.2,-3.9M499.0,785.8l3.4,3.3M426.0,722.1l4.2,0.9M524.2,818.4l5.6,2.4M438.8,802.3l2.1,5.4M509.7,766.8l4.4,4.0M548.3,840.5l4.9,-1.9M511.4,717.2l2.7,-1.4M596.1,804.1l4.1,3.7M432.3,850.6l3.1,-0.7M514.9,813.1l4.3,0.9M537.2,845.6l6.0,0.6M601.6,825.7l2.9,-5.4M589.4,757.7l5.6,-1.0M486.4,724.5l-2.0,-4.2M570.2,830.6l5.6,-0.7M477.4,840.0l2.5,-1.3M492.6,836.6l5.5,-1.7M602.2,792.7l4.3,-0.9M586.8,762.9l5.9,-0.8M478.4,825.2l3.0,-0.3M438.3,794.4l-1.8,5.3M551.5,771.8l2.3,3.0M475.7,747.5l1.7,-2.0M462.2,790.1l4.8,-1.0M483.2,826.2l1.7,-1.9M562.6,838.4l4.0,-5.1M449.8,729.8l2.2,-3.9M553.8,789.3l3.8,2.1M581.3,726.3l3.3,-3.9M440.4,830.8l3.7,-1.0M537.7,785.7l-3.6,5.2M508.7,786.1l5.5,3.0M485.3,737.4l2.5,-2.2M553.0,838.9l1.6,-3.0M583.0,820.7l1.7,-2.9M440.4,774.1l5.4,0.6M464.9,751.4l3.8,-0.5M452.8,776.5l3.0,-0.1M555.0,728.7l5.5,-2.2M534.3,747.6l-0.1,2.6M559.3,789.1l3.1,4.2M459.9,815.6l6.1,-1.8M530.9,738.6l1.7,3.0M497.1,829.0l4.8,-0.7M487.5,783.2l3.7,-0.7M593.7,767.3l3.2,-1.2M443.9,777.1l2.2,5.4M489.8,755.2l3.4,-1.0M519.6,786.0l-0.6,2.6M481.7,827.8l2.6,-1.1M511.6,774.0l-0.6,5.1M424.6,733.5l3.0,-3.4M578.6,788.8l3.7,5.3M437.8,834.3l4.5,-1.0M498.9,851.3l5.8,-2.3M553.9,750.2l3.3,1.8M463.2,744.8l3.6,-0.2M477.4,731.9l1.0,-5.8M534.7,846.2l2.2,5.9M440.4,723.4l4.1,-5.0M428.6,811.5l2.0,5.3M471.0,820.6l4.8,-1.7M508.8,821.1l3.1,0.4M542.9,718.6l3.5,1.6M501.5,745.4l6.5,0.3M498.3,784.2l3.2,-0.2M591.1,742.9l5.9,0.8M500.6,797.9l2.7,2.0M565.1,805.9l1.0,6.0M601.5,825.2l2.9,-0.5M569.5,841.5l2.9,0.8M431.0,826.4l5.6,-1.4M593.0,787.0l4.4,3.9M587.5,821.1l1.5,-3.9M585.8,768.7l2.9,3.3M430.2,731.3l5.0,2.0M509.0,815.0l4.5,1.0M449.6,759.6l6.2,-0.7M434.7,793.1l4.9,3.4M555.2,736.6l3.3,2.5M441.4,733.9l5.1,0.6M428.3,756.0l3.4,4.8M428.5,744.1l2.7,0.3M555.1,793.6l2.6,4.7M443.2,778.8l2.5,-0.9M567.1,767.7l5.5,-3.3M532.4,769.2l1.0,5.9M575.5,746.0l0.7,-6.4M588.1,782.7l2.8,1.5M583.9,744.7l3.6,-4.7M489.7,767.9l5.8,-0.7M554.3,851.8l5.2,-0.6M513.1,837.6l4.3,0.6M432.3,781.2l3.5,4.6M579.0,731.7l4.7,0.7M459.5,849.0l4.3,-3.2M459.9,795.7l2.2,2.0M433.3,755.3l3.2,4.1M590.0,752.3l4.4,-0.6M547.7,759.6l4.7,3.5M488.8,820.7l3.0,0.5M479.2,756.3l4.0,-1.0M570.1,806.1l5.2,3.8M480.6,758.1l2.9,-0.5M568.2,774.1l1.1,2.4M514.7,775.0l2.2,4.7M603.2,798.5l3.2,1.5M429.6,760.8l3.2,2.8M474.1,739.1l6.0,-1.6M594.2,814.8l5.3,1.4M503.1,806.5l5.8,1.2M550.8,824.6l5.7,0.3M584.9,748.6l2.4,-2.1M425.1,750.0l2.5,1.9M480.7,739.8l5.8,-2.5M436.4,718.8l5.5,-0.5M481.1,718.8l0.5,-2.6M589.6,723.7l0.5,-5.1M491.5,826.1l3.3,-0.7M520.6,849.3l0.7,-2.6M582.0,769.7l6.4,-0.8M549.7,751.5l3.8,2.7M556.9,739.6l2.7,-0.6M574.9,742.5l3.1,-1.1M578.3,767.2l3.3,-1.4M585.2,850.5l-0.6,-2.9M566.3,796.0l-0.8,3.4M495.2,760.1l4.2,-0.4M543.6,764.0l2.4,1.4M512.4,833.9l6.1,0.4M453.0,846.5l3.2,-1.8M461.3,814.6l3.5,0.6M446.9,718.0l1.9,-4.9M556.9,759.5l5.1,-1.2M546.1,840.9l3.4,0.7M598.7,801.6l3.5,-1.3M497.7,828.1l5.2,2.5M531.2,825.9l1.8,2.2M592.8,725.1l0.4,-4.3M442.1,789.6l3.6,2.7M496.2,807.4l6.0,0.8M544.7,725.1l3.0,-1.1M578.2,765.6l3.3,2.2M462.1,789.5l4.4,1.1M477.2,725.4l1.0,-4.0M538.2,799.9l-2.3,5.8M554.5,809.4l4.7,3.9M579.2,818.9l5.5,-2.4M428.4,769.6l1.8,5.6M476.5,784.2l5.6,-1.7M434.5,772.3l1.3,5.8M498.0,848.9l2.2,-2.3M579.8,781.8l3.7,4.5M547.5,752.5l4.5,4.3M564.7,750.1l4.8,-0.1M486.5,780.2l3.5,3.4M431.9,724.7l3.9,-2.0M499.5,843.1l0.3,-4.8M591.2,760.2l2.1,-1.6M558.9,805.4l3.1,3.1M585.4,807.4l4.1,1.1M526.7,764.0l3.8,3.7M428.1,787.8l1.0,2.7M449.4,819.5l6.1,1.6M551.2,789.8l4.0,2.9M425.3,730.1l6.4,-0.2M470.1,755.2l2.2,-2.5M591.1,790.7l4.8,0.5M426.6,833.4l3.0,1.0M560.8,833.5l5.1,-1.4M505.8,772.6l1.3,5.9M469.9,793.4l4.8,4.2M494.9,816.3l3.8,0.1M491.6,770.1l2.2,1.5M522.0,795.7l3.3,3.6M508.0,757.1l3.3,1.3M455.8,724.9l0.8,-3.2M545.1,770.6l2.6,2.4M547.2,843.7l3.0,0.3M547.8,846.6l1.5,-2.9M564.8,731.8l2.7,-2.0M441.1,717.4l3.1,-2.4M555.5,751.1l5.9,-0.2M457.0,848.7l5.1,-3.6M575.7,845.5l1.2,-3.5M498.3,757.8l5.4,-2.4M482.8,792.0l3.3,1.4M503.8,723.9l1.9,-4.5M579.9,787.2l3.6,0.4M594.5,771.3l5.2,1.1M471.7,748.5l2.8,0.1M523.8,767.7l2.1,4.5M450.8,743.7l2.3,-1.8M539.7,815.7l5.7,-0.2M579.4,804.0l3.8,2.1M498.6,824.5l6.3,-1.4M591.8,805.3l5.6,1.5M433.5,821.4l3.6,-0.2M545.5,840.3l5.4,-0.7M431.7,795.9l2.1,1.7M527.8,753.3l1.8,3.4M513.7,838.1l5.0,-0.8M559.2,831.5l2.7,2.0M579.0,727.1l-0.5,-6.1M486.2,808.6l5.2,1.0M432.3,818.3l3.2,1.9M501.7,843.6l4.7,-4.3M456.7,770.4l3.3,0.8M591.9,839.2l2.2,-2.5M535.8,803.0l2.8,0.6M472.8,732.5l4.9,-3.7M567.3,777.9l0.7,5.6M580.0,844.2l4.8,-1.9M512.0,825.2l2.4,2.9M502.7,834.8l2.3,1.1M484.5,826.9l0.8,-5.3M464.8,783.5l2.9,2.7M542.7,813.2l4.7,3.6M456.0,802.5l5.8,0.6M506.1,723.8l2.5,-2.0M461.1,740.2l3.5,-3.3M558.6,776.6l1.9,3.3M481.8,789.6l5.1,0.6M473.4,774.5l2.6,-0.8M558.2,720.8l4.2,-0.3M464.4,773.5l5.9,-1.2M536.1,755.3l2.5,-0.0M450.6,836.4l2.2,-3.3M484.2,743.0l3.5,-0.8M508.4,778.6l1.3,2.3M508.0,804.3l4.4,4.1M495.6,798.8l4.0,2.4M450.5,809.0l4.7,-2.6M478.2,806.3l3.8,-0.1M522.1,769.4l1.0,3.4M597.1,811.5l5.1,-1.5M589.5,814.1l5.2,-0.4M597.7,810.8l4.0,0.7M527.7,738.3l3.7,3.4M550.5,753.8l5.0,1.5M507.9,846.6l3.3,-2.8M431.4,726.2l5.2,-1.8M512.7,763.6l3.6,2.1M575.4,789.8l4.8,-0.4M505.6,812.8l3.2,2.6M474.9,733.2l1.1,-3.1M455.0,765.1l6.1,1.0M515.7,754.4l2.7,0.1M569.1,785.5l5.0,4.1M537.6,749.9l1.9,2.6M449.8,738.0l2.6,-1.6M585.7,736.4l1.9,-3.3M440.1,766.8l3.1,1.8M554.3,850.7l5.0,-0.4M601.1,725.8l4.3,-2.8M496.3,784.8l3.9,1.1M570.1,795.4l3.3,-0.8M458.7,743.9l3.1,-0.5M530.0,727.1l1.9,-2.0M546.1,792.1l3.3,2.7M491.6,755.4l6.2,1.0M436.4,796.7l1.6,2.2M449.6,799.5l1.9,1.8M498.5,799.6l4.0,1.1M482.5,825.4l4.8,-3.5M530.3,822.9l4.6,-2.8M583.8,739.2l5.3,0.2M544.1,810.8l1.1,2.7M524.6,746.9l6.0,2.1M587.7,781.9l5.7,2.4M522.8,744.6l6.4,-1.2M471.6,732.3l4.0,-4.4M463.5,841.6l-0.8,-5.8M539.2,719.1l3.0,0.0M482.6,844.9l0.3,-3.8M507.1,838.7l3.6,-1.3M522.3,789.6l4.1,3.6M539.6,741.6l2.1,4.0M449.9,778.1l5.8,-1.5M472.5,760.2l5.1,-2.9M494.8,815.9l2.5,-2.3M432.7,810.1l3.0,2.4M485.0,831.2l2.4,1.0M598.1,761.4l2.9,0.7M469.1,784.7l4.6,1.0M457.8,851.7l2.1,-2.9M423.8,835.5l3.0,1.0M426.7,800.7l3.0,3.1M456.8,727.5l3.4,-3.0M466.7,763.6l-0.7,-4.9M526.0,757.8l2.6,3.5M471.5,831.3l4.1,0.3M553.0,756.9l5.5,1.3M594.7,740.3l3.9,2.7M564.9,831.4l4.6,3.4M442.4,750.8l4.4,-3.2M462.9,735.8l5.7,-0.5M581.1,720.0l1.8,-3.8M426.8,769.3l1.3,2.9M433.9,847.9l5.2,1.5M486.1,767.9l2.1,3.4M473.2,794.5l3.9,2.2M457.6,846.2l3.2,-1.7M536.6,814.2l2.9,3.2M500.2,816.7l2.4,-1.3M525.1,830.3l5.2,-0.9M564.6,761.0l4.1,2.7M570.3,800.2l2.5,2.9M540.5,724.2l-0.4,5.2M523.5,839.5l3.8,0.5M501.0,809.4l3.4,1.6M562.3,832.0l0.7,2.7M470.5,728.1l4.1,-4.0M595.0,753.2l-0.0,-5.6M470.3,779.3l5.5,-2.7M580.5,782.3l4.1,0.5M568.7,722.3l2.4,-2.3M525.3,719.5l3.1,0.9M513.0,843.5l3.9,2.5M547.5,725.9l3.5,-2.7M510.0,726.0l4.6,-1.9M486.5,811.9l4.3,-0.6M573.4,787.4l0.0,3.6M502.1,754.9l3.5,-0.9M603.2,847.8l1.6,-4.3M525.3,827.8l4.5,0.5M567.8,725.8l2.4,-3.4M438.7,793.1l1.0,2.9M485.0,848.6l2.0,-2.8M490.8,825.4l4.0,-1.1M534.1,744.8l2.2,2.8M435.0,753.2l3.6,-0.7M518.4,822.9l2.3,2.8M552.8,819.4l1.7,4.8M538.4,768.5l4.4,4.2M457.9,765.8l5.5,2.6M539.3,719.2l5.6,2.3M433.8,743.3l5.7,-0.0M547.1,847.2l5.1,-0.3M500.9,748.1l5.6,-1.6M457.4,788.0l3.3,3.9M465.3,812.7l3.1,-1.1M594.6,722.4l2.8,-2.4M533.9,785.4l0.7,4.3M522.0,777.0l-0.5,3.1M549.2,761.4l3.3,5.0M468.3,804.3l5.6,-3.1M477.7,825.7l3.9,-2.9M491.3,726.4l3.8,-4.2M549.0,843.5l4.6,1.3M485.8,733.9l3.6,-1.6M501.5,783.5l4.4,0.8M546.8,750.6l3.1,3.2M575.4,822.2l4.4,0.2M574.3,823.7l0.9,-3.8M561.3,782.5l4.6,2.8M483.5,775.0l4.6,0.1M560.5,848.9l3.7,0.3M521.3,801.3l3.4,1.9M587.0,759.0l0.2,-3.3M499.8,841.2l4.6,-4.2M503.6,811.4l6.0,1.2M581.1,840.6l2.0,-2.7M521.9,827.7l1.4,2.3M546.4,763.5l3.0,0.5M514.7,727.8l3.9,-1.2M481.8,782.5l3.5,2.8M450.9,748.3l4.4,-1.4M586.0,750.3l5.7,-1.8M490.1,777.8l4.1,1.8M589.0,726.4l-0.0,-4.3M478.0,784.0l3.0,-2.1M590.5,845.5l1.4,-5.4M532.8,824.4l1.3,4.1M482.3,809.1l4.0,0.5M584.6,731.3l1.8,-2.4M444.8,808.3l2.4,2.6M447.7,811.8l4.3,2.6M474.6,839.9l0.2,-5.6M568.7,789.8l3.2,2.5M535.8,736.0l2.1,2.6M523.0,735.7l3.6,2.3M571.6,849.6l4.6,-1.1M539.5,774.3l4.0,4.4M515.4,749.8l4.1,0.7M575.6,721.2l4.5,-0.2M474.2,750.8l3.4,-1.9M554.3,802.1l3.9,1.5M449.5,767.8l5.1,1.3M426.9,844.5l3.4,1.4M520.1,752.4l3.8,3.1M431.4,838.2l3.8,3.7M448.4,801.4l4.7,-0.8M567.2,779.3l2.0,1.7M451.7,851.0l0.8,-3.7M448.2,739.3l3.8,1.8M433.2,825.2l2.5,-0.2M558.5,774.3l3.7,3.6M580.9,777.7l5.7,1.9M457.1,760.9l6.1,-2.2M516.4,717.1l5.0,-0.6M450.5,764.7l3.3,1.2M578.5,752.5l5.2,-3.6M429.8,726.1l4.2,2.2M566.4,757.0l5.8,1.4M474.2,833.5l-2.1,-6.0M567.5,736.4l4.1,-1.3M587.7,776.8l2.9,0.8M437.6,796.5l0.8,2.4M496.6,759.7l4.0,1.4M538.3,739.7l4.4,-0.2M458.8,771.1l5.5,3.2M567.4,722.6l-0.7,-4.1M489.6,767.8l2.1,-1.3M530.1,724.5l5.4,1.2M591.6,807.1l6.1,0.5M475.7,799.6l0.8,-4.3M517.1,774.3l0.2,2.6M583.0,823.5l2.5,-1.0" stroke="#a8a8a8" stroke-width="1.1" opacity="0.55" fill="none" stroke-linecap="round"/>
<path d="M426.8,849.4a1.0,1.0 0 1,0 2.0,0a1.0,1.0 0 1,0 -2.0,0M517.5,750.2a1.1,1.1 0 1,0 2.3,0a1.1,1.1 0 1,0 -2.3,0M590.5,789.5a1.0,1.0 0 1,0 1.9,0a1.0,1.0 0 1,0 -1.9,0M588.8,725.9a1.0,1.0 0 1,0 2.1,0a1.0,1.0 0 1,0 -2.1,0M584.0,772.3a0.9,0.9 0 1,0 1.9,0a0.9,0.9 0 1,0 -1.9,0M578.0,804.5a1.2,1.2 0 1,0 2.4,0a1.2,1.2 0 1,0 -2.4,0M502.1,752.1a1.1,1.1 0 1,0 2.2,0a1.1,1.1 0 1,0 -2.2,0M585.6,768.9a1.0,1.0 0 1,0 2.0,0a1.0,1.0 0 1,0 -2.0,0M582.6,750.0a0.8,0.8 0 1,0 1.6,0a0.8,0.8 0 1,0 -1.6,0M500.7,840.2a1.1,1.1 0 1,0 2.1,0a1.1,1.1 0 1,0 -2.1,0M475.8,757.0a1.0,1.0 0 1,0 2.0,0a1.0,1.0 0 1,0 -2.0,0M588.6,739.6a1.1,1.1 0 1,0 2.3,0a1.1,1.1 0 1,0 -2.3,0M598.6,834.8a1.1,1.1 0 1,0 2.2,0a1.1,1.1 0 1,0 -2.2,0M601.5,761.9a0.8,0.8 0 1,0 1.5,0a0.8,0.8 0 1,0 -1.5,0M482.5,763.9a1.3,1.3 0 1,0 2.7,0a1.3,1.3 0 1,0 -2.7,0M462.6,732.4a0.9,0.9 0 1,0 1.9,0a0.9,0.9 0 1,0 -1.9,0M505.0,841.1a0.9,0.9 0 1,0 1.8,0a0.9,0.9 0 1,0 -1.8,0M481.4,750.5a0.8,0.8 0 1,0 1.7,0a0.8,0.8 0 1,0 -1.7,0M426.6,805.3a0.9,0.9 0 1,0 1.8,0a0.9,0.9 0 1,0 -1.8,0M485.2,809.3a0.8,0.8 0 1,0 1.6,0a0.8,0.8 0 1,0 -1.6,0M449.5,727.8a1.3,1.3 0 1,0 2.7,0a1.3,1.3 0 1,0 -2.7,0M536.4,775.4a0.7,0.7 0 1,0 1.4,0a0.7,0.7 0 1,0 -1.4,0M523.0,730.1a1.3,1.3 0 1,0 2.6,0a1.3,1.3 0 1,0 -2.6,0M598.6,768.3a0.9,0.9 0 1,0 1.9,0a0.9,0.9 0 1,0 -1.9,0M453.1,838.1a0.8,0.8 0 1,0 1.6,0a0.8,0.8 0 1,0 -1.6,0M502.2,732.9a0.9,0.9 0 1,0 1.8,0a0.9,0.9 0 1,0 -1.8,0M591.3,780.2a0.8,0.8 0 1,0 1.6,0a0.8,0.8 0 1,0 -1.6,0M454.6,726.3a1.1,1.1 0 1,0 2.1,0a1.1,1.1 0 1,0 -2.1,0M549.0,748.3a0.8,0.8 0 1,0 1.5,0a0.8,0.8 0 1,0 -1.5,0M462.9,850.0a1.3,1.3 0 1,0 2.5,0a1.3,1.3 0 1,0 -2.5,0M514.6,731.3a0.9,0.9 0 1,0 1.7,0a0.9,0.9 0 1,0 -1.7,0M423.4,762.3a0.7,0.7 0 1,0 1.5,0a0.7,0.7 0 1,0 -1.5,0M533.5,813.9a0.9,0.9 0 1,0 1.8,0a0.9,0.9 0 1,0 -1.8,0M486.3,745.7a0.9,0.9 0 1,0 1.8,0a0.9,0.9 0 1,0 -1.8,0M592.6,731.2a0.8,0.8 0 1,0 1.6,0a0.8,0.8 0 1,0 -1.6,0M589.9,825.5a1.3,1.3 0 1,0 2.6,0a1.3,1.3 0 1,0 -2.6,0M433.9,785.1a0.8,0.8 0 1,0 1.6,0a0.8,0.8 0 1,0 -1.6,0M525.2,845.6a1.1,1.1 0 1,0 2.1,0a1.1,1.1 0 1,0 -2.1,0M596.2,773.4a1.1,1.1 0 1,0 2.2,0a1.1,1.1 0 1,0 -2.2,0M464.5,734.9a0.7,0.7 0 1,0 1.4,0a0.7,0.7 0 1,0 -1.4,0" stroke="#e0e0e0" stroke-width="0.9" fill="none" opacity="0.7"/>
<path d="M427.6,756.0a1.9,1.9 0 1,0 3.8,0a1.9,1.9 0 1,0 -3.8,0M538.0,798.7a0.9,0.9 0 1,0 1.9,0a0.9,0.9 0 1,0 -1.9,0M455.1,817.4a1.8,1.8 0 1,0 3.6,0a1.8,1.8 0 1,0 -3.6,0M427.2,846.7a1.5,1.5 0 1,0 3.1,0a1.5,1.5 0 1,0 -3.1,0M471.7,849.7a1.5,1.5 0 1,0 3.1,0a1.5,1.5 0 1,0 -3.1,0M549.2,799.7a1.2,1.2 0 1,0 2.3,0a1.2,1.2 0 1,0 -2.3,0M579.3,820.2a1.0,1.0 0 1,0 1.9,0a1.0,1.0 0 1,0 -1.9,0M500.3,798.8a1.7,1.7 0 1,0 3.4,0a1.7,1.7 0 1,0 -3.4,0M581.0,842.5a1.2,1.2 0 1,0 2.3,0a1.2,1.2 0 1,0 -2.3,0M439.7,763.8a1.0,1.0 0 1,0 1.9,0a1.0,1.0 0 1,0 -1.9,0M588.2,752.3a1.3,1.3 0 1,0 2.5,0a1.3,1.3 0 1,0 -2.5,0M488.2,752.4a1.3,1.3 0 1,0 2.6,0a1.3,1.3 0 1,0 -2.6,0M443.4,722.2a2.0,2.0 0 1,0 3.9,0a2.0,2.0 0 1,0 -3.9,0M593.6,748.1a1.2,1.2 0 1,0 2.5,0a1.2,1.2 0 1,0 -2.5,0M519.0,753.7a1.6,1.6 0 1,0 3.1,0a1.6,1.6 0 1,0 -3.1,0M437.1,843.0a1.8,1.8 0 1,0 3.7,0a1.8,1.8 0 1,0 -3.7,0M479.4,749.7a1.9,1.9 0 1,0 3.8,0a1.9,1.9 0 1,0 -3.8,0M596.1,735.3a0.9,0.9 0 1,0 1.9,0a0.9,0.9 0 1,0 -1.9,0M489.9,795.8a1.7,1.7 0 1,0 3.4,0a1.7,1.7 0 1,0 -3.4,0M535.0,807.4a1.8,1.8 0 1,0 3.5,0a1.8,1.8 0 1,0 -3.5,0M575.6,723.9a1.4,1.4 0 1,0 2.8,0a1.4,1.4 0 1,0 -2.8,0M425.7,776.4a1.8,1.8 0 1,0 3.5,0a1.8,1.8 0 1,0 -3.5,0M424.7,731.2a1.2,1.2 0 1,0 2.3,0a1.2,1.2 0 1,0 -2.3,0M431.1,768.6a1.1,1.1 0 1,0 2.3,0a1.1,1.1 0 1,0 -2.3,0M459.7,719.6a1.2,1.2 0 1,0 2.4,0a1.2,1.2 0 1,0 -2.4,0M467.0,780.5a1.0,1.0 0 1,0 1.9,0a1.0,1.0 0 1,0 -1.9,0M597.1,824.1a1.2,1.2 0 1,0 2.4,0a1.2,1.2 0 1,0 -2.4,0M528.3,736.9a1.9,1.9 0 1,0 3.7,0a1.9,1.9 0 1,0 -3.7,0M574.4,832.3a1.0,1.0 0 1,0 2.0,0a1.0,1.0 0 1,0 -2.0,0M491.1,752.7a1.4,1.4 0 1,0 2.8,0a1.4,1.4 0 1,0 -2.8,0M490.9,841.3a1.3,1.3 0 1,0 2.6,0a1.3,1.3 0 1,0 -2.6,0M567.1,824.3a1.4,1.4 0 1,0 2.8,0a1.4,1.4 0 1,0 -2.8,0M434.7,794.9a0.8,0.8 0 1,0 1.6,0a0.8,0.8 0 1,0 -1.6,0M598.7,717.3a0.8,0.8 0 1,0 1.7,0a0.8,0.8 0 1,0 -1.7,0M468.8,807.1a1.8,1.8 0 1,0 3.6,0a1.8,1.8 0 1,0 -3.6,0M422.7,770.7a1.5,1.5 0 1,0 3.0,0a1.5,1.5 0 1,0 -3.0,0M476.2,849.6a1.2,1.2 0 1,0 2.5,0a1.2,1.2 0 1,0 -2.5,0M481.0,834.7a1.9,1.9 0 1,0 3.8,0a1.9,1.9 0 1,0 -3.8,0M572.5,747.3a1.8,1.8 0 1,0 3.7,0a1.8,1.8 0 1,0 -3.7,0M485.5,747.3a1.2,1.2 0 1,0 2.5,0a1.2,1.2 0 1,0 -2.5,0" fill="#c8c8c8" opacity="0.75" filter="url(#blur04)"/>
</g>
<path d="M554.8,831.6 H596.3" stroke="#c8c8c8" stroke-width="1"/>
<clipPath id="cl4"><rect x="611.1" y="717" width="179.9" height="135"/></clipPath>
<rect x="611.1" y="717" width="179.9" height="135" fill="#525252"/>
<rect x="611.1" y="717" width="179.9" height="135" fill="#000" filter="url(#micC)"/>
<g clip-path="url(#cl4)"><g filter="url(#blur04)"><path d="M621.7,770.9l5.2,1.9M625.1,789.9l4.1,-2.4M775.2,778.3l3.5,-2.5M636.9,748.4l-0.6,-3.5M702.5,777.5l2.7,2.2M778.0,814.7l6.4,-2.8M769.2,772.9l4.4,-0.7M688.6,808.5l3.4,2.4M674.9,820.0l5.3,-0.2M630.7,832.9l-4.1,-5.6M656.1,839.6l4.8,3.4M614.6,729.4l-3.4,-4.8M721.9,724.0l1.3,-3.3M738.6,731.1l-1.7,-5.6M675.0,780.1l2.0,3.9M693.8,758.7l4.6,3.3M641.6,828.3l5.3,-1.1M766.9,755.3l3.3,-2.6M754.1,732.8l1.3,-2.8M657.5,733.3l5.0,0.6M737.0,723.2l1.1,-6.6M676.8,851.8l4.4,-0.7M670.5,848.9l4.8,-4.0M710.7,735.8l6.2,-2.7M698.8,766.8l3.7,2.7M702.1,779.7l0.7,3.3M780.5,797.5l3.1,4.1M776.6,844.3l6.5,1.7M725.5,768.1l5.9,-0.7M640.9,834.1l4.6,1.4M673.2,797.4l3.1,5.0M773.1,777.3l6.4,2.6M728.1,834.3l5.6,-2.8M757.9,775.2l6.8,-0.6M658.9,778.4l0.2,5.4M780.0,819.4l2.5,-2.2M665.3,726.5l4.3,-0.2M655.9,756.4l6.5,2.0M633.8,822.4l6.2,0.3M611.4,817.3l1.6,-2.9M662.7,723.3l5.3,-0.6M768.2,738.6l0.7,-3.4M723.9,801.3l6.5,-0.8M736.3,730.1l1.5,-6.4M759.8,759.7l4.0,0.2M676.4,731.6l3.4,1.4M772.7,737.0l6.2,0.4M765.5,780.6l3.0,-1.1M612.9,733.8l-0.6,-4.8M729.0,780.5l4.8,-1.3M714.4,759.5l4.1,-3.9M719.2,777.6l4.1,0.7M730.4,799.5l2.9,1.2M777.2,744.6l4.2,-1.1M622.6,825.1l4.4,-2.6M671.6,795.5l-0.1,4.8M699.4,763.9l3.5,2.7M646.4,833.0l4.2,-0.3M670.1,735.6l2.9,-1.4M766.8,746.3l1.1,-3.2M763.1,784.8l2.4,2.6M762.7,840.1l-1.5,-6.1M703.1,753.8l4.7,2.0M742.9,812.3l6.3,0.1M660.1,774.1l3.6,2.2M763.8,826.0l4.0,0.2M636.2,779.5l6.8,-1.4M780.4,744.8l4.8,-1.0M692.9,752.5l6.0,0.3M669.4,757.3l0.4,4.2M656.3,775.7l0.1,4.9M636.5,841.2l1.1,-4.9M646.9,781.3l5.2,4.6M657.0,723.0l4.3,-3.2M736.8,791.4l7.0,-0.1M692.4,777.9l0.6,3.2M753.2,768.7l5.1,3.9M660.4,774.9l3.7,5.5M721.1,827.3l3.3,-3.0M755.7,814.1l2.7,-3.5M723.8,847.2l3.3,0.5M694.9,742.8l5.1,3.7M614.6,730.3l3.4,-5.5M756.3,734.4l2.2,-2.8M777.4,758.7l5.6,3.6M695.6,851.3l3.1,-2.3M765.4,754.3l4.6,-4.6M739.1,801.3l5.7,2.6M737.1,763.3l5.8,-1.0M760.6,738.4l-0.8,-5.2M689.4,801.2l-1.3,6.9M719.5,740.8l3.7,-1.5M654.6,730.2l5.1,-0.9M678.7,765.4l2.9,1.4M614.3,793.5l-2.7,-3.1M717.0,848.7l1.1,-3.8M737.6,812.2l4.6,-3.0M761.2,787.1l4.6,0.2M759.1,851.2l-0.9,-4.6M662.7,749.2l2.7,4.9M724.7,819.2l2.7,-5.5M712.2,823.8l4.9,-1.6M709.0,785.6l3.9,2.0M771.9,718.2l3.2,-3.0M731.7,729.0l3.9,-5.5M632.1,751.6l6.3,1.5M645.9,793.9l-0.1,3.9M750.6,815.9l1.6,-3.2M682.5,836.6l1.9,4.2M615.1,732.8l-1.7,-4.1M672.1,784.5l1.4,4.5M788.1,839.5l6.4,-1.2M710.7,751.1l4.0,1.3M728.3,810.0l3.0,-4.2M759.4,795.8l1.7,-2.9M654.4,742.7l3.2,-0.7M693.6,806.5l5.9,2.1M628.3,743.0l5.3,-4.3M622.1,770.9l5.3,-3.6M762.5,785.4l3.2,2.0M730.9,748.4l1.0,-3.0M638.7,848.6l2.5,-3.4M664.4,816.0l5.7,1.2M666.1,802.1l2.7,5.1M635.6,847.2l3.0,-2.7M766.5,719.0l2.1,-6.5M654.0,811.8l1.2,6.8M642.4,744.0l2.7,-1.8M781.6,799.6l0.5,3.6M654.9,755.8l3.6,-1.7M657.7,800.0l0.3,4.9M630.2,793.7l4.0,1.3M729.9,721.1l4.6,-2.7M781.1,766.1l4.6,-0.5M733.8,833.2l0.4,-4.3M621.8,759.6l3.0,-0.2M708.3,808.8l4.6,-2.2M637.4,770.4l6.3,1.8M616.4,809.2l4.7,-2.7M742.9,773.7l6.1,-0.8M728.3,805.2l3.7,1.5M696.4,807.6l3.9,2.1M620.2,727.0l0.7,-5.0M719.1,796.9l6.3,1.0M758.1,770.7l6.7,0.4M736.3,794.7l3.1,-1.3M693.1,734.7l5.1,0.7M786.8,804.2l6.6,2.1M734.5,722.6l5.4,-2.3M766.8,836.1l2.7,-4.2M613.6,797.1l3.1,1.6M757.3,850.6l1.0,-3.7M668.8,842.7l5.5,-3.3M708.9,803.0l6.3,2.8M710.6,736.3l2.2,-3.6M692.1,732.1l4.2,-0.6M693.6,798.8l3.2,3.9M790.8,765.9l3.9,-1.3M616.3,725.5l-4.2,-3.7M736.8,718.7l2.7,-3.3M750.5,754.3l-3.7,-3.6M691.6,808.3l1.4,2.9M636.9,763.9l5.8,0.6M714.8,837.7l0.5,-6.0M640.3,826.4l3.5,-4.4M636.6,745.2l3.2,-1.9M682.3,770.4l3.9,3.2M612.4,746.8l5.7,-2.6M775.1,844.3l2.2,-2.9M785.1,771.4l4.9,2.7M625.6,828.3l5.9,-0.9M640.1,792.2l2.7,2.9M621.8,839.2l2.0,-3.7M735.8,811.9l3.7,-0.6M694.5,808.6l4.5,4.2M639.8,844.2l0.4,-4.4M733.2,835.2l3.7,-2.2M764.0,720.3l4.8,-0.8M746.9,717.0l4.2,-4.1M741.7,758.1l4.4,1.3M760.9,779.2l2.9,1.1M761.9,768.9l5.2,1.9M662.0,798.0l2.7,4.9M704.2,838.7l1.8,-3.3M657.2,743.1l6.4,1.9M700.4,718.2l4.7,-0.6M699.3,760.9l3.4,0.2M731.2,729.6l2.0,-3.8M746.0,738.2l3.1,-5.2M627.8,788.7l6.2,-1.6M765.9,731.2l1.2,-3.8M670.0,736.8l6.3,0.3M615.4,841.5l2.4,-3.9M696.8,794.1l3.6,3.2M787.9,817.9l4.6,-1.4M695.8,796.8l3.4,5.6M690.9,816.5l2.7,1.4M677.6,740.8l4.0,-1.0M681.2,776.8l-1.4,4.4M745.2,801.2l2.4,-3.4M766.8,745.5l0.6,-3.4M706.2,833.4l2.9,-2.4M709.4,781.1l3.6,-0.6M710.4,761.6l4.7,-0.2M727.8,752.9l2.8,-3.2M736.4,745.3l2.9,-4.3M630.7,831.9l2.6,-2.3M619.8,822.4l2.2,-3.0M635.0,849.7l5.5,-3.0M782.3,763.0l3.4,4.4M783.8,786.3l2.7,5.4M620.5,829.9l0.6,-3.2M727.8,722.4l2.1,-2.3M768.8,745.5l2.8,-2.7M653.6,835.7l4.3,2.4M619.7,717.6l1.7,-4.0M692.7,774.5l3.5,1.8M784.7,762.7l1.7,6.4M714.1,795.5l1.9,-2.8M716.4,818.5l2.2,-5.9M771.2,814.5l5.5,-0.4M633.9,752.1l3.8,-0.7M619.8,836.3l1.5,-3.3M690.6,728.9l3.1,-0.2M648.8,722.8l4.3,-1.3M700.6,822.0l3.2,0.1M770.4,779.4l4.4,0.2M722.1,753.6l4.4,1.2M670.2,812.5l-2.8,5.8M723.0,830.9l1.3,-3.6M710.9,750.2l3.3,-1.5M708.0,750.4l3.6,1.7M735.3,794.0l-0.4,-6.9M629.3,851.3l3.0,-3.0M733.7,756.7l5.1,-3.6M777.1,799.6l5.0,0.6M648.5,820.0l3.8,0.6M639.9,748.1l4.3,3.4M644.6,744.3l6.1,-0.3M615.2,726.6l0.9,-5.5M769.0,732.3l1.2,-2.8M765.8,735.2l4.4,0.0M733.9,719.3l3.5,-5.2M657.4,844.3l4.7,-4.1M712.5,774.9l2.1,2.6M687.4,770.6l0.7,4.7M652.5,780.2l0.4,4.1M726.7,768.3l5.9,-1.2M652.2,817.6l1.9,3.2M680.3,836.9l5.4,1.9M696.3,747.8l6.4,0.1M730.2,812.1l1.0,-3.9M649.5,733.1l3.0,-1.1M669.4,803.0l3.3,2.7M751.9,803.7l6.0,-1.1M666.8,796.2l5.6,1.5M745.3,808.3l2.3,-3.3M622.6,779.5l3.9,1.4M708.9,721.5l5.3,-1.2M699.5,724.9l4.8,1.1M642.8,775.0l4.3,4.2M755.0,810.8l4.3,-1.1M655.4,790.4l2.9,6.2M729.0,744.6l2.9,-6.1M675.5,739.5l6.1,0.9M636.0,783.3l3.6,5.7M715.7,826.1l4.3,-1.1M620.4,843.3l0.3,-6.9M695.6,790.3l0.2,3.2M776.2,847.5l3.8,-5.0M670.9,750.0l5.2,1.6M740.4,788.6l3.2,0.4M642.0,750.6l5.1,1.5M774.7,734.1l4.0,-4.8M784.0,745.5l3.7,-3.5M651.3,746.8l5.9,-0.1M681.9,834.9l6.9,0.9M705.2,761.4l3.3,-1.4M785.2,807.3l5.9,0.5M766.8,774.4l6.7,-1.6M725.0,826.2l3.9,-3.0M614.3,780.7l6.3,2.8M736.8,813.4l2.4,-3.0M714.0,748.6l2.9,-4.0M692.9,735.9l5.6,0.6M709.1,846.5l-1.3,-3.9M638.5,794.3l1.9,2.7M741.2,827.2l3.1,-2.7M621.3,726.3l-0.8,-3.1M642.9,743.9l3.6,-4.5M642.1,737.3l6.5,2.0M731.6,848.5l1.1,-3.4M611.5,798.1l4.7,-4.8M655.4,730.3l3.8,1.2M675.1,742.5l1.7,6.7M686.0,747.7l3.7,4.6M658.2,815.1l6.3,1.2M687.5,734.7l4.3,4.3M740.5,770.4l3.3,-3.9M618.8,834.7l3.4,-2.3M715.2,826.9l6.8,-1.1M641.7,726.9l4.9,-1.6M732.4,792.5l3.3,-0.3M725.1,778.1l4.8,-2.2M639.3,742.8l5.9,1.8M747.0,813.3l3.3,-5.6M616.6,752.8l4.8,-5.0M759.4,731.5l5.3,-1.6M754.2,800.6l4.8,-4.1M683.0,811.7l2.8,3.5M748.0,756.7l2.6,-4.3M696.5,762.5l1.5,4.6M695.7,748.1l4.5,2.1M652.7,808.5l3.3,0.9M684.8,750.9l2.4,2.1M721.9,741.6l1.0,-4.1M642.5,739.1l5.1,-2.8M763.0,814.2l4.5,-3.0M701.5,766.4l3.7,2.3M696.8,747.4l3.9,4.5M664.5,841.6l3.0,5.9M665.8,810.4l3.1,4.6M696.0,821.5l4.3,2.2M646.8,814.3l4.2,-1.6M707.9,794.5l5.1,1.7M688.1,763.1l2.3,2.5M728.8,772.0l5.3,-2.8M664.6,801.4l-3.8,2.7M751.7,756.0l3.1,-4.3M661.6,724.9l5.6,-0.9M665.8,814.6l4.1,5.1M612.4,803.8l4.4,-1.2M622.7,791.3l5.9,3.0M786.9,768.3l2.9,1.6M693.8,830.8l2.2,-3.5M619.3,756.4l3.2,2.1M661.5,719.4l6.4,-0.9M629.8,828.7l-0.4,-4.3M714.3,828.8l5.4,-1.0M657.3,824.2l6.1,-0.3M779.5,742.0l5.7,2.0M709.1,793.2l2.0,3.9M765.7,834.8l4.5,-4.3M728.3,801.1l3.3,-3.1M646.0,850.9l5.3,-3.7M632.4,771.4l6.9,0.1M612.2,783.1l5.0,3.1M740.7,813.2l3.9,-4.0M695.9,780.9l1.3,2.9M736.7,747.0l3.3,-5.5M704.2,828.0l4.9,1.3M734.6,733.9l3.6,-0.5M666.0,774.2l-1.6,5.2M761.3,753.6l3.1,0.5M772.8,739.6l2.2,-2.9M766.6,838.8l5.4,0.2M612.5,833.8l3.1,-5.1M726.9,820.3l4.0,-3.9M717.7,787.0l6.1,1.2M762.8,844.1l3.0,-1.1M650.4,750.7l6.1,2.1M636.2,726.3l4.5,-0.8M619.6,794.8l0.7,-4.5M622.9,736.5l0.6,-3.0M620.0,766.5l3.2,-0.6M715.9,779.2l2.1,4.4M788.9,761.7l6.8,0.6M710.8,789.6l-0.5,4.8M755.8,822.8l0.1,-3.5M735.5,789.4l4.1,-3.7M644.7,829.0l3.5,-0.6M695.2,850.6l3.3,-3.7M697.4,797.5l-1.2,6.6M763.1,748.4l2.9,-6.2M659.8,826.3l2.8,-1.3M725.0,758.5l3.0,-0.6M646.7,749.5l4.4,1.0M638.5,821.5l4.4,2.0M699.1,744.8l2.4,3.3M696.9,814.1l5.3,-1.5M696.6,802.1l3.4,4.1M718.3,802.4l3.0,-5.6M652.3,727.1l3.6,-2.2M785.7,756.3l5.4,-3.1M759.8,841.1l5.9,-1.4M679.7,848.9l6.7,1.6M650.4,849.8l5.5,-2.2M671.8,779.8l2.5,3.6M728.3,758.6l4.4,-0.8M691.6,786.4l2.7,4.0M677.9,831.1l6.3,-1.3M642.4,785.2l2.6,4.8M673.5,829.8l3.9,0.1M631.2,735.8l4.8,-3.4M670.7,769.1l2.8,1.9M715.6,784.9l5.6,1.5M634.9,831.4l4.5,-4.0M662.8,758.7l3.2,1.8M667.3,827.7l3.5,0.6M696.1,763.2l3.0,3.2M615.6,777.5l3.8,2.2M750.6,782.6l3.8,2.1M636.8,834.5l3.8,-1.2M617.5,807.6l4.4,-2.2M684.9,734.0l3.2,2.4M621.1,815.7l-1.7,-2.7M714.3,795.8l5.6,3.6M681.8,828.8l4.2,2.0M742.4,804.4l1.9,-4.0M655.2,798.8l6.0,3.4M672.4,812.9l4.8,-1.1M645.7,764.7l4.0,4.3M689.8,740.6l4.3,0.7M634.2,803.6l4.7,1.0M701.5,759.1l1.9,5.4M640.9,830.2l4.2,0.9M691.2,848.9l6.2,0.6M788.2,729.1l6.1,0.8M727.6,796.9l6.8,-0.3M669.8,731.0l5.5,4.3M790.6,847.4l3.2,-0.3M743.6,840.5l-0.3,-3.7M680.5,764.6l5.3,1.7M623.6,794.4l5.2,-0.6M768.9,802.5l5.9,0.9M758.1,778.8l3.1,1.2M658.8,786.2l6.3,0.9M746.3,835.9l0.2,-6.3M694.9,757.0l1.6,4.4M705.8,753.7l3.3,1.2M665.2,721.5l3.2,1.9M634.4,820.9l2.4,2.9M680.0,795.3l0.4,4.1M681.5,781.6l2.7,2.7M681.1,816.3l2.7,4.1M648.2,823.1l3.4,3.2M660.6,732.3l4.6,0.4M743.8,733.0l-0.1,-3.5M745.7,766.5l6.3,2.6M625.4,768.4l4.5,2.0M650.4,838.6l3.4,0.8M724.0,816.5l5.9,-3.6M675.5,763.5l3.6,6.0M737.3,726.7l3.1,-5.5M704.5,838.6l5.0,-1.4M672.0,730.8l4.4,-2.2M657.3,758.2l2.7,-2.5M677.4,779.0l4.3,0.8M696.8,808.0l3.0,0.8M667.5,775.0l-1.3,5.0M615.8,736.8l-1.3,-3.8M777.4,841.8l3.1,-3.0M613.0,839.7l3.1,-5.9M692.0,817.9l3.1,3.8M759.7,749.6l0.1,-5.8M769.2,804.4l4.0,-0.7M635.1,766.0l4.1,0.0M765.2,762.2l1.1,-5.0M624.2,802.3l4.5,-1.0M715.0,737.1l2.1,-3.8M757.4,785.5l4.2,0.4M727.6,820.7l4.0,-2.5M739.8,801.0l4.3,-2.6M742.1,791.5l5.6,-3.7M661.4,814.5l2.3,2.1M646.2,850.2l2.7,-2.7M747.1,717.6l0.7,-3.8M661.9,757.8l4.0,4.1M716.7,817.8l5.4,-3.0M672.0,748.9l4.8,4.4M678.7,741.7l5.6,3.5M752.5,850.6l2.3,-6.3M683.8,798.1l1.5,2.6M735.7,723.4l5.0,-3.6M752.7,793.9l6.8,1.0M632.9,742.3l5.9,-2.8M624.5,800.4l2.7,1.5M648.6,786.3l2.4,3.1M636.3,817.4l2.9,-1.9M686.3,733.3l6.2,0.8M637.7,785.6l3.2,1.1M661.6,836.3l5.1,-2.9M660.8,846.4l4.0,-1.6M687.0,738.4l5.3,-4.2M704.6,839.7l5.3,-0.7M681.1,759.2l1.8,3.6M678.1,726.5l4.4,3.4M739.9,742.8l3.9,-2.0M664.4,770.5l-0.1,6.9M646.6,794.3l4.6,2.9M696.5,802.2l2.5,5.5M655.2,781.1l2.9,3.0M642.8,834.7l4.4,-2.3M674.2,827.4l2.7,3.5M647.1,792.6l2.0,4.5M774.1,825.2l5.7,-1.9M737.9,789.8l6.8,1.0M666.7,817.2l4.1,0.2M618.8,821.9l6.9,-0.3M672.1,810.3l2.6,2.6M672.5,759.8l3.6,1.3M666.3,784.3l3.4,4.4M742.9,773.2l3.0,0.5M693.1,799.0l1.9,2.5M653.0,785.9l4.2,2.5M669.1,723.4l6.6,1.7M665.9,746.2l3.6,2.9M735.3,790.0l5.2,1.3M623.6,797.6l5.2,0.6M728.8,812.1l2.0,-3.7M651.0,816.7l6.4,0.7M629.5,761.0l3.4,1.2M611.5,767.1l6.3,-0.3M666.0,758.0l3.1,3.2M713.6,720.2l5.9,0.2M696.8,811.7l3.4,5.8M693.4,831.7l3.5,-1.2M619.0,736.5l4.5,-3.7M785.4,835.1l5.0,0.3M625.2,722.9l1.7,-5.0M703.9,762.6l4.6,4.5M759.5,771.3l4.0,0.6M616.5,846.2l4.9,-3.4M656.2,850.7l4.5,-3.0M622.0,736.3l3.2,-5.5M633.7,796.0l3.4,1.8M640.0,794.5l6.6,0.6M658.9,758.1l1.4,3.5M673.3,743.9l4.8,4.7M724.2,822.6l3.0,-6.3M781.8,847.0l4.1,-1.5M715.9,744.4l3.2,-0.2M789.3,837.1l2.1,-6.4M653.2,850.2l5.2,-1.2M648.3,739.2l3.0,-3.0M692.5,772.9l0.8,3.7M734.4,841.5l0.7,-3.5M688.3,772.0l3.7,3.2M762.3,760.5l3.4,1.0M775.9,733.8l4.7,-4.0M748.2,830.6l5.1,-2.8M658.8,785.7l2.2,6.6M680.3,774.0l3.4,3.2M670.0,734.3l3.4,-1.8M694.8,816.7l2.9,5.0M759.5,830.4l3.2,-4.6M736.4,850.4l6.2,-1.1M694.1,800.5l6.7,0.1M764.7,825.5l5.4,-0.5M673.2,785.6l-2.2,4.8M763.3,794.4l3.0,-0.3M613.3,804.8l4.5,-2.0M636.0,722.0l2.7,-1.7M688.8,755.7l3.1,1.4M658.3,821.8l3.6,2.7M753.1,820.1l2.3,-3.4M704.2,719.4l3.5,-1.4M687.2,736.8l4.3,0.4M630.1,827.8l3.5,-2.7M753.5,761.9l3.8,-1.6M757.1,794.4l4.6,-3.4M738.8,736.8l2.2,-3.0M661.8,741.4l3.8,1.7M612.0,748.1l3.2,-5.4M720.9,846.7l2.3,-5.4M778.6,756.0l1.5,-6.6M693.3,717.5l3.9,0.2M691.8,810.7l2.6,2.5M700.4,765.7l5.0,-0.0M669.6,799.9l2.2,5.6M747.1,753.1l1.0,-4.1M763.1,844.7l5.2,-3.7M619.0,785.4l3.9,4.3M785.0,829.0l6.1,0.6M774.7,800.3l3.0,-1.2M661.6,768.0l4.0,3.7M790.0,720.0l4.5,-4.3M687.6,740.0l4.2,-2.3M774.6,793.9l4.7,2.4M786.3,836.3l4.1,-0.2M654.7,720.3l4.3,-0.7M749.4,738.7l3.3,-3.4M715.4,743.5l3.1,1.4M699.9,777.8l3.7,1.1M675.2,759.0l2.6,2.7M620.5,781.7l3.9,3.6M620.2,808.6l4.0,-0.2M778.3,798.6l4.1,1.0M679.6,812.0l5.4,3.3M758.3,737.5l4.1,-3.4M766.7,807.7l6.4,-1.8M711.9,740.6l4.7,0.3M710.2,727.2l3.5,-5.2M768.7,800.8l3.2,1.0M613.3,803.0l3.1,-1.4M637.6,770.1l2.9,-3.0M785.1,808.0l3.3,0.0M640.3,821.9l2.9,1.9M709.0,766.8l5.7,1.0M786.7,838.2l5.9,2.2M759.3,754.9l3.0,-1.7M637.3,759.2l6.6,2.3M640.7,804.8l5.3,-1.1M655.7,728.5l4.3,3.1M726.5,796.5l5.1,0.6M686.3,746.2l3.4,3.2M651.5,844.5l5.8,-2.3M787.3,771.3l4.3,2.3M639.8,839.1l3.8,0.1M655.0,794.8l-1.1,4.0M627.8,763.3l4.6,0.2M611.6,849.3l4.5,-3.8M752.8,774.5l5.3,-3.6M727.2,747.1l4.4,-2.3M649.9,787.7l2.6,1.9M764.3,800.8l3.8,0.0M736.6,721.7l6.3,-2.1M741.7,810.3l3.2,-1.1M790.3,740.5l6.3,-2.4M683.3,780.4l3.8,4.3M669.2,810.9l2.9,2.5M715.6,819.7l5.7,1.1M748.4,768.8l2.7,-1.5M761.9,729.0l1.7,-4.9M772.5,762.6l3.7,-1.9M611.2,753.7l4.4,-1.4M661.5,717.3l3.5,2.0M630.3,818.9l3.4,-2.0M652.2,719.4l3.1,-1.1M621.4,749.1l2.0,-5.9M714.6,791.1l3.8,-2.2M634.5,843.3l4.8,-4.9M774.1,734.7l1.6,-6.7M728.7,844.2l-0.6,-3.5M624.2,795.1l3.0,2.0M611.1,752.2l2.1,-2.3M668.4,779.7l2.3,3.7M741.1,770.5l4.5,-3.7M676.3,772.0l2.3,2.8M673.9,779.7l1.0,4.1M692.5,792.9l1.7,5.8M774.7,740.0l2.5,-3.0M618.0,838.6l0.5,-3.3M755.9,805.7l4.1,-0.1M774.4,811.6l5.8,3.0M711.0,774.2l6.5,0.1M648.3,843.9l3.1,-3.6M653.9,808.6l3.9,4.6M703.9,758.3l6.3,-1.5M647.4,798.6l6.1,-1.1M772.4,728.6l2.4,-2.2M746.2,734.2l2.5,-2.8M634.5,818.6l3.0,0.7M642.4,813.8l4.8,0.1M687.3,830.6l4.3,-2.1M753.6,782.1l4.2,0.7M747.5,729.7l2.4,-2.2M755.1,837.0l-1.0,-5.4M745.9,756.2l3.6,-1.8M787.1,774.0l5.4,-0.3M619.8,794.4l6.8,-0.8M616.7,727.0l0.8,-5.9M699.1,731.8l4.0,0.6M707.5,782.2l3.6,4.8M738.2,729.4l-4.5,-1.7M646.5,767.4l5.4,2.0M691.8,786.9l1.0,3.4M673.1,731.2l4.3,0.8M752.5,834.0l3.1,-0.9M688.3,741.9l3.3,2.6M758.6,783.5l2.4,-3.6M776.2,781.0l3.8,1.9M743.2,819.0l2.1,-5.7M690.9,769.3l4.3,4.0M659.1,777.0l1.6,5.8M624.2,744.3l-2.5,-6.3M643.8,847.8l2.0,-2.4M656.5,848.5l3.5,2.0M775.4,828.9l2.3,-2.0M785.7,755.8l3.9,1.3M659.1,793.6l3.7,3.0M744.8,728.9l-4.2,-2.8M679.8,788.3l3.1,6.1M724.5,809.2l4.0,-0.8M694.7,729.8l4.9,-2.7M714.2,831.5l2.1,-3.1M744.9,717.7l1.3,-3.7M651.1,730.0l3.8,-2.4M699.4,796.0l-0.4,3.8M747.1,772.9l4.7,-1.3M649.8,801.3l4.2,4.5M756.0,726.9l3.0,-4.2M626.4,772.1l4.3,1.1M699.2,745.5l6.7,-1.2M788.7,839.1l5.9,0.9M776.5,782.4l3.6,-0.6M764.8,764.2l6.6,-0.5M666.5,788.6l-1.2,3.3M623.0,793.5l5.5,-3.5M787.2,751.3l6.8,0.6M782.8,809.1l1.9,2.5M655.7,763.8l2.9,4.8M674.9,741.8l4.3,1.0M762.4,732.3l3.6,-1.7M684.1,745.6l6.0,-1.8M668.6,743.5l6.0,-0.3M746.0,844.1l4.2,-2.8M677.9,749.3l4.3,2.8M747.7,755.4l0.9,-6.4M661.0,841.0l6.9,1.2M724.6,767.8l4.9,-0.6M772.6,792.1l5.0,1.6M778.0,769.1l4.2,5.5M611.1,803.1l5.1,-0.9M728.6,816.4l4.8,-2.9M789.3,806.3l3.1,0.2M762.0,842.8l5.5,-2.8M626.5,757.0l3.1,-2.9M730.7,843.4l-1.8,-6.0M758.0,756.4l1.5,-3.4M778.1,788.2l3.0,2.0M781.6,780.5l0.9,4.9M771.9,722.6l0.7,-6.5M711.8,815.5l3.5,-0.9M740.3,828.4l4.6,-1.4M621.6,808.5l5.2,-2.3M625.0,731.3l4.8,-3.3M642.0,751.9l3.2,-1.0M627.1,825.2l2.7,-2.3M677.3,727.3l2.7,2.9M743.5,743.5l4.5,-4.2M678.2,790.5l-3.1,4.4M785.8,809.2l3.8,2.4M699.3,792.0l1.8,3.2M628.9,738.6l2.8,-6.3M704.0,834.1l5.2,-0.2M769.3,791.3l2.5,2.9M658.0,745.2l3.9,1.0M667.2,786.5l3.9,2.0M765.8,767.8l2.4,4.1M750.5,819.4l-0.1,-3.4M669.1,748.3l2.8,4.1M771.9,840.8l1.1,-5.0M752.9,725.3l1.3,-3.9M761.5,760.4l5.6,1.4M633.0,732.7l3.7,-3.7M790.1,780.4l0.8,6.8M706.9,732.8l3.8,-2.2M778.6,814.1l6.1,-1.8M782.2,781.9l4.8,0.9M658.5,724.6l5.5,-2.4M754.7,845.5l3.3,-5.0M769.0,749.2l3.1,-2.9M772.0,828.3l3.9,-3.8M765.0,837.3l1.6,-2.7M678.7,775.0l-1.3,3.7M677.8,801.2l0.7,3.9M754.1,793.7l4.7,-1.8M675.7,786.3l1.1,3.3M782.9,796.2l5.2,-2.2M621.3,731.1l1.5,-4.3M716.6,755.4l5.0,-3.6M657.2,740.2l2.8,-2.2M689.7,742.1l3.7,3.9M715.2,818.3l3.6,0.4M663.6,812.5l3.3,5.8M724.5,727.8l2.5,-2.5M763.3,840.2l0.5,-7.0M694.3,767.1l0.4,3.0M680.4,757.6l6.2,-0.5M713.6,764.4l6.1,0.5M643.7,734.3l1.8,-3.3M729.1,756.6l1.8,-3.9M775.0,796.9l4.4,4.2M749.9,812.6l3.7,2.2M766.5,793.9l6.7,1.2M643.6,821.8l4.1,-0.3M667.7,805.5l4.5,-1.2M642.7,766.7l6.2,3.2M691.6,731.7l4.3,0.7M773.1,764.7l3.2,4.4M743.9,848.0l0.6,-4.2M627.7,809.8l3.2,-4.5M757.4,810.7l3.9,1.2M625.3,758.2l6.6,0.4M714.7,845.1l1.4,-3.7M771.7,741.8l5.4,-1.1M619.4,764.6l3.1,0.1M773.3,749.7l3.0,-5.1M747.3,762.5l3.4,-1.3M700.6,828.2l3.0,-0.1M665.1,754.3l2.8,3.7M705.8,847.5l5.5,-0.8M675.7,769.3l5.3,1.7M673.9,823.0l5.2,1.5M673.4,786.0l1.9,2.4M730.9,795.6l6.9,-0.9M787.5,756.2l3.8,-2.7M647.5,717.1l3.7,-0.5M612.5,750.5l2.9,-3.7M630.4,722.1l1.7,-3.2M787.1,753.0l2.6,2.3M686.7,849.3l3.9,2.2M660.2,752.3l4.3,4.4M770.5,741.7l3.1,-2.0M675.3,846.6l4.0,2.9M730.4,726.1l4.9,-5.0M625.3,740.0l2.8,-2.0M718.9,846.0l2.0,-3.3M693.1,850.7l4.8,1.8M748.7,845.0l-2.0,-3.0M684.6,822.5l3.2,-0.3M679.5,734.0l5.4,-2.8M645.8,750.8l3.2,3.2M676.9,832.4l4.0,-0.1M677.6,844.6l5.1,2.4M685.0,758.1l3.0,1.7M655.8,787.6l-3.1,5.4M719.3,736.4l2.9,-1.9M634.6,848.4l4.3,-5.0M638.7,743.7l5.2,-3.5M678.7,787.0l-1.1,4.5M688.3,802.3l1.5,2.6M730.5,766.7l4.3,-2.8M742.5,825.2l0.5,-6.5M644.5,738.6l5.3,-4.5M765.6,754.8l5.8,-1.1M727.4,728.8l2.6,-3.9M704.0,722.9l3.4,-3.9M626.8,804.5l4.1,-1.9M744.7,717.0l1.7,-2.6M724.4,752.3l4.4,0.2M772.0,762.4l6.4,0.4M657.6,799.3l2.9,2.1M708.5,828.4l6.7,-0.9M638.1,770.9l4.8,0.1M787.8,782.8l0.0,3.1M618.1,843.7l0.1,-5.1M683.8,850.2l4.2,1.1M611.8,757.6l3.5,-3.4M660.0,846.8l2.8,-5.5M701.6,804.6l4.0,1.2M643.5,722.0l2.6,-3.4M642.5,793.2l3.2,1.2M769.0,748.9l4.4,-4.7M690.4,810.1l1.9,3.7M693.2,796.5l0.4,6.4M774.0,806.0l4.1,0.5M621.5,740.2l2.5,-5.6M644.7,733.3l4.4,-2.3M737.6,743.8l2.9,-2.1M784.7,796.4l3.5,3.2M739.0,838.3l-0.8,-4.2M774.6,723.8l3.3,-4.2M644.9,720.8l4.8,-3.1M744.5,775.5l6.0,-1.3M639.8,756.2l4.6,1.6M716.2,831.9l3.9,-1.6M630.7,774.4l5.3,-1.0M725.5,734.7l4.8,-4.9M671.9,769.0l5.4,1.5M689.5,840.4l4.1,0.7M710.7,812.8l6.3,-2.0M724.9,731.9l-2.4,-5.3M627.4,784.6l3.1,5.2M746.3,802.5l1.9,-6.7M667.0,729.6l4.2,0.5M649.9,810.8l2.1,2.8M666.3,762.6l3.6,3.4M710.7,802.1l3.8,3.8M681.1,742.5l6.6,-1.5M758.5,771.6l4.3,-1.5M699.1,836.4l4.1,-3.6M648.2,734.1l3.9,0.4M701.6,836.6l4.3,-1.1M661.7,791.1l4.2,2.2M671.9,789.9l5.0,2.7M622.8,732.8l1.6,-5.0M672.3,735.1l5.4,1.9M627.9,742.2l2.0,-3.8M685.5,832.2l6.7,1.9M741.6,717.6l3.2,-3.2M716.7,828.6l4.2,-1.3M744.2,776.1l3.5,0.6M696.8,743.7l5.3,-2.4M701.4,746.6l3.6,0.7M703.7,806.4l2.5,3.1M655.0,845.2l6.3,2.7M773.6,732.3l0.3,-3.4M649.5,847.6l3.5,2.9M650.3,833.4l2.3,-2.7M738.2,818.6l1.9,-3.1M665.3,815.3l6.7,-0.0M723.0,721.0l0.7,-4.2M639.8,827.1l3.3,-2.7M755.8,746.8l2.0,-5.1M717.0,778.1l0.3,6.0M639.8,790.9l2.4,-2.6M717.3,780.4l2.5,-3.9M616.7,801.2l1.5,-4.3" stroke="#262626" stroke-width="1.5" opacity="0.6" fill="none" stroke-linecap="round"/></g>
<path d="M653.6,730.9l2.5,-1.1M683.3,840.9l5.5,1.6M748.8,747.0l0.9,-3.1M630.2,745.9l4.9,-3.8M760.2,825.9l2.8,-2.5M723.9,815.8l4.6,-3.7M769.4,728.7l0.3,-4.5M643.1,780.9l2.8,0.5M779.2,833.8l3.8,-4.8M714.1,836.1l4.4,-3.9M702.6,772.9l3.0,1.0M666.0,826.7l2.7,0.1M619.4,801.6l4.2,-1.2M672.8,851.6l2.5,2.1M685.4,744.4l3.9,0.4M745.5,760.3l3.3,-3.4M773.8,730.6l5.1,-2.3M721.8,749.1l3.6,-1.3M643.0,779.0l1.2,6.0M782.9,816.2l6.1,1.8M614.4,756.0l4.0,1.0M780.8,800.8l5.6,1.4M663.9,742.8l4.0,0.1M784.1,761.7l2.3,1.1M619.2,739.9l2.4,-2.8M628.6,849.5l0.6,-4.2M648.5,725.0l5.2,-0.4M638.0,722.5l3.7,-2.5M655.9,851.7l5.4,1.6M684.7,850.3l3.9,2.0M654.6,772.4l0.6,3.4M771.1,829.2l3.9,-2.2M616.8,751.3l2.7,-2.2M767.6,736.1l2.4,-1.3M778.1,793.3l3.4,5.1M728.7,823.8l4.0,-3.7M700.0,729.5l6.1,0.1M777.4,762.4l2.2,4.6M754.9,803.7l5.1,-0.2M734.5,753.2l2.3,-5.8M783.1,727.0l3.8,3.5M619.1,838.4l0.7,-2.9M785.3,807.1l3.8,3.3M713.5,817.8l6.2,-0.0M650.4,717.4l5.9,-1.3M631.9,826.3l4.7,-3.1M769.0,791.3l4.6,2.3M670.6,837.4l5.6,-0.4M695.9,788.1l2.0,4.5M699.0,833.7l4.9,-0.4M636.1,765.9l2.5,0.6M761.8,828.7l0.3,-2.8M708.9,768.5l2.9,1.8M698.6,847.4l2.3,-1.8M631.7,800.8l3.5,2.4M765.4,821.8l1.5,-2.3M769.7,743.4l2.5,-3.4M754.7,739.6l5.9,-0.8M642.8,737.2l3.1,-3.5M773.7,812.9l2.5,-0.2M667.2,790.6l4.0,1.9M624.7,750.1l5.1,-2.9M675.3,820.5l1.4,5.0M720.8,759.3l6.0,-1.3M695.1,840.0l5.1,-2.4M721.4,776.7l1.2,2.8M749.8,765.9l2.5,-1.3M637.0,826.2l2.6,-1.9M773.4,767.2l4.8,-1.3M627.9,771.3l6.2,-0.9M643.4,805.3l2.5,0.5M614.7,845.2l3.8,-4.4M755.2,826.0l3.9,-2.8M700.2,794.5l4.5,4.4M747.9,847.7l3.8,-3.6M745.2,800.4l5.7,1.3M665.6,842.3l5.3,-3.0M737.7,758.8l3.4,-0.5M669.9,801.6l-2.3,3.4M683.2,827.4l3.4,1.2M685.1,718.8l5.0,1.6M721.7,766.2l5.3,3.5M723.2,738.1l5.9,2.7M776.6,798.5l2.3,3.0M627.5,751.8l5.9,-1.6M751.0,737.1l3.5,0.0M664.9,845.0l4.6,2.4M709.5,846.5l3.5,0.7M705.4,738.3l3.7,-0.6M633.0,725.3l4.7,-4.5M663.1,837.2l5.1,-0.8M782.5,835.6l1.9,-5.0M711.8,810.7l4.5,0.2M638.8,831.0l2.1,-3.9M623.3,739.7l3.3,-2.4M733.8,833.3l1.0,-3.7M680.7,774.1l-1.5,2.1M783.8,737.6l3.1,-0.5M763.8,828.2l3.3,-2.9M740.4,742.0l5.4,-2.2M790.4,812.4l0.4,4.0M763.6,829.6l0.8,-4.8M630.4,800.6l4.5,2.3M772.5,798.0l2.6,0.0M724.8,751.5l3.7,-0.1M772.2,801.4l3.5,-1.5M761.2,837.4l5.0,-1.2M736.8,798.6l3.2,-3.4M788.7,764.7l1.4,4.3M709.3,797.7l2.1,2.8M647.2,726.6l5.2,-0.9M632.1,849.1l-2.1,-5.4M702.7,717.1l5.0,0.3M614.4,816.0l0.9,-2.5M697.1,736.6l4.1,-3.6M757.9,757.2l3.9,1.2M719.9,721.6l-2.5,-4.9M766.3,757.3l4.9,2.0M753.0,812.1l1.8,-1.9M770.7,842.8l2.6,-2.5M747.1,772.0l2.4,-3.0M722.7,751.6l2.0,-4.1M616.5,752.6l1.8,-2.4M747.5,728.7l6.3,-1.2M641.0,729.4l5.0,-1.5M771.3,784.4l0.4,2.9M672.4,778.5l0.0,3.5M762.8,732.4l3.2,-5.5M664.5,793.6l2.3,1.5M763.4,741.2l-1.1,-5.3M616.0,820.5l2.2,-1.5M669.5,761.3l2.4,6.0M720.3,766.2l3.1,1.2M783.1,845.4l4.5,-2.7M787.2,724.8l5.0,1.3M762.8,731.1l0.3,-3.3M635.9,781.6l3.9,-0.7M744.9,830.2l1.7,-5.3M617.9,737.6l2.7,-4.0M646.1,801.3l2.3,3.1M676.5,812.6l1.7,3.5M787.7,745.7l2.6,-0.3M645.5,828.4l4.3,-1.4M618.5,758.3l-0.3,-5.4M681.8,735.8l3.9,-0.8M691.4,735.4l2.4,1.1M752.1,815.9l2.4,-2.8M711.5,837.8l4.0,-1.8M786.3,788.1l2.4,4.3M718.9,814.8l2.3,1.1M689.7,825.0l2.9,1.3M662.5,775.7l1.3,3.5M725.2,740.0l1.5,-4.4M783.6,843.4l3.5,0.5M671.4,789.6l4.1,4.3M646.5,780.6l2.4,1.7M770.0,797.4l4.8,2.3M718.5,723.9l3.8,-4.4M768.4,727.9l4.9,-0.6M708.9,752.5l2.6,-0.8M696.6,833.9l3.6,0.4M735.4,846.6l4.7,-3.8M662.9,773.3l-0.7,5.9M763.1,726.7l2.0,-3.7M625.5,774.3l5.4,2.3M783.0,827.5l3.0,-1.4M776.3,841.6l2.0,-1.5M663.5,786.9l1.6,3.9M627.7,803.5l4.2,-1.6M709.9,810.1l2.6,-1.0M689.6,735.3l2.7,2.6M672.2,754.4l1.7,4.6M632.4,803.6l1.0,2.9M749.2,790.6l3.8,1.7M665.8,765.5l2.5,3.9M655.6,801.4l3.1,0.8M697.9,804.9l4.8,0.4M646.0,846.3l4.3,-3.1M741.6,845.9l-0.5,-3.7M668.0,757.5l2.4,2.9M648.7,782.3l3.9,3.3M667.8,833.6l4.5,3.5M670.2,829.6l5.9,2.6M617.0,717.8l3.2,-5.0M611.6,805.4l2.7,-2.2M785.1,770.1l3.1,1.5M690.5,815.8l4.9,2.9M628.4,724.5l1.8,-1.7M789.8,775.6l4.6,4.4M672.8,764.2l4.9,1.8M611.2,766.1l4.3,-1.3M779.6,775.4l5.4,-0.8M681.7,728.7l2.6,-0.4M662.5,734.0l4.1,1.3M743.8,819.3l4.7,-2.2M771.1,770.4l6.1,-0.9M629.6,841.3l5.8,0.7M739.0,775.7l2.5,-4.8M769.1,794.7l2.9,-2.1M671.4,721.8l4.6,-3.9M724.3,807.8l4.4,-0.5M768.9,764.9l4.0,1.1M686.3,831.0l1.5,2.1M736.9,820.1l4.4,-0.2M744.6,754.9l3.3,-1.3M740.1,793.2l5.0,1.2M786.6,821.4l5.7,2.4M744.5,764.0l-0.5,-4.5M747.0,823.2l5.0,-1.1M656.9,800.9l3.0,1.3M727.5,740.8l5.5,2.3M665.9,723.1l5.7,1.0M749.9,737.9l3.6,-3.2M660.4,724.6l1.6,-2.2M690.4,814.4l5.2,2.2M622.5,799.9l3.0,-1.1M612.1,743.1l1.6,-2.0M697.9,764.1l4.5,1.6M715.0,812.6l4.7,1.9M632.4,750.9l2.4,-1.6M766.2,762.6l3.7,-1.7M648.3,750.5l2.9,-3.4M680.8,726.5l5.2,3.0M763.2,814.9l3.1,-4.9M737.7,774.8l2.8,1.0M637.1,739.9l0.2,-4.3M766.6,788.1l4.2,2.2M655.5,803.4l3.3,1.5M612.4,770.8l1.4,-3.4M777.8,826.6l2.2,-2.2M751.2,843.3l3.5,-2.0M708.9,804.9l4.8,1.1M645.1,836.4l3.2,-2.0M625.6,779.2l2.9,0.2M706.4,754.6l2.8,1.7M757.1,795.6l2.4,-2.7M775.0,717.9l0.8,-3.0M699.5,836.4l3.8,0.9M738.6,742.7l3.0,0.9M748.6,762.1l2.1,-1.6M649.0,815.4l2.9,-0.9M642.0,766.3l4.0,2.2M758.7,777.6l4.5,-2.7M747.1,825.8l4.4,0.1M657.9,732.1l5.3,-3.0M776.5,785.0l4.3,-1.0M784.7,728.6l3.1,-3.8M721.0,738.4l4.3,-1.3M642.7,768.8l4.0,3.0M682.9,739.7l3.4,2.7M731.6,757.7l4.6,-2.7M617.6,807.8l2.7,0.5M771.2,742.8l3.8,-2.3M657.3,821.8l5.5,1.1M633.9,724.0l2.5,-3.1M673.8,766.5l4.1,2.4M680.9,734.4l1.6,-5.3M740.3,842.2l2.4,-3.6M676.3,824.0l1.2,2.8M723.2,786.4l4.1,3.8M622.4,807.7l5.1,-1.0M661.5,817.5l5.9,2.6M611.6,771.9l-0.3,-6.2M616.3,735.4l1.9,-3.7M755.7,823.6l-1.8,-5.5M769.0,802.6l3.3,-1.2M743.2,813.7l2.5,-0.8M672.5,751.5l3.6,1.9M621.8,799.4l2.6,-1.2M714.4,730.4l5.2,-2.8M660.9,838.2l5.2,2.1M704.9,777.5l2.8,5.3M640.6,831.9l2.6,-2.9M661.2,802.4l2.6,3.4M704.3,804.6l1.9,3.2M730.9,810.5l3.5,-5.0M680.6,788.8l1.0,3.7M722.8,767.4l5.3,-2.5M673.6,746.7l6.5,-0.2M780.6,773.9l4.3,0.3M728.4,785.1l5.6,-1.9M771.6,823.7l4.0,-3.7M770.8,751.5l2.9,-0.2M700.1,738.3l3.4,-0.8M720.1,737.1l2.8,-5.6M625.2,785.8l4.0,1.8M640.3,763.8l4.7,-0.2M711.2,779.9l2.6,3.4M720.7,782.4l2.9,3.0M764.5,734.8l4.2,-2.0M665.0,802.4l1.2,4.6M778.7,747.5l4.0,-5.1M690.1,802.5l1.6,2.7M708.8,749.4l5.7,0.1M639.0,806.5l4.1,4.7M759.3,832.8l0.3,-2.6M702.9,757.4l5.0,-2.1M647.8,740.1l2.8,0.4M744.2,828.1l2.1,-2.2M789.2,726.6l4.7,-0.8M768.7,740.0l3.0,-4.1M695.3,737.1l5.6,-2.5M701.1,849.6l1.1,-5.0M621.5,717.6l-1.7,-6.2M730.9,823.8l4.6,-2.6M727.6,725.1l0.4,-4.6M778.4,792.1l3.6,2.1M702.1,791.9l4.7,3.6M699.3,793.5l4.8,0.7M682.2,755.6l4.8,3.5M674.9,813.3l2.8,1.9M686.7,766.8l-4.6,3.9M742.7,752.4l3.3,-2.8M643.5,732.7l5.0,2.0M730.0,825.8l3.0,-0.9M713.7,748.0l3.4,-0.0M712.0,739.2l3.3,-1.3M746.9,752.6l1.9,-3.2M752.0,793.0l6.1,1.6M626.7,770.0l2.6,-3.5M662.7,834.1l2.0,-2.0M691.0,801.8l-0.5,5.6M698.0,838.4l3.1,-0.9M645.1,782.6l2.1,5.0M645.7,782.9l3.8,-2.4M756.7,748.7l6.0,-1.2M615.4,737.5l0.4,-4.6M723.1,764.0l4.4,-2.6M682.5,796.0l2.6,4.9M759.5,850.5l-0.0,-2.7M687.8,739.1l5.0,2.6M633.6,824.3l5.9,0.3M785.2,819.2l4.6,1.3M660.3,823.8l1.7,3.4M762.2,835.9l2.0,-5.4M639.4,733.2l5.5,-2.4M653.7,752.2l3.1,-1.0M668.0,726.0l3.0,1.9M745.4,803.3l1.0,-2.4M661.7,802.7l3.7,1.3M786.8,747.2l3.7,3.7M780.5,775.5l3.7,1.2M689.6,816.3l3.6,4.4M730.9,822.0l0.7,-2.9M760.4,789.0l4.9,-0.4M650.6,765.8l3.1,3.6M648.7,748.3l5.1,2.7M655.0,753.0l2.5,1.7M720.3,817.0l2.5,0.2M632.1,729.7l5.6,0.1M626.0,815.7l2.8,-0.8M757.0,767.1l6.1,1.0M735.9,793.0l3.7,-3.1M785.5,746.7l3.2,0.3M790.7,809.9l2.5,0.3M651.3,825.3l3.4,-1.2M719.9,782.9l2.5,1.1M739.4,749.1l3.6,-2.8M715.0,819.6l5.5,0.4M730.7,781.1l4.5,2.4M752.6,835.4l0.6,-3.0M730.9,808.8l4.0,-1.5M736.5,746.4l1.7,-5.2M784.8,754.1l2.6,1.2M677.5,833.9l3.5,1.6M696.8,837.7l4.7,-0.5M688.1,848.4l5.7,-0.6M787.9,809.3l4.6,-3.2M701.8,808.6l-0.4,6.1M732.7,783.5l3.8,-1.8M681.5,845.6l4.8,-1.9M629.2,777.5l3.3,-2.1M785.3,809.9l6.1,-0.3M706.1,812.4l3.0,2.6M687.8,820.5l4.4,3.9M790.1,788.4l-0.1,5.0M789.9,824.1l2.7,1.4M759.9,729.8l-0.0,-5.4M663.6,826.1l4.4,-0.2M664.8,851.9l4.3,-2.0M783.7,733.1l3.8,-0.4M788.4,734.3l4.5,-1.0M765.1,758.1l2.5,-1.1M715.8,792.9l2.5,2.3M712.0,784.7l3.1,1.4M768.7,809.7l4.9,-2.7M672.9,795.7l5.0,3.9M698.8,778.5l0.7,5.3M700.3,766.6l-0.1,4.5M763.6,763.4l6.0,-0.5M756.3,748.5l3.7,-3.5M751.4,814.4l2.7,-2.5M674.4,741.6l3.6,4.3M699.3,775.4l5.6,2.8M779.4,817.2l3.0,-2.3M668.6,823.3l4.8,-1.9M748.7,813.5l3.9,-4.0M767.6,788.7l3.5,1.3M763.3,742.5l3.7,-2.5M747.8,719.0l4.9,-3.9M661.6,784.2l-0.3,4.5M781.3,742.8l2.9,-0.6M766.8,841.4l-0.0,-6.0M694.1,777.8l2.1,3.7M654.8,754.1l4.2,1.2M751.4,834.6l1.6,-2.5M676.6,834.4l2.5,2.0M762.2,756.9l4.4,-2.7M777.5,751.0l2.6,-1.0M702.2,794.8l0.6,4.2M744.4,807.0l1.1,-2.9M643.2,755.3l3.0,-1.1M772.6,831.8l5.7,-1.5M779.2,820.7l5.3,-2.6M734.4,718.7l0.9,-4.5M712.4,840.9l3.4,-0.9M786.8,737.6l4.7,-0.7M722.2,723.6l1.0,-4.7M729.8,752.1l3.5,-0.1M642.9,749.5l4.6,1.4M695.4,768.8l2.2,4.4M683.1,741.7l4.9,3.0M709.5,763.6l1.9,2.5M697.3,752.8l5.7,1.5M751.3,727.2l3.2,-3.2M667.2,782.9l-0.7,3.0M695.4,793.6l-0.3,4.8M618.0,785.1l4.6,-1.3M730.6,759.3l5.1,1.8M787.0,846.1l2.4,-1.9M772.7,788.6l2.7,0.7M754.3,766.5l6.0,-2.3M781.3,790.0l4.7,0.2M757.0,850.1l0.0,-3.8M685.9,769.9l0.8,3.1M745.0,741.4l3.0,-3.9M786.8,772.1l2.0,3.4M636.8,737.7l3.5,-2.2M750.4,805.4l2.7,-0.9M670.6,791.2l0.3,2.5M630.0,806.9l5.7,-0.2M624.6,817.4l2.6,-0.9M766.1,780.8l5.8,-0.1M686.1,792.3l0.3,3.8M643.4,758.7l5.7,1.0M750.5,756.8l3.8,0.8M780.9,779.3l5.1,2.4M690.8,746.3l4.3,1.1M647.2,764.6l3.8,0.6M641.4,829.4l4.6,0.3M679.1,801.9l0.5,3.9M697.9,833.5l4.2,0.8M684.5,798.3l1.9,4.8M676.4,719.5l2.6,-0.9M620.2,770.0l5.4,-0.1M692.2,815.5l1.4,3.4M645.1,828.3l3.4,-2.0M770.2,725.3l3.0,-5.1M631.7,835.5l1.9,-3.1M681.9,798.4l2.6,5.0M762.9,746.7l0.3,-3.2M756.6,749.7l1.9,-4.5M700.8,789.2l1.7,3.1M784.7,801.9l5.8,1.9M652.4,760.2l4.4,-1.0M624.6,777.0l5.2,-1.9M769.7,729.1l-1.0,-5.3M722.1,739.5l4.5,-0.2M686.3,784.7l3.1,4.9M690.3,742.6l4.8,1.2M669.3,734.2l6.1,0.5M713.6,752.8l6.2,-1.1M715.7,718.9l2.6,-2.5M713.6,806.1l6.3,0.4M758.2,741.1l2.1,-4.9M687.9,805.2l1.8,2.1M700.0,775.9l0.0,6.4M745.5,847.1l1.3,-2.6M726.2,795.7l2.9,-2.9M626.8,802.5l5.7,1.4M677.7,801.8l-2.2,6.0M613.9,803.8l4.3,4.5M703.5,727.8l3.5,-1.6M621.6,747.0l1.4,-5.6M695.7,788.9l4.2,3.7M741.3,719.7l-0.5,-5.0M616.0,785.2l2.6,2.7M778.9,740.4l3.5,-4.0M748.7,722.3l1.6,-6.3M640.9,779.3l2.3,5.6M642.1,829.7l3.6,-1.4M719.8,736.9l-0.2,-3.6M756.7,732.3l1.3,-5.6M726.5,733.5l3.1,-5.1M728.3,803.9l4.1,3.4M680.2,727.3l4.8,2.9M650.8,823.5l4.1,-1.3M661.8,785.7l3.7,4.8M712.5,769.3l3.2,-0.4M711.9,836.9l-1.1,-4.6M653.6,742.2l2.8,-0.4M630.1,758.4l3.2,-3.5M690.1,756.7l4.5,3.5M678.5,779.0l-1.9,5.0M676.8,821.5l2.8,3.9M631.6,722.5l3.2,-3.8M712.0,804.9l5.2,3.2M765.6,845.6l0.7,-3.7M622.6,822.2l4.4,-3.1M736.5,807.6l2.9,-0.6M739.6,750.0l0.1,-3.9M675.5,829.5l4.8,1.8M760.8,723.8l1.8,-3.4M727.9,823.5l2.7,-4.3M702.2,789.5l3.3,2.2M688.8,731.4l4.2,-0.7M735.4,718.1l-1.6,-5.9M633.7,839.7l6.0,1.3M724.7,745.6l2.8,-3.8M629.0,769.9l3.0,0.4M733.2,764.2l3.0,0.8M742.6,816.3l0.5,-3.6M759.7,725.1l0.5,-5.7M781.2,792.4l1.6,5.2M781.9,843.2l3.9,-4.0M705.0,727.9l6.1,0.5M680.8,738.2l6.0,1.2M636.2,717.0l5.1,-3.7M666.5,801.2l4.5,4.2M742.8,762.4l5.8,-0.7M749.7,834.0l-0.2,-6.1M694.3,766.0l2.4,4.3M736.5,787.2l0.8,3.1M716.2,761.2l2.0,1.8M653.1,772.5l2.3,4.0M683.7,724.3l3.7,0.5M651.6,832.8l4.2,4.4M697.2,747.2l4.9,-1.3M651.3,841.5l4.9,-0.6M629.0,815.7l4.2,1.4M736.4,790.2l3.4,-0.0M733.5,729.5l0.7,-4.0M739.0,735.8l-0.7,-3.3M666.7,786.6l-0.7,5.9M704.7,832.0l5.4,-2.7M689.7,734.9l4.7,0.5M689.8,717.3l4.1,-0.4M668.8,844.7l2.5,0.8M664.6,720.7l3.6,-1.2M644.9,759.3l4.8,3.3M773.7,788.1l6.3,0.3M615.1,785.3l4.5,-1.0M702.6,842.4l2.5,-1.5M717.9,719.3l2.4,-3.3M751.2,779.8l3.5,1.7M627.1,777.8l4.1,0.5M740.1,795.9l4.1,1.0M630.1,817.6l2.7,-2.6M694.6,806.3l4.6,2.3M638.1,839.8l4.8,-4.3M788.4,782.0l5.0,2.3M651.4,803.1l1.4,3.6M679.1,726.2l4.7,0.1M706.9,834.1l3.9,-3.8M744.4,843.0l2.6,-5.4M769.0,742.5l2.2,-2.9M748.6,836.6l5.5,-2.4M691.8,747.8l2.7,2.2M653.9,832.0l5.5,-0.1M758.2,752.5l3.2,-5.2M721.6,725.7l0.9,-3.2M723.9,774.6l5.8,2.4M692.0,793.8l1.6,3.4M773.9,805.4l5.8,0.5M623.1,823.8l2.9,-2.6M705.9,831.2l5.1,1.0M735.9,747.9l3.3,-4.8M720.8,740.3l1.7,-3.7M730.6,804.4l5.4,-0.8M627.5,787.4l4.8,2.9M647.7,720.3l4.7,2.7M745.3,826.1l1.7,-4.0M775.3,846.2l1.5,-2.3M643.3,791.4l5.6,-0.8M617.3,837.5l2.9,-4.6M739.0,757.2l3.8,-2.9M643.4,774.7l2.4,3.8M670.0,809.3l3.7,2.5M680.4,788.7l3.3,1.6M644.9,749.5l2.4,-2.6M707.2,733.3l2.5,-0.4M680.7,837.8l2.8,2.2M716.7,808.1l4.3,-1.6M646.7,815.9l1.6,-2.6M688.3,724.4l4.9,0.5M771.0,727.0l5.6,-2.9M668.2,755.7l1.1,2.3M677.2,813.8l3.0,3.5M654.0,847.1l3.4,1.1M680.0,727.0l5.1,-1.9M725.1,810.2l3.9,-2.3M677.3,755.8l2.7,0.8M718.1,793.3l4.5,4.6M624.3,782.2l4.4,-0.7M717.0,835.0l1.3,-5.8M786.9,733.1l4.8,-3.3M681.8,813.5l1.8,2.0M771.6,788.8l5.8,0.6M634.2,788.3l5.0,0.9M657.7,801.0l2.1,2.3M735.3,794.2l5.6,-0.8M611.8,729.8l-1.5,-3.8M684.6,783.3l2.3,2.8M662.3,761.2l3.9,2.2M775.4,744.5l4.1,-0.9M718.5,806.2l4.6,-3.6M621.6,794.0l5.6,-2.2M660.5,806.7l3.1,4.6M761.3,736.0l1.7,-5.4M613.4,772.3l5.6,-2.3M617.4,754.3l4.5,-4.5M664.6,783.0l2.5,3.3M717.8,730.4l0.7,-2.9M650.7,723.1l3.8,-2.3M654.2,786.9l3.1,1.6M714.3,805.0l4.6,-0.9M613.5,717.7l0.6,-3.5M745.9,836.6l4.6,-2.8M626.2,798.1l2.3,1.6M714.3,749.6l1.8,-4.2M683.7,835.3l4.9,2.2M756.1,755.4l6.0,-2.5M725.5,816.4l4.4,1.6M626.0,738.9l2.8,-2.1M789.7,757.3l4.2,0.1M695.9,719.3l2.6,-0.9M710.6,740.7l4.2,-2.0M656.8,804.3l3.6,4.2M783.6,836.1l3.8,-5.2M701.0,783.0l3.6,1.6M669.9,727.0l6.4,0.9M653.1,750.4l3.3,-1.5M668.1,738.3l2.8,-0.1M671.9,791.6l1.8,2.1M723.7,838.2l-0.1,-2.7M620.2,819.6l2.7,-5.0M641.8,748.6l3.4,-0.5M768.3,819.8l3.6,1.0M711.1,828.9l4.6,-1.7M790.4,739.6l4.3,1.0M614.4,742.2l3.1,-1.8M663.3,730.3l2.5,-4.4M685.1,823.4l5.5,1.4M627.1,750.1l5.8,0.1M775.0,843.8l3.1,-1.7M666.8,731.5l4.8,-0.6M675.1,729.5l4.0,0.5M690.5,806.9l5.4,2.6M780.7,769.4l3.1,3.8M685.6,720.4l3.1,-2.6M788.0,754.8l2.2,5.2M776.0,786.0l5.7,1.8M715.9,820.0l5.4,-0.4M633.4,766.4l2.6,0.5M776.5,831.0l3.5,2.8M676.9,755.3l4.0,1.8M668.9,814.5l3.4,3.1M632.7,759.2l1.6,2.8M718.4,813.9l2.5,-1.7M717.4,723.9l3.7,-0.1M723.8,807.8l2.4,-3.4M715.9,732.7l4.8,-2.3M679.8,795.4l3.7,4.4M718.8,779.6l2.4,0.9M625.4,823.2l3.2,-4.8M621.2,767.8l3.3,-0.1M783.5,769.8l3.9,1.9M625.5,794.4l5.7,-0.6M726.0,788.1l2.6,0.6M729.0,819.1l1.6,-4.7M709.9,849.2l2.5,-3.8M694.0,771.0l-0.5,2.8M734.3,793.2l6.4,0.8M692.2,757.1l2.4,-1.5M743.5,798.7l3.4,-0.6M640.0,732.1l-0.8,-3.0M771.6,743.0l1.7,-1.9M724.6,800.9l2.1,1.4M631.3,786.6l2.2,2.2M631.4,736.6l1.7,-2.8M619.3,815.1l2.4,-1.6M727.8,769.5l2.9,-2.6M730.4,770.0l6.4,0.3M774.3,811.7l5.9,-0.1M728.8,760.6l2.2,-2.2M636.5,835.7l3.0,-3.4M732.4,750.9l3.4,-2.7M777.6,838.8l4.5,-2.1M761.5,782.0l4.5,-0.3M638.8,790.1l3.6,-0.6M757.8,825.8l2.0,-2.6M613.9,739.4l0.1,-3.3M687.4,717.1l4.4,0.8M729.9,821.1l5.0,-3.3M616.3,783.9l2.4,-1.7M642.3,824.4l4.8,-1.0M657.6,785.2l0.7,3.2M680.5,840.3l5.5,-2.4M721.3,790.0l2.2,2.7M748.9,786.7l4.9,2.9M677.2,773.9l1.4,4.5M705.9,743.6l5.3,3.3M652.7,756.6l1.6,2.2M749.6,733.9l3.8,-4.6M717.9,779.0l1.9,2.7M685.2,734.3l2.3,-1.8M771.6,825.1l2.9,-3.8M722.5,837.4l5.9,0.8M612.0,813.0l3.1,-0.5M762.7,732.8l3.6,-5.1M623.0,728.7l2.2,-3.4M695.5,836.0l3.3,-1.9M754.5,802.8l2.1,-5.6M720.1,737.6l5.3,-3.2M651.9,846.2l1.7,-4.8M737.5,826.9l1.2,-4.5M687.6,831.7l0.0,3.8M716.3,717.8l2.4,-1.1M644.2,720.5l4.5,-2.8M710.1,787.8l2.6,1.6M622.5,780.8l4.7,3.3M732.8,729.2l3.9,-4.8M699.0,732.4l4.3,4.0M684.1,839.8l2.7,0.2M747.3,780.0l5.6,1.3M719.4,742.9l2.1,-6.0M645.3,828.0l1.5,-4.1M710.6,831.6l5.5,-0.4M751.0,789.0l6.0,-1.7M654.4,776.1l2.8,1.3M643.6,723.3l3.3,-2.8M620.0,837.7l1.5,-2.1M653.8,725.7l4.7,-3.4M620.3,767.9l3.7,-2.2M703.9,773.5l0.2,5.9M624.0,742.1l2.2,-4.7M629.9,814.2l3.4,-1.6M698.2,780.2l-0.5,2.6M686.4,807.4l-1.2,2.8M738.0,808.7l3.4,2.5M672.4,733.2l3.8,1.8M655.2,817.1l1.4,2.2M680.3,724.3l4.6,0.7M726.3,766.2l5.4,-0.0M763.2,785.6l2.8,-0.8M783.5,822.6l3.6,3.2M661.4,722.7l4.7,1.8M687.4,819.8l4.9,-0.5M718.7,793.4l2.6,0.6M757.3,724.3l-0.3,-3.5M776.6,838.6l1.4,-2.8M632.2,826.6l5.5,-1.1M765.8,816.9l3.8,-2.1M751.6,778.0l2.8,0.5M780.9,834.6l1.4,-2.9M651.7,779.9l5.3,0.9M651.2,780.8l3.1,-0.2M661.6,771.4l2.3,1.8M750.2,740.6l0.4,-3.5M647.9,728.6l4.7,-4.2M747.8,752.6l3.5,-1.4M718.5,721.5l2.5,-4.4M678.7,837.9l1.8,3.3M706.8,728.8l2.6,-0.7M784.0,831.8l3.8,-1.3M644.8,847.6l5.5,-2.9M656.4,838.4l4.3,-0.9M767.9,728.0l1.2,-4.0M752.2,776.6l6.1,-2.3M638.8,805.2l4.5,3.3M697.1,736.3l2.5,-0.5M688.3,837.8l2.9,0.6M752.7,849.1l-2.8,-4.0M631.1,782.0l5.8,1.6M699.5,762.2l3.9,4.8M774.2,782.7l1.4,2.4M677.5,814.7l3.5,2.6M764.3,744.1l3.9,-4.7M754.3,816.8l3.1,-0.6M758.1,770.7l2.5,-1.2M756.1,731.2l3.5,0.6M665.7,844.9l4.2,-2.0M744.2,742.9l1.3,-4.9M665.6,754.5l3.8,1.5M689.1,777.7l2.6,0.6M733.9,762.6l3.2,-0.3M630.8,746.6l5.2,-0.9M776.1,809.8l3.0,-3.4M762.9,823.3l3.8,1.4M717.8,808.3l5.2,0.6M703.0,751.4l3.2,2.8M712.6,772.7l4.0,3.0M755.3,755.6l3.7,-2.3M724.3,834.7l2.4,-1.1M744.2,805.1l2.2,2.1M790.4,778.5l3.5,-0.6M680.1,751.3l2.4,1.6M617.9,833.5l1.0,-6.0M711.1,720.5l4.2,-3.7M635.6,756.5l5.6,0.6M685.4,744.7l2.1,3.5M720.2,729.7l-1.1,-3.8M624.2,806.4l4.7,2.2M614.4,808.0l2.8,-2.9M679.5,812.8l1.7,2.7M733.0,800.5l2.9,3.3M684.7,727.5l2.9,-1.3M614.5,770.8l4.8,-0.8M672.3,833.7l4.4,-2.5M684.8,817.1l3.5,1.3M650.5,761.1l2.8,1.1M745.7,780.9l3.3,-1.2M767.5,837.3l4.8,-2.8M756.1,731.1l2.8,-2.7M700.6,721.8l3.9,0.1M661.1,761.4l4.5,2.6M754.0,787.7l3.4,0.3M715.5,834.6l3.4,3.2M687.3,820.4l2.8,1.9M678.4,847.5l3.4,-0.3M678.4,824.9l2.6,1.0M762.2,739.5l1.5,-2.5M643.4,727.0l5.4,-3.0M726.2,829.1l1.9,-3.2M771.3,721.7l3.4,-5.5M746.5,794.9l5.6,-1.2M724.0,799.8l4.9,-0.3M665.3,734.4l3.1,1.3M644.6,817.4l2.6,1.2M685.7,718.9l4.9,-1.7M661.0,844.5l3.4,-2.0M649.9,767.2l-1.3,4.8M677.8,722.1l3.5,1.3M776.6,806.3l4.6,2.3M692.3,733.5l4.8,-3.3M630.9,820.7l4.3,-2.5M674.0,791.5l2.2,5.8M768.8,789.7l2.8,-2.2M658.8,777.2l1.4,2.3M723.1,820.0l2.1,-2.5M748.7,755.1l5.1,-1.9M647.0,758.2l3.9,4.4M715.0,765.8l2.3,1.7M780.2,817.2l3.2,-1.5M660.0,769.6l-0.6,3.2M764.7,831.6l1.3,-3.2M669.3,741.8l5.9,1.3M668.1,781.4l2.1,3.2M747.5,847.5l-1.9,-6.1M782.2,739.6l5.8,2.2M726.3,728.9l1.4,-2.1M733.0,744.3l3.6,-1.4M638.1,805.9l3.3,-1.8M690.7,821.2l3.4,2.5M708.7,792.3l2.5,3.7M718.5,777.2l2.9,2.7M742.0,846.1l1.1,-4.5M681.3,839.3l5.2,1.6M763.4,739.6l2.9,-3.4M616.2,748.5l1.7,-2.0M738.0,842.7l0.4,-2.6M676.8,819.7l1.3,3.3M622.3,731.2l2.8,-2.2M656.0,764.6l4.3,2.8M615.4,734.7l1.2,-5.4M718.8,778.3l5.1,-0.7M749.0,727.1l3.0,-4.3M673.7,810.1l4.2,-0.0M645.4,763.4l2.5,1.2M678.7,776.6l1.0,4.3M636.5,793.4l3.4,3.2M780.2,746.4l3.9,-1.8M613.0,780.5l2.8,2.7M758.8,851.0l-1.1,-5.4M652.6,792.9l4.4,4.3M772.2,783.5l5.8,2.9M628.7,787.3l2.2,2.3M705.7,813.4l2.3,4.7M786.1,826.8l2.8,-4.8M634.2,750.7l3.5,1.5M767.5,737.7l4.5,-4.5M790.0,836.9l3.6,-2.1M711.5,790.4l2.6,1.7M700.4,778.8l0.7,3.0M631.8,833.2l4.7,0.1M664.8,756.7l2.7,0.4M720.8,796.4l5.3,-1.8M735.2,729.8l3.4,-1.8M763.5,794.2l4.3,-3.0M766.9,841.3l1.2,-2.9M682.5,809.8l3.7,5.2M671.4,743.8l1.9,1.7M682.8,717.9l4.2,-2.7M723.4,772.1l2.7,-0.0M696.7,780.5l1.1,3.5M629.8,846.4l-0.7,-6.3M616.5,729.2l0.7,-3.7M625.8,729.3l1.9,-1.9M710.4,818.5l3.8,3.1M699.0,841.0l5.6,-1.4M742.4,793.9l3.2,-1.9M701.0,851.8l4.4,-0.9M760.8,821.7l2.4,-3.1M631.3,733.1l0.6,-3.2M669.3,744.0l1.3,4.5M658.4,742.5l4.8,2.6M740.6,796.6l4.9,3.2M653.9,825.9l3.4,4.4M656.0,802.1l2.9,1.9M698.8,804.7l4.5,0.4M649.4,802.3l5.1,1.7M717.4,811.5l4.9,2.5M681.0,841.3l3.7,1.1M711.6,798.5l5.6,2.6M683.1,781.8l-0.5,3.1M741.2,727.1l1.1,-3.8M668.2,753.3l3.1,2.4M661.8,838.6l1.6,5.7M647.5,740.0l3.1,-3.2M747.3,765.7l2.7,-2.6M687.1,745.8l4.4,-0.8M761.0,806.3l3.3,-0.7M742.6,812.0l3.2,-3.9M625.9,796.2l2.6,-1.3M690.2,818.8l1.4,3.6M692.1,851.1l5.0,2.5M665.4,736.2l5.1,4.0M687.8,719.8l1.6,-2.0M715.4,822.2l3.6,-2.6M750.6,844.4l-2.0,-5.7M712.6,766.9l0.1,5.5M670.1,837.4l5.1,0.1M715.2,755.9l3.0,-2.2M711.7,845.1l2.3,-5.7M631.1,746.6l3.6,-4.7M651.5,775.9l3.7,1.7M686.6,786.6l4.3,3.0M715.3,771.8l1.6,3.2M733.8,781.7l3.3,-0.4M715.4,787.0l4.2,2.4M783.2,760.6l0.0,6.1M612.7,845.1l-4.3,-4.0M776.7,744.3l4.9,-0.2M706.9,788.1l4.6,1.5M719.6,801.9l3.1,2.2M656.1,786.3l2.5,1.0M686.4,740.5l2.1,2.2M768.2,783.2l3.5,1.4M735.4,737.2l5.2,-2.5M780.8,768.5l2.5,-1.4M657.9,729.8l2.7,3.0M695.4,753.7l4.1,-2.2M736.2,723.3l-1.3,-5.5M747.5,775.0l4.3,-0.7M703.6,806.6l2.6,1.4M614.6,756.5l4.8,-3.8M619.0,845.5l2.8,-2.4M789.3,826.6l3.1,0.6M663.6,780.6l-0.9,3.9M628.3,781.7l2.0,4.7M653.2,764.6l3.3,1.3M687.1,791.0l1.4,6.0M738.1,764.8l3.9,0.3M667.7,838.4l1.5,3.5M701.6,820.0l2.7,0.1M672.2,817.1l2.8,2.9M776.8,802.4l4.6,2.0M771.3,738.4l2.0,-2.1M785.3,840.7l2.4,-2.1M612.0,769.0l2.0,5.8M772.0,801.6l5.4,1.7M778.8,720.1l2.7,-3.1M705.6,724.2l3.8,-4.3M727.8,782.2l4.6,-2.1M641.5,811.5l1.7,2.2M615.0,804.3l3.0,1.5M775.6,817.2l3.3,-1.8M646.5,760.3l2.1,2.5M638.8,729.9l3.2,-1.3M642.0,775.4l6.1,-0.5M681.7,795.2l-0.2,6.3M773.4,733.7l2.7,-1.4M768.0,743.9l3.7,-5.0M640.4,831.6l5.4,-0.2M693.6,738.5l2.8,-1.8M657.5,729.4l2.7,-2.8M788.6,788.5l2.5,0.1M756.2,818.8l2.8,-0.6M637.2,723.2l6.2,-1.6M753.4,794.0l4.5,3.0M746.1,829.1l2.0,-3.8M621.3,738.4l3.7,-1.8M686.4,739.2l4.7,-0.7M738.5,748.3l2.1,-5.7M780.0,781.4l5.8,1.0M668.7,763.5l1.6,2.5M711.9,819.3l3.4,1.1M740.6,772.0l6.3,-0.0M737.9,735.6l3.1,-2.4M633.0,801.4l4.0,4.6M685.2,844.2l4.1,-2.1M653.7,765.1l4.1,-1.3M685.1,844.8l2.7,3.4M787.6,817.1l2.7,1.6M767.5,785.5l5.4,1.1M647.4,769.8l1.2,2.4M615.6,809.7l4.0,-0.5M760.4,825.0l-1.0,-2.5M748.5,778.7l1.4,2.5M758.6,735.4l5.1,-0.3M774.1,763.1l4.1,-0.0M686.4,741.6l2.8,3.4M661.2,804.1l6.2,0.8M643.9,745.8l3.8,2.1M773.5,755.6l5.1,-3.4M618.9,781.2l3.2,1.3M742.3,830.6l3.9,-3.3M624.3,803.5l3.8,0.3M661.4,788.4l2.0,2.1M769.0,742.6l4.2,1.9M641.4,722.2l4.2,-0.1M772.3,795.3l2.3,2.7M669.0,825.0l3.0,1.0M682.4,842.4l6.4,-0.2M748.1,796.7l3.9,0.2M775.3,791.1l2.6,5.6M746.4,810.4l5.3,-2.8M697.2,786.7l2.2,4.2M635.2,808.7l3.7,-2.9M695.9,844.9l3.1,0.5M637.4,792.3l-0.2,5.6M672.4,833.9l2.9,3.2M730.7,792.7l4.3,-3.0M720.7,777.5l2.9,0.2M690.3,769.6l4.6,3.0M724.6,785.0l5.1,0.2M650.2,734.7l5.4,2.4M698.9,807.8l3.5,-1.2M717.3,719.1l2.8,-1.9M645.9,775.3l4.1,1.5M762.2,791.0l3.4,-2.3M716.9,755.1l3.6,2.6M765.1,832.9l4.1,-2.8M706.4,747.0l5.6,-2.1M738.9,765.7l2.3,3.0M626.2,767.8l-1.1,-6.1M619.5,755.0l3.2,-0.3M772.8,833.2l5.4,-0.8M700.5,847.8l2.6,-1.7M690.0,825.4l3.6,-1.4M654.1,785.5l-0.6,4.9M654.9,818.4l5.6,-0.2M618.9,800.7l3.7,1.6M704.9,742.9l3.3,-1.2M755.5,799.6l2.6,1.2M680.2,750.0l3.5,4.5M622.7,786.6l6.2,0.5M692.1,850.0l5.4,-0.4M716.2,763.3l1.5,2.1M678.0,823.3l2.6,0.9M651.7,824.6l3.6,-0.4M788.0,840.5l3.0,-2.0M747.9,779.3l5.8,-2.4M768.9,767.6l0.6,-5.1M756.4,748.6l2.4,-2.4M721.1,822.8l3.4,2.7M704.8,837.3l2.0,-2.1M755.0,757.4l3.5,-1.5M775.2,766.0l3.7,1.7M663.3,803.1l3.7,4.6M627.8,815.8l2.6,-1.4M743.7,790.4l3.9,1.2M623.3,762.2l6.1,-0.8M611.8,805.6l4.9,-0.8M664.2,719.8l4.5,2.5M617.1,779.1l5.0,-0.8M636.8,763.1l4.1,3.9M694.1,840.7l2.7,-2.0M705.1,723.6l1.8,-2.0M731.1,748.9l4.4,-3.5M790.9,827.8l3.3,0.1M670.2,736.5l6.0,1.6M637.7,767.5l4.1,3.3M619.6,728.2l1.8,-5.6M784.9,780.7l3.3,1.9M725.2,781.0l4.2,0.5M754.9,851.6l0.7,-3.0M742.5,816.5l2.6,-4.8M640.4,759.6l4.3,0.4M657.5,733.6l2.7,-2.0M669.4,777.6l-1.3,5.1M726.0,805.7l3.7,-3.0M629.5,778.4l5.3,1.2M679.2,791.4l-0.8,4.3M702.8,823.6l5.2,-2.2M688.2,826.0l3.2,4.1M756.7,749.7l3.9,-4.3M654.5,735.4l5.1,3.6M626.2,810.6l4.0,1.0M644.9,780.2l0.1,4.7M628.9,791.6l4.2,1.0M730.4,741.9l3.3,-4.1M726.2,764.1l5.5,-1.7M665.2,723.1l3.4,0.2M666.5,788.9l2.5,3.2M783.4,844.7l2.9,-0.7M737.2,804.7l4.1,1.3M750.3,766.6l4.5,-4.4M774.9,803.6l4.2,1.2M723.0,838.0l5.1,-0.6M701.2,832.8l1.1,-2.3M676.3,769.8l1.8,3.4M632.4,764.4l3.1,-0.9M650.5,829.3l5.9,0.3M741.7,754.5l3.8,-5.1M685.0,787.5l1.4,4.0M614.9,778.7l2.8,-4.1M729.9,760.2l2.4,-4.8M785.8,779.1l1.1,2.3M709.9,733.0l2.4,-0.8M754.9,774.3l4.0,-0.4M786.4,746.7l4.6,0.8M771.6,838.8l1.0,-3.5M718.4,734.6l4.3,3.2M678.0,785.2l4.4,4.1M717.6,719.4l5.0,-1.9M628.8,761.2l3.4,2.1M673.5,777.8l-1.2,3.2M756.2,794.2l5.1,-2.2M632.2,808.1l5.9,-0.5M656.5,745.9l5.5,1.8M656.6,769.6l6.3,0.5M672.3,753.3l2.7,3.8M741.9,842.0l0.9,-5.8M772.5,760.4l3.5,1.6M739.6,745.5l-1.5,-3.2M719.6,790.0l3.7,0.7M778.7,755.8l3.5,-0.8M643.4,829.1l3.5,-4.0M773.5,759.3l3.1,-4.3M624.5,737.9l3.0,-3.7M757.5,830.4l-0.1,-4.6M695.9,783.4l1.6,3.1M627.6,803.4l5.7,-1.2M673.8,774.8l3.1,1.5M753.8,756.6l4.5,-0.6M754.6,723.2l-2.8,-4.1M789.5,761.1l2.2,4.2M770.7,844.2l1.8,-2.5M612.7,728.3l2.3,-3.3M704.7,808.5l4.5,3.8M719.4,812.9l2.5,2.5M724.8,802.4l2.5,-1.2M781.0,790.0l0.4,3.0M676.6,786.9l1.1,5.7M636.9,824.1l4.3,-0.7M773.4,847.6l3.9,-0.0M770.6,757.5l2.7,-0.7M787.6,742.3l5.2,2.5M770.6,759.1l2.0,-4.0M695.6,802.7l1.3,5.5M615.3,784.5l3.3,1.5M734.0,732.2l2.6,-5.9M688.9,739.4l4.7,-2.0M781.7,829.8l3.8,-1.7M617.9,763.4l5.8,1.4M725.5,832.9l5.4,-1.6M630.9,829.1l5.1,-3.7M699.4,761.4l3.8,1.6M706.9,836.7l2.8,1.0M697.1,789.0l3.2,1.7M655.2,834.9l5.1,-0.8M770.6,822.1l1.2,-6.3M784.2,720.0l5.1,-2.0M687.8,758.0l5.0,2.2M723.2,811.8l3.9,-2.3M733.7,777.9l5.2,3.6M692.1,778.8l-2.3,4.9M763.6,837.0l4.9,-1.8M776.2,726.0l2.2,-2.2M622.0,719.9l3.5,-2.6M668.7,752.0l4.6,1.6M716.2,812.6l2.7,-1.4M635.7,850.2l1.9,-2.5M718.3,717.4l3.4,-1.4M764.4,825.4l4.2,-4.2M750.6,813.5l3.2,-0.7M735.4,752.4l2.2,-5.7M699.5,730.3l2.6,-0.0M696.6,773.3l0.5,4.1M623.0,819.4l4.0,-4.9M772.0,820.6l1.8,-2.1M674.5,798.6l2.7,2.0M764.0,836.3l2.6,-1.6M689.6,737.8l4.9,0.2M697.1,822.5l1.6,-3.7M788.6,830.0l5.2,-2.5M696.7,718.7l4.6,1.3M617.7,728.5l2.7,-2.8M773.6,833.6l3.2,-2.9M769.8,743.1l4.3,0.4M737.2,768.1l3.6,-0.1M690.2,849.1l2.8,2.8M703.4,778.3l3.1,5.4M741.4,767.1l6.0,0.1M730.1,806.0l6.1,-0.8M768.8,728.5l1.4,-2.2M622.3,730.1l1.2,-5.2M613.4,785.3l5.9,0.7M721.2,791.1l3.4,-0.4M615.6,824.1l4.7,-2.1M688.0,728.7l6.3,-0.9M724.7,805.5l3.4,-1.6M733.8,766.3l4.1,1.3M767.8,735.9l5.7,-3.0M679.2,798.2l-1.0,2.8M738.7,718.0l1.7,-2.7M659.6,800.5l4.9,2.4M707.6,756.8l4.8,3.8M635.8,732.7l4.0,-4.4M612.0,808.7l3.8,-0.8M750.8,825.1l4.9,-1.3M703.7,823.3l4.3,-1.7M630.4,774.8l5.2,1.1M776.2,770.1l3.0,2.4M658.7,795.2l3.1,2.0M710.9,824.4l2.3,2.2M774.0,773.1l3.4,0.1M691.5,729.6l5.7,2.2M694.6,802.9l4.2,0.6M762.2,777.4l6.2,0.0M761.7,752.1l0.2,-2.9M671.3,829.4l3.0,-0.7M735.6,747.7l5.4,-2.7M740.5,746.4l6.2,0.7M682.6,798.8l0.5,2.9M702.5,730.9l3.6,0.7M631.6,738.3l0.9,-3.4M684.1,818.8l4.2,2.7M755.2,820.0l2.2,-6.1M746.7,832.4l6.2,-1.8M632.4,730.2l1.4,-2.3M782.5,763.2l3.2,-0.4M613.9,789.3l4.0,1.7M721.9,801.6l5.8,1.3M747.4,777.3l5.5,0.1M705.2,720.7l-0.5,-5.4M671.8,723.1l4.7,-4.4M661.9,739.1l4.8,-3.0M741.6,839.5l-0.5,-5.7M750.8,825.3l-0.2,-2.7M623.2,733.3l-0.4,-2.5M696.1,772.7l0.1,4.8M735.6,815.6l4.7,-1.1M788.7,842.4l1.5,-3.8M633.0,730.6l1.0,-3.3M694.4,762.3l-1.1,3.2M663.9,780.1l5.2,3.2M776.2,735.2l1.9,-5.3M674.2,737.3l4.4,1.5M635.9,767.2l3.7,2.8M774.6,817.4l3.1,-0.8M631.8,770.1l2.8,3.1M695.6,718.6l3.5,-0.1M689.1,751.2l1.4,4.7M736.3,829.7l5.4,-2.8M618.3,807.0l3.3,-0.2M746.9,761.2l3.7,-2.7M669.2,765.6l4.2,3.2M660.5,724.5l3.9,1.3M786.3,801.9l4.1,2.2M709.4,832.6l4.2,-0.0M719.1,800.8l3.3,2.4M644.9,765.2l3.2,3.4M714.5,840.0l4.2,1.4M641.6,737.4l4.1,1.0M659.4,787.1l1.6,2.5M668.5,795.5l5.4,2.5M648.9,847.6l3.2,1.1M779.1,828.3l5.6,0.7M664.0,738.9l5.3,-2.6M678.2,777.0l6.1,2.2M771.5,731.2l5.8,-2.6M631.1,776.8l5.9,0.4M682.9,822.6l3.8,-1.6M755.3,721.0l2.7,-5.1M783.2,830.1l4.3,-4.2M667.4,750.4l1.9,2.2M679.1,843.3l2.4,-0.9M658.1,733.0l3.8,-1.3M633.5,790.8l5.8,-0.0M684.7,835.7l3.1,3.5M734.6,771.8l2.5,-2.4M614.8,826.9l3.3,-1.2M735.4,717.1l5.3,-1.8M665.8,722.1l3.1,-0.1M708.6,782.5l4.7,-1.7M644.2,836.6l5.8,2.6M678.4,804.3l2.9,4.3M762.2,766.9l4.0,0.1M735.1,835.7l-1.1,-2.9M624.8,800.5l3.5,0.3M653.0,726.9l2.9,-3.3M616.2,789.2l3.9,-0.1M713.5,747.8l3.2,-1.4M756.2,721.4l1.9,-3.3M643.1,828.5l5.4,0.6M701.2,769.0l2.2,1.7M787.8,804.6l1.9,2.6M769.6,836.9l1.7,-2.7M726.1,832.1l4.1,-3.1M636.3,759.2l4.7,0.9M740.3,760.8l3.4,-0.8M787.3,753.5l2.5,0.6M687.1,802.0l-0.8,4.8M754.5,745.1l1.7,-2.5M682.7,778.9l2.8,5.4M701.9,742.6l5.3,-0.4M782.3,805.7l3.3,1.4M762.6,725.2l1.2,-6.2M689.3,806.9l-2.6,5.8M763.4,804.7l3.1,-1.2M755.8,729.2l1.4,-5.5M624.1,754.4l0.7,-5.4M697.5,845.6l4.6,-1.7M636.7,751.4l3.4,-5.1M717.3,828.2l4.1,3.9M711.2,768.1l3.3,0.5M662.1,839.8l2.8,-0.2M641.4,830.3l2.5,-0.8M719.0,720.5l1.1,-2.4M680.5,836.1l5.0,-1.8M656.8,723.0l2.9,-4.0M749.8,768.8l2.8,0.9M728.9,719.2l-0.2,-4.4M784.2,727.3l5.1,-2.6M660.9,787.9l3.8,4.3M758.7,835.6l1.3,-3.8M754.3,849.0l4.5,-4.0M633.6,799.7l1.9,4.9M761.0,781.0l5.1,-1.4M750.5,789.8l3.1,0.3M642.1,741.4l2.1,-1.7M760.8,847.3l2.0,-5.7M663.5,815.6l3.9,-0.4M783.0,806.3l6.3,1.3M618.1,836.0l1.6,-2.5M742.4,816.1l4.6,-3.9M738.3,762.2l3.8,-4.9M704.3,851.7l6.1,-0.4M687.8,730.2l1.6,2.1M622.5,769.5l5.2,1.0M632.6,754.6l3.1,1.7M716.7,841.9l2.7,-4.2M764.8,793.9l1.8,1.8M644.1,767.7l1.1,5.7M639.1,750.0l3.1,-0.5M739.8,845.0l1.1,-4.7M661.7,779.5l4.5,3.3M623.9,807.6l4.8,-0.8M643.0,800.4l1.6,2.0M643.4,743.4l4.5,-0.7M661.7,724.8l3.3,-1.4M697.6,792.1l1.3,5.6M725.2,769.9l4.6,0.5M771.4,771.6l4.1,3.1M674.5,731.8l3.8,-0.5M790.8,828.7l2.9,-1.3M777.3,798.5l2.2,4.5M790.9,718.2l1.8,-2.6M740.7,722.7l1.9,-4.3M724.0,743.7l3.4,-4.0M778.2,830.7l4.0,-0.2M742.3,834.2l-1.5,-2.3M746.0,802.5l5.3,-0.8M712.7,822.6l4.5,-1.8M627.1,782.8l5.6,2.7M630.4,803.2l4.0,1.0M718.5,821.2l4.5,2.9M763.9,830.5l2.5,-3.3M622.8,832.9l2.7,-3.1M680.2,788.1l0.0,4.6M676.9,789.1l-2.1,5.4M646.6,817.0l2.6,5.6M748.2,735.8l3.1,-3.4M631.2,835.0l-1.3,-3.8M714.9,787.8l2.7,2.8M784.5,816.0l4.5,-0.7M713.1,740.0l5.8,-0.0M695.2,775.0l0.5,4.1" stroke="#a8a8a8" stroke-width="1.1" opacity="0.55" fill="none" stroke-linecap="round"/>
<path d="M705.7,718.3a1.1,1.1 0 1,0 2.2,0a1.1,1.1 0 1,0 -2.2,0M780.8,787.2a0.7,0.7 0 1,0 1.4,0a0.7,0.7 0 1,0 -1.4,0M726.6,827.0a0.8,0.8 0 1,0 1.5,0a0.8,0.8 0 1,0 -1.5,0M755.0,837.0a1.0,1.0 0 1,0 2.0,0a1.0,1.0 0 1,0 -2.0,0M651.6,795.7a1.1,1.1 0 1,0 2.3,0a1.1,1.1 0 1,0 -2.3,0M688.9,812.8a1.4,1.4 0 1,0 2.7,0a1.4,1.4 0 1,0 -2.7,0M725.4,802.8a1.0,1.0 0 1,0 2.0,0a1.0,1.0 0 1,0 -2.0,0M657.6,748.0a1.2,1.2 0 1,0 2.4,0a1.2,1.2 0 1,0 -2.4,0M714.0,847.1a0.9,0.9 0 1,0 1.8,0a0.9,0.9 0 1,0 -1.8,0M716.8,766.5a0.8,0.8 0 1,0 1.6,0a0.8,0.8 0 1,0 -1.6,0M619.6,824.7a1.3,1.3 0 1,0 2.7,0a1.3,1.3 0 1,0 -2.7,0M654.4,822.4a1.0,1.0 0 1,0 2.0,0a1.0,1.0 0 1,0 -2.0,0M786.9,816.9a0.8,0.8 0 1,0 1.7,0a0.8,0.8 0 1,0 -1.7,0M727.3,829.5a1.3,1.3 0 1,0 2.7,0a1.3,1.3 0 1,0 -2.7,0M684.8,847.5a0.8,0.8 0 1,0 1.7,0a0.8,0.8 0 1,0 -1.7,0M770.4,836.6a0.8,0.8 0 1,0 1.5,0a0.8,0.8 0 1,0 -1.5,0M786.6,832.1a0.8,0.8 0 1,0 1.6,0a0.8,0.8 0 1,0 -1.6,0M718.9,817.0a1.3,1.3 0 1,0 2.5,0a1.3,1.3 0 1,0 -2.5,0M736.8,823.9a0.7,0.7 0 1,0 1.4,0a0.7,0.7 0 1,0 -1.4,0M745.7,781.6a1.1,1.1 0 1,0 2.2,0a1.1,1.1 0 1,0 -2.2,0M704.7,840.6a0.7,0.7 0 1,0 1.4,0a0.7,0.7 0 1,0 -1.4,0M684.0,734.9a0.8,0.8 0 1,0 1.5,0a0.8,0.8 0 1,0 -1.5,0M782.5,763.2a0.9,0.9 0 1,0 1.7,0a0.9,0.9 0 1,0 -1.7,0M666.5,803.6a1.2,1.2 0 1,0 2.3,0a1.2,1.2 0 1,0 -2.3,0M729.6,731.6a1.1,1.1 0 1,0 2.2,0a1.1,1.1 0 1,0 -2.2,0M629.9,752.0a1.2,1.2 0 1,0 2.5,0a1.2,1.2 0 1,0 -2.5,0M761.3,813.0a0.7,0.7 0 1,0 1.5,0a0.7,0.7 0 1,0 -1.5,0M625.8,748.9a1.1,1.1 0 1,0 2.2,0a1.1,1.1 0 1,0 -2.2,0M677.4,733.6a1.3,1.3 0 1,0 2.5,0a1.3,1.3 0 1,0 -2.5,0M740.3,721.0a1.0,1.0 0 1,0 2.0,0a1.0,1.0 0 1,0 -2.0,0M653.2,824.5a1.0,1.0 0 1,0 1.9,0a1.0,1.0 0 1,0 -1.9,0M659.6,817.7a0.8,0.8 0 1,0 1.7,0a0.8,0.8 0 1,0 -1.7,0M651.4,796.9a1.1,1.1 0 1,0 2.1,0a1.1,1.1 0 1,0 -2.1,0M698.3,732.9a1.4,1.4 0 1,0 2.7,0a1.4,1.4 0 1,0 -2.7,0M714.6,805.7a0.9,0.9 0 1,0 1.8,0a0.9,0.9 0 1,0 -1.8,0M646.1,775.6a1.3,1.3 0 1,0 2.6,0a1.3,1.3 0 1,0 -2.6,0M774.0,720.4a1.0,1.0 0 1,0 2.1,0a1.0,1.0 0 1,0 -2.1,0M659.1,835.5a1.1,1.1 0 1,0 2.2,0a1.1,1.1 0 1,0 -2.2,0M768.9,841.8a0.9,0.9 0 1,0 1.8,0a0.9,0.9 0 1,0 -1.8,0M690.8,731.5a0.8,0.8 0 1,0 1.7,0a0.8,0.8 0 1,0 -1.7,0M711.6,820.8a0.9,0.9 0 1,0 1.7,0a0.9,0.9 0 1,0 -1.7,0M689.4,722.7a0.8,0.8 0 1,0 1.6,0a0.8,0.8 0 1,0 -1.6,0M774.8,758.2a1.3,1.3 0 1,0 2.6,0a1.3,1.3 0 1,0 -2.6,0M776.9,733.3a1.4,1.4 0 1,0 2.8,0a1.4,1.4 0 1,0 -2.8,0M646.9,836.4a1.3,1.3 0 1,0 2.5,0a1.3,1.3 0 1,0 -2.5,0" stroke="#e0e0e0" stroke-width="0.9" fill="none" opacity="0.7"/>
<path d="M789.7,823.7a1.2,1.2 0 1,0 2.4,0a1.2,1.2 0 1,0 -2.4,0M768.9,738.4a1.7,1.7 0 1,0 3.4,0a1.7,1.7 0 1,0 -3.4,0M732.3,782.4a0.8,0.8 0 1,0 1.7,0a0.8,0.8 0 1,0 -1.7,0M664.6,817.7a1.1,1.1 0 1,0 2.1,0a1.1,1.1 0 1,0 -2.1,0M611.5,791.2a1.2,1.2 0 1,0 2.3,0a1.2,1.2 0 1,0 -2.3,0M773.4,753.1a1.7,1.7 0 1,0 3.5,0a1.7,1.7 0 1,0 -3.5,0M701.1,850.4a1.6,1.6 0 1,0 3.3,0a1.6,1.6 0 1,0 -3.3,0M733.6,781.2a1.0,1.0 0 1,0 2.1,0a1.0,1.0 0 1,0 -2.1,0M611.4,758.3a2.0,2.0 0 1,0 3.9,0a2.0,2.0 0 1,0 -3.9,0M634.0,767.0a1.2,1.2 0 1,0 2.3,0a1.2,1.2 0 1,0 -2.3,0M773.4,834.7a1.7,1.7 0 1,0 3.4,0a1.7,1.7 0 1,0 -3.4,0M687.4,801.3a1.7,1.7 0 1,0 3.5,0a1.7,1.7 0 1,0 -3.5,0M616.7,821.3a0.9,0.9 0 1,0 1.8,0a0.9,0.9 0 1,0 -1.8,0M706.1,814.9a1.0,1.0 0 1,0 1.9,0a1.0,1.0 0 1,0 -1.9,0M630.2,840.1a1.4,1.4 0 1,0 2.7,0a1.4,1.4 0 1,0 -2.7,0M660.3,838.1a1.1,1.1 0 1,0 2.2,0a1.1,1.1 0 1,0 -2.2,0M744.0,781.0a2.0,2.0 0 1,0 3.9,0a2.0,2.0 0 1,0 -3.9,0M728.9,801.8a1.7,1.7 0 1,0 3.5,0a1.7,1.7 0 1,0 -3.5,0M726.9,837.4a1.3,1.3 0 1,0 2.6,0a1.3,1.3 0 1,0 -2.6,0M696.5,766.9a0.8,0.8 0 1,0 1.6,0a0.8,0.8 0 1,0 -1.6,0M669.8,757.2a1.0,1.0 0 1,0 2.1,0a1.0,1.0 0 1,0 -2.1,0M686.2,814.1a1.4,1.4 0 1,0 2.8,0a1.4,1.4 0 1,0 -2.8,0M740.6,737.8a1.7,1.7 0 1,0 3.3,0a1.7,1.7 0 1,0 -3.3,0M645.4,805.3a1.4,1.4 0 1,0 2.7,0a1.4,1.4 0 1,0 -2.7,0M613.8,723.4a2.0,2.0 0 1,0 3.9,0a2.0,2.0 0 1,0 -3.9,0M646.5,818.1a1.9,1.9 0 1,0 3.8,0a1.9,1.9 0 1,0 -3.8,0M734.5,775.6a2.0,2.0 0 1,0 3.9,0a2.0,2.0 0 1,0 -3.9,0M780.5,749.5a1.8,1.8 0 1,0 3.7,0a1.8,1.8 0 1,0 -3.7,0M779.9,719.4a1.7,1.7 0 1,0 3.5,0a1.7,1.7 0 1,0 -3.5,0M658.2,758.3a1.2,1.2 0 1,0 2.4,0a1.2,1.2 0 1,0 -2.4,0M746.6,816.6a1.5,1.5 0 1,0 2.9,0a1.5,1.5 0 1,0 -2.9,0M687.8,734.6a1.5,1.5 0 1,0 3.1,0a1.5,1.5 0 1,0 -3.1,0M678.1,773.2a1.2,1.2 0 1,0 2.4,0a1.2,1.2 0 1,0 -2.4,0M683.2,721.7a1.5,1.5 0 1,0 3.0,0a1.5,1.5 0 1,0 -3.0,0M663.3,741.0a1.2,1.2 0 1,0 2.4,0a1.2,1.2 0 1,0 -2.4,0M702.4,788.3a1.8,1.8 0 1,0 3.5,0a1.8,1.8 0 1,0 -3.5,0M634.4,817.7a1.6,1.6 0 1,0 3.3,0a1.6,1.6 0 1,0 -3.3,0M612.9,809.8a1.8,1.8 0 1,0 3.7,0a1.8,1.8 0 1,0 -3.7,0M629.1,741.5a2.0,2.0 0 1,0 4.0,0a2.0,2.0 0 1,0 -4.0,0M677.6,721.1a1.3,1.3 0 1,0 2.6,0a1.3,1.3 0 1,0 -2.6,0" fill="#c8c8c8" opacity="0.75" filter="url(#blur04)"/>
</g>
<path d="M741.4,831.4 H784.2" stroke="#c8c8c8" stroke-width="1"/>
</svg></body></html>
